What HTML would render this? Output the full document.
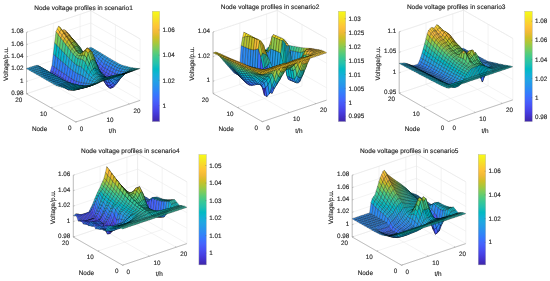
<!DOCTYPE html>
<html><head><meta charset="utf-8"><style>html,body{margin:0;padding:0;background:#fff;width:550px;height:281px;overflow:hidden}svg{display:block}text{text-rendering:geometricPrecision}</style></head>
<body><svg width="550" height="281" viewBox="0 0 550 281">
<rect width="550" height="281" fill="#fff"/>
<path d="M75.8,122L26.5,93.8M26.5,93.8L26.5,32.3M102.6,113L53.3,84.8M53.3,84.8L53.3,23.3M129.4,104L80.1,75.8M80.1,75.8L80.1,14.3M75.8,122L140.1,100.4M140.1,100.4L140.1,38.9M51.1,107.9L115.4,86.3M115.4,86.3L115.4,24.8M26.5,93.8L90.8,72.2M90.8,72.2L90.8,10.7M26.5,93.8L90.8,72.2M140.1,100.4L90.8,72.2M26.5,81.5L90.8,59.9M140.1,88.1L90.8,59.9M26.5,69.2L90.8,47.6M140.1,75.8L90.8,47.6M26.5,56.9L90.8,35.3M140.1,63.5L90.8,35.3M26.5,44.6L90.8,23M140.1,51.2L90.8,23M26.5,32.3L90.8,10.7M140.1,38.9L90.8,10.7M90.8,72.2L90.8,10.7M26.5,32.3L90.8,10.7M140.1,38.9L90.8,10.7" stroke="#e6e6e6" stroke-width="0.5" fill="none"/>
<path d="M75.8,122L140.1,100.4M75.8,122L26.5,93.8M26.5,93.8L26.5,32.3M75.8,122L74.8,121.4M102.6,113L101.6,112.4M129.4,104L128.4,103.4M75.8,122L77.1,121.6M51.1,107.9L52.4,107.5M26.5,93.8L27.8,93.4M26.5,93.8L27.8,93.4M26.5,81.5L27.8,81.1M26.5,69.2L27.8,68.8M26.5,56.9L27.8,56.5M26.5,44.6L27.8,44.2M26.5,32.3L27.8,31.9" stroke="#9a9a9a" stroke-width="0.6" fill="none"/>
<g stroke="#000" stroke-width="0.3" stroke-opacity="0.85" stroke-linejoin="round"><path d="M91.9,49.4L93.3,48.6L90.8,47.2L89.5,48Z" fill="#20a5e3"/><path d="M90.6,50.5L91.9,49.4L89.5,48L88.1,49.1Z" fill="#23a0e5"/><path d="M89.2,52L90.6,50.5L88.1,49.1L86.8,50.6Z" fill="#259be8"/><path d="M86.6,55.8L87.9,53.9L85.4,52.5L84.1,54.3Z" fill="#2e87f7"/><path d="M87.9,53.9L89.2,52L86.8,50.6L85.4,52.5Z" fill="#2b91ef"/><path d="M85.2,57.2L86.6,55.8L84.1,54.3L82.8,55.8Z" fill="#2f81fa"/><path d="M83.9,56.7L85.2,57.2L82.8,55.8L81.4,55.2Z" fill="#2e87f7"/><path d="M94.4,50.8L95.7,50.1L93.3,48.6L91.9,49.4Z" fill="#20a5e3"/><path d="M93.1,51.9L94.4,50.8L91.9,49.4L90.6,50.5Z" fill="#23a0e5"/><path d="M82.5,55.9L83.9,56.7L81.4,55.2L80.1,54.3Z" fill="#2b91ef"/><path d="M91.7,53.4L93.1,51.9L90.6,50.5L89.2,52Z" fill="#259be8"/><path d="M89,57.2L90.4,55.3L87.9,53.9L86.6,55.8Z" fill="#2e87f7"/><path d="M90.4,55.3L91.7,53.4L89.2,52L87.9,53.9Z" fill="#2b91ef"/><path d="M87.7,58.6L89,57.2L86.6,55.8L85.2,57.2Z" fill="#2f81fa"/><path d="M86.4,58.3L87.7,58.6L85.2,57.2L83.9,56.7Z" fill="#2e87f7"/><path d="M81.2,54.8L82.5,55.9L80.1,54.3L78.7,53Z" fill="#259be8"/><path d="M96.9,52.2L98.2,51.5L95.7,50.1L94.4,50.8Z" fill="#20a5e3"/><path d="M95.5,53.3L96.9,52.2L94.4,50.8L93.1,51.9Z" fill="#23a0e5"/><path d="M85,57.5L86.4,58.3L83.9,56.7L82.5,55.9Z" fill="#2d8cf3"/><path d="M94.2,54.8L95.5,53.3L93.1,51.9L91.7,53.4Z" fill="#259be8"/><path d="M91.5,58.6L92.8,56.7L90.4,55.3L89,57.2Z" fill="#2e87f7"/><path d="M92.8,56.7L94.2,54.8L91.7,53.4L90.4,55.3Z" fill="#2b91ef"/><path d="M90.2,60L91.5,58.6L89,57.2L87.7,58.6Z" fill="#2f81fa"/><path d="M88.8,59.8L90.2,60L87.7,58.6L86.4,58.3Z" fill="#2e87f7"/><path d="M79.9,53.4L81.2,54.8L78.7,53L77.4,51.6Z" fill="#20a5e3"/><path d="M83.7,56.5L85,57.5L82.5,55.9L81.2,54.8Z" fill="#2797eb"/><path d="M99.3,53.6L100.7,52.9L98.2,51.5L96.9,52.2Z" fill="#20a5e3"/><path d="M87.5,59.1L88.8,59.8L86.4,58.3L85,57.5Z" fill="#2d8cf3"/><path d="M98,54.7L99.3,53.6L96.9,52.2L95.5,53.3Z" fill="#23a0e5"/><path d="M96.6,56.2L98,54.7L95.5,53.3L94.2,54.8Z" fill="#259be8"/><path d="M94,60L95.3,58.1L92.8,56.7L91.5,58.6Z" fill="#2e87f7"/><path d="M95.3,58.1L96.6,56.2L94.2,54.8L92.8,56.7Z" fill="#2b91ef"/><path d="M92.6,61.5L94,60L91.5,58.6L90.2,60Z" fill="#2f81fa"/><path d="M78.5,51.7L79.9,53.4L77.4,51.6L76.1,49.8Z" fill="#18addb"/><path d="M82.3,55.2L83.7,56.5L81.2,54.8L79.9,53.4Z" fill="#23a0e5"/><path d="M91.3,61.3L92.6,61.5L90.2,60L88.8,59.8Z" fill="#2e87f7"/><path d="M86.1,58.2L87.5,59.1L85,57.5L83.7,56.5Z" fill="#2797eb"/><path d="M101.8,55.4L103.1,54.4L100.7,52.9L99.3,53.6Z" fill="#23a0e5"/><path d="M96.4,63.1L97.8,60.9L95.3,58.1L94,60Z" fill="#327cfc"/><path d="M95.1,64.8L96.4,63.1L94,60L92.6,61.5Z" fill="#3875fe"/><path d="M100.4,56.7L101.8,55.4L99.3,53.6L98,54.7Z" fill="#259be8"/><path d="M89.9,60.7L91.3,61.3L88.8,59.8L87.5,59.1Z" fill="#2d8cf3"/><path d="M97.8,60.9L99.1,58.6L96.6,56.2L95.3,58.1Z" fill="#2e87f7"/><path d="M99.1,58.6L100.4,56.7L98,54.7L96.6,56.2Z" fill="#2b91ef"/><path d="M81,53.6L82.3,55.2L79.9,53.4L78.5,51.7Z" fill="#18addb"/><path d="M93.7,64.8L95.1,64.8L92.6,61.5L91.3,61.3Z" fill="#3875fe"/><path d="M77.2,49.2L78.5,51.7L76.1,49.8L74.7,47.1Z" fill="#02bac3"/><path d="M84.8,57L86.1,58.2L83.7,56.5L82.3,55.2Z" fill="#23a0e5"/><path d="M97.6,68.1L98.9,66.3L96.4,63.1L95.1,64.8Z" fill="#4269fe"/><path d="M88.6,59.9L89.9,60.7L87.5,59.1L86.1,58.2Z" fill="#2b91ef"/><path d="M98.9,66.3L100.2,63.8L97.8,60.9L96.4,63.1Z" fill="#3e6fff"/><path d="M92.4,64.3L93.7,64.8L91.3,61.3L89.9,60.7Z" fill="#327cfc"/><path d="M104.3,57.1L105.6,56L103.1,54.4L101.8,55.4Z" fill="#23a0e5"/><path d="M100.2,63.8L101.6,61.1L99.1,58.6L97.8,60.9Z" fill="#2f81fa"/><path d="M96.2,68.2L97.6,68.1L95.1,64.8L93.7,64.8Z" fill="#4269fe"/><path d="M101.6,61.1L102.9,58.8L100.4,56.7L99.1,58.6Z" fill="#2d8cf3"/><path d="M102.9,58.8L104.3,57.1L101.8,55.4L100.4,56.7Z" fill="#2797eb"/><path d="M83.5,55.6L84.8,57L82.3,55.2L81,53.6Z" fill="#1ca9df"/><path d="M79.7,51.2L81,53.6L78.5,51.7L77.2,49.2Z" fill="#01b8ca"/><path d="M100,71.4L101.4,69.4L98.9,66.3L97.6,68.1Z" fill="#4758f8"/><path d="M94.9,68L96.2,68.2L93.7,64.8L92.4,64.3Z" fill="#3e6fff"/><path d="M101.4,69.4L102.7,66.6L100.2,63.8L98.9,66.3Z" fill="#4563fd"/><path d="M87.3,58.8L88.6,59.9L86.1,58.2L84.8,57Z" fill="#259be8"/><path d="M98.7,71.7L100,71.4L97.6,68.1L96.2,68.2Z" fill="#465efb"/><path d="M91.1,63.6L92.4,64.3L89.9,60.7L88.6,59.9Z" fill="#2e87f7"/><path d="M75.9,46.3L77.2,49.2L74.7,47.1L73.4,44.1Z" fill="#2cc4a7"/><path d="M102.7,66.6L104,63.5L101.6,61.1L100.2,63.8Z" fill="#3875fe"/><path d="M104,63.5L105.4,60.8L102.9,58.8L101.6,61.1Z" fill="#2e87f7"/><path d="M106.7,58.8L108.1,57.6L105.6,56L104.3,57.1Z" fill="#259be8"/><path d="M97.3,71.6L98.7,71.7L96.2,68.2L94.9,68Z" fill="#465efb"/><path d="M105.4,60.8L106.7,58.8L104.3,57.1L102.9,58.8Z" fill="#2797eb"/><path d="M93.5,67.4L94.9,68L92.4,64.3L91.1,63.6Z" fill="#3875fe"/><path d="M102.5,72.8L103.8,70.8L101.4,69.4L100,71.4Z" fill="#4758f8"/><path d="M89.7,62.7L91.1,63.6L88.6,59.9L87.3,58.8Z" fill="#2d8cf3"/><path d="M82.1,53.3L83.5,55.6L81,53.6L79.7,51.2Z" fill="#08b5d0"/><path d="M85.9,57.5L87.3,58.8L84.8,57L83.5,55.6Z" fill="#20a5e3"/><path d="M101.1,73.3L102.5,72.8L100,71.4L98.7,71.7Z" fill="#4758f8"/><path d="M103.8,70.8L105.2,68L102.7,66.6L101.4,69.4Z" fill="#4563fd"/><path d="M78.3,48.5L79.7,51.2L77.2,49.2L75.9,46.3Z" fill="#24c1ae"/><path d="M96,71.1L97.3,71.6L94.9,68L93.5,67.4Z" fill="#4563fd"/><path d="M105.2,68L106.5,64.9L104,63.5L102.7,66.6Z" fill="#3875fe"/><path d="M92.2,66.5L93.5,67.4L91.1,63.6L89.7,62.7Z" fill="#2f81fa"/><path d="M99.8,73.3L101.1,73.3L98.7,71.7L97.3,71.6Z" fill="#465efb"/><path d="M74.5,43.4L75.9,46.3L73.4,44.1L72,41.1Z" fill="#3fca8e"/><path d="M106.5,64.9L107.8,62.2L105.4,60.8L104,63.5Z" fill="#2e87f7"/><path d="M88.4,61.4L89.7,62.7L87.3,58.8L85.9,57.5Z" fill="#2797eb"/><path d="M109.2,60.3L110.5,59L108.1,57.6L106.7,58.8Z" fill="#259be8"/><path d="M107.8,62.2L109.2,60.3L106.7,58.8L105.4,60.8Z" fill="#2797eb"/><path d="M50.4,76.2L51.7,75.4L49.3,74L47.9,74.8Z" fill="#4852f4"/><path d="M51.7,75.4L53.1,72L50.6,70.4L49.3,74Z" fill="#4852f4"/><path d="M94.7,70.4L96,71.1L93.5,67.4L92.2,66.5Z" fill="#3e6fff"/><path d="M84.6,55.3L85.9,57.5L83.5,55.6L82.1,53.3Z" fill="#12b1d6"/><path d="M104.9,74.4L106.3,72.3L103.8,70.8L102.5,72.8Z" fill="#4758f8"/><path d="M98.5,73L99.8,73.3L97.3,71.6L96,71.1Z" fill="#4563fd"/><path d="M49.1,76.7L50.4,76.2L47.9,74.8L46.6,75.3Z" fill="#484df0"/><path d="M80.8,50.7L82.1,53.3L79.7,51.2L78.3,48.5Z" fill="#19bfb6"/><path d="M103.6,75.1L104.9,74.4L102.5,72.8L101.1,73.3Z" fill="#4758f8"/><path d="M106.3,72.3L107.6,69.5L105.2,68L103.8,70.8Z" fill="#4563fd"/><path d="M90.9,65.3L92.2,66.5L89.7,62.7L88.4,61.4Z" fill="#2e87f7"/><path d="M77,45.8L78.3,48.5L75.9,46.3L74.5,43.4Z" fill="#37c897"/><path d="M47.7,77.1L49.1,76.7L46.6,75.3L45.3,75.7Z" fill="#4852f4"/><path d="M107.6,69.5L109,66.3L106.5,64.9L105.2,68Z" fill="#3875fe"/><path d="M102.3,75.4L103.6,75.1L101.1,73.3L99.8,73.3Z" fill="#4758f8"/><path d="M53.1,72L54.4,67L52,65.3L50.6,70.4Z" fill="#4563fd"/><path d="M87,59.4L88.4,61.4L85.9,57.5L84.6,55.3Z" fill="#20a5e3"/><path d="M93.3,69.3L94.7,70.4L92.2,66.5L90.9,65.3Z" fill="#3875fe"/><path d="M97.1,72.3L98.5,73L96,71.1L94.7,70.4Z" fill="#4269fe"/><path d="M73.2,40.7L74.5,43.4L72,41.1L70.7,38.2Z" fill="#72cd64"/><path d="M109,66.3L110.3,63.6L107.8,62.2L106.5,64.9Z" fill="#2e87f7"/><path d="M46.4,77.2L47.7,77.1L45.3,75.7L43.9,75.8Z" fill="#4852f4"/><path d="M111.6,61.7L113,60.4L110.5,59L109.2,60.3Z" fill="#259be8"/><path d="M110.3,63.6L111.6,61.7L109.2,60.3L107.8,62.2Z" fill="#2797eb"/><path d="M52.9,77.6L54.2,76.8L51.7,75.4L50.4,76.2Z" fill="#4852f4"/><path d="M54.2,76.8L55.5,73.5L53.1,72L51.7,75.4Z" fill="#4852f4"/><path d="M100.9,75.2L102.3,75.4L99.8,73.3L98.5,73Z" fill="#465efb"/><path d="M83.2,52.9L84.6,55.3L82.1,53.3L80.8,50.7Z" fill="#0bbdbd"/><path d="M107.4,76.2L108.8,73.9L106.3,72.3L104.9,74.4Z" fill="#4758f8"/><path d="M89.5,63.5L90.9,65.3L88.4,61.4L87,59.4Z" fill="#2797eb"/><path d="M106.1,77.5L107.4,76.2L104.9,74.4L103.6,75.1Z" fill="#4852f4"/><path d="M51.5,78.1L52.9,77.6L50.4,76.2L49.1,76.7Z" fill="#484df0"/><path d="M108.8,73.9L110.1,70.9L107.6,69.5L106.3,72.3Z" fill="#4563fd"/><path d="M79.4,48.1L80.8,50.7L78.3,48.5L77,45.8Z" fill="#31c69f"/><path d="M95.8,71.3L97.1,72.3L94.7,70.4L93.3,69.3Z" fill="#3875fe"/><path d="M104.7,78.3L106.1,77.5L103.6,75.1L102.3,75.4Z" fill="#484df0"/><path d="M45,76.5L46.4,77.2L43.9,75.8L42.6,75.1Z" fill="#4758f8"/><path d="M92,67.5L93.3,69.3L90.9,65.3L89.5,63.5Z" fill="#2e87f7"/><path d="M50.2,78.5L51.5,78.1L49.1,76.7L47.7,77.1Z" fill="#4852f4"/><path d="M110.1,70.9L111.4,67.8L109,66.3L107.6,69.5Z" fill="#3875fe"/><path d="M99.6,74.6L100.9,75.2L98.5,73L97.1,72.3Z" fill="#4563fd"/><path d="M75.6,43.2L77,45.8L74.5,43.4L73.2,40.7Z" fill="#64cd6f"/><path d="M55.5,73.5L56.9,68.6L54.4,67L53.1,72Z" fill="#4563fd"/><path d="M85.7,57.1L87,59.4L84.6,55.3L83.2,52.9Z" fill="#12b1d6"/><path d="M103.4,78.5L104.7,78.3L102.3,75.4L100.9,75.2Z" fill="#4852f4"/><path d="M111.4,67.8L112.8,65L110.3,63.6L109,66.3Z" fill="#2e87f7"/><path d="M71.8,38.3L73.2,40.7L70.7,38.2L69.4,35.6Z" fill="#9dc943"/><path d="M48.8,78.7L50.2,78.5L47.7,77.1L46.4,77.2Z" fill="#4852f4"/><path d="M114.1,63.1L115.4,61.8L113,60.4L111.6,61.7Z" fill="#259be8"/><path d="M112.8,65L114.1,63.1L111.6,61.7L110.3,63.6Z" fill="#2797eb"/><path d="M55.3,79L56.7,78.2L54.2,76.8L52.9,77.6Z" fill="#4852f4"/><path d="M108.5,79.8L109.9,77.8L107.4,76.2L106.1,77.5Z" fill="#484df0"/><path d="M56.7,78.2L58,75.1L55.5,73.5L54.2,76.8Z" fill="#4852f4"/><path d="M88.2,61.3L89.5,63.5L87,59.4L85.7,57.1Z" fill="#20a5e3"/><path d="M109.9,77.8L111.2,75.1L108.8,73.9L107.4,76.2Z" fill="#4852f4"/><path d="M107.2,81.5L108.5,79.8L106.1,77.5L104.7,78.3Z" fill="#4741e5"/><path d="M81.9,50.5L83.2,52.9L80.8,50.7L79.4,48.1Z" fill="#2cc4a7"/><path d="M54.4,67L55.8,56.2L53.3,54.1L52,65.3Z" fill="#2e87f7"/><path d="M94.4,69.6L95.8,71.3L93.3,69.3L92,67.5Z" fill="#2f81fa"/><path d="M98.2,73.6L99.6,74.6L97.1,72.3L95.8,71.3Z" fill="#3e6fff"/><path d="M54,79.5L55.3,79L52.9,77.6L51.5,78.1Z" fill="#484df0"/><path d="M102.1,77.9L103.4,78.5L100.9,75.2L99.6,74.6Z" fill="#4758f8"/><path d="M43.7,73.7L45,76.5L42.6,75.1L41.2,72.3Z" fill="#3e6fff"/><path d="M111.2,75.1L112.6,72.1L110.1,70.9L108.8,73.9Z" fill="#4563fd"/><path d="M105.9,82.3L107.2,81.5L104.7,78.3L103.4,78.5Z" fill="#4741e5"/><path d="M78.1,45.7L79.4,48.1L77,45.8L75.6,43.2Z" fill="#57cc7a"/><path d="M90.6,65.5L92,67.5L89.5,63.5L88.2,61.3Z" fill="#2797eb"/><path d="M47.5,77.9L48.8,78.7L46.4,77.2L45,76.5Z" fill="#4758f8"/><path d="M58,75.1L59.3,70.3L56.9,68.6L55.5,73.5Z" fill="#4563fd"/><path d="M52.6,79.9L54,79.5L51.5,78.1L50.2,78.5Z" fill="#4852f4"/><path d="M112.6,72.1L113.9,69L111.4,67.8L110.1,70.9Z" fill="#3875fe"/><path d="M74.3,40.9L75.6,43.2L73.2,40.7L71.8,38.3Z" fill="#8fcb4e"/><path d="M84.4,54.8L85.7,57.1L83.2,52.9L81.9,50.5Z" fill="#0bbdbd"/><path d="M104.5,81.8L105.9,82.3L103.4,78.5L102.1,77.9Z" fill="#4747eb"/><path d="M109.7,84.9L111,82.3L108.5,79.8L107.2,81.5Z" fill="#4537d5"/><path d="M108.3,86.4L109.7,84.9L107.2,81.5L105.9,82.3Z" fill="#4332cb"/><path d="M70.5,36.4L71.8,38.3L69.4,35.6L68,33.6Z" fill="#c5c22a"/><path d="M111,82.3L112.3,79.5L109.9,77.8L108.5,79.8Z" fill="#4741e5"/><path d="M113.9,69L115.2,66.3L112.8,65L111.4,67.8Z" fill="#2e87f7"/><path d="M100.7,76.7L102.1,77.9L99.6,74.6L98.2,73.6Z" fill="#4563fd"/><path d="M51.3,80.1L52.6,79.9L50.2,78.5L48.8,78.7Z" fill="#4852f4"/><path d="M116.6,64.4L117.9,63.2L115.4,61.8L114.1,63.1Z" fill="#23a0e5"/><path d="M96.9,71.9L98.2,73.6L95.8,71.3L94.4,69.6Z" fill="#327cfc"/><path d="M57.8,80.4L59.1,79.6L56.7,78.2L55.3,79Z" fill="#4852f4"/><path d="M115.2,66.3L116.6,64.4L114.1,63.1L112.8,65Z" fill="#2797eb"/><path d="M93.1,67.7L94.4,69.6L92,67.5L90.6,65.5Z" fill="#2b91ef"/><path d="M86.8,59.1L88.2,61.3L85.7,57.1L84.4,54.8Z" fill="#12b1d6"/><path d="M56.9,68.6L58.2,58.2L55.8,56.2L54.4,67Z" fill="#2f81fa"/><path d="M59.1,79.6L60.5,76.6L58,75.1L56.7,78.2Z" fill="#4852f4"/><path d="M112.3,79.5L113.7,76.4L111.2,75.1L109.9,77.8Z" fill="#4852f4"/><path d="M80.6,48.2L81.9,50.5L79.4,48.1L78.1,45.7Z" fill="#3fca8e"/><path d="M107,86L108.3,86.4L105.9,82.3L104.5,81.8Z" fill="#4537d5"/><path d="M56.5,80.9L57.8,80.4L55.3,79L54,79.5Z" fill="#484df0"/><path d="M46.2,75.1L47.5,77.9L45,76.5L43.7,73.7Z" fill="#3e6fff"/><path d="M89.3,63.4L90.6,65.5L88.2,61.3L86.8,59.1Z" fill="#20a5e3"/><path d="M76.8,43.6L78.1,45.7L75.6,43.2L74.3,40.9Z" fill="#81cc59"/><path d="M113.7,76.4L115,73.3L112.6,72.1L111.2,75.1Z" fill="#4563fd"/><path d="M103.2,80.1L104.5,81.8L102.1,77.9L100.7,76.7Z" fill="#4852f4"/><path d="M50,79.3L51.3,80.1L48.8,78.7L47.5,77.9Z" fill="#4758f8"/><path d="M110.8,88.3L112.1,86.4L109.7,84.9L108.3,86.4Z" fill="#422ec0"/><path d="M60.5,76.6L61.8,72L59.3,70.3L58,75.1Z" fill="#4563fd"/><path d="M42.4,69.5L43.7,73.7L41.2,72.3L39.9,68.1Z" fill="#2b91ef"/><path d="M73,39.2L74.3,40.9L71.8,38.3L70.5,36.4Z" fill="#b9c431"/><path d="M55.1,81.3L56.5,80.9L54,79.5L52.6,79.9Z" fill="#4852f4"/><path d="M112.1,86.4L113.5,83.3L111,82.3L109.7,84.9Z" fill="#4537d5"/><path d="M83,52.7L84.4,54.8L81.9,50.5L80.6,48.2Z" fill="#2cc4a7"/><path d="M115,73.3L116.4,70.2L113.9,69L112.6,72.1Z" fill="#3875fe"/><path d="M99.4,74.7L100.7,76.7L98.2,73.6L96.9,71.9Z" fill="#3875fe"/><path d="M69.2,34.8L70.5,36.4L68,33.6L66.7,31.9Z" fill="#e6bb2d"/><path d="M109.4,87.9L110.8,88.3L108.3,86.4L107,86Z" fill="#4332cb"/><path d="M95.6,70L96.9,71.9L94.4,69.6L93.1,67.7Z" fill="#2d8cf3"/><path d="M105.6,83.8L107,86L104.5,81.8L103.2,80.1Z" fill="#4747eb"/><path d="M113.5,83.3L114.8,80.1L112.3,79.5L111,82.3Z" fill="#4747eb"/><path d="M91.8,65.7L93.1,67.7L90.6,65.5L89.3,63.4Z" fill="#23a0e5"/><path d="M116.4,70.2L117.7,67.6L115.2,66.3L113.9,69Z" fill="#2e87f7"/><path d="M59.3,70.3L60.7,60.3L58.2,58.2L56.9,68.6Z" fill="#2f81fa"/><path d="M53.8,81.5L55.1,81.3L52.6,79.9L51.3,80.1Z" fill="#4852f4"/><path d="M85.5,57.1L86.8,59.1L84.4,54.8L83,52.7Z" fill="#02bac3"/><path d="M119,65.8L120.4,64.6L117.9,63.2L116.6,64.4Z" fill="#23a0e5"/><path d="M60.3,81.8L61.6,81L59.1,79.6L57.8,80.4Z" fill="#4852f4"/><path d="M61.6,81L62.9,78.1L60.5,76.6L59.1,79.6Z" fill="#4852f4"/><path d="M117.7,67.6L119,65.8L116.6,64.4L115.2,66.3Z" fill="#2797eb"/><path d="M79.2,46.2L80.6,48.2L78.1,45.7L76.8,43.6Z" fill="#64cd6f"/><path d="M114.8,80.1L116.1,76.9L113.7,76.4L112.3,79.5Z" fill="#4758f8"/><path d="M75.4,42L76.8,43.6L74.3,40.9L73,39.2Z" fill="#9dc943"/><path d="M88,61.5L89.3,63.4L86.8,59.1L85.5,57.1Z" fill="#12b1d6"/><path d="M58.9,82.4L60.3,81.8L57.8,80.4L56.5,80.9Z" fill="#484df0"/><path d="M48.6,76.5L50,79.3L47.5,77.9L46.2,75.1Z" fill="#3e6fff"/><path d="M101.8,77.5L103.2,80.1L100.7,76.7L99.4,74.7Z" fill="#4269fe"/><path d="M55.8,56.2L57.1,45.3L54.6,42.7L53.3,54.1Z" fill="#02bac3"/><path d="M71.6,37.7L73,39.2L70.5,36.4L69.2,34.8Z" fill="#d1bf27"/><path d="M52.4,80.7L53.8,81.5L51.3,80.1L50,79.3Z" fill="#4758f8"/><path d="M62.9,78.1L64.3,73.6L61.8,72L60.5,76.6Z" fill="#4563fd"/><path d="M116.1,76.9L117.5,73.8L115,73.3L113.7,76.4Z" fill="#4269fe"/><path d="M108.1,85.6L109.4,87.9L107,86L105.6,83.8Z" fill="#4741e5"/><path d="M67.8,33.2L69.2,34.8L66.7,31.9L65.3,30.2Z" fill="#f8ba3d"/><path d="M44.8,70.9L46.2,75.1L43.7,73.7L42.4,69.5Z" fill="#2b91ef"/><path d="M81.7,50.8L83,52.7L80.6,48.2L79.2,46.2Z" fill="#37c897"/><path d="M98,72.5L99.4,74.7L96.9,71.9L95.6,70Z" fill="#2e87f7"/><path d="M57.6,82.8L58.9,82.4L56.5,80.9L55.1,81.3Z" fill="#4852f4"/><path d="M94.2,68L95.6,70L93.1,67.7L91.8,65.7Z" fill="#259be8"/><path d="M41,67.2L42.4,69.5L39.9,68.1L38.6,65.8Z" fill="#23a0e5"/><path d="M113.3,87.2L114.6,85.5L112.1,86.4L110.8,88.3Z" fill="#463cde"/><path d="M90.4,63.9L91.8,65.7L89.3,63.4L88,61.5Z" fill="#18addb"/><path d="M117.5,73.8L118.8,70.8L116.4,70.2L115,73.3Z" fill="#327cfc"/><path d="M61.8,72L63.2,62.4L60.7,60.3L59.3,70.3Z" fill="#2f81fa"/><path d="M84.2,55.3L85.5,57.1L83,52.7L81.7,50.8Z" fill="#24c1ae"/><path d="M104.3,80.5L105.6,83.8L103.2,80.1L101.8,77.5Z" fill="#465efb"/><path d="M114.6,85.5L115.9,82.8L113.5,83.3L112.1,86.4Z" fill="#4741e5"/><path d="M77.9,44.8L79.2,46.2L76.8,43.6L75.4,42Z" fill="#81cc59"/><path d="M56.2,82.9L57.6,82.8L55.1,81.3L53.8,81.5Z" fill="#4852f4"/><path d="M111.9,87L113.3,87.2L110.8,88.3L109.4,87.9Z" fill="#4741e5"/><path d="M62.7,83.2L64.1,82.4L61.6,81L60.3,81.8Z" fill="#4852f4"/><path d="M64.1,82.4L65.4,79.7L62.9,78.1L61.6,81Z" fill="#4852f4"/><path d="M74.1,40.6L75.4,42L73,39.2L71.6,37.7Z" fill="#b9c431"/><path d="M118.8,70.8L120.2,68.3L117.7,67.6L116.4,70.2Z" fill="#2d8cf3"/><path d="M121.5,66.5L122.8,65.4L120.4,64.6L119,65.8Z" fill="#23a0e5"/><path d="M58.2,58.2L59.6,47.9L57.1,45.3L55.8,56.2Z" fill="#01b8ca"/><path d="M120.2,68.3L121.5,66.5L119,65.8L117.7,67.6Z" fill="#259be8"/><path d="M86.6,59.8L88,61.5L85.5,57.1L84.2,55.3Z" fill="#01b8ca"/><path d="M115.9,82.8L117.3,79.9L114.8,80.1L113.5,83.3Z" fill="#4852f4"/><path d="M70.3,36.3L71.6,37.7L69.2,34.8L67.8,33.2Z" fill="#e6bb2d"/><path d="M66.5,32.6L67.8,33.2L65.3,30.2L64,29.5Z" fill="#febe3c"/><path d="M61.4,83.8L62.7,83.2L60.3,81.8L58.9,82.4Z" fill="#484df0"/><path d="M100.5,74.9L101.8,77.5L99.4,74.7L98,72.5Z" fill="#2f81fa"/><path d="M51.1,77.9L52.4,80.7L50,79.3L48.6,76.5Z" fill="#3e6fff"/><path d="M80.4,49.4L81.7,50.8L79.2,46.2L77.9,44.8Z" fill="#57cc7a"/><path d="M65.4,79.7L66.7,75.3L64.3,73.6L62.9,78.1Z" fill="#4563fd"/><path d="M54.9,82.2L56.2,82.9L53.8,81.5L52.4,80.7Z" fill="#4758f8"/><path d="M117.3,79.9L118.6,77L116.1,76.9L114.8,80.1Z" fill="#4563fd"/><path d="M96.7,70.4L98,72.5L95.6,70L94.2,68Z" fill="#2797eb"/><path d="M39.7,66.7L41,67.2L38.6,65.8L37.2,65.3Z" fill="#20a5e3"/><path d="M47.3,72.3L48.6,76.5L46.2,75.1L44.8,70.9Z" fill="#2b91ef"/><path d="M92.9,66.2L94.2,68L91.8,65.7L90.4,63.9Z" fill="#20a5e3"/><path d="M60,84.2L61.4,83.8L58.9,82.4L57.6,82.8Z" fill="#4852f4"/><path d="M106.8,82.1L108.1,85.6L105.6,83.8L104.3,80.5Z" fill="#465efb"/><path d="M89.1,62.3L90.4,63.9L88,61.5L86.6,59.8Z" fill="#08b5d0"/><path d="M82.8,53.9L84.2,55.3L81.7,50.8L80.4,49.4Z" fill="#31c69f"/><path d="M65.1,33.2L66.5,32.6L64,29.5L62.7,30.1Z" fill="#febe3c"/><path d="M76.5,43.5L77.9,44.8L75.4,42L74.1,40.6Z" fill="#9dc943"/><path d="M64.3,73.6L65.6,64.6L63.2,62.4L61.8,72Z" fill="#2f81fa"/><path d="M110.6,85.1L111.9,87L109.4,87.9L108.1,85.6Z" fill="#4852f4"/><path d="M43.5,68.6L44.8,70.9L42.4,69.5L41,67.2Z" fill="#23a0e5"/><path d="M118.6,77L120,74.1L117.5,73.8L116.1,76.9Z" fill="#3875fe"/><path d="M72.7,39.3L74.1,40.6L71.6,37.7L70.3,36.3Z" fill="#d1bf27"/><path d="M68.9,35.7L70.3,36.3L67.8,33.2L66.5,32.6Z" fill="#f0ba36"/><path d="M60.7,60.3L62,50.5L59.6,47.9L58.2,58.2Z" fill="#08b5d0"/><path d="M63.8,33.9L65.1,33.2L62.7,30.1L61.3,30.8Z" fill="#febe3c"/><path d="M85.3,58.4L86.6,59.8L84.2,55.3L82.8,53.9Z" fill="#0bbdbd"/><path d="M58.7,84.3L60,84.2L57.6,82.8L56.2,82.9Z" fill="#4852f4"/><path d="M38.3,66.9L39.7,66.7L37.2,65.3L35.9,65.5Z" fill="#20a5e3"/><path d="M66.5,83.9L67.9,81.2L65.4,79.7L64.1,82.4Z" fill="#4852f4"/><path d="M103,77.4L104.3,80.5L101.8,77.5L100.5,74.9Z" fill="#3875fe"/><path d="M65.2,84.7L66.5,83.9L64.1,82.4L62.7,83.2Z" fill="#4852f4"/><path d="M120,74.1L121.3,71.3L118.8,70.8L117.5,73.8Z" fill="#2e87f7"/><path d="M79,48.1L80.4,49.4L77.9,44.8L76.5,43.5Z" fill="#72cd64"/><path d="M124,67.3L125.3,66.1L122.8,65.4L121.5,66.5Z" fill="#20a5e3"/><path d="M121.3,71.3L122.6,69L120.2,68.3L118.8,70.8Z" fill="#2b91ef"/><path d="M67.6,36.3L68.9,35.7L66.5,32.6L65.1,33.2Z" fill="#f0ba36"/><path d="M99.2,72.5L100.5,74.9L98,72.5L96.7,70.4Z" fill="#2b91ef"/><path d="M63.8,85.2L65.2,84.7L62.7,83.2L61.4,83.8Z" fill="#484df0"/><path d="M122.6,69L124,67.3L121.5,66.5L120.2,68.3Z" fill="#23a0e5"/><path d="M53.6,79.3L54.9,82.2L52.4,80.7L51.1,77.9Z" fill="#3e6fff"/><path d="M37,67.3L38.3,66.9L35.9,65.5L34.5,65.9Z" fill="#20a5e3"/><path d="M95.4,68.4L96.7,70.4L94.2,68L92.9,66.2Z" fill="#20a5e3"/><path d="M67.9,81.2L69.2,77L66.7,75.3L65.4,79.7Z" fill="#4563fd"/><path d="M81.5,52.6L82.8,53.9L80.4,49.4L79,48.1Z" fill="#3fca8e"/><path d="M75.2,42.3L76.5,43.5L74.1,40.6L72.7,39.3Z" fill="#b9c431"/><path d="M91.6,64.5L92.9,66.2L90.4,63.9L89.1,62.3Z" fill="#12b1d6"/><path d="M87.7,60.9L89.1,62.3L86.6,59.8L85.3,58.4Z" fill="#02bac3"/><path d="M71.4,38.8L72.7,39.3L70.3,36.3L68.9,35.7Z" fill="#dcbd29"/><path d="M57.4,83.6L58.7,84.3L56.2,82.9L54.9,82.2Z" fill="#4758f8"/><path d="M57.1,45.3L58.4,34.8L56,31.6L54.6,42.7Z" fill="#81cc59"/><path d="M42.1,68.1L43.5,68.6L41,67.2L39.7,66.7Z" fill="#20a5e3"/><path d="M115.7,84.4L117.1,83.2L114.6,85.5L113.3,87.2Z" fill="#4758f8"/><path d="M66.3,37L67.6,36.3L65.1,33.2L63.8,33.9Z" fill="#f0ba36"/><path d="M117.1,83.2L118.4,81.2L115.9,82.8L114.6,85.5Z" fill="#465efb"/><path d="M49.8,73.8L51.1,77.9L48.6,76.5L47.3,72.3Z" fill="#2b91ef"/><path d="M66.7,75.3L68.1,66.7L65.6,64.6L64.3,73.6Z" fill="#327cfc"/><path d="M62.5,85.6L63.8,85.2L61.4,83.8L60,84.2Z" fill="#4852f4"/><path d="M35.7,67.7L37,67.3L34.5,65.9L33.2,66.3Z" fill="#20a5e3"/><path d="M83.9,57.1L85.3,58.4L82.8,53.9L81.5,52.6Z" fill="#24c1ae"/><path d="M63.2,62.4L64.5,53.1L62,50.5L60.7,60.3Z" fill="#08b5d0"/><path d="M118.4,81.2L119.7,79.1L117.3,79.9L115.9,82.8Z" fill="#4269fe"/><path d="M62.5,30.6L63.8,33.9L61.3,30.8L60,27.2Z" fill="#fad62d"/><path d="M46,70L47.3,72.3L44.8,70.9L43.5,68.6Z" fill="#23a0e5"/><path d="M109.2,82.3L110.6,85.1L108.1,85.6L106.8,82.1Z" fill="#4563fd"/><path d="M114.4,84.4L115.7,84.4L113.3,87.2L111.9,87Z" fill="#4758f8"/><path d="M105.4,78.9L106.8,82.1L104.3,80.5L103,77.4Z" fill="#3875fe"/><path d="M119.7,79.1L121.1,76.8L118.6,77L117.3,79.9Z" fill="#3875fe"/><path d="M70.1,39.4L71.4,38.8L68.9,35.7L67.6,36.3Z" fill="#dcbd29"/><path d="M77.7,46.8L79,48.1L76.5,43.5L75.2,42.3Z" fill="#8fcb4e"/><path d="M61.2,85.7L62.5,85.6L60,84.2L58.7,84.3Z" fill="#4852f4"/><path d="M40.8,68.3L42.1,68.1L39.7,66.7L38.3,66.9Z" fill="#20a5e3"/><path d="M34.3,68.2L35.7,67.7L33.2,66.3L31.9,66.8Z" fill="#20a5e3"/><path d="M69,85.3L70.3,82.8L67.9,81.2L66.5,83.9Z" fill="#4852f4"/><path d="M67.7,86.1L69,85.3L66.5,83.9L65.2,84.7Z" fill="#4852f4"/><path d="M101.6,74.8L103,77.4L100.5,74.9L99.2,72.5Z" fill="#2d8cf3"/><path d="M73.9,41.9L75.2,42.3L72.7,39.3L71.4,38.8Z" fill="#c5c22a"/><path d="M121.1,76.8L122.4,74.4L120,74.1L118.6,77Z" fill="#2f81fa"/><path d="M68.7,40.1L70.1,39.4L67.6,36.3L66.3,37Z" fill="#dcbd29"/><path d="M80.1,51.3L81.5,52.6L79,48.1L77.7,46.8Z" fill="#57cc7a"/><path d="M59.6,47.9L60.9,38L58.4,34.8L57.1,45.3Z" fill="#72cd64"/><path d="M86.4,59.5L87.7,60.9L85.3,58.4L83.9,57.1Z" fill="#19bfb6"/><path d="M97.8,70.4L99.2,72.5L96.7,70.4L95.4,68.4Z" fill="#23a0e5"/><path d="M90.2,62.8L91.6,64.5L89.1,62.3L87.7,60.9Z" fill="#02bac3"/><path d="M94,66.3L95.4,68.4L92.9,66.2L91.6,64.5Z" fill="#12b1d6"/><path d="M122.4,74.4L123.8,71.8L121.3,71.3L120,74.1Z" fill="#2d8cf3"/><path d="M64.9,33.9L66.3,37L63.8,33.9L62.5,30.6Z" fill="#fec934"/><path d="M66.3,86.6L67.7,86.1L65.2,84.7L63.8,85.2Z" fill="#484df0"/><path d="M33,68.6L34.3,68.2L31.9,66.8L30.5,67.2Z" fill="#20a5e3"/><path d="M56,80.7L57.4,83.6L54.9,82.2L53.6,79.3Z" fill="#3e6fff"/><path d="M39.5,68.7L40.8,68.3L38.3,66.9L37,67.3Z" fill="#20a5e3"/><path d="M70.3,82.8L71.7,78.6L69.2,77L67.9,81.2Z" fill="#465efb"/><path d="M126.4,67.9L127.8,66.8L125.3,66.1L124,67.3Z" fill="#1ca9df"/><path d="M113,83.3L114.4,84.4L111.9,87L110.6,85.1Z" fill="#4563fd"/><path d="M123.8,71.8L125.1,69.6L122.6,69L121.3,71.3Z" fill="#2797eb"/><path d="M82.6,55.7L83.9,57.1L81.5,52.6L80.1,51.3Z" fill="#37c897"/><path d="M59.8,85L61.2,85.7L58.7,84.3L57.4,83.6Z" fill="#4758f8"/><path d="M65.6,64.6L67,55.7L64.5,53.1L63.2,62.4Z" fill="#12b1d6"/><path d="M125.1,69.6L126.4,67.9L124,67.3L122.6,69Z" fill="#20a5e3"/><path d="M72.5,42.5L73.9,41.9L71.4,38.8L70.1,39.4Z" fill="#c5c22a"/><path d="M69.2,77L70.5,68.8L68.1,66.7L66.7,75.3Z" fill="#327cfc"/><path d="M76.3,46.3L77.7,46.8L75.2,42.3L73.9,41.9Z" fill="#9dc943"/><path d="M44.6,69.5L46,70L43.5,68.6L42.1,68.1Z" fill="#20a5e3"/><path d="M52.2,75.2L53.6,79.3L51.1,77.9L49.8,73.8Z" fill="#2b91ef"/><path d="M65,87L66.3,86.6L63.8,85.2L62.5,85.6Z" fill="#4852f4"/><path d="M31.6,69.1L33,68.6L30.5,67.2L29.2,67.7Z" fill="#20a5e3"/><path d="M38.1,69.2L39.5,68.7L37,67.3L35.7,67.7Z" fill="#20a5e3"/><path d="M61.1,29.5L62.5,30.6L60,27.2L58.6,26.1Z" fill="#f5e327"/><path d="M58.4,34.8L59.8,32L57.3,28.7L56,31.6Z" fill="#fec338"/><path d="M71.2,43.1L72.5,42.5L70.1,39.4L68.7,40.1Z" fill="#c5c22a"/><path d="M48.4,71.4L49.8,73.8L47.3,72.3L46,70Z" fill="#23a0e5"/><path d="M78.8,50.6L80.1,51.3L77.7,46.8L76.3,46.3Z" fill="#64cd6f"/><path d="M62,50.5L63.4,41.2L60.9,38L59.6,47.9Z" fill="#57cc7a"/><path d="M67.4,37.2L68.7,40.1L66.3,37L64.9,33.9Z" fill="#febe3c"/><path d="M107.9,79.7L109.2,82.3L106.8,82.1L105.4,78.9Z" fill="#327cfc"/><path d="M104.1,76.5L105.4,78.9L103,77.4L101.6,74.8Z" fill="#2d8cf3"/><path d="M59.8,32L61.1,29.5L58.6,26.1L57.3,28.7Z" fill="#fad62d"/><path d="M30.3,69.5L31.6,69.1L29.2,67.7L27.8,68.1Z" fill="#20a5e3"/><path d="M75,46.6L76.3,46.3L73.9,41.9L72.5,42.5Z" fill="#9dc943"/><path d="M63.6,87.1L65,87L62.5,85.6L61.2,85.7Z" fill="#4852f4"/><path d="M85.1,57.9L86.4,59.5L83.9,57.1L82.6,55.7Z" fill="#31c69f"/><path d="M43.3,69.7L44.6,69.5L42.1,68.1L40.8,68.3Z" fill="#20a5e3"/><path d="M71.5,86.7L72.8,84.2L70.3,82.8L69,85.3Z" fill="#4852f4"/><path d="M36.8,69.6L38.1,69.2L35.7,67.7L34.3,68.2Z" fill="#20a5e3"/><path d="M70.1,87.5L71.5,86.7L69,85.3L67.7,86.1Z" fill="#4852f4"/><path d="M100.3,72.8L101.6,74.8L99.2,72.5L97.8,70.4Z" fill="#259be8"/><path d="M88.9,60.9L90.2,62.8L87.7,60.9L86.4,59.5Z" fill="#19bfb6"/><path d="M81.3,54.7L82.6,55.7L80.1,51.3L78.8,50.6Z" fill="#3fca8e"/><path d="M96.5,68.2L97.8,70.4L95.4,68.4L94,66.3Z" fill="#18addb"/><path d="M92.7,64.1L94,66.3L91.6,64.5L90.2,62.8Z" fill="#02bac3"/><path d="M63.6,33L64.9,33.9L62.5,30.6L61.1,29.5Z" fill="#fad62d"/><path d="M68.1,66.7L69.4,58.4L67,55.7L65.6,64.6Z" fill="#18addb"/><path d="M73.7,47L75,46.6L72.5,42.5L71.2,43.1Z" fill="#9dc943"/><path d="M29,70L30.3,69.5L27.8,68.1L26.5,68.6Z" fill="#20a5e3"/><path d="M60.9,38L62.2,35.3L59.8,32L58.4,34.8Z" fill="#f8ba3d"/><path d="M111.7,81.6L113,83.3L110.6,85.1L109.2,82.3Z" fill="#3875fe"/><path d="M68.8,88L70.1,87.5L67.7,86.1L66.3,86.6Z" fill="#484df0"/><path d="M77.5,50.6L78.8,50.6L76.3,46.3L75,46.6Z" fill="#72cd64"/><path d="M35.4,70.1L36.8,69.6L34.3,68.2L33,68.6Z" fill="#20a5e3"/><path d="M58.5,82.2L59.8,85L57.4,83.6L56,80.7Z" fill="#3e6fff"/><path d="M41.9,70.1L43.3,69.7L40.8,68.3L39.5,68.7Z" fill="#20a5e3"/><path d="M72.8,84.2L74.1,80.1L71.7,78.6L70.3,82.8Z" fill="#465efb"/><path d="M71.7,78.6L73,70.7L70.5,68.8L69.2,77Z" fill="#327cfc"/><path d="M69.8,40.6L71.2,43.1L68.7,40.1L67.4,37.2Z" fill="#e6bb2d"/><path d="M62.2,35.3L63.6,33L61.1,29.5L59.8,32Z" fill="#fec338"/><path d="M62.3,86.4L63.6,87.1L61.2,85.7L59.8,85Z" fill="#4758f8"/><path d="M64.5,53.1L65.8,44.3L63.4,41.2L62,50.5Z" fill="#4acb84"/><path d="M120.9,77.9L122.2,76.5L119.7,79.1L118.4,81.2Z" fill="#2e87f7"/><path d="M47.1,70.9L48.4,71.4L46,70L44.6,69.5Z" fill="#20a5e3"/><path d="M122.2,76.5L123.5,75L121.1,76.8L119.7,79.1Z" fill="#2d8cf3"/><path d="M119.5,79L120.9,77.9L118.4,81.2L117.1,83.2Z" fill="#2f81fa"/><path d="M54.7,76.6L56,80.7L53.6,79.3L52.2,75.2Z" fill="#2b91ef"/><path d="M123.5,75L124.9,73.2L122.4,74.4L121.1,76.8Z" fill="#2797eb"/><path d="M128.9,68.3L130.2,67.4L127.8,66.8L126.4,67.9Z" fill="#18addb"/><path d="M67.4,88.4L68.8,88L66.3,86.6L65,87Z" fill="#4852f4"/><path d="M34.1,70.5L35.4,70.1L33,68.6L31.6,69.1Z" fill="#20a5e3"/><path d="M79.9,54.5L81.3,54.7L78.8,50.6L77.5,50.6Z" fill="#4acb84"/><path d="M40.6,70.6L41.9,70.1L39.5,68.7L38.1,69.2Z" fill="#20a5e3"/><path d="M76.1,50.7L77.5,50.6L75,46.6L73.7,47Z" fill="#72cd64"/><path d="M124.9,73.2L126.2,71.3L123.8,71.8L122.4,74.4Z" fill="#259be8"/><path d="M118.2,79.8L119.5,79L117.1,83.2L115.7,84.4Z" fill="#2f81fa"/><path d="M83.7,56.8L85.1,57.9L82.6,55.7L81.3,54.7Z" fill="#37c897"/><path d="M127.6,69.6L128.9,68.3L126.4,67.9L125.1,69.6Z" fill="#1ca9df"/><path d="M66,36.4L67.4,37.2L64.9,33.9L63.6,33Z" fill="#fec338"/><path d="M126.2,71.3L127.6,69.6L125.1,69.6L123.8,71.8Z" fill="#20a5e3"/><path d="M50.9,72.8L52.2,75.2L49.8,73.8L48.4,71.4Z" fill="#23a0e5"/><path d="M63.4,41.2L64.7,38.6L62.2,35.3L60.9,38Z" fill="#e6bb2d"/><path d="M102.8,74.7L104.1,76.5L101.6,74.8L100.3,72.8Z" fill="#2797eb"/><path d="M87.5,58.8L88.9,60.9L86.4,59.5L85.1,57.9Z" fill="#31c69f"/><path d="M72.3,44.4L73.7,47L71.2,43.1L69.8,40.6Z" fill="#d1bf27"/><path d="M32.8,71L34.1,70.5L31.6,69.1L30.3,69.5Z" fill="#20a5e3"/><path d="M106.6,77.8L107.9,79.7L105.4,78.9L104.1,76.5Z" fill="#2d8cf3"/><path d="M98.9,70.6L100.3,72.8L97.8,70.4L96.5,68.2Z" fill="#1ca9df"/><path d="M66.1,88.5L67.4,88.4L65,87L63.6,87.1Z" fill="#4852f4"/><path d="M116.8,80L118.2,79.8L115.7,84.4L114.4,84.4Z" fill="#2f81fa"/><path d="M45.7,71.2L47.1,70.9L44.6,69.5L43.3,69.7Z" fill="#20a5e3"/><path d="M39.3,71L40.6,70.6L38.1,69.2L36.8,69.6Z" fill="#20a5e3"/><path d="M73.9,88L75.3,85.6L72.8,84.2L71.5,86.7Z" fill="#4852f4"/><path d="M64.7,38.6L66,36.4L63.6,33L62.2,35.3Z" fill="#f8ba3d"/><path d="M70.5,68.8L71.9,61L69.4,58.4L68.1,66.7Z" fill="#1ca9df"/><path d="M72.6,88.9L73.9,88L71.5,86.7L70.1,87.5Z" fill="#4852f4"/><path d="M91.3,61.2L92.7,64.1L90.2,62.8L88.9,60.9Z" fill="#2cc4a7"/><path d="M78.6,54.3L79.9,54.5L77.5,50.6L76.1,50.7Z" fill="#57cc7a"/><path d="M67,55.7L68.3,47.6L65.8,44.3L64.5,53.1Z" fill="#37c897"/><path d="M95.1,65.4L96.5,68.2L94,66.3L92.7,64.1Z" fill="#02bac3"/><path d="M110.4,80L111.7,81.6L109.2,82.3L107.9,79.7Z" fill="#2f81fa"/><path d="M31.4,71.4L32.8,71L30.3,69.5L29,70Z" fill="#20a5e3"/><path d="M68.5,39.8L69.8,40.6L67.4,37.2L66,36.4Z" fill="#f8ba3d"/><path d="M82.4,56.3L83.7,56.8L81.3,54.7L79.9,54.5Z" fill="#4acb84"/><path d="M71.2,89.4L72.6,88.9L70.1,87.5L68.8,88Z" fill="#484df0"/><path d="M37.9,71.5L39.3,71L36.8,69.6L35.4,70.1Z" fill="#20a5e3"/><path d="M61,83.6L62.3,86.4L59.8,85L58.5,82.2Z" fill="#3e6fff"/><path d="M74.1,80.1L75.5,72.4L73,70.7L71.7,78.6Z" fill="#327cfc"/><path d="M44.4,71.5L45.7,71.2L43.3,69.7L41.9,70.1Z" fill="#20a5e3"/><path d="M75.3,85.6L76.6,81.4L74.1,80.1L72.8,84.2Z" fill="#465efb"/><path d="M74.8,48.2L76.1,50.7L73.7,47L72.3,44.4Z" fill="#abc739"/><path d="M65.8,44.3L67.2,41.9L64.7,38.6L63.4,41.2Z" fill="#d1bf27"/><path d="M64.8,87.8L66.1,88.5L63.6,87.1L62.3,86.4Z" fill="#4758f8"/><path d="M115.5,79.7L116.8,80L114.4,84.4L113,83.3Z" fill="#2e87f7"/><path d="M49.5,72.4L50.9,72.8L48.4,71.4L47.1,70.9Z" fill="#20a5e3"/><path d="M67.2,41.9L68.5,39.8L66,36.4L64.7,38.6Z" fill="#e6bb2d"/><path d="M57.2,78L58.5,82.2L56,80.7L54.7,76.6Z" fill="#2b91ef"/><path d="M69.9,89.8L71.2,89.4L68.8,88L67.4,88.4Z" fill="#4852f4"/><path d="M36.6,71.9L37.9,71.5L35.4,70.1L34.1,70.5Z" fill="#20a5e3"/><path d="M43.1,72L44.4,71.5L41.9,70.1L40.6,70.6Z" fill="#20a5e3"/><path d="M86.2,56.9L87.5,58.8L85.1,57.9L83.7,56.8Z" fill="#4acb84"/><path d="M69.4,58.4L70.8,50.9L68.3,47.6L67,55.7Z" fill="#31c69f"/><path d="M101.4,73.1L102.8,74.7L100.3,72.8L98.9,70.6Z" fill="#20a5e3"/><path d="M71,43.6L72.3,44.4L69.8,40.6L68.5,39.8Z" fill="#dcbd29"/><path d="M53.3,74.2L54.7,76.6L52.2,75.2L50.9,72.8Z" fill="#23a0e5"/><path d="M81,56L82.4,56.3L79.9,54.5L78.6,54.3Z" fill="#4acb84"/><path d="M105.2,76.5L106.6,77.8L104.1,76.5L102.8,74.7Z" fill="#2797eb"/><path d="M73,70.7L74.4,63.3L71.9,61L70.5,68.8Z" fill="#20a5e3"/><path d="M131.4,68.5L132.7,67.8L130.2,67.4L128.9,68.3Z" fill="#08b5d0"/><path d="M77.2,51.8L78.6,54.3L76.1,50.7L74.8,48.2Z" fill="#81cc59"/><path d="M35.2,72.4L36.6,71.9L34.1,70.5L32.8,71Z" fill="#20a5e3"/><path d="M68.3,47.6L69.6,45.4L67.2,41.9L65.8,44.3Z" fill="#abc739"/><path d="M97.6,68L98.9,70.6L96.5,68.2L95.1,65.4Z" fill="#08b5d0"/><path d="M68.6,89.9L69.9,89.8L67.4,88.4L66.1,88.5Z" fill="#4852f4"/><path d="M48.2,72.6L49.5,72.4L47.1,70.9L45.7,71.2Z" fill="#20a5e3"/><path d="M41.7,72.4L43.1,72L40.6,70.6L39.3,71Z" fill="#20a5e3"/><path d="M130,69.5L131.4,68.5L128.9,68.3L127.6,69.6Z" fill="#12b1d6"/><path d="M69.6,45.4L71,43.6L68.5,39.8L67.2,41.9Z" fill="#c5c22a"/><path d="M109,78.9L110.4,80L107.9,79.7L106.6,77.8Z" fill="#2d8cf3"/><path d="M90,57.9L91.3,61.2L88.9,60.9L87.5,58.8Z" fill="#4acb84"/><path d="M114.2,79L115.5,79.7L113,83.3L111.7,81.6Z" fill="#2b91ef"/><path d="M76.4,88.1L77.7,85.8L75.3,85.6L73.9,88Z" fill="#465efb"/><path d="M128.7,70.6L130,69.5L127.6,69.6L126.2,71.3Z" fill="#18addb"/><path d="M75,88.9L76.4,88.1L73.9,88L72.6,88.9Z" fill="#4758f8"/><path d="M73.4,47.3L74.8,48.2L72.3,44.4L71,43.6Z" fill="#b9c431"/><path d="M127.3,72L128.7,70.6L126.2,71.3L124.9,73.2Z" fill="#1ca9df"/><path d="M93.8,61.8L95.1,65.4L92.7,64.1L91.3,61.2Z" fill="#31c69f"/><path d="M33.9,72.8L35.2,72.4L32.8,71L31.4,71.4Z" fill="#20a5e3"/><path d="M126,73.2L127.3,72L124.9,73.2L123.5,75Z" fill="#20a5e3"/><path d="M40.4,72.9L41.7,72.4L39.3,71L37.9,71.5Z" fill="#20a5e3"/><path d="M63.4,85L64.8,87.8L62.3,86.4L61,83.6Z" fill="#3e6fff"/><path d="M76.6,81.4L77.9,73.7L75.5,72.4L74.1,80.1Z" fill="#327cfc"/><path d="M46.9,73L48.2,72.6L45.7,71.2L44.4,71.5Z" fill="#20a5e3"/><path d="M124.7,74.2L126,73.2L123.5,75L122.2,76.5Z" fill="#20a5e3"/><path d="M71.9,61L73.2,54.1L70.8,50.9L69.4,58.4Z" fill="#2cc4a7"/><path d="M84.9,55.8L86.2,56.9L83.7,56.8L82.4,56.3Z" fill="#64cd6f"/><path d="M73.7,89.5L75,88.9L72.6,88.9L71.2,89.4Z" fill="#4758f8"/><path d="M67.2,89.2L68.6,89.9L66.1,88.5L64.8,87.8Z" fill="#4758f8"/><path d="M77.7,85.8L79.1,81.8L76.6,81.4L75.3,85.6Z" fill="#4269fe"/><path d="M70.8,50.9L72.1,48.9L69.6,45.4L68.3,47.6Z" fill="#8fcb4e"/><path d="M123.3,75.1L124.7,74.2L122.2,76.5L120.9,77.9Z" fill="#23a0e5"/><path d="M79.7,53.9L81,56L78.6,54.3L77.2,51.8Z" fill="#72cd64"/><path d="M72.1,48.9L73.4,47.3L71,43.6L69.6,45.4Z" fill="#abc739"/><path d="M52,73.8L53.3,74.2L50.9,72.8L49.5,72.4Z" fill="#20a5e3"/><path d="M103.9,75.6L105.2,76.5L102.8,74.7L101.4,73.1Z" fill="#259be8"/><path d="M59.6,79.4L61,83.6L58.5,82.2L57.2,78Z" fill="#2b91ef"/><path d="M39,73.3L40.4,72.9L37.9,71.5L36.6,71.9Z" fill="#20a5e3"/><path d="M100.1,71.3L101.4,73.1L98.9,70.6L97.6,68Z" fill="#18addb"/><path d="M75.9,50.9L77.2,51.8L74.8,48.2L73.4,47.3Z" fill="#9dc943"/><path d="M45.5,73.4L46.9,73L44.4,71.5L43.1,72Z" fill="#20a5e3"/><path d="M122,75.9L123.3,75.1L120.9,77.9L119.5,79Z" fill="#23a0e5"/><path d="M75.5,72.4L76.8,65L74.4,63.3L73,70.7Z" fill="#20a5e3"/><path d="M55.8,75.7L57.2,78L54.7,76.6L53.3,74.2Z" fill="#23a0e5"/><path d="M72.4,89.9L73.7,89.5L71.2,89.4L69.9,89.8Z" fill="#4758f8"/><path d="M107.7,78.1L109,78.9L106.6,77.8L105.2,76.5Z" fill="#2b91ef"/><path d="M112.8,78.3L114.2,79L111.7,81.6L110.4,80Z" fill="#2797eb"/><path d="M120.6,76.4L122,75.9L119.5,79L118.2,79.8Z" fill="#23a0e5"/><path d="M37.7,73.8L39,73.3L36.6,71.9L35.2,72.4Z" fill="#20a5e3"/><path d="M83.5,55.3L84.9,55.8L82.4,56.3L81,56Z" fill="#72cd64"/><path d="M50.7,74L52,73.8L49.5,72.4L48.2,72.6Z" fill="#20a5e3"/><path d="M44.2,73.8L45.5,73.4L43.1,72L41.7,72.4Z" fill="#20a5e3"/><path d="M74.6,52.3L75.9,50.9L73.4,47.3L72.1,48.9Z" fill="#8fcb4e"/><path d="M73.2,54.1L74.6,52.3L72.1,48.9L70.8,50.9Z" fill="#72cd64"/><path d="M133.8,68.7L135.2,68.2L132.7,67.8L131.4,68.5Z" fill="#01b8ca"/><path d="M74.4,63.3L75.7,56.8L73.2,54.1L71.9,61Z" fill="#24c1ae"/><path d="M71,90L72.4,89.9L69.9,89.8L68.6,89.9Z" fill="#4758f8"/><path d="M96.3,64.5L97.6,68L95.1,65.4L93.8,61.8Z" fill="#24c1ae"/><path d="M88.7,54.6L90,57.9L87.5,58.8L86.2,56.9Z" fill="#81cc59"/><path d="M119.3,76.8L120.6,76.4L118.2,79.8L116.8,80Z" fill="#23a0e5"/><path d="M36.4,74.2L37.7,73.8L35.2,72.4L33.9,72.8Z" fill="#20a5e3"/><path d="M78.4,53.3L79.7,53.9L77.2,51.8L75.9,50.9Z" fill="#8fcb4e"/><path d="M42.8,74.3L44.2,73.8L41.7,72.4L40.4,72.9Z" fill="#20a5e3"/><path d="M102.5,74.6L103.9,75.6L101.4,73.1L100.1,71.3Z" fill="#20a5e3"/><path d="M65.9,86.4L67.2,89.2L64.8,87.8L63.4,85Z" fill="#3e6fff"/><path d="M49.3,74.4L50.7,74L48.2,72.6L46.9,73Z" fill="#20a5e3"/><path d="M132.5,69.3L133.8,68.7L131.4,68.5L130,69.5Z" fill="#01b8ca"/><path d="M79.1,81.8L80.4,74.6L77.9,73.7L76.6,81.4Z" fill="#2f81fa"/><path d="M78.9,88.2L80.2,86.2L77.7,85.8L76.4,88.1Z" fill="#4563fd"/><path d="M106.3,77.6L107.7,78.1L105.2,76.5L103.9,75.6Z" fill="#259be8"/><path d="M111.5,77.8L112.8,78.3L110.4,80L109,78.9Z" fill="#259be8"/><path d="M92.5,57.3L93.8,61.8L91.3,61.2L90,57.9Z" fill="#64cd6f"/><path d="M77.5,89L78.9,88.2L76.4,88.1L75,88.9Z" fill="#4563fd"/><path d="M54.5,75.2L55.8,75.7L53.3,74.2L52,73.8Z" fill="#20a5e3"/><path d="M62.1,80.8L63.4,85L61,83.6L59.6,79.4Z" fill="#2b91ef"/><path d="M131.2,70L132.5,69.3L130,69.5L128.7,70.6Z" fill="#01b8ca"/><path d="M69.7,89.4L71,90L68.6,89.9L67.2,89.2Z" fill="#4563fd"/><path d="M41.5,74.7L42.8,74.3L40.4,72.9L39,73.3Z" fill="#20a5e3"/><path d="M118,76.9L119.3,76.8L116.8,80L115.5,79.7Z" fill="#23a0e5"/><path d="M77,54.8L78.4,53.3L75.9,50.9L74.6,52.3Z" fill="#72cd64"/><path d="M48,74.8L49.3,74.4L46.9,73L45.5,73.4Z" fill="#20a5e3"/><path d="M82.2,53.6L83.5,55.3L81,56L79.7,53.9Z" fill="#8fcb4e"/><path d="M75.7,56.8L77,54.8L74.6,52.3L73.2,54.1Z" fill="#64cd6f"/><path d="M77.9,73.7L79.3,66.1L76.8,65L75.5,72.4Z" fill="#20a5e3"/><path d="M98.7,68.9L100.1,71.3L97.6,68L96.3,64.5Z" fill="#02bac3"/><path d="M80.2,86.2L81.5,82.6L79.1,81.8L77.7,85.8Z" fill="#3e6fff"/><path d="M58.3,77.1L59.6,79.4L57.2,78L55.8,75.7Z" fill="#23a0e5"/><path d="M76.2,89.5L77.5,89L75,88.9L73.7,89.5Z" fill="#4563fd"/><path d="M129.8,70.7L131.2,70L128.7,70.6L127.3,72Z" fill="#08b5d0"/><path d="M76.8,65L78.2,58.5L75.7,56.8L74.4,63.3Z" fill="#19bfb6"/><path d="M40.2,75.2L41.5,74.7L39,73.3L37.7,73.8Z" fill="#20a5e3"/><path d="M128.5,71.5L129.8,70.7L127.3,72L126,73.2Z" fill="#08b5d0"/><path d="M53.1,75.4L54.5,75.2L52,73.8L50.7,74Z" fill="#20a5e3"/><path d="M46.6,75.2L48,74.8L45.5,73.4L44.2,73.8Z" fill="#20a5e3"/><path d="M105,77.2L106.3,77.6L103.9,75.6L102.5,74.6Z" fill="#23a0e5"/><path d="M110.1,77.6L111.5,77.8L109,78.9L107.7,78.1Z" fill="#23a0e5"/><path d="M74.8,89.9L76.2,89.5L73.7,89.5L72.4,89.9Z" fill="#4563fd"/><path d="M87.3,52.5L88.7,54.6L86.2,56.9L84.9,55.8Z" fill="#abc739"/><path d="M101.2,73.4L102.5,74.6L100.1,71.3L98.7,68.9Z" fill="#18addb"/><path d="M116.6,76.8L118,76.9L115.5,79.7L114.2,79Z" fill="#20a5e3"/><path d="M127.1,72.1L128.5,71.5L126,73.2L124.7,74.2Z" fill="#08b5d0"/><path d="M38.8,75.6L40.2,75.2L37.7,73.8L36.4,74.2Z" fill="#20a5e3"/><path d="M45.3,75.7L46.6,75.2L44.2,73.8L42.8,74.3Z" fill="#20a5e3"/><path d="M51.8,75.8L53.1,75.4L50.7,74L49.3,74.4Z" fill="#20a5e3"/><path d="M136.3,69.1L137.6,68.6L135.2,68.2L133.8,68.7Z" fill="#02bac3"/><path d="M80.8,53.7L82.2,53.6L79.7,53.9L78.4,53.3Z" fill="#9dc943"/><path d="M125.8,72.7L127.1,72.1L124.7,74.2L123.3,75.1Z" fill="#12b1d6"/><path d="M68.4,86.9L69.7,89.4L67.2,89.2L65.9,86.4Z" fill="#3875fe"/><path d="M73.5,90.1L74.8,89.9L72.4,89.9L71,90Z" fill="#4563fd"/><path d="M94.9,60.1L96.3,64.5L93.8,61.8L92.5,57.3Z" fill="#57cc7a"/><path d="M56.9,76.6L58.3,77.1L55.8,75.7L54.5,75.2Z" fill="#20a5e3"/><path d="M78.2,58.5L79.5,55.9L77,54.8L75.7,56.8Z" fill="#57cc7a"/><path d="M81.5,82.6L82.9,76.1L80.4,74.6L79.1,81.8Z" fill="#2e87f7"/><path d="M64.5,82.2L65.9,86.4L63.4,85L62.1,80.8Z" fill="#2b91ef"/><path d="M108.8,77.4L110.1,77.6L107.7,78.1L106.3,77.6Z" fill="#23a0e5"/><path d="M79.5,55.9L80.8,53.7L78.4,53.3L77,54.8Z" fill="#81cc59"/><path d="M44,76.1L45.3,75.7L42.8,74.3L41.5,74.7Z" fill="#20a5e3"/><path d="M103.7,76.7L105,77.2L102.5,74.6L101.2,73.4Z" fill="#20a5e3"/><path d="M135,69.6L136.3,69.1L133.8,68.7L132.5,69.3Z" fill="#02bac3"/><path d="M115.3,76.7L116.6,76.8L114.2,79L112.8,78.3Z" fill="#20a5e3"/><path d="M50.5,76.2L51.8,75.8L49.3,74.4L48,74.8Z" fill="#20a5e3"/><path d="M124.5,73.3L125.8,72.7L123.3,75.1L122,75.9Z" fill="#12b1d6"/><path d="M60.7,78.5L62.1,80.8L59.6,79.4L58.3,77.1Z" fill="#23a0e5"/><path d="M80.4,74.6L81.7,67.1L79.3,66.1L77.9,73.7Z" fill="#1ca9df"/><path d="M81.3,87.7L82.7,86L80.2,86.2L78.9,88.2Z" fill="#3e6fff"/><path d="M86,51.5L87.3,52.5L84.9,55.8L83.5,55.3Z" fill="#c5c22a"/><path d="M91.1,52.8L92.5,57.3L90,57.9L88.7,54.6Z" fill="#b9c431"/><path d="M80,88.5L81.3,87.7L78.9,88.2L77.5,89Z" fill="#3e6fff"/><path d="M72.2,89.6L73.5,90.1L71,90L69.7,89.4Z" fill="#4269fe"/><path d="M97.4,65.9L98.7,68.9L96.3,64.5L94.9,60.1Z" fill="#2cc4a7"/><path d="M133.6,70.2L135,69.6L132.5,69.3L131.2,70Z" fill="#02bac3"/><path d="M42.6,76.6L44,76.1L41.5,74.7L40.2,75.2Z" fill="#20a5e3"/><path d="M123.1,73.7L124.5,73.3L122,75.9L120.6,76.4Z" fill="#12b1d6"/><path d="M79.3,66.1L80.6,59L78.2,58.5L76.8,65Z" fill="#24c1ae"/><path d="M82.7,86L84,82.9L81.5,82.6L80.2,86.2Z" fill="#327cfc"/><path d="M55.6,76.8L56.9,76.6L54.5,75.2L53.1,75.4Z" fill="#20a5e3"/><path d="M49.1,76.7L50.5,76.2L48,74.8L46.6,75.2Z" fill="#20a5e3"/><path d="M99.9,71.9L101.2,73.4L98.7,68.9L97.4,65.9Z" fill="#08b5d0"/><path d="M107.5,77.4L108.8,77.4L106.3,77.6L105,77.2Z" fill="#20a5e3"/><path d="M114,76.7L115.3,76.7L112.8,78.3L111.5,77.8Z" fill="#1ca9df"/><path d="M78.6,89L80,88.5L77.5,89L76.2,89.5Z" fill="#3e6fff"/><path d="M132.3,70.8L133.6,70.2L131.2,70L129.8,70.7Z" fill="#02bac3"/><path d="M41.3,77L42.6,76.6L40.2,75.2L38.8,75.6Z" fill="#20a5e3"/><path d="M121.8,74.1L123.1,73.7L120.6,76.4L119.3,76.8Z" fill="#12b1d6"/><path d="M102.3,76.1L103.7,76.7L101.2,73.4L99.9,71.9Z" fill="#1ca9df"/><path d="M47.8,77.1L49.1,76.7L46.6,75.2L45.3,75.7Z" fill="#20a5e3"/><path d="M54.3,77.2L55.6,76.8L53.1,75.4L51.8,75.8Z" fill="#20a5e3"/><path d="M130.9,71.4L132.3,70.8L129.8,70.7L128.5,71.5Z" fill="#02bac3"/><path d="M77.3,89.4L78.6,89L76.2,89.5L74.8,89.9Z" fill="#3e6fff"/><path d="M84.6,50.5L86,51.5L83.5,55.3L82.2,53.6Z" fill="#dcbd29"/><path d="M59.4,78L60.7,78.5L58.3,77.1L56.9,76.6Z" fill="#20a5e3"/><path d="M106.1,77.4L107.5,77.4L105,77.2L103.7,76.7Z" fill="#1ca9df"/><path d="M112.6,76.8L114,76.7L111.5,77.8L110.1,77.6Z" fill="#1ca9df"/><path d="M46.4,77.6L47.8,77.1L45.3,75.7L44,76.1Z" fill="#20a5e3"/><path d="M84,82.9L85.3,77.6L82.9,76.1L81.5,82.6Z" fill="#2d8cf3"/><path d="M120.4,74.4L121.8,74.1L119.3,76.8L118,76.9Z" fill="#08b5d0"/><path d="M67,83.2L68.4,86.9L65.9,86.4L64.5,82.2Z" fill="#2b91ef"/><path d="M138.8,68.9L140.1,68.4L137.6,68.6L136.3,69.1Z" fill="#19bfb6"/><path d="M52.9,77.6L54.3,77.2L51.8,75.8L50.5,76.2Z" fill="#20a5e3"/><path d="M70.8,87.5L72.2,89.6L69.7,89.4L68.4,86.9Z" fill="#327cfc"/><path d="M80.6,59L82,55.2L79.5,55.9L78.2,58.5Z" fill="#64cd6f"/><path d="M129.6,71.9L130.9,71.4L128.5,71.5L127.1,72.1Z" fill="#02bac3"/><path d="M63.2,79.9L64.5,82.2L62.1,80.8L60.7,78.5Z" fill="#23a0e5"/><path d="M82.9,76.1L84.2,69.4L81.7,67.1L80.4,74.6Z" fill="#1ca9df"/><path d="M76,89.6L77.3,89.4L74.8,89.9L73.5,90.1Z" fill="#3e6fff"/><path d="M45.1,78L46.4,77.6L44,76.1L42.6,76.6Z" fill="#20a5e3"/><path d="M137.4,69.3L138.8,68.9L136.3,69.1L135,69.6Z" fill="#19bfb6"/><path d="M101,75.4L102.3,76.1L99.9,71.9L98.5,70.3Z" fill="#18addb"/><path d="M93.6,55.8L94.9,60.1L92.5,57.3L91.1,52.8Z" fill="#9dc943"/><path d="M58.1,78.2L59.4,78L56.9,76.6L55.6,76.8Z" fill="#20a5e3"/><path d="M83.3,51.8L84.6,50.5L82.2,53.6L80.8,53.7Z" fill="#d1bf27"/><path d="M51.6,78.1L52.9,77.6L50.5,76.2L49.1,76.7Z" fill="#20a5e3"/><path d="M98.5,70.3L99.9,71.9L97.4,65.9L96.1,62.9Z" fill="#0bbdbd"/><path d="M82,55.2L83.3,51.8L80.8,53.7L79.5,55.9Z" fill="#9dc943"/><path d="M119.1,74.6L120.4,74.4L118,76.9L116.6,76.8Z" fill="#08b5d0"/><path d="M128.3,72.4L129.6,71.9L127.1,72.1L125.8,72.7Z" fill="#02bac3"/><path d="M89.8,49.7L91.1,52.8L88.7,54.6L87.3,52.5Z" fill="#e6bb2d"/><path d="M111.3,77L112.6,76.8L110.1,77.6L108.8,77.4Z" fill="#18addb"/><path d="M104.8,77.3L106.1,77.4L103.7,76.7L102.3,76.1Z" fill="#1ca9df"/><path d="M81.7,67.1L83.1,59.8L80.6,59L79.3,66.1Z" fill="#24c1ae"/><path d="M83.8,87.3L85.1,85.8L82.7,86L81.3,87.7Z" fill="#2f81fa"/><path d="M96.1,62.9L97.4,65.9L94.9,60.1L93.6,55.8Z" fill="#4acb84"/><path d="M43.8,78.5L45.1,78L42.6,76.6L41.3,77Z" fill="#20a5e3"/><path d="M85.1,85.8L86.5,83.3L84,82.9L82.7,86Z" fill="#2e87f7"/><path d="M136.1,69.8L137.4,69.3L135,69.6L133.6,70.2Z" fill="#19bfb6"/><path d="M74.6,89.3L76,89.6L73.5,90.1L72.2,89.6Z" fill="#3875fe"/><path d="M50.2,78.5L51.6,78.1L49.1,76.7L47.8,77.1Z" fill="#20a5e3"/><path d="M126.9,72.9L128.3,72.4L125.8,72.7L124.5,73.3Z" fill="#01b8ca"/><path d="M56.7,78.6L58.1,78.2L55.6,76.8L54.3,77.2Z" fill="#20a5e3"/><path d="M82.4,87.9L83.8,87.3L81.3,87.7L80,88.5Z" fill="#327cfc"/><path d="M117.8,74.8L119.1,74.6L116.6,76.8L115.3,76.7Z" fill="#08b5d0"/><path d="M109.9,77.2L111.3,77L108.8,77.4L107.5,77.4Z" fill="#18addb"/><path d="M61.9,79.4L63.2,79.9L60.7,78.5L59.4,78Z" fill="#20a5e3"/><path d="M134.7,70.2L136.1,69.8L133.6,70.2L132.3,70.8Z" fill="#19bfb6"/><path d="M103.4,77.1L104.8,77.3L102.3,76.1L101,75.4Z" fill="#18addb"/><path d="M85.3,77.6L86.7,72.3L84.2,69.4L82.9,76.1Z" fill="#1ca9df"/><path d="M81.1,88.4L82.4,87.9L80,88.5L78.6,89Z" fill="#327cfc"/><path d="M48.9,79L50.2,78.5L47.8,77.1L46.4,77.6Z" fill="#20a5e3"/><path d="M99.6,74.9L101,75.4L98.5,70.3L97.2,69.2Z" fill="#12b1d6"/><path d="M125.6,73.3L126.9,72.9L124.5,73.3L123.1,73.7Z" fill="#01b8ca"/><path d="M55.4,79L56.7,78.6L54.3,77.2L52.9,77.6Z" fill="#20a5e3"/><path d="M86.5,83.3L87.8,79.2L85.3,77.6L84,82.9Z" fill="#2b91ef"/><path d="M69.5,84.2L70.8,87.5L68.4,86.9L67,83.2Z" fill="#2b91ef"/><path d="M65.7,81.2L67,83.2L64.5,82.2L63.2,79.9Z" fill="#23a0e5"/><path d="M116.4,75L117.8,74.8L115.3,76.7L114,76.7Z" fill="#01b8ca"/><path d="M108.6,77.5L109.9,77.2L107.5,77.4L106.1,77.4Z" fill="#18addb"/><path d="M97.2,69.2L98.5,70.3L96.1,62.9L94.7,60.7Z" fill="#19bfb6"/><path d="M133.4,70.7L134.7,70.2L132.3,70.8L130.9,71.4Z" fill="#19bfb6"/><path d="M88.4,48.3L89.8,49.7L87.3,52.5L86,51.5Z" fill="#f8ba3d"/><path d="M79.8,88.8L81.1,88.4L78.6,89L77.3,89.4Z" fill="#327cfc"/><path d="M47.6,79.4L48.9,79L46.4,77.6L45.1,78Z" fill="#20a5e3"/><path d="M124.2,73.8L125.6,73.3L123.1,73.7L121.8,74.1Z" fill="#02bac3"/><path d="M60.5,79.6L61.9,79.4L59.4,78L58.1,78.2Z" fill="#20a5e3"/><path d="M54,79.5L55.4,79L52.9,77.6L51.6,78.1Z" fill="#20a5e3"/><path d="M73.3,87.4L74.6,89.3L72.2,89.6L70.8,87.5Z" fill="#2e87f7"/><path d="M84.2,69.4L85.6,62.7L83.1,59.8L81.7,67.1Z" fill="#19bfb6"/><path d="M83.1,59.8L84.4,54.9L82,55.2L80.6,59Z" fill="#72cd64"/><path d="M102.1,77L103.4,77.1L101,75.4L99.6,74.9Z" fill="#12b1d6"/><path d="M132.1,71.1L133.4,70.7L130.9,71.4L129.6,71.9Z" fill="#19bfb6"/><path d="M98.3,74.5L99.6,74.9L97.2,69.2L95.8,68.6Z" fill="#08b5d0"/><path d="M115.1,75.2L116.4,75L114,76.7L112.6,76.8Z" fill="#01b8ca"/><path d="M107.3,77.7L108.6,77.5L106.1,77.4L104.8,77.3Z" fill="#18addb"/><path d="M46.2,79.9L47.6,79.4L45.1,78L43.8,78.5Z" fill="#20a5e3"/><path d="M78.4,89.1L79.8,88.8L77.3,89.4L76,89.6Z" fill="#327cfc"/><path d="M92.2,52.6L93.6,55.8L91.1,52.8L89.8,49.7Z" fill="#dcbd29"/><path d="M52.7,79.9L54,79.5L51.6,78.1L50.2,78.5Z" fill="#20a5e3"/><path d="M122.9,74.1L124.2,73.8L121.8,74.1L120.4,74.4Z" fill="#02bac3"/><path d="M59.2,80L60.5,79.6L58.1,78.2L56.7,78.6Z" fill="#20a5e3"/><path d="M94.7,60.7L96.1,62.9L93.6,55.8L92.2,52.6Z" fill="#72cd64"/><path d="M87.8,79.2L89.1,75.3L86.7,72.3L85.3,77.6Z" fill="#20a5e3"/><path d="M130.7,71.6L132.1,71.1L129.6,71.9L128.3,72.4Z" fill="#19bfb6"/><path d="M64.3,80.8L65.7,81.2L63.2,79.9L61.9,79.4Z" fill="#20a5e3"/><path d="M87.1,47.9L88.4,48.3L86,51.5L84.6,50.5Z" fill="#febe3c"/><path d="M100.8,77L102.1,77L99.6,74.9L98.3,74.5Z" fill="#12b1d6"/><path d="M86.7,72.3L88,67.3L85.6,62.7L84.2,69.4Z" fill="#02bac3"/><path d="M95.8,68.6L97.2,69.2L94.7,60.7L93.4,59.7Z" fill="#2cc4a7"/><path d="M84.4,54.9L85.8,50.3L83.3,51.8L82,55.2Z" fill="#b9c431"/><path d="M87.6,85.6L88.9,83.6L86.5,83.3L85.1,85.8Z" fill="#2b91ef"/><path d="M86.2,86.7L87.6,85.6L85.1,85.8L83.8,87.3Z" fill="#2d8cf3"/><path d="M113.7,75.6L115.1,75.2L112.6,76.8L111.3,77Z" fill="#01b8ca"/><path d="M51.4,80.4L52.7,79.9L50.2,78.5L48.9,79Z" fill="#20a5e3"/><path d="M57.8,80.4L59.2,80L56.7,78.6L55.4,79Z" fill="#20a5e3"/><path d="M121.6,74.5L122.9,74.1L120.4,74.4L119.1,74.6Z" fill="#02bac3"/><path d="M105.9,77.9L107.3,77.7L104.8,77.3L103.4,77.1Z" fill="#12b1d6"/><path d="M77.1,88.8L78.4,89.1L76,89.6L74.6,89.3Z" fill="#2f81fa"/><path d="M97,74L98.3,74.5L95.8,68.6L94.5,68.1Z" fill="#02bac3"/><path d="M84.9,87.3L86.2,86.7L83.8,87.3L82.4,87.9Z" fill="#2d8cf3"/><path d="M129.4,72L130.7,71.6L128.3,72.4L126.9,72.9Z" fill="#19bfb6"/><path d="M68.1,82.5L69.5,84.2L67,83.2L65.7,81.2Z" fill="#23a0e5"/><path d="M85.8,50.3L87.1,47.9L84.6,50.5L83.3,51.8Z" fill="#f0ba36"/><path d="M88.9,83.6L90.3,80.4L87.8,79.2L86.5,83.3Z" fill="#2797eb"/><path d="M50,80.8L51.4,80.4L48.9,79L47.6,79.4Z" fill="#20a5e3"/><path d="M85.6,62.7L86.9,58L84.4,54.9L83.1,59.8Z" fill="#57cc7a"/><path d="M63,81L64.3,80.8L61.9,79.4L60.5,79.6Z" fill="#20a5e3"/><path d="M56.5,80.9L57.8,80.4L55.4,79L54,79.5Z" fill="#20a5e3"/><path d="M112.4,75.9L113.7,75.6L111.3,77L109.9,77.2Z" fill="#01b8ca"/><path d="M71.9,84.6L73.3,87.4L70.8,87.5L69.5,84.2Z" fill="#259be8"/><path d="M89.1,75.3L90.5,72L88,67.3L86.7,72.3Z" fill="#08b5d0"/><path d="M120.2,74.8L121.6,74.5L119.1,74.6L117.8,74.8Z" fill="#02bac3"/><path d="M99.4,76.8L100.8,77L98.3,74.5L97,74Z" fill="#08b5d0"/><path d="M83.6,87.8L84.9,87.3L82.4,87.9L81.1,88.4Z" fill="#2d8cf3"/><path d="M104.6,78.1L105.9,77.9L103.4,77.1L102.1,77Z" fill="#12b1d6"/><path d="M128,72.5L129.4,72L126.9,72.9L125.6,73.3Z" fill="#19bfb6"/><path d="M94.5,68.1L95.8,68.6L93.4,59.7L92,59.3Z" fill="#31c69f"/><path d="M95.6,74L97,74L94.5,68.1L93.2,68.7Z" fill="#02bac3"/><path d="M90.9,51.3L92.2,52.6L89.8,49.7L88.4,48.3Z" fill="#f0ba36"/><path d="M48.7,81.3L50,80.8L47.6,79.4L46.2,79.9Z" fill="#20a5e3"/><path d="M90.3,80.4L91.6,77.6L89.1,75.3L87.8,79.2Z" fill="#1ca9df"/><path d="M93.4,59.7L94.7,60.7L92.2,52.6L90.9,51.3Z" fill="#81cc59"/><path d="M55.2,81.3L56.5,80.9L54,79.5L52.7,79.9Z" fill="#20a5e3"/><path d="M88,67.3L89.4,64L86.9,58L85.6,62.7Z" fill="#37c897"/><path d="M61.7,81.4L63,81L60.5,79.6L59.2,80Z" fill="#20a5e3"/><path d="M111.1,76.3L112.4,75.9L109.9,77.2L108.6,77.5Z" fill="#01b8ca"/><path d="M75.7,87.3L77.1,88.8L74.6,89.3L73.3,87.4Z" fill="#2b91ef"/><path d="M118.9,75.1L120.2,74.8L117.8,74.8L116.4,75Z" fill="#02bac3"/><path d="M90.5,72L91.8,70.2L89.4,64L88,67.3Z" fill="#19bfb6"/><path d="M82.2,88.3L83.6,87.8L81.1,88.4L79.8,88.8Z" fill="#2d8cf3"/><path d="M126.7,72.9L128,72.5L125.6,73.3L124.2,73.8Z" fill="#19bfb6"/><path d="M94.3,74.6L95.6,74L93.2,68.7L91.8,70.2Z" fill="#02bac3"/><path d="M103.2,78.2L104.6,78.1L102.1,77L100.8,77Z" fill="#12b1d6"/><path d="M93.2,68.7L94.5,68.1L92,59.3L90.7,60.9Z" fill="#31c69f"/><path d="M98.1,76.9L99.4,76.8L97,74L95.6,74Z" fill="#08b5d0"/><path d="M91.8,70.2L93.2,68.7L90.7,60.9L89.4,64Z" fill="#24c1ae"/><path d="M66.8,82.2L68.1,82.5L65.7,81.2L64.3,80.8Z" fill="#20a5e3"/><path d="M91.6,77.6L92.9,75.5L90.5,72L89.1,75.3Z" fill="#12b1d6"/><path d="M92.9,75.5L94.3,74.6L91.8,70.2L90.5,72Z" fill="#01b8ca"/><path d="M53.8,81.8L55.2,81.3L52.7,79.9L51.4,80.4Z" fill="#20a5e3"/><path d="M86.9,58L88.2,53.5L85.8,50.3L84.4,54.9Z" fill="#9dc943"/><path d="M60.3,81.8L61.7,81.4L59.2,80L57.8,80.4Z" fill="#20a5e3"/><path d="M109.7,76.7L111.1,76.3L108.6,77.5L107.3,77.7Z" fill="#01b8ca"/><path d="M117.5,75.5L118.9,75.1L116.4,75L115.1,75.2Z" fill="#02bac3"/><path d="M80.9,88.5L82.2,88.3L79.8,88.8L78.4,89.1Z" fill="#2d8cf3"/><path d="M125.4,73.4L126.7,72.9L124.2,73.8L122.9,74.1Z" fill="#19bfb6"/><path d="M89.4,64L90.7,60.9L88.2,53.5L86.9,58Z" fill="#57cc7a"/><path d="M92,59.3L93.4,59.7L90.9,51.3L89.6,51.1Z" fill="#8fcb4e"/><path d="M89.6,51.1L90.9,51.3L88.4,48.3L87.1,47.9Z" fill="#f0ba36"/><path d="M96.8,77.3L98.1,76.9L95.6,74L94.3,74.6Z" fill="#08b5d0"/><path d="M101.9,78.5L103.2,78.2L100.8,77L99.4,76.8Z" fill="#08b5d0"/><path d="M52.5,82.2L53.8,81.8L51.4,80.4L50,80.8Z" fill="#20a5e3"/><path d="M90.1,85.2L91.4,83.6L88.9,83.6L87.6,85.6Z" fill="#259be8"/><path d="M59,82.3L60.3,81.8L57.8,80.4L56.5,80.9Z" fill="#20a5e3"/><path d="M65.5,82.4L66.8,82.2L64.3,80.8L63,81Z" fill="#20a5e3"/><path d="M70.6,83.1L71.9,84.6L69.5,84.2L68.1,82.5Z" fill="#20a5e3"/><path d="M108.4,77.2L109.7,76.7L107.3,77.7L105.9,77.9Z" fill="#01b8ca"/><path d="M88.7,86.1L90.1,85.2L87.6,85.6L86.2,86.7Z" fill="#2797eb"/><path d="M88.2,53.5L89.6,51.1L87.1,47.9L85.8,50.3Z" fill="#dcbd29"/><path d="M91.4,83.6L92.7,81.2L90.3,80.4L88.9,83.6Z" fill="#23a0e5"/><path d="M90.7,60.9L92,59.3L89.6,51.1L88.2,53.5Z" fill="#81cc59"/><path d="M116.2,75.9L117.5,75.5L115.1,75.2L113.7,75.6Z" fill="#02bac3"/><path d="M124,73.8L125.4,73.4L122.9,74.1L121.6,74.5Z" fill="#19bfb6"/><path d="M79.5,88.4L80.9,88.5L78.4,89.1L77.1,88.8Z" fill="#2d8cf3"/><path d="M95.4,77.9L96.8,77.3L94.3,74.6L92.9,75.5Z" fill="#08b5d0"/><path d="M92.7,81.2L94.1,79.2L91.6,77.6L90.3,80.4Z" fill="#1ca9df"/><path d="M51.1,82.7L52.5,82.2L50,80.8L48.7,81.3Z" fill="#20a5e3"/><path d="M87.4,86.7L88.7,86.1L86.2,86.7L84.9,87.3Z" fill="#2797eb"/><path d="M57.6,82.7L59,82.3L56.5,80.9L55.2,81.3Z" fill="#20a5e3"/><path d="M74.4,85L75.7,87.3L73.3,87.4L71.9,84.6Z" fill="#23a0e5"/><path d="M94.1,79.2L95.4,77.9L92.9,75.5L91.6,77.6Z" fill="#12b1d6"/><path d="M100.6,78.8L101.9,78.5L99.4,76.8L98.1,76.9Z" fill="#08b5d0"/><path d="M64.1,82.8L65.5,82.4L63,81L61.7,81.4Z" fill="#20a5e3"/><path d="M107,77.6L108.4,77.2L105.9,77.9L104.6,78.1Z" fill="#01b8ca"/><path d="M114.9,76.3L116.2,75.9L113.7,75.6L112.4,75.9Z" fill="#02bac3"/><path d="M122.7,74.3L124,73.8L121.6,74.5L120.2,74.8Z" fill="#19bfb6"/><path d="M86,87.2L87.4,86.7L84.9,87.3L83.6,87.8Z" fill="#2797eb"/><path d="M56.3,83.2L57.6,82.7L55.2,81.3L53.8,81.8Z" fill="#20a5e3"/><path d="M69.3,82.9L70.6,83.1L68.1,82.5L66.8,82.2Z" fill="#1ca9df"/><path d="M62.8,83.3L64.1,82.8L61.7,81.4L60.3,81.8Z" fill="#20a5e3"/><path d="M99.2,79.1L100.6,78.8L98.1,76.9L96.8,77.3Z" fill="#08b5d0"/><path d="M105.7,78.1L107,77.6L104.6,78.1L103.2,78.2Z" fill="#01b8ca"/><path d="M113.5,76.7L114.9,76.3L112.4,75.9L111.1,76.3Z" fill="#02bac3"/><path d="M121.3,74.7L122.7,74.3L120.2,74.8L118.9,75.1Z" fill="#19bfb6"/><path d="M78.2,87.2L79.5,88.4L77.1,88.8L75.7,87.3Z" fill="#2797eb"/><path d="M84.7,87.6L86,87.2L83.6,87.8L82.2,88.3Z" fill="#2797eb"/><path d="M55,83.6L56.3,83.2L53.8,81.8L52.5,82.2Z" fill="#20a5e3"/><path d="M61.4,83.7L62.8,83.3L60.3,81.8L59,82.3Z" fill="#20a5e3"/><path d="M97.9,79.6L99.2,79.1L96.8,77.3L95.4,77.9Z" fill="#08b5d0"/><path d="M67.9,83.2L69.3,82.9L66.8,82.2L65.5,82.4Z" fill="#1ca9df"/><path d="M104.4,78.5L105.7,78.1L103.2,78.2L101.9,78.5Z" fill="#01b8ca"/><path d="M112.2,77.2L113.5,76.7L111.1,76.3L109.7,76.7Z" fill="#02bac3"/><path d="M120,75.2L121.3,74.7L118.9,75.1L117.5,75.5Z" fill="#19bfb6"/><path d="M73.1,83.8L74.4,85L71.9,84.6L70.6,83.1Z" fill="#1ca9df"/><path d="M83.4,87.9L84.7,87.6L82.2,88.3L80.9,88.5Z" fill="#2797eb"/><path d="M96.5,80.4L97.9,79.6L95.4,77.9L94.1,79.2Z" fill="#12b1d6"/><path d="M53.6,84.1L55,83.6L52.5,82.2L51.1,82.7Z" fill="#20a5e3"/><path d="M60.1,84.2L61.4,83.7L59,82.3L57.6,82.7Z" fill="#20a5e3"/><path d="M93.9,83.4L95.2,81.8L92.7,81.2L91.4,83.6Z" fill="#1ca9df"/><path d="M95.2,81.8L96.5,80.4L94.1,79.2L92.7,81.2Z" fill="#18addb"/><path d="M92.5,84.7L93.9,83.4L91.4,83.6L90.1,85.2Z" fill="#20a5e3"/><path d="M66.6,83.6L67.9,83.2L65.5,82.4L64.1,82.8Z" fill="#1ca9df"/><path d="M110.8,77.6L112.2,77.2L109.7,76.7L108.4,77.2Z" fill="#02bac3"/><path d="M103,79L104.4,78.5L101.9,78.5L100.6,78.8Z" fill="#01b8ca"/><path d="M118.7,75.6L120,75.2L117.5,75.5L116.2,75.9Z" fill="#19bfb6"/><path d="M91.2,85.5L92.5,84.7L90.1,85.2L88.7,86.1Z" fill="#20a5e3"/><path d="M76.9,85.4L78.2,87.2L75.7,87.3L74.4,85Z" fill="#20a5e3"/><path d="M58.8,84.6L60.1,84.2L57.6,82.7L56.3,83.2Z" fill="#20a5e3"/><path d="M82,87.9L83.4,87.9L80.9,88.5L79.5,88.4Z" fill="#259be8"/><path d="M65.2,84.1L66.6,83.6L64.1,82.8L62.8,83.3Z" fill="#1ca9df"/><path d="M109.5,78L110.8,77.6L108.4,77.2L107,77.6Z" fill="#02bac3"/><path d="M89.8,86L91.2,85.5L88.7,86.1L87.4,86.7Z" fill="#23a0e5"/><path d="M117.3,76.1L118.7,75.6L116.2,75.9L114.9,76.3Z" fill="#19bfb6"/><path d="M101.7,79.5L103,79L100.6,78.8L99.2,79.1Z" fill="#01b8ca"/><path d="M71.7,83.7L73.1,83.8L70.6,83.1L69.3,82.9Z" fill="#1ca9df"/><path d="M57.4,85.1L58.8,84.6L56.3,83.2L55,83.6Z" fill="#20a5e3"/><path d="M63.9,84.5L65.2,84.1L62.8,83.3L61.4,83.7Z" fill="#1ca9df"/><path d="M88.5,86.5L89.8,86L87.4,86.7L86,87.2Z" fill="#23a0e5"/><path d="M108.2,78.5L109.5,78L107,77.6L105.7,78.1Z" fill="#02bac3"/><path d="M100.3,80L101.7,79.5L99.2,79.1L97.9,79.6Z" fill="#01b8ca"/><path d="M116,76.5L117.3,76.1L114.9,76.3L113.5,76.7Z" fill="#19bfb6"/><path d="M80.7,87.1L82,87.9L79.5,88.4L78.2,87.2Z" fill="#23a0e5"/><path d="M70.4,84L71.7,83.7L69.3,82.9L67.9,83.2Z" fill="#18addb"/><path d="M56.1,85.5L57.4,85.1L55,83.6L53.6,84.1Z" fill="#20a5e3"/><path d="M99,80.7L100.3,80L97.9,79.6L96.5,80.4Z" fill="#01b8ca"/><path d="M62.6,85L63.9,84.5L61.4,83.7L60.1,84.2Z" fill="#1ca9df"/><path d="M87.2,86.9L88.5,86.5L86,87.2L84.7,87.6Z" fill="#23a0e5"/><path d="M106.8,78.9L108.2,78.5L105.7,78.1L104.4,78.5Z" fill="#02bac3"/><path d="M114.6,77L116,76.5L113.5,76.7L112.2,77.2Z" fill="#19bfb6"/><path d="M75.5,84.4L76.9,85.4L74.4,85L73.1,83.8Z" fill="#18addb"/><path d="M97.7,81.8L99,80.7L96.5,80.4L95.2,81.8Z" fill="#08b5d0"/><path d="M69,84.4L70.4,84L67.9,83.2L66.6,83.6Z" fill="#18addb"/><path d="M96.3,83.1L97.7,81.8L95.2,81.8L93.9,83.4Z" fill="#12b1d6"/><path d="M61.2,85.4L62.6,85L60.1,84.2L58.8,84.6Z" fill="#1ca9df"/><path d="M105.5,79.4L106.8,78.9L104.4,78.5L103,79Z" fill="#02bac3"/><path d="M85.8,87.3L87.2,86.9L84.7,87.6L83.4,87.9Z" fill="#20a5e3"/><path d="M113.3,77.4L114.6,77L112.2,77.2L110.8,77.6Z" fill="#19bfb6"/><path d="M95,84L96.3,83.1L93.9,83.4L92.5,84.7Z" fill="#18addb"/><path d="M67.7,84.8L69,84.4L66.6,83.6L65.2,84.1Z" fill="#18addb"/><path d="M79.3,85.7L80.7,87.1L78.2,87.2L76.9,85.4Z" fill="#1ca9df"/><path d="M74.2,84.4L75.5,84.4L73.1,83.8L71.7,83.7Z" fill="#18addb"/><path d="M93.6,84.7L95,84L92.5,84.7L91.2,85.5Z" fill="#18addb"/><path d="M59.9,85.9L61.2,85.4L58.8,84.6L57.4,85.1Z" fill="#1ca9df"/><path d="M104.1,79.9L105.5,79.4L103,79L101.7,79.5Z" fill="#02bac3"/><path d="M112,77.9L113.3,77.4L110.8,77.6L109.5,78Z" fill="#19bfb6"/><path d="M84.5,87.4L85.8,87.3L83.4,87.9L82,87.9Z" fill="#20a5e3"/><path d="M66.4,85.3L67.7,84.8L65.2,84.1L63.9,84.5Z" fill="#18addb"/><path d="M92.3,85.2L93.6,84.7L91.2,85.5L89.8,86Z" fill="#18addb"/><path d="M102.8,80.4L104.1,79.9L101.7,79.5L100.3,80Z" fill="#02bac3"/><path d="M58.5,86.3L59.9,85.9L57.4,85.1L56.1,85.5Z" fill="#1ca9df"/><path d="M110.6,78.3L112,77.9L109.5,78L108.2,78.5Z" fill="#19bfb6"/><path d="M72.9,84.7L74.2,84.4L71.7,83.7L70.4,84Z" fill="#18addb"/><path d="M65,85.7L66.4,85.3L63.9,84.5L62.6,85Z" fill="#18addb"/><path d="M91,85.7L92.3,85.2L89.8,86L88.5,86.5Z" fill="#18addb"/><path d="M83.1,86.8L84.5,87.4L82,87.9L80.7,87.1Z" fill="#1ca9df"/><path d="M101.5,80.9L102.8,80.4L100.3,80L99,80.7Z" fill="#02bac3"/><path d="M78,85L79.3,85.7L76.9,85.4L75.5,84.4Z" fill="#12b1d6"/><path d="M109.3,78.8L110.6,78.3L108.2,78.5L106.8,78.9Z" fill="#19bfb6"/><path d="M71.5,85.1L72.9,84.7L70.4,84L69,84.4Z" fill="#18addb"/><path d="M63.7,86.2L65,85.7L62.6,85L61.2,85.4Z" fill="#18addb"/><path d="M100.1,81.7L101.5,80.9L99,80.7L97.7,81.8Z" fill="#02bac3"/><path d="M89.6,86.1L91,85.7L88.5,86.5L87.2,86.9Z" fill="#18addb"/><path d="M107.9,79.2L109.3,78.8L106.8,78.9L105.5,79.4Z" fill="#19bfb6"/><path d="M70.2,85.6L71.5,85.1L69,84.4L67.7,84.8Z" fill="#18addb"/><path d="M98.8,82.6L100.1,81.7L97.7,81.8L96.3,83.1Z" fill="#01b8ca"/><path d="M76.7,85.1L78,85L75.5,84.4L74.2,84.4Z" fill="#12b1d6"/><path d="M62.3,86.6L63.7,86.2L61.2,85.4L59.9,85.9Z" fill="#18addb"/><path d="M88.3,86.5L89.6,86.1L87.2,86.9L85.8,87.3Z" fill="#18addb"/><path d="M97.4,83.3L98.8,82.6L96.3,83.1L95,84Z" fill="#01b8ca"/><path d="M81.8,85.9L83.1,86.8L80.7,87.1L79.3,85.7Z" fill="#12b1d6"/><path d="M106.6,79.7L107.9,79.2L105.5,79.4L104.1,79.9Z" fill="#19bfb6"/><path d="M68.8,86L70.2,85.6L67.7,84.8L66.4,85.3Z" fill="#18addb"/><path d="M61,87.1L62.3,86.6L59.9,85.9L58.5,86.3Z" fill="#18addb"/><path d="M96.1,83.8L97.4,83.3L95,84L93.6,84.7Z" fill="#01b8ca"/><path d="M75.3,85.4L76.7,85.1L74.2,84.4L72.9,84.7Z" fill="#12b1d6"/><path d="M86.9,86.7L88.3,86.5L85.8,87.3L84.5,87.4Z" fill="#18addb"/><path d="M105.3,80.1L106.6,79.7L104.1,79.9L102.8,80.4Z" fill="#19bfb6"/><path d="M67.5,86.5L68.8,86L66.4,85.3L65,85.7Z" fill="#18addb"/><path d="M94.8,84.3L96.1,83.8L93.6,84.7L92.3,85.2Z" fill="#01b8ca"/><path d="M74,85.9L75.3,85.4L72.9,84.7L71.5,85.1Z" fill="#12b1d6"/><path d="M80.5,85.5L81.8,85.9L79.3,85.7L78,85Z" fill="#08b5d0"/><path d="M103.9,80.6L105.3,80.1L102.8,80.4L101.5,80.9Z" fill="#19bfb6"/><path d="M66.2,86.9L67.5,86.5L65,85.7L63.7,86.2Z" fill="#18addb"/><path d="M85.6,86.5L86.9,86.7L84.5,87.4L83.1,86.8Z" fill="#12b1d6"/><path d="M93.4,84.8L94.8,84.3L92.3,85.2L91,85.7Z" fill="#01b8ca"/><path d="M72.6,86.3L74,85.9L71.5,85.1L70.2,85.6Z" fill="#12b1d6"/><path d="M102.6,81L103.9,80.6L101.5,80.9L100.1,81.7Z" fill="#19bfb6"/><path d="M64.8,87.4L66.2,86.9L63.7,86.2L62.3,86.6Z" fill="#18addb"/><path d="M79.1,85.7L80.5,85.5L78,85L76.7,85.1Z" fill="#08b5d0"/><path d="M92.1,85.2L93.4,84.8L91,85.7L89.6,86.1Z" fill="#01b8ca"/><path d="M71.3,86.7L72.6,86.3L70.2,85.6L68.8,86Z" fill="#12b1d6"/><path d="M101.3,81.5L102.6,81L100.1,81.7L98.8,82.6Z" fill="#19bfb6"/><path d="M84.3,86.1L85.6,86.5L83.1,86.8L81.8,85.9Z" fill="#08b5d0"/><path d="M63.5,87.8L64.8,87.4L62.3,86.6L61,87.1Z" fill="#18addb"/><path d="M77.8,86.1L79.1,85.7L76.7,85.1L75.3,85.4Z" fill="#08b5d0"/><path d="M90.7,85.6L92.1,85.2L89.6,86.1L88.3,86.5Z" fill="#01b8ca"/><path d="M99.9,81.9L101.3,81.5L98.8,82.6L97.4,83.3Z" fill="#19bfb6"/><path d="M70,87.2L71.3,86.7L68.8,86L67.5,86.5Z" fill="#12b1d6"/><path d="M76.4,86.5L77.8,86.1L75.3,85.4L74,85.9Z" fill="#08b5d0"/><path d="M89.4,86L90.7,85.6L88.3,86.5L86.9,86.7Z" fill="#01b8ca"/><path d="M98.6,82.4L99.9,81.9L97.4,83.3L96.1,83.8Z" fill="#19bfb6"/><path d="M82.9,86L84.3,86.1L81.8,85.9L80.5,85.5Z" fill="#01b8ca"/><path d="M68.6,87.6L70,87.2L67.5,86.5L66.2,86.9Z" fill="#12b1d6"/><path d="M75.1,86.9L76.4,86.5L74,85.9L72.6,86.3Z" fill="#08b5d0"/><path d="M97.2,82.8L98.6,82.4L96.1,83.8L94.8,84.3Z" fill="#19bfb6"/><path d="M67.3,88.1L68.6,87.6L66.2,86.9L64.8,87.4Z" fill="#12b1d6"/><path d="M88.1,86.1L89.4,86L86.9,86.7L85.6,86.5Z" fill="#01b8ca"/><path d="M81.6,86.2L82.9,86L80.5,85.5L79.1,85.7Z" fill="#01b8ca"/><path d="M73.8,87.4L75.1,86.9L72.6,86.3L71.3,86.7Z" fill="#08b5d0"/><path d="M95.9,83.3L97.2,82.8L94.8,84.3L93.4,84.8Z" fill="#19bfb6"/><path d="M65.9,88.5L67.3,88.1L64.8,87.4L63.5,87.8Z" fill="#12b1d6"/><path d="M80.2,86.6L81.6,86.2L79.1,85.7L77.8,86.1Z" fill="#01b8ca"/><path d="M86.7,86.1L88.1,86.1L85.6,86.5L84.3,86.1Z" fill="#02bac3"/><path d="M72.4,87.8L73.8,87.4L71.3,86.7L70,87.2Z" fill="#08b5d0"/><path d="M94.6,83.7L95.9,83.3L93.4,84.8L92.1,85.2Z" fill="#19bfb6"/><path d="M78.9,87.1L80.2,86.6L77.8,86.1L76.4,86.5Z" fill="#01b8ca"/><path d="M71.1,88.3L72.4,87.8L70,87.2L68.6,87.6Z" fill="#08b5d0"/><path d="M93.2,84.2L94.6,83.7L92.1,85.2L90.7,85.6Z" fill="#19bfb6"/><path d="M85.4,86.3L86.7,86.1L84.3,86.1L82.9,86Z" fill="#02bac3"/><path d="M77.6,87.5L78.9,87.1L76.4,86.5L75.1,86.9Z" fill="#01b8ca"/><path d="M69.7,88.7L71.1,88.3L68.6,87.6L67.3,88.1Z" fill="#08b5d0"/><path d="M91.9,84.6L93.2,84.2L90.7,85.6L89.4,86Z" fill="#19bfb6"/><path d="M84.1,86.6L85.4,86.3L82.9,86L81.6,86.2Z" fill="#02bac3"/><path d="M76.2,88L77.6,87.5L75.1,86.9L73.8,87.4Z" fill="#01b8ca"/><path d="M68.4,89.2L69.7,88.7L67.3,88.1L65.9,88.5Z" fill="#08b5d0"/><path d="M90.5,85.1L91.9,84.6L89.4,86L88.1,86.1Z" fill="#19bfb6"/><path d="M82.7,87L84.1,86.6L81.6,86.2L80.2,86.6Z" fill="#02bac3"/><path d="M74.9,88.4L76.2,88L73.8,87.4L72.4,87.8Z" fill="#01b8ca"/><path d="M89.2,85.5L90.5,85.1L88.1,86.1L86.7,86.1Z" fill="#19bfb6"/><path d="M81.4,87.5L82.7,87L80.2,86.6L78.9,87.1Z" fill="#02bac3"/><path d="M73.5,88.9L74.9,88.4L72.4,87.8L71.1,88.3Z" fill="#01b8ca"/><path d="M87.9,86L89.2,85.5L86.7,86.1L85.4,86.3Z" fill="#19bfb6"/><path d="M80,87.9L81.4,87.5L78.9,87.1L77.6,87.5Z" fill="#02bac3"/><path d="M72.2,89.3L73.5,88.9L71.1,88.3L69.7,88.7Z" fill="#01b8ca"/><path d="M78.7,88.4L80,87.9L77.6,87.5L76.2,88Z" fill="#02bac3"/><path d="M86.5,86.4L87.9,86L85.4,86.3L84.1,86.6Z" fill="#19bfb6"/><path d="M70.9,89.8L72.2,89.3L69.7,88.7L68.4,89.2Z" fill="#01b8ca"/><path d="M77.4,88.8L78.7,88.4L76.2,88L74.9,88.4Z" fill="#02bac3"/><path d="M85.2,86.9L86.5,86.4L84.1,86.6L82.7,87Z" fill="#19bfb6"/><path d="M76,89.3L77.4,88.8L74.9,88.4L73.5,88.9Z" fill="#02bac3"/><path d="M83.8,87.3L85.2,86.9L82.7,87L81.4,87.5Z" fill="#19bfb6"/><path d="M74.7,89.7L76,89.3L73.5,88.9L72.2,89.3Z" fill="#02bac3"/><path d="M82.5,87.8L83.8,87.3L81.4,87.5L80,87.9Z" fill="#19bfb6"/><path d="M73.3,90.2L74.7,89.7L72.2,89.3L70.9,89.8Z" fill="#02bac3"/><path d="M81.2,88.2L82.5,87.8L80,87.9L78.7,88.4Z" fill="#19bfb6"/><path d="M79.8,88.7L81.2,88.2L78.7,88.4L77.4,88.8Z" fill="#19bfb6"/><path d="M78.5,89.1L79.8,88.7L77.4,88.8L76,89.3Z" fill="#19bfb6"/><path d="M77.1,89.6L78.5,89.1L76,89.3L74.7,89.7Z" fill="#19bfb6"/><path d="M75.8,90L77.1,89.6L74.7,89.7L73.3,90.2Z" fill="#19bfb6"/></g>
<g font-family="Liberation Sans, Arial, sans-serif" stroke="#262626" stroke-width="0.14" font-size="6.3" fill="#262626"><text x="79.8" y="130.6">0</text><text x="106.6" y="121.6">10</text><text x="133.4" y="112.6">20</text></g>
<g font-family="Liberation Sans, Arial, sans-serif" stroke="#262626" stroke-width="0.14" font-size="6.3" fill="#262626" text-anchor="end"><text x="71.6" y="130.1">0</text><text x="46.9" y="116">10</text><text x="22.3" y="101.9">20</text><text x="23.5" y="94.9">0.98</text><text x="23.5" y="82.6">1</text><text x="23.5" y="70.3">1.02</text><text x="23.5" y="58">1.04</text><text x="23.5" y="45.7">1.06</text><text x="23.5" y="33.4">1.08</text></g>
<text font-family="Liberation Sans, Arial, sans-serif" stroke="#262626" stroke-width="0.14" font-size="6.4" fill="#262626" text-anchor="middle" x="39.6" y="131.4">Node</text>
<text font-family="Liberation Sans, Arial, sans-serif" stroke="#262626" stroke-width="0.14" font-size="6.4" fill="#262626" text-anchor="middle" x="112.4" y="133.1">t/h</text>
<text font-family="Liberation Sans, Arial, sans-serif" stroke="#262626" stroke-width="0.14" font-size="6.4" fill="#262626" text-anchor="middle" transform="translate(5.4,64.1) rotate(-90)" y="2.3">Voltage/p.u.</text>
<text font-family="Liberation Sans, Arial, sans-serif" stroke="#262626" stroke-width="0.14" font-size="6.55" fill="#222" text-anchor="middle" x="83.5" y="9.6">Node voltage profiles in scenario1</text>
<defs><linearGradient id="g0" x1="0" y1="0" x2="0" y2="1"><stop offset="0%" stop-color="#f9fb15"/><stop offset="4.8%" stop-color="#f5e924"/><stop offset="9.5%" stop-color="#fad62d"/><stop offset="14.3%" stop-color="#fec338"/><stop offset="19%" stop-color="#f0ba36"/><stop offset="23.8%" stop-color="#d1bf27"/><stop offset="28.6%" stop-color="#abc739"/><stop offset="33.3%" stop-color="#81cc59"/><stop offset="38.1%" stop-color="#57cc7a"/><stop offset="42.9%" stop-color="#37c897"/><stop offset="47.6%" stop-color="#24c1ae"/><stop offset="52.4%" stop-color="#02bac3"/><stop offset="57.1%" stop-color="#12b1d6"/><stop offset="61.9%" stop-color="#20a5e3"/><stop offset="66.7%" stop-color="#2797eb"/><stop offset="71.4%" stop-color="#2e87f7"/><stop offset="76.2%" stop-color="#3875fe"/><stop offset="81%" stop-color="#4563fd"/><stop offset="85.7%" stop-color="#4852f4"/><stop offset="90.5%" stop-color="#4741e5"/><stop offset="95.2%" stop-color="#4332cb"/><stop offset="100%" stop-color="#3e26a8"/><stop offset="100%" stop-color="#3e26a8"/></linearGradient></defs>
<rect x="152.2" y="11.2" width="7.5" height="110.4" fill="url(#g0)" stroke="#b0b0b0" stroke-width="0.4"/>
<path d="M158.4,105.6h1.3M158.4,80.4h1.3M158.4,55.2h1.3M158.4,30h1.3" stroke="#555" stroke-width="0.45" stroke-opacity="0.6"/>
<g font-family="Liberation Sans, Arial, sans-serif" stroke="#262626" stroke-width="0.14" font-size="6.3" fill="#262626"><text x="162.5" y="107.7">1</text><text x="162.5" y="82.5">1.02</text><text x="162.5" y="57.3">1.04</text><text x="162.5" y="32.1">1.06</text></g>
<path d="M262.3,121.7L213,93.5M213,93.5L213,32M289.1,112.7L239.8,84.5M239.8,84.5L239.8,23M315.9,103.7L266.6,75.5M266.6,75.5L266.6,14M262.3,121.7L326.6,100.1M326.6,100.1L326.6,38.6M237.7,107.6L302,86M302,86L302,24.5M213,93.5L277.3,71.9M277.3,71.9L277.3,10.4M213,81.2L277.3,59.6M326.6,87.8L277.3,59.6M213,56.6L277.3,35M326.6,63.2L277.3,35M213,32L277.3,10.4M326.6,38.6L277.3,10.4M277.3,71.9L277.3,10.4M213,32L277.3,10.4M326.6,38.6L277.3,10.4" stroke="#e6e6e6" stroke-width="0.5" fill="none"/>
<path d="M262.3,121.7L326.6,100.1M262.3,121.7L213,93.5M213,93.5L213,32M262.3,121.7L261.3,121.1M289.1,112.7L288.1,112.1M315.9,103.7L314.9,103.1M262.3,121.7L263.6,121.3M237.7,107.6L238.9,107.2M213,93.5L214.3,93.1M213,81.2L214.3,80.8M213,56.6L214.3,56.2M213,32L214.3,31.6" stroke="#9a9a9a" stroke-width="0.6" fill="none"/>
<g stroke="#000" stroke-width="0.3" stroke-opacity="0.85" stroke-linejoin="round"><path d="M274.4,64.9L275.7,64.3L273.3,63.2L271.9,63.9Z" fill="#484df0"/><path d="M275.7,64.3L277.1,58.4L274.6,57.4L273.3,63.2Z" fill="#4852f4"/><path d="M273.1,63.5L274.4,64.9L271.9,63.9L270.6,62.5Z" fill="#465efb"/><path d="M276.9,66L278.2,65.3L275.7,64.3L274.4,64.9Z" fill="#4852f4"/><path d="M278.2,65.3L279.6,59.5L277.1,58.4L275.7,64.3Z" fill="#4852f4"/><path d="M275.5,64.6L276.9,66L274.4,64.9L273.1,63.5Z" fill="#465efb"/><path d="M271.7,57.3L273.1,63.5L270.6,62.5L269.3,56.3Z" fill="#2d8cf3"/><path d="M277.1,58.4L278.4,47.5L276,46.5L274.6,57.4Z" fill="#3875fe"/><path d="M279.3,66.6L280.7,65.9L278.2,65.3L276.9,66Z" fill="#4758f8"/><path d="M280.7,65.9L282,60L279.6,59.5L278.2,65.3Z" fill="#4758f8"/><path d="M278,65.3L279.3,66.6L276.9,66L275.5,64.6Z" fill="#4563fd"/><path d="M274.2,58.4L275.5,64.6L273.1,63.5L271.7,57.3Z" fill="#2b91ef"/><path d="M279.6,59.5L280.9,48.6L278.4,47.5L277.1,58.4Z" fill="#327cfc"/><path d="M257,76.5L258.3,73.8L255.9,72.8L254.5,75.4Z" fill="#402ab4"/><path d="M255.7,77L257,76.5L254.5,75.4L253.2,75.9Z" fill="#402ab4"/><path d="M278.4,47.5L279.8,43.2L277.3,42.1L276,46.5Z" fill="#01b8ca"/><path d="M281.8,67.3L283.1,66.5L280.7,65.9L279.3,66.6Z" fill="#465efb"/><path d="M254.3,76.1L255.7,77L253.2,75.9L251.8,75Z" fill="#4332cb"/><path d="M283.1,66.5L284.5,60.6L282,60L280.7,65.9Z" fill="#465efb"/><path d="M280.5,66L281.8,67.3L279.3,66.6L278,65.3Z" fill="#4269fe"/><path d="M270.4,48.6L271.7,57.3L269.3,56.3L267.9,47.6Z" fill="#0bbdbd"/><path d="M276.7,59.1L278,65.3L275.5,64.6L274.2,58.4Z" fill="#2797eb"/><path d="M259.5,77.5L260.8,74.9L258.3,73.8L257,76.5Z" fill="#402ab4"/><path d="M282,60L283.4,49.1L280.9,48.6L279.6,59.5Z" fill="#2f81fa"/><path d="M258.1,78L259.5,77.5L257,76.5L255.7,77Z" fill="#402ab4"/><path d="M258.3,73.8L259.7,63.2L257.2,62.1L255.9,72.8Z" fill="#4537d5"/><path d="M280.9,48.6L282.2,44.2L279.8,43.2L278.4,47.5Z" fill="#01b8ca"/><path d="M284.3,67.9L285.6,67.1L283.1,66.5L281.8,67.3Z" fill="#4563fd"/><path d="M256.8,77.1L258.1,78L255.7,77L254.3,76.1Z" fill="#4332cb"/><path d="M253,70.5L254.3,76.1L251.8,75L250.5,69.5Z" fill="#4758f8"/><path d="M285.6,67.1L286.9,61.1L284.5,60.6L283.1,66.5Z" fill="#4563fd"/><path d="M282.9,66.7L284.3,67.9L281.8,67.3L280.5,66Z" fill="#3e6fff"/><path d="M272.9,49.7L274.2,58.4L271.7,57.3L270.4,48.6Z" fill="#19bfb6"/><path d="M261.9,78.6L263.3,75.9L260.8,74.9L259.5,77.5Z" fill="#422ec0"/><path d="M279.1,59.7L280.5,66L278,65.3L276.7,59.1Z" fill="#259be8"/><path d="M260.6,79.1L261.9,78.6L259.5,77.5L258.1,78Z" fill="#422ec0"/><path d="M260.8,74.9L262.1,64.2L259.7,63.2L258.3,73.8Z" fill="#4537d5"/><path d="M269,50.3L270.4,48.6L267.9,47.6L266.6,49.2Z" fill="#02bac3"/><path d="M284.5,60.6L285.8,49.6L283.4,49.1L282,60Z" fill="#2e87f7"/><path d="M267.7,51.1L269,50.3L266.6,49.2L265.2,50Z" fill="#01b8ca"/><path d="M283.4,49.1L284.7,44.7L282.2,44.2L280.9,48.6Z" fill="#0bbdbd"/><path d="M259.2,78.2L260.6,79.1L258.1,78L256.8,77.1Z" fill="#4332cb"/><path d="M286.7,68.6L288.1,67.7L285.6,67.1L284.3,67.9Z" fill="#4269fe"/><path d="M266.4,50.8L267.7,51.1L265.2,50L263.9,49.7Z" fill="#02bac3"/><path d="M255.4,71.6L256.8,77.1L254.3,76.1L253,70.5Z" fill="#465efb"/><path d="M288.1,67.7L289.4,61.7L286.9,61.1L285.6,67.1Z" fill="#4269fe"/><path d="M275.3,50.5L276.7,59.1L274.2,58.4L272.9,49.7Z" fill="#19bfb6"/><path d="M285.4,67.4L286.7,68.6L284.3,67.9L282.9,66.7Z" fill="#3875fe"/><path d="M265,50.4L266.4,50.8L263.9,49.7L262.6,49.3Z" fill="#0bbdbd"/><path d="M264.4,79.6L265.7,76.8L263.3,75.9L261.9,78.6Z" fill="#422ec0"/><path d="M263,80.1L264.4,79.6L261.9,78.6L260.6,79.1Z" fill="#422ec0"/><path d="M263.3,75.9L264.6,65.3L262.1,64.2L260.8,74.9Z" fill="#463cde"/><path d="M271.5,51.3L272.9,49.7L270.4,48.6L269,50.3Z" fill="#02bac3"/><path d="M281.6,60.3L282.9,66.7L280.5,66L279.1,59.7Z" fill="#23a0e5"/><path d="M259.7,63.2L261,51L258.5,50L257.2,62.1Z" fill="#2f81fa"/><path d="M270.2,52.1L271.5,51.3L269,50.3L267.7,51.1Z" fill="#02bac3"/><path d="M286.9,61.1L288.3,50.1L285.8,49.6L284.5,60.6Z" fill="#2d8cf3"/><path d="M285.8,49.6L287.2,45.1L284.7,44.7L283.4,49.1Z" fill="#19bfb6"/><path d="M261.7,79.2L263,80.1L260.6,79.1L259.2,78.2Z" fill="#4537d5"/><path d="M263.7,49.8L265,50.4L262.6,49.3L261.2,48.7Z" fill="#19bfb6"/><path d="M268.8,51.8L270.2,52.1L267.7,51.1L266.4,50.8Z" fill="#02bac3"/><path d="M257.9,72.7L259.2,78.2L256.8,77.1L255.4,71.6Z" fill="#465efb"/><path d="M289.2,69.2L290.5,68.3L288.1,67.7L286.7,68.6Z" fill="#3e6fff"/><path d="M290.5,68.3L291.9,62.2L289.4,61.7L288.1,67.7Z" fill="#3e6fff"/><path d="M262.4,49.5L263.7,49.8L261.2,48.7L259.9,48.5Z" fill="#24c1ae"/><path d="M267.5,51.4L268.8,51.8L266.4,50.8L265,50.4Z" fill="#19bfb6"/><path d="M266.9,80.6L268.2,77.6L265.7,76.8L264.4,79.6Z" fill="#4332cb"/><path d="M287.9,68L289.2,69.2L286.7,68.6L285.4,67.4Z" fill="#327cfc"/><path d="M265.5,81.2L266.9,80.6L264.4,79.6L263,80.1Z" fill="#4332cb"/><path d="M274,52.2L275.3,50.5L272.9,49.7L271.5,51.3Z" fill="#0bbdbd"/><path d="M277.8,49.6L279.1,59.7L276.7,59.1L275.3,50.5Z" fill="#31c69f"/><path d="M265.7,76.8L267.1,65.3L264.6,65.3L263.3,75.9Z" fill="#463cde"/><path d="M251.6,56.3L253,70.5L250.5,69.5L249.2,55.2Z" fill="#01b8ca"/><path d="M262.1,64.2L263.5,52.1L261,51L259.7,63.2Z" fill="#2f81fa"/><path d="M284.1,61L285.4,67.4L282.9,66.7L281.6,60.3Z" fill="#20a5e3"/><path d="M272.6,53L274,52.2L271.5,51.3L270.2,52.1Z" fill="#02bac3"/><path d="M261,51L262.4,49.5L259.9,48.5L258.5,50Z" fill="#19bfb6"/><path d="M289.4,61.7L290.8,50.5L288.3,50.1L286.9,61.1Z" fill="#2b91ef"/><path d="M264.2,80.3L265.5,81.2L263,80.1L261.7,79.2Z" fill="#4537d5"/><path d="M266.2,50.8L267.5,51.4L265,50.4L263.7,49.8Z" fill="#24c1ae"/><path d="M288.3,50.1L289.6,45.5L287.2,45.1L285.8,49.6Z" fill="#24c1ae"/><path d="M271.3,52.8L272.6,53L270.2,52.1L268.8,51.8Z" fill="#0bbdbd"/><path d="M260.4,73.8L261.7,79.2L259.2,78.2L257.9,72.7Z" fill="#4563fd"/><path d="M291.7,69.8L293,68.9L290.5,68.3L289.2,69.2Z" fill="#3875fe"/><path d="M264.8,50.6L266.2,50.8L263.7,49.8L262.4,49.5Z" fill="#2cc4a7"/><path d="M270,52.4L271.3,52.8L268.8,51.8L267.5,51.4Z" fill="#19bfb6"/><path d="M269.3,81.7L270.7,78.7L268.2,77.6L266.9,80.6Z" fill="#4332cb"/><path d="M268,82.2L269.3,81.7L266.9,80.6L265.5,81.2Z" fill="#4332cb"/><path d="M293,68.9L294.3,62.7L291.9,62.2L290.5,68.3Z" fill="#3875fe"/><path d="M254.1,57.5L255.4,71.6L253,70.5L251.6,56.3Z" fill="#02bac3"/><path d="M290.3,68.7L291.7,69.8L289.2,69.2L287.9,68Z" fill="#2f81fa"/><path d="M264.6,65.3L265.9,53.1L263.5,52.1L262.1,64.2Z" fill="#2e87f7"/><path d="M263.5,52.1L264.8,50.6L262.4,49.5L261,51Z" fill="#24c1ae"/><path d="M268.2,77.6L269.5,65.4L267.1,65.3L265.7,76.8Z" fill="#4741e5"/><path d="M286.5,61.8L287.9,68L285.4,67.4L284.1,61Z" fill="#20a5e3"/><path d="M280.2,48.8L281.6,60.3L279.1,59.7L277.8,49.6Z" fill="#4acb84"/><path d="M291.9,62.2L293.2,51L290.8,50.5L289.4,61.7Z" fill="#259be8"/><path d="M266.6,81.3L268,82.2L265.5,81.2L264.2,80.3Z" fill="#463cde"/><path d="M268.6,51.9L270,52.4L267.5,51.4L266.2,50.8Z" fill="#24c1ae"/><path d="M276.4,47.6L277.8,49.6L275.3,50.5L274,52.2Z" fill="#4acb84"/><path d="M262.8,74.8L264.2,80.3L261.7,79.2L260.4,73.8Z" fill="#4563fd"/><path d="M239.6,73.2L240.9,72.6L238.5,71.4L237.1,72Z" fill="#4269fe"/><path d="M290.8,50.5L292.1,46L289.6,45.5L288.3,50.1Z" fill="#2cc4a7"/><path d="M240.9,72.6L242.3,67.8L239.8,66.7L238.5,71.4Z" fill="#4269fe"/><path d="M294.1,70.5L295.5,69.5L293,68.9L291.7,69.8Z" fill="#327cfc"/><path d="M238.2,73.7L239.6,73.2L237.1,72L235.8,72.4Z" fill="#4269fe"/><path d="M275.1,47L276.4,47.6L274,52.2L272.6,53Z" fill="#64cd6f"/><path d="M267.3,51.6L268.6,51.9L266.2,50.8L264.8,50.6Z" fill="#2cc4a7"/><path d="M271.8,82.7L273.1,79.7L270.7,78.7L269.3,81.7Z" fill="#4537d5"/><path d="M270.4,83.3L271.8,82.7L269.3,81.7L268,82.2Z" fill="#4537d5"/><path d="M256.6,58.7L257.9,72.7L255.4,71.6L254.1,57.5Z" fill="#02bac3"/><path d="M236.9,74.2L238.2,73.7L235.8,72.4L234.4,72.9Z" fill="#4269fe"/><path d="M295.5,69.5L296.8,63.3L294.3,62.7L293,68.9Z" fill="#327cfc"/><path d="M292.8,69.4L294.1,70.5L291.7,69.8L290.3,68.7Z" fill="#2e87f7"/><path d="M265.9,53.1L267.3,51.6L264.8,50.6L263.5,52.1Z" fill="#24c1ae"/><path d="M270.7,78.7L272,66.5L269.5,65.4L268.2,77.6Z" fill="#4747eb"/><path d="M289,62.5L290.3,68.7L287.9,68L286.5,61.8Z" fill="#1ca9df"/><path d="M273.8,46.2L275.1,47L272.6,53L271.3,52.8Z" fill="#72cd64"/><path d="M267.1,65.3L268.4,51L265.9,53.1L264.6,65.3Z" fill="#2b91ef"/><path d="M269.1,82.4L270.4,83.3L268,82.2L266.6,81.3Z" fill="#463cde"/><path d="M282.7,49.6L284.1,61L281.6,60.3L280.2,48.8Z" fill="#57cc7a"/><path d="M242,74.8L243.4,74L240.9,72.6L239.6,73.2Z" fill="#4563fd"/><path d="M265.3,75.9L266.6,81.3L264.2,80.3L262.8,74.8Z" fill="#4563fd"/><path d="M294.3,62.7L295.7,51.5L293.2,51L291.9,62.2Z" fill="#23a0e5"/><path d="M235.6,73.2L236.9,74.2L234.4,72.9L233.1,71.9Z" fill="#3e6fff"/><path d="M243.4,74L244.7,69L242.3,67.8L240.9,72.6Z" fill="#4269fe"/><path d="M293.2,51L294.6,46.4L292.1,46L290.8,50.5Z" fill="#31c69f"/><path d="M240.7,75.4L242,74.8L239.6,73.2L238.2,73.7Z" fill="#4563fd"/><path d="M272.4,45.4L273.8,46.2L271.3,52.8L270,52.4Z" fill="#8fcb4e"/><path d="M296.6,71.3L297.9,70.1L295.5,69.5L294.1,70.5Z" fill="#327cfc"/><path d="M274.2,83.8L275.6,80.8L273.1,79.7L271.8,82.7Z" fill="#4537d5"/><path d="M272.9,84.3L274.2,83.8L271.8,82.7L270.4,83.3Z" fill="#4537d5"/><path d="M239.4,75.9L240.7,75.4L238.2,73.7L236.9,74.2Z" fill="#4563fd"/><path d="M259,59.8L260.4,73.8L257.9,72.7L256.6,58.7Z" fill="#02bac3"/><path d="M295.3,70.9L296.6,71.3L294.1,70.5L292.8,69.4Z" fill="#2e87f7"/><path d="M297.9,70.1L299.3,63.8L296.8,63.3L295.5,69.5Z" fill="#2f81fa"/><path d="M234.2,71.7L235.6,73.2L233.1,71.9L231.8,70.3Z" fill="#2f81fa"/><path d="M273.1,79.7L274.5,67.5L272,66.5L270.7,78.7Z" fill="#4747eb"/><path d="M278.9,42.7L280.2,48.8L277.8,49.6L276.4,47.6Z" fill="#c5c22a"/><path d="M291.4,63.3L292.8,69.4L290.3,68.7L289,62.5Z" fill="#18addb"/><path d="M271.1,44.5L272.4,45.4L270,52.4L268.6,51.9Z" fill="#abc739"/><path d="M244.5,76.8L245.8,75.6L243.4,74L242,74.8Z" fill="#4563fd"/><path d="M271.6,83.5L272.9,84.3L270.4,83.3L269.1,82.4Z" fill="#4741e5"/><path d="M238,74.9L239.4,75.9L236.9,74.2L235.6,73.2Z" fill="#3e6fff"/><path d="M250.3,42.9L251.6,56.3L249.2,55.2L247.8,41.6Z" fill="#c5c22a"/><path d="M267.8,77L269.1,82.4L266.6,81.3L265.3,75.9Z" fill="#4269fe"/><path d="M285.2,50.4L286.5,61.8L284.1,61L282.7,49.6Z" fill="#64cd6f"/><path d="M243.2,77.6L244.5,76.8L242,74.8L240.7,75.4Z" fill="#465efb"/><path d="M245.8,75.6L247.2,70.3L244.7,69L243.4,74Z" fill="#4269fe"/><path d="M296.8,63.3L298.1,52L295.7,51.5L294.3,62.7Z" fill="#20a5e3"/><path d="M268.4,51L269.7,45.2L267.3,51.6L265.9,53.1Z" fill="#4acb84"/><path d="M269.5,65.4L270.9,48.7L268.4,51L267.1,65.3Z" fill="#2797eb"/><path d="M269.7,45.2L271.1,44.5L268.6,51.9L267.3,51.6Z" fill="#9dc943"/><path d="M241.8,78.1L243.2,77.6L240.7,75.4L239.4,75.9Z" fill="#465efb"/><path d="M295.7,51.5L297,46.9L294.6,46.4L293.2,51Z" fill="#3fca8e"/><path d="M232.9,70.1L234.2,71.7L231.8,70.3L230.4,68.8Z" fill="#2b91ef"/><path d="M276.7,84.8L278.1,81.8L275.6,80.8L274.2,83.8Z" fill="#463cde"/><path d="M275.4,85.4L276.7,84.8L274.2,83.8L272.9,84.3Z" fill="#4537d5"/><path d="M261.5,61L262.8,74.8L260.4,73.8L259,59.8Z" fill="#0bbdbd"/><path d="M236.7,73.3L238,74.9L235.6,73.2L234.2,71.7Z" fill="#2f81fa"/><path d="M247,79.1L248.3,77.5L245.8,75.6L244.5,76.8Z" fill="#4758f8"/><path d="M242.3,67.8L243.6,46.5L241.1,45.5L239.8,66.7Z" fill="#2e87f7"/><path d="M293.9,67.4L295.3,70.9L292.8,69.4L291.4,63.3Z" fill="#23a0e5"/><path d="M275.6,80.8L276.9,68.6L274.5,67.5L273.1,79.7Z" fill="#484df0"/><path d="M240.5,77.1L241.8,78.1L239.4,75.9L238,74.9Z" fill="#4269fe"/><path d="M245.6,80.2L247,79.1L244.5,76.8L243.2,77.6Z" fill="#4758f8"/><path d="M277.6,40L278.9,42.7L276.4,47.6L275.1,47Z" fill="#f0ba36"/><path d="M274,84.6L275.4,85.4L272.9,84.3L271.6,83.5Z" fill="#4741e5"/><path d="M252.8,44.2L254.1,57.5L251.6,56.3L250.3,42.9Z" fill="#c5c22a"/><path d="M270.2,78.2L271.6,83.5L269.1,82.4L267.8,77Z" fill="#4269fe"/><path d="M248.3,77.5L249.7,71.8L247.2,70.3L245.8,75.6Z" fill="#4563fd"/><path d="M244.3,80.8L245.6,80.2L243.2,77.6L241.8,78.1Z" fill="#4852f4"/><path d="M299.1,65.9L300.4,64.9L297.9,70.1L296.6,71.3Z" fill="#1ca9df"/><path d="M287.6,51.2L289,62.5L286.5,61.8L285.2,50.4Z" fill="#64cd6f"/><path d="M231.5,68.6L232.9,70.1L230.4,68.8L229.1,67.3Z" fill="#259be8"/><path d="M281.4,43.6L282.7,49.6L280.2,48.8L278.9,42.7Z" fill="#c5c22a"/><path d="M299.3,63.8L300.6,52.5L298.1,52L296.8,63.3Z" fill="#1ca9df"/><path d="M297.7,66.1L299.1,65.9L296.6,71.3L295.3,70.9Z" fill="#1ca9df"/><path d="M235.3,71.8L236.7,73.3L234.2,71.7L232.9,70.1Z" fill="#2d8cf3"/><path d="M300.4,64.9L301.7,60.1L299.3,63.8L297.9,70.1Z" fill="#18addb"/><path d="M249.4,81.4L250.8,79.4L248.3,77.5L247,79.1Z" fill="#4852f4"/><path d="M239.1,75.6L240.5,77.1L238,74.9L236.7,73.3Z" fill="#327cfc"/><path d="M243,79.8L244.3,80.8L241.8,78.1L240.5,77.1Z" fill="#465efb"/><path d="M298.1,52L299.5,47.3L297,46.9L295.7,51.5Z" fill="#4acb84"/><path d="M248.1,82.7L249.4,81.4L247,79.1L245.6,80.2Z" fill="#484df0"/><path d="M264,62.1L265.3,75.9L262.8,74.8L261.5,61Z" fill="#0bbdbd"/><path d="M272,66.5L273.3,49.8L270.9,48.7L269.5,65.4Z" fill="#259be8"/><path d="M276.2,38.1L277.6,40L275.1,47L273.8,46.2Z" fill="#fec338"/><path d="M244.7,69L246.1,47.6L243.6,46.5L242.3,67.8Z" fill="#2d8cf3"/><path d="M246.8,83.4L248.1,82.7L245.6,80.2L244.3,80.8Z" fill="#484df0"/><path d="M278.1,81.8L279.4,69.6L276.9,68.6L275.6,80.8Z" fill="#484df0"/><path d="M250.8,79.4L252.1,73.2L249.7,71.8L248.3,77.5Z" fill="#465efb"/><path d="M255.2,45.5L256.6,58.7L254.1,57.5L252.8,44.2Z" fill="#d1bf27"/><path d="M230.2,67.1L231.5,68.6L229.1,67.3L227.7,65.8Z" fill="#1ca9df"/><path d="M272.7,79.5L274,84.6L271.6,83.5L270.2,78.2Z" fill="#4269fe"/><path d="M296.4,65.6L297.7,66.1L295.3,70.9L293.9,67.4Z" fill="#12b1d6"/><path d="M293.5,80.8L294.8,79.9L292.4,79L291,79.9Z" fill="#465efb"/><path d="M234,70.3L235.3,71.8L232.9,70.1L231.5,68.6Z" fill="#259be8"/><path d="M245.4,82.4L246.8,83.4L244.3,80.8L243,79.8Z" fill="#4758f8"/><path d="M241.6,78.3L243,79.8L240.5,77.1L239.1,75.6Z" fill="#3e6fff"/><path d="M290.1,52L291.4,63.3L289,62.5L287.6,51.2Z" fill="#72cd64"/><path d="M294.8,79.9L296.2,76.2L293.7,75.6L292.4,79Z" fill="#4563fd"/><path d="M237.8,74L239.1,75.6L236.7,73.3L235.3,71.8Z" fill="#2e87f7"/><path d="M292.4,79L293.7,75.6L291.2,65.6L289.9,66.9Z" fill="#465efb"/><path d="M274.9,36.4L276.2,38.1L273.8,46.2L272.4,45.4Z" fill="#fad62d"/><path d="M251.9,83L253.2,80.7L250.8,79.4L249.4,81.4Z" fill="#4852f4"/><path d="M250.6,84.3L251.9,83L249.4,81.4L248.1,82.7Z" fill="#484df0"/><path d="M291,79.9L292.4,79L289.9,66.9L288.6,66.9Z" fill="#465efb"/><path d="M283.8,44.4L285.2,50.4L282.7,49.6L281.4,43.6Z" fill="#d1bf27"/><path d="M292.1,80.9L293.5,80.8L291,79.9L289.7,79.9Z" fill="#4563fd"/><path d="M292.6,63.4L293.9,67.4L291.4,63.3L290.1,52Z" fill="#08b5d0"/><path d="M249,37.5L250.3,42.9L247.8,41.6L246.5,36.1Z" fill="#fec934"/><path d="M249.2,85.1L250.6,84.3L248.1,82.7L246.8,83.4Z" fill="#484df0"/><path d="M266.4,63.3L267.8,77L265.3,75.9L264,62.1Z" fill="#0bbdbd"/><path d="M274.5,67.5L275.8,50.8L273.3,49.8L272,66.5Z" fill="#259be8"/><path d="M270.9,48.7L272.2,36.4L269.7,45.2L268.4,51Z" fill="#81cc59"/><path d="M279.2,75.1L280.5,73.5L278.1,81.8L276.7,84.8Z" fill="#2d8cf3"/><path d="M280,40.9L281.4,43.6L278.9,42.7L277.6,40Z" fill="#f0ba36"/><path d="M293.7,75.6L295,68.1L292.6,63.4L291.2,65.6Z" fill="#3875fe"/><path d="M300.6,52.5L302,47.7L299.5,47.3L298.1,52Z" fill="#57cc7a"/><path d="M228.9,65.5L230.2,67.1L227.7,65.8L226.4,64.2Z" fill="#12b1d6"/><path d="M247.2,70.3L248.5,48.6L246.1,47.6L244.7,69Z" fill="#2d8cf3"/><path d="M295,68.1L296.4,65.6L293.9,67.4L292.6,63.4Z" fill="#20a5e3"/><path d="M289.7,79.9L291,79.9L288.6,66.9L287.2,66.4Z" fill="#465efb"/><path d="M277.8,75.6L279.2,75.1L276.7,84.8L275.4,85.4Z" fill="#2d8cf3"/><path d="M301.7,60.1L303.1,51.6L300.6,52.5L299.3,63.8Z" fill="#19bfb6"/><path d="M244.1,80.9L245.4,82.4L243,79.8L241.6,78.3Z" fill="#4563fd"/><path d="M253.2,80.7L254.6,74.4L252.1,73.2L250.8,79.4Z" fill="#465efb"/><path d="M290.8,80.3L292.1,80.9L289.7,79.9L288.3,79.2Z" fill="#4269fe"/><path d="M232.7,68.7L234,70.3L231.5,68.6L230.2,67.1Z" fill="#20a5e3"/><path d="M240.3,76.7L241.6,78.3L239.1,75.6L237.8,74Z" fill="#2f81fa"/><path d="M257.7,46.8L259,59.8L256.6,58.7L255.2,45.5Z" fill="#d1bf27"/><path d="M247.9,84.1L249.2,85.1L246.8,83.4L245.4,82.4Z" fill="#4852f4"/><path d="M273.5,34.7L274.9,36.4L272.4,45.4L271.1,44.5Z" fill="#f5e327"/><path d="M236.5,72.4L237.8,74L235.3,71.8L234,70.3Z" fill="#2797eb"/><path d="M296.2,76.2L297.5,67.5L295,68.1L293.7,75.6Z" fill="#327cfc"/><path d="M276.5,75.4L277.8,75.6L275.4,85.4L274,84.6Z" fill="#2b91ef"/><path d="M295.9,81.8L297.3,80.7L294.8,79.9L293.5,80.8Z" fill="#4563fd"/><path d="M288.3,79.2L289.7,79.9L287.2,66.4L285.9,65.5Z" fill="#4269fe"/><path d="M297.3,80.7L298.6,76.8L296.2,76.2L294.8,79.9Z" fill="#4269fe"/><path d="M254.4,83.5L255.7,81.5L253.2,80.7L251.9,83Z" fill="#4758f8"/><path d="M253,84.8L254.4,83.5L251.9,83L250.6,84.3Z" fill="#4852f4"/><path d="M272.2,36.4L273.5,34.7L271.1,44.5L269.7,45.2Z" fill="#f7dc2a"/><path d="M286.3,45.3L287.6,51.2L285.2,50.4L283.8,44.4Z" fill="#dcbd29"/><path d="M294.6,82L295.9,81.8L293.5,80.8L292.1,80.9Z" fill="#4563fd"/><path d="M227.5,63.9L228.9,65.5L226.4,64.2L225.1,62.7Z" fill="#02bac3"/><path d="M268.9,65.7L270.2,78.2L267.8,77L266.4,63.3Z" fill="#02bac3"/><path d="M251.4,38.8L252.8,44.2L250.3,42.9L249,37.5Z" fill="#fec934"/><path d="M301.5,60.5L302.9,59.7L300.4,64.9L299.1,65.9Z" fill="#2cc4a7"/><path d="M280.5,73.5L281.9,67.4L279.4,69.6L278.1,81.8Z" fill="#2797eb"/><path d="M251.7,85.5L253,84.8L250.6,84.3L249.2,85.1Z" fill="#4852f4"/><path d="M278.7,39.1L280,40.9L277.6,40L276.2,38.1Z" fill="#fec338"/><path d="M276.9,68.6L278.3,51.9L275.8,50.8L274.5,67.5Z" fill="#23a0e5"/><path d="M242.7,79.2L244.1,80.9L241.6,78.3L240.3,76.7Z" fill="#3875fe"/><path d="M246.5,82.5L247.9,84.1L245.4,82.4L244.1,80.9Z" fill="#4563fd"/><path d="M243.6,46.5L244.9,36.7L242.5,37.8L241.1,45.5Z" fill="#abc739"/><path d="M231.3,67.1L232.7,68.7L230.2,67.1L228.9,65.5Z" fill="#12b1d6"/><path d="M302.9,59.7L304.2,56.4L301.7,60.1L300.4,64.9Z" fill="#2cc4a7"/><path d="M238.9,75L240.3,76.7L237.8,74L236.5,72.4Z" fill="#2d8cf3"/><path d="M289.5,77.1L290.8,80.3L288.3,79.2L287,76Z" fill="#2e87f7"/><path d="M249.7,71.8L251,49.4L248.5,48.6L247.2,70.3Z" fill="#2d8cf3"/><path d="M282.5,41.8L283.8,44.4L281.4,43.6L280,40.9Z" fill="#f8ba3d"/><path d="M235.1,70.8L236.5,72.4L234,70.3L232.7,68.7Z" fill="#20a5e3"/><path d="M300.2,61L301.5,60.5L299.1,65.9L297.7,66.1Z" fill="#2cc4a7"/><path d="M247.6,35.1L249,37.5L246.5,36.1L245.1,33.8Z" fill="#f7dc2a"/><path d="M255.7,81.5L257,75.3L254.6,74.4L253.2,80.7Z" fill="#4563fd"/><path d="M293.3,81.3L294.6,82L292.1,80.9L290.8,80.3Z" fill="#3e6fff"/><path d="M303.1,51.6L304.4,47.9L302,47.7L300.6,52.5Z" fill="#81cc59"/><path d="M260.2,48.1L261.5,61L259,59.8L257.7,46.8Z" fill="#d1bf27"/><path d="M291.2,65.6L292.6,63.4L290.1,52L288.8,46.1Z" fill="#18addb"/><path d="M250.3,84.5L251.7,85.5L249.2,85.1L247.9,84.1Z" fill="#465efb"/><path d="M287,76L288.3,79.2L285.9,65.5L284.5,64Z" fill="#2f81fa"/><path d="M275.2,73L276.5,75.4L274,84.6L272.7,79.5Z" fill="#20a5e3"/><path d="M297.5,67.5L298.8,62.1L296.4,65.6L295,68.1Z" fill="#12b1d6"/><path d="M298.8,62.1L300.2,61L297.7,66.1L296.4,65.6Z" fill="#24c1ae"/><path d="M226.2,62.4L227.5,63.9L225.1,62.7L223.7,61.2Z" fill="#24c1ae"/><path d="M298.4,82.7L299.8,81.6L297.3,80.7L295.9,81.8Z" fill="#4563fd"/><path d="M271.4,68L272.7,79.5L270.2,78.2L268.9,65.7Z" fill="#01b8ca"/><path d="M298.6,76.8L300,66.9L297.5,67.5L296.2,76.2Z" fill="#2f81fa"/><path d="M241.4,77.5L242.7,79.2L240.3,76.7L238.9,75Z" fill="#2e87f7"/><path d="M277.4,37.4L278.7,39.1L276.2,38.1L274.9,36.4Z" fill="#fad62d"/><path d="M245.2,80.9L246.5,82.5L244.1,80.9L242.7,79.2Z" fill="#3875fe"/><path d="M273.3,49.8L274.7,37.4L272.2,36.4L270.9,48.7Z" fill="#8fcb4e"/><path d="M299.8,81.6L301.1,77.4L298.6,76.8L297.3,80.7Z" fill="#4269fe"/><path d="M230,65.4L231.3,67.1L228.9,65.5L227.5,63.9Z" fill="#02bac3"/><path d="M253.9,40.1L255.2,45.5L252.8,44.2L251.4,38.8Z" fill="#fec934"/><path d="M256.8,83.6L258.2,82.9L255.7,81.5L254.4,83.5Z" fill="#4563fd"/><path d="M237.6,73.3L238.9,75L236.5,72.4L235.1,70.8Z" fill="#259be8"/><path d="M297.1,83L298.4,82.7L295.9,81.8L294.6,82Z" fill="#4269fe"/><path d="M233.8,69.1L235.1,70.8L232.7,68.7L231.3,67.1Z" fill="#18addb"/><path d="M288.8,46.1L290.1,52L287.6,51.2L286.3,45.3Z" fill="#dcbd29"/><path d="M304.2,56.4L305.5,50.6L303.1,51.6L301.7,60.1Z" fill="#4acb84"/><path d="M255.5,84.4L256.8,83.6L254.4,83.5L253,84.8Z" fill="#465efb"/><path d="M279.4,69.6L280.7,52.9L278.3,51.9L276.9,68.6Z" fill="#23a0e5"/><path d="M289.9,66.9L291.2,65.6L288.8,46.1L287.4,43.6Z" fill="#1ca9df"/><path d="M281.2,40L282.5,41.8L280,40.9L278.7,39.1Z" fill="#fec934"/><path d="M246.3,33.5L247.6,35.1L245.1,33.8L243.8,32.2Z" fill="#f6ef20"/><path d="M249,83L250.3,84.5L247.9,84.1L246.5,82.5Z" fill="#4269fe"/><path d="M258.2,82.9L259.5,80.2L257,75.3L255.7,81.5Z" fill="#4563fd"/><path d="M244.9,36.7L246.3,33.5L243.8,32.2L242.5,37.8Z" fill="#f7dc2a"/><path d="M291.9,78.2L293.3,81.3L290.8,80.3L289.5,77.1Z" fill="#2e87f7"/><path d="M250.1,36.5L251.4,38.8L249,37.5L247.6,35.1Z" fill="#f5e327"/><path d="M252.1,73.2L253.5,49.8L251,49.4L249.7,71.8Z" fill="#2d8cf3"/><path d="M285,42.7L286.3,45.3L283.8,44.4L282.5,41.8Z" fill="#febe3c"/><path d="M254.2,85L255.5,84.4L253,84.8L251.7,85.5Z" fill="#465efb"/><path d="M246.1,47.6L247.4,36.3L244.9,36.7L243.6,46.5Z" fill="#b9c431"/><path d="M262.6,49.4L264,62.1L261.5,61L260.2,48.1Z" fill="#d1bf27"/><path d="M295.7,82.4L297.1,83L294.6,82L293.3,81.3Z" fill="#3e6fff"/><path d="M224.8,60.8L226.2,62.4L223.7,61.2L222.4,59.6Z" fill="#31c69f"/><path d="M260.6,85L262,86.5L259.5,80.2L258.2,82.9Z" fill="#465efb"/><path d="M276,35.8L277.4,37.4L274.9,36.4L273.5,34.7Z" fill="#f5e924"/><path d="M240.1,75.7L241.4,77.5L238.9,75L237.6,73.3Z" fill="#2797eb"/><path d="M243.9,79.2L245.2,80.9L242.7,79.2L241.4,77.5Z" fill="#2e87f7"/><path d="M228.6,63.7L230,65.4L227.5,63.9L226.2,62.4Z" fill="#24c1ae"/><path d="M288.6,66.9L289.9,66.9L287.4,43.6L286.1,41.9Z" fill="#18addb"/><path d="M285.7,67.7L287,76L284.5,64L283.2,63Z" fill="#01b8ca"/><path d="M263.1,88.6L264.4,95.2L262,86.5L260.6,85Z" fill="#4852f4"/><path d="M252.8,84L254.2,85L251.7,85.5L250.3,84.5Z" fill="#4269fe"/><path d="M236.3,71.4L237.6,73.3L235.1,70.8L233.8,69.1Z" fill="#1ca9df"/><path d="M305.5,50.6L306.9,48.1L304.4,47.9L303.1,51.6Z" fill="#abc739"/><path d="M232.5,67.3L233.8,69.1L231.3,67.1L230,65.4Z" fill="#01b8ca"/><path d="M281.9,67.4L283.2,63L280.7,52.9L279.4,69.6Z" fill="#08b5d0"/><path d="M266.9,96.6L268.2,91.7L265.8,84.9L264.4,95.2Z" fill="#3e26a8"/><path d="M288.1,68.7L289.5,77.1L287,76L285.7,67.7Z" fill="#01b8ca"/><path d="M256.3,41.4L257.7,46.8L255.2,45.5L253.9,40.1Z" fill="#fec934"/><path d="M247.7,81.4L249,83L246.5,82.5L245.2,80.9Z" fill="#327cfc"/><path d="M279.8,38.4L281.2,40L278.7,39.1L277.4,37.4Z" fill="#f7dc2a"/><path d="M275.8,50.8L277.1,38.5L274.7,37.4L273.3,49.8Z" fill="#8fcb4e"/><path d="M259.3,83.9L260.6,85L258.2,82.9L256.8,83.6Z" fill="#4269fe"/><path d="M274.7,37.4L276,35.8L273.5,34.7L272.2,36.4Z" fill="#f7dc2a"/><path d="M248.7,34.8L250.1,36.5L247.6,35.1L246.3,33.5Z" fill="#f6ef20"/><path d="M301.1,77.4L302.4,66.2L300,66.9L298.6,76.8Z" fill="#2e87f7"/><path d="M283.6,41L285,42.7L282.5,41.8L281.2,40Z" fill="#fec934"/><path d="M223.5,59.2L224.8,60.8L222.4,59.6L221,58.1Z" fill="#4acb84"/><path d="M252.5,37.8L253.9,40.1L251.4,38.8L250.1,36.5Z" fill="#f5e327"/><path d="M269.6,92.2L270.9,88.2L268.5,82.4L267.1,84.9Z" fill="#4537d5"/><path d="M294.4,79.2L295.7,82.4L293.3,81.3L291.9,78.2Z" fill="#2d8cf3"/><path d="M300,66.9L301.3,58.6L298.8,62.1L297.5,67.5Z" fill="#01b8ca"/><path d="M265.6,87.8L266.9,96.6L264.4,95.2L263.1,88.6Z" fill="#465efb"/><path d="M273.8,67.5L275.2,73L272.7,79.5L271.4,68Z" fill="#0bbdbd"/><path d="M268.2,91.7L269.6,92.2L267.1,84.9L265.8,84.9Z" fill="#463cde"/><path d="M287.2,66.4L288.6,66.9L286.1,41.9L284.7,40.4Z" fill="#12b1d6"/><path d="M287.4,43.6L288.8,46.1L286.3,45.3L285,42.7Z" fill="#febe3c"/><path d="M254.6,74.4L255.9,49.5L253.5,49.8L252.1,73.2Z" fill="#2d8cf3"/><path d="M258,84.1L259.3,83.9L256.8,83.6L255.5,84.4Z" fill="#3e6fff"/><path d="M265.1,50.7L266.4,63.3L264,62.1L262.6,49.4Z" fill="#d1bf27"/><path d="M247.4,36.3L248.7,34.8L246.3,33.5L244.9,36.7Z" fill="#f5e924"/><path d="M251.5,82.5L252.8,84L250.3,84.5L249,83Z" fill="#327cfc"/><path d="M305.3,54.5L306.7,52.7L304.2,56.4L302.9,59.7Z" fill="#8fcb4e"/><path d="M227.3,62.1L228.6,63.7L226.2,62.4L224.8,60.8Z" fill="#31c69f"/><path d="M281.6,65.3L283,64.7L280.5,73.5L279.2,75.1Z" fill="#2cc4a7"/><path d="M264.4,95.2L265.8,84.9L263.3,68.7L262,86.5Z" fill="#3e26a8"/><path d="M242.5,77.3L243.9,79.2L241.4,77.5L240.1,75.7Z" fill="#2797eb"/><path d="M304,55.1L305.3,54.5L302.9,59.7L301.5,60.5Z" fill="#8fcb4e"/><path d="M300.9,77.3L302.2,76.3L299.8,81.6L298.4,82.7Z" fill="#2797eb"/><path d="M238.7,73.7L240.1,75.7L237.6,73.3L236.3,71.4Z" fill="#20a5e3"/><path d="M248.5,48.6L249.9,36.5L247.4,36.3L246.1,47.6Z" fill="#b9c431"/><path d="M234.9,69.4L236.3,71.4L233.8,69.1L232.5,67.3Z" fill="#08b5d0"/><path d="M231.1,65.4L232.5,67.3L230,65.4L228.6,63.7Z" fill="#19bfb6"/><path d="M283,64.7L284.3,63.6L281.9,67.4L280.5,73.5Z" fill="#2cc4a7"/><path d="M284.3,63.6L285.7,67.7L283.2,63L281.9,67.4Z" fill="#31c69f"/><path d="M272.1,93.3L273.4,89.3L270.9,88.2L269.6,92.2Z" fill="#4537d5"/><path d="M302.2,76.3L303.6,72.9L301.1,77.4L299.8,81.6Z" fill="#259be8"/><path d="M270.7,92.5L272.1,93.3L269.6,92.2L268.2,91.7Z" fill="#4741e5"/><path d="M256.6,84.5L258,84.1L255.5,84.4L254.2,85Z" fill="#3e6fff"/><path d="M280.3,65.8L281.6,65.3L279.2,75.1L277.8,75.6Z" fill="#2cc4a7"/><path d="M278.5,36.9L279.8,38.4L277.4,37.4L276,35.8Z" fill="#f5e924"/><path d="M246.3,79.7L247.7,81.4L245.2,80.9L243.9,79.2Z" fill="#2d8cf3"/><path d="M302.6,55.9L304,55.1L301.5,60.5L300.2,61Z" fill="#81cc59"/><path d="M299.5,77.6L300.9,77.3L298.4,82.7L297.1,83Z" fill="#2797eb"/><path d="M270.9,88.2L272.3,82.2L269.8,78.4L268.5,82.4Z" fill="#4852f4"/><path d="M269.4,93.7L270.7,92.5L268.2,91.7L266.9,96.6Z" fill="#463cde"/><path d="M306.7,52.7L308,49.7L305.5,50.6L304.2,56.4Z" fill="#abc739"/><path d="M301.3,58.6L302.6,55.9L300.2,61L298.8,62.1Z" fill="#64cd6f"/><path d="M261.8,85.1L263.1,88.6L260.6,85L259.3,83.9Z" fill="#3e6fff"/><path d="M258.8,42.8L260.2,48.1L257.7,46.8L256.3,41.4Z" fill="#fec934"/><path d="M290.6,69.8L291.9,78.2L289.5,77.1L288.1,68.7Z" fill="#02bac3"/><path d="M278.3,51.9L279.6,39.5L277.1,38.5L275.8,50.8Z" fill="#9dc943"/><path d="M285.9,65.5L287.2,66.4L284.7,40.4L283.4,39Z" fill="#01b8ca"/><path d="M222.2,57.7L223.5,59.2L221,58.1L219.7,56.6Z" fill="#64cd6f"/><path d="M282.3,39.4L283.6,41L281.2,40L279.8,38.4Z" fill="#f7dc2a"/><path d="M279,66.1L280.3,65.8L277.8,75.6L276.5,75.4Z" fill="#2cc4a7"/><path d="M251.2,36.1L252.5,37.8L250.1,36.5L248.7,34.8Z" fill="#f6ef20"/><path d="M267.5,56.4L268.9,65.7L266.4,63.3L265.1,50.7Z" fill="#8fcb4e"/><path d="M277.1,38.5L278.5,36.9L276,35.8L274.7,37.4Z" fill="#f5e327"/><path d="M308,49.7L309.3,48.3L306.9,48.1L305.5,50.6Z" fill="#d1bf27"/><path d="M255.3,83.5L256.6,84.5L254.2,85L252.8,84Z" fill="#327cfc"/><path d="M298.2,77.3L299.5,77.6L297.1,83L295.7,82.4Z" fill="#259be8"/><path d="M255,39.1L256.3,41.4L253.9,40.1L252.5,37.8Z" fill="#f5e327"/><path d="M250.1,80.9L251.5,82.5L249,83L247.7,81.4Z" fill="#2e87f7"/><path d="M226,60.4L227.3,62.1L224.8,60.8L223.5,59.2Z" fill="#4acb84"/><path d="M286.1,41.9L287.4,43.6L285,42.7L283.6,41Z" fill="#fccf30"/><path d="M283.2,63L284.5,64L282.1,40.6L280.7,52.9Z" fill="#24c1ae"/><path d="M241.2,75.3L242.5,77.3L240.1,75.7L238.7,73.7Z" fill="#20a5e3"/><path d="M237.4,71.5L238.7,73.7L236.3,71.4L234.9,69.4Z" fill="#12b1d6"/><path d="M273.4,89.3L274.7,83.2L272.3,82.2L270.9,88.2Z" fill="#4852f4"/><path d="M229.8,63.6L231.1,65.4L228.6,63.7L227.3,62.1Z" fill="#31c69f"/><path d="M233.6,67.3L234.9,69.4L232.5,67.3L231.1,65.4Z" fill="#19bfb6"/><path d="M270,62.1L271.4,68L268.9,65.7L267.5,56.4Z" fill="#3fca8e"/><path d="M284.5,64L285.9,65.5L283.4,39L282.1,40.6Z" fill="#0bbdbd"/><path d="M245,77.8L246.3,79.7L243.9,79.2L242.5,77.3Z" fill="#259be8"/><path d="M272.3,82.2L273.6,75.8L271.1,73.5L269.8,78.4Z" fill="#327cfc"/><path d="M249.9,36.5L251.2,36.1L248.7,34.8L247.4,36.3Z" fill="#f6ef20"/><path d="M267.1,84.9L268.5,82.4L266,66.8L264.7,67.3Z" fill="#4563fd"/><path d="M260.4,84.3L261.8,85.1L259.3,83.9L258,84.1Z" fill="#3875fe"/><path d="M277.6,66.2L279,66.1L276.5,75.4L275.2,73Z" fill="#2cc4a7"/><path d="M257,75.3L258.4,48.5L255.9,49.5L254.6,74.4Z" fill="#2b91ef"/><path d="M268.5,82.4L269.8,78.4L267.3,65.6L266,66.8Z" fill="#3e6fff"/><path d="M262,86.5L263.3,68.7L260.9,56.8L259.5,80.2Z" fill="#4852f4"/><path d="M251,49.4L252.3,37.2L249.9,36.5L248.5,48.6Z" fill="#c5c22a"/><path d="M286.8,64.6L288.1,68.7L285.7,67.7L284.3,63.6Z" fill="#31c69f"/><path d="M220.8,56.1L222.2,57.7L219.7,56.6L218.4,55.1Z" fill="#8fcb4e"/><path d="M265.8,84.9L267.1,84.9L264.7,67.3L263.3,68.7Z" fill="#4563fd"/><path d="M280.9,37.9L282.3,39.4L279.8,38.4L278.5,36.9Z" fill="#f6ef20"/><path d="M303.6,72.9L304.9,63.8L302.4,66.2L301.1,77.4Z" fill="#18addb"/><path d="M253.9,81.9L255.3,83.5L252.8,84L251.5,82.5Z" fill="#2e87f7"/><path d="M268,84.7L269.4,93.7L266.9,96.6L265.6,87.8Z" fill="#2f81fa"/><path d="M261.3,44.1L262.6,49.4L260.2,48.1L258.8,42.8Z" fill="#fec934"/><path d="M269.8,78.4L271.1,73.5L268.7,63.8L267.3,65.6Z" fill="#2d8cf3"/><path d="M296.9,74.8L298.2,77.3L295.7,82.4L294.4,79.2Z" fill="#18addb"/><path d="M248.8,79.3L250.1,80.9L247.7,81.4L246.3,79.7Z" fill="#2797eb"/><path d="M293.1,70.8L294.4,79.2L291.9,78.2L290.6,69.8Z" fill="#02bac3"/><path d="M259.1,84.4L260.4,84.3L258,84.1L256.6,84.5Z" fill="#327cfc"/><path d="M224.6,58.8L226,60.4L223.5,59.2L222.2,57.7Z" fill="#72cd64"/><path d="M272.5,67.6L273.8,67.5L271.4,68L270,62.1Z" fill="#19bfb6"/><path d="M280.7,52.9L282.1,40.6L279.6,39.5L278.3,51.9Z" fill="#9dc943"/><path d="M302.4,66.2L303.8,55.1L301.3,58.6L300,66.9Z" fill="#19bfb6"/><path d="M284.7,40.4L286.1,41.9L283.6,41L282.3,39.4Z" fill="#f5e327"/><path d="M264.2,83L265.6,87.8L263.1,88.6L261.8,85.1Z" fill="#2e87f7"/><path d="M253.7,37.5L255,39.1L252.5,37.8L251.2,36.1Z" fill="#f6ef20"/><path d="M259.5,80.2L260.9,56.8L258.4,48.5L257,75.3Z" fill="#3875fe"/><path d="M279.6,39.5L280.9,37.9L278.5,36.9L277.1,38.5Z" fill="#f5e327"/><path d="M257.5,40.5L258.8,42.8L256.3,41.4L255,39.1Z" fill="#f5e327"/><path d="M228.4,61.7L229.8,63.6L227.3,62.1L226,60.4Z" fill="#4acb84"/><path d="M239.8,73L241.2,75.3L238.7,73.7L237.4,71.5Z" fill="#12b1d6"/><path d="M236,69.1L237.4,71.5L234.9,69.4L233.6,67.3Z" fill="#0bbdbd"/><path d="M274.5,88.1L275.9,85.6L273.4,89.3L272.1,93.3Z" fill="#4269fe"/><path d="M232.2,65.2L233.6,67.3L231.1,65.4L229.8,63.6Z" fill="#31c69f"/><path d="M271.1,73.5L272.5,67.6L270,62.1L268.7,63.8Z" fill="#1ca9df"/><path d="M243.7,75.8L245,77.8L242.5,77.3L241.2,75.3Z" fill="#1ca9df"/><path d="M274.7,83.2L276.1,76.8L273.6,75.8L272.3,82.2Z" fill="#327cfc"/><path d="M273.2,87.3L274.5,88.1L272.1,93.3L270.7,92.5Z" fill="#3875fe"/><path d="M276.3,65.8L277.6,66.2L275.2,73L273.8,67.5Z" fill="#31c69f"/><path d="M285.4,65.8L286.8,64.6L284.3,63.6L283,64.7Z" fill="#2cc4a7"/><path d="M219.5,54.6L220.8,56.1L218.4,55.1L217,53.5Z" fill="#abc739"/><path d="M257.7,83.3L259.1,84.4L256.6,84.5L255.3,83.5Z" fill="#2e87f7"/><path d="M310.5,48.8L311.8,48.5L309.3,48.3L308,49.7Z" fill="#f0ba36"/><path d="M273.6,75.8L274.9,68.8L272.5,67.6L271.1,73.5Z" fill="#20a5e3"/><path d="M252.6,80.4L253.9,81.9L251.5,82.5L250.1,80.9Z" fill="#2797eb"/><path d="M309.1,49L310.5,48.8L308,49.7L306.7,52.7Z" fill="#f0ba36"/><path d="M252.3,37.2L253.7,37.5L251.2,36.1L249.9,36.5Z" fill="#f7f51b"/><path d="M284.1,66.4L285.4,65.8L283,64.7L281.6,65.3Z" fill="#2cc4a7"/><path d="M307.8,49.3L309.1,49L306.7,52.7L305.3,54.5Z" fill="#f8ba3d"/><path d="M268.7,63.8L270,62.1L267.5,56.4L266.2,54.5Z" fill="#31c69f"/><path d="M223.3,57.2L224.6,58.8L222.2,57.7L220.8,56.1Z" fill="#8fcb4e"/><path d="M289.3,65.7L290.6,69.8L288.1,68.7L286.8,64.6Z" fill="#37c897"/><path d="M247.5,77.5L248.8,79.3L246.3,79.7L245,77.8Z" fill="#20a5e3"/><path d="M253.5,49.8L254.8,38.1L252.3,37.2L251,49.4Z" fill="#d1bf27"/><path d="M283.4,39L284.7,40.4L282.3,39.4L280.9,37.9Z" fill="#f6ef20"/><path d="M275.9,85.6L277.2,81.6L274.7,83.2L273.4,89.3Z" fill="#327cfc"/><path d="M263.7,45.4L265.1,50.7L262.6,49.4L261.3,44.1Z" fill="#fec934"/><path d="M271.8,86.5L273.2,87.3L270.7,92.5L269.4,93.7Z" fill="#327cfc"/><path d="M306.5,49.7L307.8,49.3L305.3,54.5L304,55.1Z" fill="#f8ba3d"/><path d="M282.8,66.8L284.1,66.4L281.6,65.3L280.3,65.8Z" fill="#2cc4a7"/><path d="M227.1,60L228.4,61.7L226,60.4L224.6,58.8Z" fill="#72cd64"/><path d="M274.9,68.8L276.3,65.8L273.8,67.5L272.5,67.6Z" fill="#19bfb6"/><path d="M256.1,38.8L257.5,40.5L255,39.1L253.7,37.5Z" fill="#f7f51b"/><path d="M262.9,81.6L264.2,83L261.8,85.1L260.4,84.3Z" fill="#2797eb"/><path d="M267.3,65.6L268.7,63.8L266.2,54.5L264.9,54Z" fill="#2cc4a7"/><path d="M303.8,55.1L305.1,50.9L302.6,55.9L301.3,58.6Z" fill="#b9c431"/><path d="M266.2,54.5L267.5,56.4L265.1,50.7L263.7,45.4Z" fill="#b9c431"/><path d="M259.9,41.8L261.3,44.1L258.8,42.8L257.5,40.5Z" fill="#f5e327"/><path d="M230.9,63.2L232.2,65.2L229.8,63.6L228.4,61.7Z" fill="#4acb84"/><path d="M303.3,70.3L304.7,69.5L302.2,76.3L300.9,77.3Z" fill="#19bfb6"/><path d="M238.5,70.5L239.8,73L237.4,71.5L236,69.1Z" fill="#0bbdbd"/><path d="M282.1,40.6L283.4,39L280.9,37.9L279.6,39.5Z" fill="#f5e924"/><path d="M234.7,66.8L236,69.1L233.6,67.3L232.2,65.2Z" fill="#31c69f"/><path d="M256.4,81.8L257.7,83.3L255.3,83.5L253.9,81.9Z" fill="#2b91ef"/><path d="M304.7,69.5L306,67L303.6,72.9L302.2,76.3Z" fill="#24c1ae"/><path d="M305.1,50.9L306.5,49.7L304,55.1L302.6,55.9Z" fill="#f0ba36"/><path d="M218.1,53.1L219.5,54.6L217,53.5L215.7,52Z" fill="#d1bf27"/><path d="M242.3,73.6L243.7,75.8L241.2,75.3L239.8,73Z" fill="#08b5d0"/><path d="M281.4,67.2L282.8,66.8L280.3,65.8L279,66.1Z" fill="#2cc4a7"/><path d="M251.3,78.8L252.6,80.4L250.1,80.9L248.8,79.3Z" fill="#20a5e3"/><path d="M266,66.8L267.3,65.6L264.9,54L263.5,53.5Z" fill="#24c1ae"/><path d="M302,70.7L303.3,70.3L300.9,77.3L299.5,77.6Z" fill="#19bfb6"/><path d="M276.1,76.8L277.4,69.8L274.9,68.8L273.6,75.8Z" fill="#20a5e3"/><path d="M287.9,66.8L289.3,65.7L286.8,64.6L285.4,65.8Z" fill="#31c69f"/><path d="M221.9,55.7L223.3,57.2L220.8,56.1L219.5,54.6Z" fill="#b9c431"/><path d="M295.5,68.2L296.9,74.8L294.4,79.2L293.1,70.8Z" fill="#31c69f"/><path d="M261.5,81.4L262.9,81.6L260.4,84.3L259.1,84.4Z" fill="#2797eb"/><path d="M246.1,75.7L247.5,77.5L245,77.8L243.7,75.8Z" fill="#12b1d6"/><path d="M277.2,81.6L278.5,76.7L276.1,76.8L274.7,83.2Z" fill="#2b91ef"/><path d="M280.1,67.2L281.4,67.2L279,66.1L277.6,66.2Z" fill="#31c69f"/><path d="M254.8,38.1L256.1,38.8L253.7,37.5L252.3,37.2Z" fill="#f9fb15"/><path d="M304.9,63.8L306.2,54.8L303.8,55.1L302.4,66.2Z" fill="#3fca8e"/><path d="M286.6,67.5L287.9,66.8L285.4,65.8L284.1,66.4Z" fill="#2cc4a7"/><path d="M312.9,49.3L314.3,49L311.8,48.5L310.5,48.8Z" fill="#f8ba3d"/><path d="M264.7,67.3L266,66.8L263.5,53.5L262.2,52.8Z" fill="#24c1ae"/><path d="M216.8,53.5L218.1,53.1L215.7,52L214.3,52.5Z" fill="#d1bf27"/><path d="M225.8,58.4L227.1,60L224.6,58.8L223.3,57.2Z" fill="#9dc943"/><path d="M291.7,66.7L293.1,70.8L290.6,69.8L289.3,65.7Z" fill="#37c897"/><path d="M266.7,80.2L268,84.7L265.6,87.8L264.2,83Z" fill="#20a5e3"/><path d="M300.7,70.6L302,70.7L299.5,77.6L298.2,77.3Z" fill="#24c1ae"/><path d="M263.3,68.7L264.7,67.3L262.2,52.8L260.9,56.8Z" fill="#0bbdbd"/><path d="M255.9,49.5L257.3,39.1L254.8,38.1L253.5,49.8Z" fill="#f0ba36"/><path d="M255.1,80.2L256.4,81.8L253.9,81.9L252.6,80.4Z" fill="#23a0e5"/><path d="M229.6,61.3L230.9,63.2L228.4,61.7L227.1,60Z" fill="#72cd64"/><path d="M306,67L307.4,60.6L304.9,63.8L303.6,72.9Z" fill="#31c69f"/><path d="M258.6,40.2L259.9,41.8L257.5,40.5L256.1,38.8Z" fill="#f7f51b"/><path d="M285.2,67.9L286.6,67.5L284.1,66.4L282.8,66.8Z" fill="#2cc4a7"/><path d="M215.5,54L216.8,53.5L214.3,52.5L213,52.9Z" fill="#d1bf27"/><path d="M233.4,64.6L234.7,66.8L232.2,65.2L230.9,63.2Z" fill="#4acb84"/><path d="M278.7,66.9L280.1,67.2L277.6,66.2L276.3,65.8Z" fill="#37c897"/><path d="M260.2,80.6L261.5,81.4L259.1,84.4L257.7,83.3Z" fill="#23a0e5"/><path d="M311.6,49.6L312.9,49.3L310.5,48.8L309.1,49Z" fill="#f8ba3d"/><path d="M237.2,68.1L238.5,70.5L236,69.1L234.7,66.8Z" fill="#31c69f"/><path d="M264.9,54L266.2,54.5L263.7,45.4L262.4,43.2Z" fill="#c5c22a"/><path d="M262.4,43.2L263.7,45.4L261.3,44.1L259.9,41.8Z" fill="#f5e327"/><path d="M249.9,77.1L251.3,78.8L248.8,79.3L247.5,77.5Z" fill="#18addb"/><path d="M270.5,79.4L271.8,86.5L269.4,93.7L268,84.7Z" fill="#18addb"/><path d="M241,71.2L242.3,73.6L239.8,73L238.5,70.5Z" fill="#19bfb6"/><path d="M277.4,69.8L278.7,66.9L276.3,65.8L274.9,68.8Z" fill="#19bfb6"/><path d="M220.6,54.1L221.9,55.7L219.5,54.6L218.1,53.1Z" fill="#d1bf27"/><path d="M283.9,68.2L285.2,67.9L282.8,66.8L281.4,67.2Z" fill="#31c69f"/><path d="M310.3,49.9L311.6,49.6L309.1,49L307.8,49.3Z" fill="#febe3c"/><path d="M244.8,73.6L246.1,75.7L243.7,75.8L242.3,73.6Z" fill="#02bac3"/><path d="M299.3,69L300.7,70.6L298.2,77.3L296.9,74.8Z" fill="#37c897"/><path d="M224.4,56.8L225.8,58.4L223.3,57.2L221.9,55.7Z" fill="#b9c431"/><path d="M290.4,67.9L291.7,66.7L289.3,65.7L287.9,66.8Z" fill="#31c69f"/><path d="M277,83.2L278.3,82L275.9,85.6L274.5,88.1Z" fill="#2797eb"/><path d="M278.5,76.7L279.9,70.5L277.4,69.8L276.1,76.8Z" fill="#18addb"/><path d="M282.6,68.3L283.9,68.2L281.4,67.2L280.1,67.2Z" fill="#31c69f"/><path d="M257.3,39.1L258.6,40.2L256.1,38.8L254.8,38.1Z" fill="#f9fb15"/><path d="M278.3,82L279.7,80L277.2,81.6L275.9,85.6Z" fill="#259be8"/><path d="M253.7,78.7L255.1,80.2L252.6,80.4L251.3,78.8Z" fill="#1ca9df"/><path d="M289,68.5L290.4,67.9L287.9,66.8L286.6,67.5Z" fill="#31c69f"/><path d="M258.9,79.4L260.2,80.6L257.7,83.3L256.4,81.8Z" fill="#1ca9df"/><path d="M308.9,50.3L310.3,49.9L307.8,49.3L306.5,49.7Z" fill="#febe3c"/><path d="M228.2,59.6L229.6,61.3L227.1,60L225.8,58.4Z" fill="#9dc943"/><path d="M263.5,53.5L264.9,54L262.4,43.2L261.1,41.6Z" fill="#d1bf27"/><path d="M219.3,54.6L220.6,54.1L218.1,53.1L216.8,53.5Z" fill="#d1bf27"/><path d="M275.6,82.2L277,83.2L274.5,88.1L273.2,87.3Z" fill="#23a0e5"/><path d="M306.2,54.8L307.6,51.3L305.1,50.9L303.8,55.1Z" fill="#d1bf27"/><path d="M265.4,78.9L266.7,80.2L264.2,83L262.9,81.6Z" fill="#18addb"/><path d="M315.4,49.8L316.7,49.4L314.3,49L312.9,49.3Z" fill="#febe3c"/><path d="M232,62.6L233.4,64.6L230.9,63.2L229.6,61.3Z" fill="#72cd64"/><path d="M248.6,75.4L249.9,77.1L247.5,77.5L246.1,75.7Z" fill="#01b8ca"/><path d="M261.1,41.6L262.4,43.2L259.9,41.8L258.6,40.2Z" fill="#f7f51b"/><path d="M307.6,51.3L308.9,50.3L306.5,49.7L305.1,50.9Z" fill="#f8ba3d"/><path d="M287.7,68.9L289,68.5L286.6,67.5L285.2,67.9Z" fill="#31c69f"/><path d="M235.8,65.8L237.2,68.1L234.7,66.8L233.4,64.6Z" fill="#4acb84"/><path d="M279.7,80L281,76.6L278.5,76.7L277.2,81.6Z" fill="#20a5e3"/><path d="M217.9,55L219.3,54.6L216.8,53.5L215.5,54Z" fill="#d1bf27"/><path d="M281.2,67.9L282.6,68.3L280.1,67.2L278.7,66.9Z" fill="#37c897"/><path d="M239.6,68.9L241,71.2L238.5,70.5L237.2,68.1Z" fill="#37c897"/><path d="M258.4,48.5L259.7,40.2L257.3,39.1L255.9,49.5Z" fill="#fec338"/><path d="M294.2,65L295.5,68.2L293.1,70.8L291.7,66.7Z" fill="#64cd6f"/><path d="M314.1,50.1L315.4,49.8L312.9,49.3L311.6,49.6Z" fill="#fec338"/><path d="M279.9,70.5L281.2,67.9L278.7,66.9L277.4,69.8Z" fill="#24c1ae"/><path d="M260.9,56.8L262.2,52.8L259.7,40.2L258.4,48.5Z" fill="#abc739"/><path d="M223.1,55.2L224.4,56.8L221.9,55.7L220.6,54.1Z" fill="#dcbd29"/><path d="M307.4,60.6L308.7,54.3L306.2,54.8L304.9,63.8Z" fill="#8fcb4e"/><path d="M286.4,69.3L287.7,68.9L285.2,67.9L283.9,68.2Z" fill="#31c69f"/><path d="M243.4,71.5L244.8,73.6L242.3,73.6L241,71.2Z" fill="#24c1ae"/><path d="M262.2,52.8L263.5,53.5L261.1,41.6L259.7,40.2Z" fill="#e6bb2d"/><path d="M252.4,77.1L253.7,78.7L251.3,78.8L249.9,77.1Z" fill="#08b5d0"/><path d="M257.5,78.3L258.9,79.4L256.4,81.8L255.1,80.2Z" fill="#12b1d6"/><path d="M264,78.8L265.4,78.9L262.9,81.6L261.5,81.4Z" fill="#12b1d6"/><path d="M226.9,57.9L228.2,59.6L225.8,58.4L224.4,56.8Z" fill="#c5c22a"/><path d="M274.3,79.4L275.6,82.2L273.2,87.3L271.8,86.5Z" fill="#12b1d6"/><path d="M312.7,50.5L314.1,50.1L311.6,49.6L310.3,49.9Z" fill="#fec338"/><path d="M259.7,40.2L261.1,41.6L258.6,40.2L257.3,39.1Z" fill="#f9fb15"/><path d="M285,69.3L286.4,69.3L283.9,68.2L282.6,68.3Z" fill="#37c897"/><path d="M298,64.6L299.3,69L296.9,74.8L295.5,68.2Z" fill="#81cc59"/><path d="M230.7,60.7L232,62.6L229.6,61.3L228.2,59.6Z" fill="#9dc943"/><path d="M247.2,73.6L248.6,75.4L246.1,75.7L244.8,73.6Z" fill="#19bfb6"/><path d="M281,76.6L282.3,71.2L279.9,70.5L278.5,76.7Z" fill="#08b5d0"/><path d="M221.7,55.6L223.1,55.2L220.6,54.1L219.3,54.6Z" fill="#dcbd29"/><path d="M292.8,66L294.2,65L291.7,66.7L290.4,67.9Z" fill="#57cc7a"/><path d="M307.1,62.7L308.5,61.1L306,67L304.7,69.5Z" fill="#8fcb4e"/><path d="M311.4,50.9L312.7,50.5L310.3,49.9L308.9,50.3Z" fill="#fec338"/><path d="M269.2,76.7L270.5,79.4L268,84.7L266.7,80.2Z" fill="#02bac3"/><path d="M234.5,63.7L235.8,65.8L233.4,64.6L232,62.6Z" fill="#81cc59"/><path d="M262.7,78.2L264,78.8L261.5,81.4L260.2,80.6Z" fill="#08b5d0"/><path d="M305.8,63.3L307.1,62.7L304.7,69.5L303.3,70.3Z" fill="#8fcb4e"/><path d="M238.3,66.7L239.6,68.9L237.2,68.1L235.8,65.8Z" fill="#57cc7a"/><path d="M317.9,50.2L319.2,49.8L316.7,49.4L315.4,49.8Z" fill="#fec934"/><path d="M291.5,66.6L292.8,66L290.4,67.9L289,68.5Z" fill="#57cc7a"/><path d="M308.7,54.3L310,51.7L307.6,51.3L306.2,54.8Z" fill="#f0ba36"/><path d="M220.4,56.1L221.7,55.6L219.3,54.6L217.9,55Z" fill="#dcbd29"/><path d="M310,51.7L311.4,50.9L308.9,50.3L307.6,51.3Z" fill="#febe3c"/><path d="M283.7,68.8L285,69.3L282.6,68.3L281.2,67.9Z" fill="#3fca8e"/><path d="M256.2,77.2L257.5,78.3L255.1,80.2L253.7,78.7Z" fill="#01b8ca"/><path d="M251,75.5L252.4,77.1L249.9,77.1L248.6,75.4Z" fill="#0bbdbd"/><path d="M304.5,63.7L305.8,63.3L303.3,70.3L302,70.7Z" fill="#8fcb4e"/><path d="M242.1,69.4L243.4,71.5L241,71.2L239.6,68.9Z" fill="#3fca8e"/><path d="M308.5,61.1L309.8,57.4L307.4,60.6L306,67Z" fill="#abc739"/><path d="M225.5,56.3L226.9,57.9L224.4,56.8L223.1,55.2Z" fill="#dcbd29"/><path d="M282.3,71.2L283.7,68.8L281.2,67.9L279.9,70.5Z" fill="#2cc4a7"/><path d="M290.2,67L291.5,66.6L289,68.5L287.7,68.9Z" fill="#57cc7a"/><path d="M316.5,50.6L317.9,50.2L315.4,49.8L314.1,50.1Z" fill="#fec934"/><path d="M229.3,59L230.7,60.7L228.2,59.6L226.9,57.9Z" fill="#c5c22a"/><path d="M261.3,77.5L262.7,78.2L260.2,80.6L258.9,79.4Z" fill="#02bac3"/><path d="M245.9,71.7L247.2,73.6L244.8,73.6L243.4,71.5Z" fill="#31c69f"/><path d="M303.1,63.9L304.5,63.7L302,70.7L300.7,70.6Z" fill="#8fcb4e"/><path d="M288.8,67.4L290.2,67L287.7,68.9L286.4,69.3Z" fill="#57cc7a"/><path d="M315.2,51.1L316.5,50.6L314.1,50.1L312.7,50.5Z" fill="#fec934"/><path d="M233.1,61.8L234.5,63.7L232,62.6L230.7,60.7Z" fill="#abc739"/><path d="M280.8,76.6L282.1,75.5L279.7,80L278.3,82Z" fill="#0bbdbd"/><path d="M267.8,76.1L269.2,76.7L266.7,80.2L265.4,78.9Z" fill="#0bbdbd"/><path d="M224.2,56.7L225.5,56.3L223.1,55.2L221.7,55.6Z" fill="#dcbd29"/><path d="M273,74.2L274.3,79.4L271.8,86.5L270.5,79.4Z" fill="#2cc4a7"/><path d="M254.9,76L256.2,77.2L253.7,78.7L252.4,77.1Z" fill="#0bbdbd"/><path d="M282.1,75.5L283.5,73.3L281,76.6L279.7,80Z" fill="#19bfb6"/><path d="M279.4,77.1L280.8,76.6L278.3,82L277,83.2Z" fill="#0bbdbd"/><path d="M237,64.7L238.3,66.7L235.8,65.8L234.5,63.7Z" fill="#81cc59"/><path d="M309.8,57.4L311.2,53.8L308.7,54.3L307.4,60.6Z" fill="#dcbd29"/><path d="M249.7,73.9L251,75.5L248.6,75.4L247.2,73.6Z" fill="#24c1ae"/><path d="M313.8,51.5L315.2,51.1L312.7,50.5L311.4,50.9Z" fill="#fec934"/><path d="M296.6,62.6L298,64.6L295.5,68.2L294.2,65Z" fill="#abc739"/><path d="M287.5,67.5L288.8,67.4L286.4,69.3L285,69.3Z" fill="#64cd6f"/><path d="M301.8,63.3L303.1,63.9L300.7,70.6L299.3,69Z" fill="#abc739"/><path d="M222.9,57.2L224.2,56.7L221.7,55.6L220.4,56.1Z" fill="#dcbd29"/><path d="M240.8,67.4L242.1,69.4L239.6,68.9L238.3,66.7Z" fill="#64cd6f"/><path d="M260,76.7L261.3,77.5L258.9,79.4L257.5,78.3Z" fill="#0bbdbd"/><path d="M320.3,50.7L321.7,50.3L319.2,49.8L317.9,50.2Z" fill="#fccf30"/><path d="M312.5,52.2L313.8,51.5L311.4,50.9L310,51.7Z" fill="#fec934"/><path d="M228,57.4L229.3,59L226.9,57.9L225.5,56.3Z" fill="#e6bb2d"/><path d="M266.5,76.3L267.8,76.1L265.4,78.9L264,78.8Z" fill="#19bfb6"/><path d="M283.5,73.3L284.8,69.1L282.3,71.2L281,76.6Z" fill="#2cc4a7"/><path d="M278.1,76.3L279.4,77.1L277,83.2L275.6,82.2Z" fill="#19bfb6"/><path d="M311.2,53.8L312.5,52.2L310,51.7L308.7,54.3Z" fill="#febe3c"/><path d="M244.6,69.9L245.9,71.7L243.4,71.5L242.1,69.4Z" fill="#4acb84"/><path d="M286.1,67.2L287.5,67.5L285,69.3L283.7,68.8Z" fill="#72cd64"/><path d="M319,51.2L320.3,50.7L317.9,50.2L316.5,50.6Z" fill="#fccf30"/><path d="M231.8,60.1L233.1,61.8L230.7,60.7L229.3,59Z" fill="#c5c22a"/><path d="M253.5,74.8L254.9,76L252.4,77.1L251,75.5Z" fill="#24c1ae"/><path d="M295.3,63.4L296.6,62.6L294.2,65L292.8,66Z" fill="#abc739"/><path d="M284.8,69.1L286.1,67.2L283.7,68.8L282.3,71.2Z" fill="#57cc7a"/><path d="M265.1,76L266.5,76.3L264,78.8L262.7,78.2Z" fill="#24c1ae"/><path d="M258.7,76L260,76.7L257.5,78.3L256.2,77.2Z" fill="#24c1ae"/><path d="M235.6,62.8L237,64.7L234.5,63.7L233.1,61.8Z" fill="#abc739"/><path d="M248.4,72.2L249.7,73.9L247.2,73.6L245.9,71.7Z" fill="#37c897"/><path d="M317.7,51.6L319,51.2L316.5,50.6L315.2,51.1Z" fill="#fccf30"/><path d="M226.7,57.8L228,57.4L225.5,56.3L224.2,56.7Z" fill="#e6bb2d"/><path d="M294,64L295.3,63.4L292.8,66L291.5,66.6Z" fill="#9dc943"/><path d="M239.4,65.5L240.8,67.4L238.3,66.7L237,64.7Z" fill="#8fcb4e"/><path d="M300.5,61.1L301.8,63.3L299.3,69L298,64.6Z" fill="#d1bf27"/><path d="M271.6,73.3L273,74.2L270.5,79.4L269.2,76.7Z" fill="#37c897"/><path d="M316.3,52.1L317.7,51.6L315.2,51.1L313.8,51.5Z" fill="#fccf30"/><path d="M292.6,64.4L294,64L291.5,66.6L290.2,67Z" fill="#9dc943"/><path d="M225.3,58.2L226.7,57.8L224.2,56.7L222.9,57.2Z" fill="#e6bb2d"/><path d="M276.8,71.8L278.1,76.3L275.6,82.2L274.3,79.4Z" fill="#57cc7a"/><path d="M263.8,75.7L265.1,76L262.7,78.2L261.3,77.5Z" fill="#2cc4a7"/><path d="M243.2,68.1L244.6,69.9L242.1,69.4L240.8,67.4Z" fill="#72cd64"/><path d="M252.2,73.6L253.5,74.8L251,75.5L249.7,73.9Z" fill="#37c897"/><path d="M322.8,51.8L324.1,51.3L321.7,50.3L320.3,50.7Z" fill="#fccf30"/><path d="M230.5,58.5L231.8,60.1L229.3,59L228,57.4Z" fill="#e6bb2d"/><path d="M257.3,75.2L258.7,76L256.2,77.2L254.9,76Z" fill="#2cc4a7"/><path d="M315,52.6L316.3,52.1L313.8,51.5L312.5,52.2Z" fill="#fccf30"/><path d="M291.3,64.8L292.6,64.4L290.2,67L288.8,67.4Z" fill="#abc739"/><path d="M311,55.2L312.3,54.2L309.8,57.4L308.5,61.1Z" fill="#fec338"/><path d="M309.6,55.9L311,55.2L308.5,61.1L307.1,62.7Z" fill="#fec338"/><path d="M234.3,61.1L235.6,62.8L233.1,61.8L231.8,60.1Z" fill="#d1bf27"/><path d="M247,70.5L248.4,72.2L245.9,71.7L244.6,69.9Z" fill="#57cc7a"/><path d="M321.5,52.2L322.8,51.8L320.3,50.7L319,51.2Z" fill="#fccf30"/><path d="M313.6,53.2L315,52.6L312.5,52.2L311.2,53.8Z" fill="#fccf30"/><path d="M312.3,54.2L313.6,53.2L311.2,53.8L309.8,57.4Z" fill="#fec934"/><path d="M270.3,73.4L271.6,73.3L269.2,76.7L267.8,76.1Z" fill="#3fca8e"/><path d="M308.3,56.4L309.6,55.9L307.1,62.7L305.8,63.3Z" fill="#fec338"/><path d="M262.5,75.3L263.8,75.7L261.3,77.5L260,76.7Z" fill="#31c69f"/><path d="M289.9,65L291.3,64.8L288.8,67.4L287.5,67.5Z" fill="#abc739"/><path d="M238.1,63.8L239.4,65.5L237,64.7L235.6,62.8Z" fill="#b9c431"/><path d="M229.1,58.9L230.5,58.5L228,57.4L226.7,57.8Z" fill="#e6bb2d"/><path d="M320.1,52.7L321.5,52.2L319,51.2L317.7,51.6Z" fill="#fccf30"/><path d="M299.1,60.2L300.5,61.1L298,64.6L296.6,62.6Z" fill="#e6bb2d"/><path d="M256,74.5L257.3,75.2L254.9,76L253.5,74.8Z" fill="#37c897"/><path d="M250.8,72.3L252.2,73.6L249.7,73.9L248.4,72.2Z" fill="#4acb84"/><path d="M284.6,70.9L285.9,69.3L283.5,73.3L282.1,75.5Z" fill="#64cd6f"/><path d="M306.9,56.8L308.3,56.4L305.8,63.3L304.5,63.7Z" fill="#fec338"/><path d="M241.9,66.4L243.2,68.1L240.8,67.4L239.4,65.5Z" fill="#9dc943"/><path d="M283.3,71.6L284.6,70.9L282.1,75.5L280.8,76.6Z" fill="#57cc7a"/><path d="M268.9,73.8L270.3,73.4L267.8,76.1L266.5,76.3Z" fill="#3fca8e"/><path d="M227.8,59.3L229.1,58.9L226.7,57.8L225.3,58.2Z" fill="#e6bb2d"/><path d="M288.6,64.9L289.9,65L287.5,67.5L286.1,67.2Z" fill="#abc739"/><path d="M318.8,53.1L320.1,52.7L317.7,51.6L316.3,52.1Z" fill="#fccf30"/><path d="M285.9,69.3L287.3,66.4L284.8,69.1L283.5,73.3Z" fill="#72cd64"/><path d="M325.3,53.2L326.6,52.7L324.1,51.3L322.8,51.8Z" fill="#fccf30"/><path d="M261.1,75L262.5,75.3L260,76.7L258.7,76Z" fill="#37c897"/><path d="M232.9,59.5L234.3,61.1L231.8,60.1L230.5,58.5Z" fill="#f0ba36"/><path d="M305.6,57.2L306.9,56.8L304.5,63.7L303.1,63.9Z" fill="#fec338"/><path d="M281.9,72L283.3,71.6L280.8,76.6L279.4,77.1Z" fill="#57cc7a"/><path d="M245.7,68.9L247,70.5L244.6,69.9L243.2,68.1Z" fill="#81cc59"/><path d="M297.8,60.8L299.1,60.2L296.6,62.6L295.3,63.4Z" fill="#e6bb2d"/><path d="M287.3,66.4L288.6,64.9L286.1,67.2L284.8,69.1Z" fill="#9dc943"/><path d="M317.4,53.6L318.8,53.1L316.3,52.1L315,52.6Z" fill="#fccf30"/><path d="M275.4,68.3L276.8,71.8L274.3,79.4L273,74.2Z" fill="#9dc943"/><path d="M267.6,73.9L268.9,73.8L266.5,76.3L265.1,76Z" fill="#3fca8e"/><path d="M323.9,53.6L325.3,53.2L322.8,51.8L321.5,52.2Z" fill="#fccf30"/><path d="M236.7,62.1L238.1,63.8L235.6,62.8L234.3,61.1Z" fill="#d1bf27"/><path d="M254.6,73.6L256,74.5L253.5,74.8L252.2,73.6Z" fill="#3fca8e"/><path d="M296.4,61.3L297.8,60.8L295.3,63.4L294,64Z" fill="#e6bb2d"/><path d="M304.3,57.5L305.6,57.2L303.1,63.9L301.8,63.3Z" fill="#fec338"/><path d="M249.5,70.8L250.8,72.3L248.4,72.2L247,70.5Z" fill="#64cd6f"/><path d="M280.6,71.6L281.9,72L279.4,77.1L278.1,76.3Z" fill="#64cd6f"/><path d="M316.1,54L317.4,53.6L315,52.6L313.6,53.2Z" fill="#fccf30"/><path d="M259.8,74.6L261.1,75L258.7,76L257.3,75.2Z" fill="#3fca8e"/><path d="M240.5,64.7L241.9,66.4L239.4,65.5L238.1,63.8Z" fill="#b9c431"/><path d="M231.6,59.9L232.9,59.5L230.5,58.5L229.1,58.9Z" fill="#f0ba36"/><path d="M322.6,54.1L323.9,53.6L321.5,52.2L320.1,52.7Z" fill="#fccf30"/><path d="M266.3,74L267.6,73.9L265.1,76L263.8,75.7Z" fill="#4acb84"/><path d="M295.1,61.8L296.4,61.3L294,64L292.6,64.4Z" fill="#e6bb2d"/><path d="M314.8,54.5L316.1,54L313.6,53.2L312.3,54.2Z" fill="#fccf30"/><path d="M244.3,67.2L245.7,68.9L243.2,68.1L241.9,66.4Z" fill="#9dc943"/><path d="M230.3,60.3L231.6,59.9L229.1,58.9L227.8,59.3Z" fill="#f0ba36"/><path d="M321.2,54.5L322.6,54.1L320.1,52.7L318.8,53.1Z" fill="#fccf30"/><path d="M253.3,72.6L254.6,73.6L252.2,73.6L250.8,72.3Z" fill="#57cc7a"/><path d="M293.8,62.2L295.1,61.8L292.6,64.4L291.3,64.8Z" fill="#e6bb2d"/><path d="M313.4,54.9L314.8,54.5L312.3,54.2L311,55.2Z" fill="#fccf30"/><path d="M302.9,57.5L304.3,57.5L301.8,63.3L300.5,61.1Z" fill="#fec934"/><path d="M258.4,74.2L259.8,74.6L257.3,75.2L256,74.5Z" fill="#4acb84"/><path d="M235.4,60.5L236.7,62.1L234.3,61.1L232.9,59.5Z" fill="#f0ba36"/><path d="M264.9,74L266.3,74L263.8,75.7L262.5,75.3Z" fill="#4acb84"/><path d="M274.1,68.4L275.4,68.3L273,74.2L271.6,73.3Z" fill="#9dc943"/><path d="M319.9,55L321.2,54.5L318.8,53.1L317.4,53.6Z" fill="#fccf30"/><path d="M248.2,69.2L249.5,70.8L247,70.5L245.7,68.9Z" fill="#8fcb4e"/><path d="M312.1,55.4L313.4,54.9L311,55.2L309.6,55.9Z" fill="#fccf30"/><path d="M292.4,62.5L293.8,62.2L291.3,64.8L289.9,65Z" fill="#e6bb2d"/><path d="M239.2,63.1L240.5,64.7L238.1,63.8L236.7,62.1Z" fill="#dcbd29"/><path d="M279.2,68.8L280.6,71.6L278.1,76.3L276.8,71.8Z" fill="#abc739"/><path d="M318.6,55.4L319.9,55L317.4,53.6L316.1,54Z" fill="#fccf30"/><path d="M263.6,74.1L264.9,74L262.5,75.3L261.1,75Z" fill="#57cc7a"/><path d="M310.7,55.8L312.1,55.4L309.6,55.9L308.3,56.4Z" fill="#fccf30"/><path d="M301.6,57.7L302.9,57.5L300.5,61.1L299.1,60.2Z" fill="#fec934"/><path d="M272.7,68.9L274.1,68.4L271.6,73.3L270.3,73.4Z" fill="#9dc943"/><path d="M257.1,73.7L258.4,74.2L256,74.5L254.6,73.6Z" fill="#57cc7a"/><path d="M234.1,60.9L235.4,60.5L232.9,59.5L231.6,59.9Z" fill="#f0ba36"/><path d="M243,65.7L244.3,67.2L241.9,66.4L240.5,64.7Z" fill="#c5c22a"/><path d="M252,71.2L253.3,72.6L250.8,72.3L249.5,70.8Z" fill="#81cc59"/><path d="M291.1,62.7L292.4,62.5L289.9,65L288.6,64.9Z" fill="#e6bb2d"/><path d="M317.2,55.9L318.6,55.4L316.1,54L314.8,54.5Z" fill="#fccf30"/><path d="M309.4,56.3L310.7,55.8L308.3,56.4L306.9,56.8Z" fill="#fccf30"/><path d="M271.4,69.4L272.7,68.9L270.3,73.4L268.9,73.8Z" fill="#9dc943"/><path d="M232.7,61.4L234.1,60.9L231.6,59.9L230.3,60.3Z" fill="#f0ba36"/><path d="M287.1,66.5L288.4,65.5L285.9,69.3L284.6,70.9Z" fill="#c5c22a"/><path d="M300.2,58.2L301.6,57.7L299.1,60.2L297.8,60.8Z" fill="#fec934"/><path d="M289.7,63.6L291.1,62.7L288.6,64.9L287.3,66.4Z" fill="#e6bb2d"/><path d="M288.4,65.5L289.7,63.6L287.3,66.4L285.9,69.3Z" fill="#d1bf27"/><path d="M262.2,74.1L263.6,74.1L261.1,75L259.8,74.6Z" fill="#57cc7a"/><path d="M246.8,67.6L248.2,69.2L245.7,68.9L244.3,67.2Z" fill="#b9c431"/><path d="M315.9,56.3L317.2,55.9L314.8,54.5L313.4,54.9Z" fill="#fccf30"/><path d="M237.9,61.5L239.2,63.1L236.7,62.1L235.4,60.5Z" fill="#f8ba3d"/><path d="M285.7,67.1L287.1,66.5L284.6,70.9L283.3,71.6Z" fill="#c5c22a"/><path d="M308.1,56.7L309.4,56.3L306.9,56.8L305.6,57.2Z" fill="#fccf30"/><path d="M255.8,72.9L257.1,73.7L254.6,73.6L253.3,72.6Z" fill="#72cd64"/><path d="M270.1,69.8L271.4,69.4L268.9,73.8L267.6,73.9Z" fill="#9dc943"/><path d="M298.9,58.7L300.2,58.2L297.8,60.8L296.4,61.3Z" fill="#fec934"/><path d="M241.7,64.1L243,65.7L240.5,64.7L239.2,63.1Z" fill="#e6bb2d"/><path d="M314.5,56.8L315.9,56.3L313.4,54.9L312.1,55.4Z" fill="#fccf30"/><path d="M250.6,69.6L252,71.2L249.5,70.8L248.2,69.2Z" fill="#9dc943"/><path d="M284.4,67.5L285.7,67.1L283.3,71.6L281.9,72Z" fill="#c5c22a"/><path d="M260.9,74L262.2,74.1L259.8,74.6L258.4,74.2Z" fill="#64cd6f"/><path d="M306.7,57.2L308.1,56.7L305.6,57.2L304.3,57.5Z" fill="#fccf30"/><path d="M277.9,66.7L279.2,68.8L276.8,71.8L275.4,68.3Z" fill="#d1bf27"/><path d="M297.6,59.1L298.9,58.7L296.4,61.3L295.1,61.8Z" fill="#fec934"/><path d="M268.7,70.3L270.1,69.8L267.6,73.9L266.3,74Z" fill="#9dc943"/><path d="M236.5,62L237.9,61.5L235.4,60.5L234.1,60.9Z" fill="#f8ba3d"/><path d="M313.2,57.2L314.5,56.8L312.1,55.4L310.7,55.8Z" fill="#fccf30"/><path d="M245.5,66.1L246.8,67.6L244.3,67.2L243,65.7Z" fill="#d1bf27"/><path d="M283,67.5L284.4,67.5L281.9,72L280.6,71.6Z" fill="#c5c22a"/><path d="M305.4,57.6L306.7,57.2L304.3,57.5L302.9,57.5Z" fill="#fccf30"/><path d="M254.4,71.7L255.8,72.9L253.3,72.6L252,71.2Z" fill="#8fcb4e"/><path d="M296.2,59.6L297.6,59.1L295.1,61.8L293.8,62.2Z" fill="#fec934"/><path d="M259.6,73.9L260.9,74L258.4,74.2L257.1,73.7Z" fill="#72cd64"/><path d="M267.4,70.7L268.7,70.3L266.3,74L264.9,74Z" fill="#9dc943"/><path d="M235.2,62.4L236.5,62L234.1,60.9L232.7,61.4Z" fill="#f8ba3d"/><path d="M311.9,57.7L313.2,57.2L310.7,55.8L309.4,56.3Z" fill="#fccf30"/><path d="M304,58.1L305.4,57.6L302.9,57.5L301.6,57.7Z" fill="#fccf30"/><path d="M240.3,62.6L241.7,64.1L239.2,63.1L237.9,61.5Z" fill="#f8ba3d"/><path d="M294.9,60L296.2,59.6L293.8,62.2L292.4,62.5Z" fill="#fec934"/><path d="M249.3,67.9L250.6,69.6L248.2,69.2L246.8,67.6Z" fill="#c5c22a"/><path d="M276.6,67L277.9,66.7L275.4,68.3L274.1,68.4Z" fill="#d1bf27"/><path d="M266.1,71.2L267.4,70.7L264.9,74L263.6,74.1Z" fill="#9dc943"/><path d="M310.5,58.1L311.9,57.7L309.4,56.3L308.1,56.7Z" fill="#fccf30"/><path d="M258.2,73.4L259.6,73.9L257.1,73.7L255.8,72.9Z" fill="#81cc59"/><path d="M281.7,66.2L283,67.5L280.6,71.6L279.2,68.8Z" fill="#e6bb2d"/><path d="M302.7,58.5L304,58.1L301.6,57.7L300.2,58.2Z" fill="#fccf30"/><path d="M244.1,64.8L245.5,66.1L243,65.7L241.7,64.1Z" fill="#e6bb2d"/><path d="M293.5,60.4L294.9,60L292.4,62.5L291.1,62.7Z" fill="#fec934"/><path d="M275.2,67.5L276.6,67L274.1,68.4L272.7,68.9Z" fill="#d1bf27"/><path d="M253.1,70L254.4,71.7L252,71.2L250.6,69.6Z" fill="#b9c431"/><path d="M264.7,71.6L266.1,71.2L263.6,74.1L262.2,74.1Z" fill="#9dc943"/><path d="M309.2,58.6L310.5,58.1L308.1,56.7L306.7,57.2Z" fill="#fccf30"/><path d="M239,63L240.3,62.6L237.9,61.5L236.5,62Z" fill="#f8ba3d"/><path d="M301.4,59L302.7,58.5L300.2,58.2L298.9,58.7Z" fill="#fccf30"/><path d="M292.2,60.9L293.5,60.4L291.1,62.7L289.7,63.6Z" fill="#fec934"/><path d="M273.9,68L275.2,67.5L272.7,68.9L271.4,69.4Z" fill="#d1bf27"/><path d="M247.9,66.6L249.3,67.9L246.8,67.6L245.5,66.1Z" fill="#dcbd29"/><path d="M307.8,59L309.2,58.6L306.7,57.2L305.4,57.6Z" fill="#fccf30"/><path d="M290.9,61.6L292.2,60.9L289.7,63.6L288.4,65.5Z" fill="#fec934"/><path d="M263.4,72L264.7,71.6L262.2,74.1L260.9,74Z" fill="#9dc943"/><path d="M237.7,63.5L239,63L236.5,62L235.2,62.4Z" fill="#f8ba3d"/><path d="M256.9,72.2L258.2,73.4L255.8,72.9L254.4,71.7Z" fill="#9dc943"/><path d="M300,59.4L301.4,59L298.9,58.7L297.6,59.1Z" fill="#fccf30"/><path d="M272.5,68.4L273.9,68L271.4,69.4L270.1,69.8Z" fill="#d1bf27"/><path d="M289.5,62.2L290.9,61.6L288.4,65.5L287.1,66.5Z" fill="#fec338"/><path d="M242.8,63.6L244.1,64.8L241.7,64.1L240.3,62.6Z" fill="#febe3c"/><path d="M306.5,59.5L307.8,59L305.4,57.6L304,58.1Z" fill="#fccf30"/><path d="M280.4,65.2L281.7,66.2L279.2,68.8L277.9,66.7Z" fill="#f8ba3d"/><path d="M251.7,68.3L253.1,70L250.6,69.6L249.3,67.9Z" fill="#d1bf27"/><path d="M262,72.2L263.4,72L260.9,74L259.6,73.9Z" fill="#abc739"/><path d="M298.7,59.9L300,59.4L297.6,59.1L296.2,59.6Z" fill="#fccf30"/><path d="M288.2,62.6L289.5,62.2L287.1,66.5L285.7,67.1Z" fill="#fec338"/><path d="M271.2,68.9L272.5,68.4L270.1,69.8L268.7,70.3Z" fill="#d1bf27"/><path d="M305.2,59.9L306.5,59.5L304,58.1L302.7,58.5Z" fill="#fccf30"/><path d="M246.6,65.6L247.9,66.6L245.5,66.1L244.1,64.8Z" fill="#f0ba36"/><path d="M297.3,60.3L298.7,59.9L296.2,59.6L294.9,60Z" fill="#fccf30"/><path d="M286.8,63.1L288.2,62.6L285.7,67.1L284.4,67.5Z" fill="#fec338"/><path d="M241.5,64.1L242.8,63.6L240.3,62.6L239,63Z" fill="#febe3c"/><path d="M269.9,69.3L271.2,68.9L268.7,70.3L267.4,70.7Z" fill="#d1bf27"/><path d="M255.5,70.5L256.9,72.2L254.4,71.7L253.1,70Z" fill="#c5c22a"/><path d="M260.7,72.1L262,72.2L259.6,73.9L258.2,73.4Z" fill="#b9c431"/><path d="M279,65.6L280.4,65.2L277.9,66.7L276.6,67Z" fill="#f8ba3d"/><path d="M303.8,60.4L305.2,59.9L302.7,58.5L301.4,59Z" fill="#fccf30"/><path d="M296,60.8L297.3,60.3L294.9,60L293.5,60.4Z" fill="#fccf30"/><path d="M240.1,64.5L241.5,64.1L239,63L237.7,63.5Z" fill="#febe3c"/><path d="M285.5,63.4L286.8,63.1L284.4,67.5L283,67.5Z" fill="#fec934"/><path d="M268.5,69.8L269.9,69.3L267.4,70.7L266.1,71.2Z" fill="#d1bf27"/><path d="M250.4,67.1L251.7,68.3L249.3,67.9L247.9,66.6Z" fill="#f0ba36"/><path d="M277.7,66.1L279,65.6L276.6,67L275.2,67.5Z" fill="#f8ba3d"/><path d="M302.5,60.8L303.8,60.4L301.4,59L300,59.4Z" fill="#fccf30"/><path d="M245.3,64.7L246.6,65.6L244.1,64.8L242.8,63.6Z" fill="#febe3c"/><path d="M294.7,61.2L296,60.8L293.5,60.4L292.2,60.9Z" fill="#fccf30"/><path d="M267.2,70.2L268.5,69.8L266.1,71.2L264.7,71.6Z" fill="#d1bf27"/><path d="M259.4,71.3L260.7,72.1L258.2,73.4L256.9,72.2Z" fill="#c5c22a"/><path d="M276.3,66.6L277.7,66.1L275.2,67.5L273.9,68Z" fill="#f8ba3d"/><path d="M301.1,61.3L302.5,60.8L300,59.4L298.7,59.9Z" fill="#fccf30"/><path d="M284.2,63.6L285.5,63.4L283,67.5L281.7,66.2Z" fill="#fec934"/><path d="M254.2,68.7L255.5,70.5L253.1,70L251.7,68.3Z" fill="#e6bb2d"/><path d="M293.3,61.7L294.7,61.2L292.2,60.9L290.9,61.6Z" fill="#fccf30"/><path d="M265.8,70.6L267.2,70.2L264.7,71.6L263.4,72Z" fill="#d1bf27"/><path d="M275,67L276.3,66.6L273.9,68L272.5,68.4Z" fill="#f8ba3d"/><path d="M243.9,65.1L245.3,64.7L242.8,63.6L241.5,64.1Z" fill="#febe3c"/><path d="M249.1,66.3L250.4,67.1L247.9,66.6L246.6,65.6Z" fill="#f8ba3d"/><path d="M299.8,61.7L301.1,61.3L298.7,59.9L297.3,60.3Z" fill="#fccf30"/><path d="M292,62.1L293.3,61.7L290.9,61.6L289.5,62.2Z" fill="#fccf30"/><path d="M282.8,63.8L284.2,63.6L281.7,66.2L280.4,65.2Z" fill="#fec934"/><path d="M264.5,70.9L265.8,70.6L263.4,72L262,72.2Z" fill="#d1bf27"/><path d="M273.7,67.5L275,67L272.5,68.4L271.2,68.9Z" fill="#f8ba3d"/><path d="M258,70L259.4,71.3L256.9,72.2L255.5,70.5Z" fill="#dcbd29"/><path d="M242.6,65.6L243.9,65.1L241.5,64.1L240.1,64.5Z" fill="#febe3c"/><path d="M298.5,62.2L299.8,61.7L297.3,60.3L296,60.8Z" fill="#fccf30"/><path d="M290.6,62.6L292,62.1L289.5,62.2L288.2,62.6Z" fill="#fccf30"/><path d="M252.9,67.6L254.2,68.7L251.7,68.3L250.4,67.1Z" fill="#f8ba3d"/><path d="M272.3,67.9L273.7,67.5L271.2,68.9L269.9,69.3Z" fill="#f8ba3d"/><path d="M247.7,65.8L249.1,66.3L246.6,65.6L245.3,64.7Z" fill="#febe3c"/><path d="M297.1,62.6L298.5,62.2L296,60.8L294.7,61.2Z" fill="#fccf30"/><path d="M263.2,70.9L264.5,70.9L262,72.2L260.7,72.1Z" fill="#dcbd29"/><path d="M281.5,64.3L282.8,63.8L280.4,65.2L279,65.6Z" fill="#fec934"/><path d="M289.3,63L290.6,62.6L288.2,62.6L286.8,63.1Z" fill="#fccf30"/><path d="M271,68.4L272.3,67.9L269.9,69.3L268.5,69.8Z" fill="#f8ba3d"/><path d="M295.8,63.1L297.1,62.6L294.7,61.2L293.3,61.7Z" fill="#fccf30"/><path d="M280.1,64.7L281.5,64.3L279,65.6L277.7,66.1Z" fill="#fec934"/><path d="M246.4,66.2L247.7,65.8L245.3,64.7L243.9,65.1Z" fill="#fec338"/><path d="M288,63.5L289.3,63L286.8,63.1L285.5,63.4Z" fill="#fccf30"/><path d="M256.7,68.6L258,70L255.5,70.5L254.2,68.7Z" fill="#f8ba3d"/><path d="M261.8,70.6L263.2,70.9L260.7,72.1L259.4,71.3Z" fill="#e6bb2d"/><path d="M251.5,67.1L252.9,67.6L250.4,67.1L249.1,66.3Z" fill="#febe3c"/><path d="M269.6,68.8L271,68.4L268.5,69.8L267.2,70.2Z" fill="#f8ba3d"/><path d="M294.4,63.5L295.8,63.1L293.3,61.7L292,62.1Z" fill="#fccf30"/><path d="M278.8,65.2L280.1,64.7L277.7,66.1L276.3,66.6Z" fill="#fec934"/><path d="M245,66.6L246.4,66.2L243.9,65.1L242.6,65.6Z" fill="#fec338"/><path d="M286.6,63.9L288,63.5L285.5,63.4L284.2,63.6Z" fill="#fccf30"/><path d="M268.3,69.2L269.6,68.8L267.2,70.2L265.8,70.6Z" fill="#f8ba3d"/><path d="M293.1,64L294.4,63.5L292,62.1L290.6,62.6Z" fill="#fccf30"/><path d="M277.5,65.6L278.8,65.2L276.3,66.6L275,67Z" fill="#fec934"/><path d="M250.2,66.9L251.5,67.1L249.1,66.3L247.7,65.8Z" fill="#fec338"/><path d="M285.3,64.4L286.6,63.9L284.2,63.6L282.8,63.8Z" fill="#fccf30"/><path d="M260.5,69.8L261.8,70.6L259.4,71.3L258,70Z" fill="#f0ba36"/><path d="M255.3,67.9L256.7,68.6L254.2,68.7L252.9,67.6Z" fill="#febe3c"/><path d="M267,69.6L268.3,69.2L265.8,70.6L264.5,70.9Z" fill="#f8ba3d"/><path d="M291.8,64.4L293.1,64L290.6,62.6L289.3,63Z" fill="#fccf30"/><path d="M276.1,66.1L277.5,65.6L275,67L273.7,67.5Z" fill="#fec934"/><path d="M283.9,64.8L285.3,64.4L282.8,63.8L281.5,64.3Z" fill="#fccf30"/><path d="M248.8,67.3L250.2,66.9L247.7,65.8L246.4,66.2Z" fill="#fec338"/><path d="M290.4,64.9L291.8,64.4L289.3,63L288,63.5Z" fill="#fccf30"/><path d="M274.8,66.5L276.1,66.1L273.7,67.5L272.3,67.9Z" fill="#fec934"/><path d="M265.6,69.8L267,69.6L264.5,70.9L263.2,70.9Z" fill="#f8ba3d"/><path d="M254,67.7L255.3,67.9L252.9,67.6L251.5,67.1Z" fill="#fec338"/><path d="M282.6,65.3L283.9,64.8L281.5,64.3L280.1,64.7Z" fill="#fccf30"/><path d="M259.1,69L260.5,69.8L258,70L256.7,68.6Z" fill="#febe3c"/><path d="M247.5,67.7L248.8,67.3L246.4,66.2L245,66.6Z" fill="#fec338"/><path d="M289.1,65.3L290.4,64.9L288,63.5L286.6,63.9Z" fill="#fccf30"/><path d="M273.4,67L274.8,66.5L272.3,67.9L271,68.4Z" fill="#fec934"/><path d="M264.3,69.8L265.6,69.8L263.2,70.9L261.8,70.6Z" fill="#febe3c"/><path d="M281.3,65.7L282.6,65.3L280.1,64.7L278.8,65.2Z" fill="#fccf30"/><path d="M252.7,68L254,67.7L251.5,67.1L250.2,66.9Z" fill="#fec338"/><path d="M287.8,65.8L289.1,65.3L286.6,63.9L285.3,64.4Z" fill="#fccf30"/><path d="M272.1,67.4L273.4,67L271,68.4L269.6,68.8Z" fill="#fec934"/><path d="M279.9,66.2L281.3,65.7L278.8,65.2L277.5,65.6Z" fill="#fccf30"/><path d="M257.8,68.6L259.1,69L256.7,68.6L255.3,67.9Z" fill="#fec338"/><path d="M286.4,66.2L287.8,65.8L285.3,64.4L283.9,64.8Z" fill="#fccf30"/><path d="M262.9,69.6L264.3,69.8L261.8,70.6L260.5,69.8Z" fill="#febe3c"/><path d="M270.8,67.9L272.1,67.4L269.6,68.8L268.3,69.2Z" fill="#fec934"/><path d="M251.3,68.3L252.7,68L250.2,66.9L248.8,67.3Z" fill="#fec338"/><path d="M278.6,66.6L279.9,66.2L277.5,65.6L276.1,66.1Z" fill="#fccf30"/><path d="M285.1,66.7L286.4,66.2L283.9,64.8L282.6,65.3Z" fill="#fccf30"/><path d="M269.4,68.3L270.8,67.9L268.3,69.2L267,69.6Z" fill="#fec934"/><path d="M250,68.7L251.3,68.3L248.8,67.3L247.5,67.7Z" fill="#fec338"/><path d="M256.5,68.7L257.8,68.6L255.3,67.9L254,67.7Z" fill="#fec934"/><path d="M277.2,67.1L278.6,66.6L276.1,66.1L274.8,66.5Z" fill="#fccf30"/><path d="M261.6,69.4L262.9,69.6L260.5,69.8L259.1,69Z" fill="#fec338"/><path d="M283.7,67.1L285.1,66.7L282.6,65.3L281.3,65.7Z" fill="#fccf30"/><path d="M268.1,68.7L269.4,68.3L267,69.6L265.6,69.8Z" fill="#fec934"/><path d="M255.1,69L256.5,68.7L254,67.7L252.7,68Z" fill="#fec934"/><path d="M275.9,67.5L277.2,67.1L274.8,66.5L273.4,67Z" fill="#fccf30"/><path d="M282.4,67.6L283.7,67.1L281.3,65.7L279.9,66.2Z" fill="#fccf30"/><path d="M266.7,69.1L268.1,68.7L265.6,69.8L264.3,69.8Z" fill="#fec934"/><path d="M260.3,69.4L261.6,69.4L259.1,69L257.8,68.6Z" fill="#fec934"/><path d="M253.8,69.4L255.1,69L252.7,68L251.3,68.3Z" fill="#fec934"/><path d="M274.6,68L275.9,67.5L273.4,67L272.1,67.4Z" fill="#fccf30"/><path d="M281.1,68L282.4,67.6L279.9,66.2L278.6,66.6Z" fill="#fccf30"/><path d="M252.4,69.8L253.8,69.4L251.3,68.3L250,68.7Z" fill="#fec934"/><path d="M273.2,68.4L274.6,68L272.1,67.4L270.8,67.9Z" fill="#fccf30"/><path d="M265.4,69.4L266.7,69.1L264.3,69.8L262.9,69.6Z" fill="#fccf30"/><path d="M258.9,69.6L260.3,69.4L257.8,68.6L256.5,68.7Z" fill="#fec934"/><path d="M279.7,68.5L281.1,68L278.6,66.6L277.2,67.1Z" fill="#fccf30"/><path d="M271.9,68.9L273.2,68.4L270.8,67.9L269.4,68.3Z" fill="#fccf30"/><path d="M257.6,70L258.9,69.6L256.5,68.7L255.1,69Z" fill="#fec934"/><path d="M264.1,69.8L265.4,69.4L262.9,69.6L261.6,69.4Z" fill="#fccf30"/><path d="M278.4,68.9L279.7,68.5L277.2,67.1L275.9,67.5Z" fill="#fccf30"/><path d="M270.6,69.3L271.9,68.9L269.4,68.3L268.1,68.7Z" fill="#fccf30"/><path d="M256.2,70.4L257.6,70L255.1,69L253.8,69.4Z" fill="#fec934"/><path d="M277,69.4L278.4,68.9L275.9,67.5L274.6,68Z" fill="#fccf30"/><path d="M262.7,70.1L264.1,69.8L261.6,69.4L260.3,69.4Z" fill="#fccf30"/><path d="M269.2,69.8L270.6,69.3L268.1,68.7L266.7,69.1Z" fill="#fccf30"/><path d="M254.9,70.8L256.2,70.4L253.8,69.4L252.4,69.8Z" fill="#fec934"/><path d="M275.7,69.8L277,69.4L274.6,68L273.2,68.4Z" fill="#fccf30"/><path d="M261.4,70.6L262.7,70.1L260.3,69.4L258.9,69.6Z" fill="#fccf30"/><path d="M267.9,70.2L269.2,69.8L266.7,69.1L265.4,69.4Z" fill="#fccf30"/><path d="M274.4,70.3L275.7,69.8L273.2,68.4L271.9,68.9Z" fill="#fccf30"/><path d="M260,71L261.4,70.6L258.9,69.6L257.6,70Z" fill="#fccf30"/><path d="M266.5,70.7L267.9,70.2L265.4,69.4L264.1,69.8Z" fill="#fccf30"/><path d="M273,70.7L274.4,70.3L271.9,68.9L270.6,69.3Z" fill="#fccf30"/><path d="M258.7,71.4L260,71L257.6,70L256.2,70.4Z" fill="#fccf30"/><path d="M265.2,71.1L266.5,70.7L264.1,69.8L262.7,70.1Z" fill="#fccf30"/><path d="M271.7,71.2L273,70.7L270.6,69.3L269.2,69.8Z" fill="#fccf30"/><path d="M257.4,71.9L258.7,71.4L256.2,70.4L254.9,70.8Z" fill="#fccf30"/><path d="M263.9,71.6L265.2,71.1L262.7,70.1L261.4,70.6Z" fill="#fccf30"/><path d="M270.3,71.6L271.7,71.2L269.2,69.8L267.9,70.2Z" fill="#fccf30"/><path d="M262.5,72L263.9,71.6L261.4,70.6L260,71Z" fill="#fccf30"/><path d="M269,72.1L270.3,71.6L267.9,70.2L266.5,70.7Z" fill="#fccf30"/><path d="M261.2,72.5L262.5,72L260,71L258.7,71.4Z" fill="#fccf30"/><path d="M267.7,72.5L269,72.1L266.5,70.7L265.2,71.1Z" fill="#fccf30"/><path d="M259.8,72.9L261.2,72.5L258.7,71.4L257.4,71.9Z" fill="#fccf30"/><path d="M266.3,73L267.7,72.5L265.2,71.1L263.9,71.6Z" fill="#fccf30"/><path d="M265,73.4L266.3,73L263.9,71.6L262.5,72Z" fill="#fccf30"/><path d="M263.6,73.9L265,73.4L262.5,72L261.2,72.5Z" fill="#fccf30"/><path d="M262.3,74.3L263.6,73.9L261.2,72.5L259.8,72.9Z" fill="#fccf30"/></g>
<g font-family="Liberation Sans, Arial, sans-serif" stroke="#262626" stroke-width="0.14" font-size="6.3" fill="#262626"><text x="266.3" y="130.3">0</text><text x="293.1" y="121.3">10</text><text x="319.9" y="112.3">20</text></g>
<g font-family="Liberation Sans, Arial, sans-serif" stroke="#262626" stroke-width="0.14" font-size="6.3" fill="#262626" text-anchor="end"><text x="258.1" y="129.8">0</text><text x="233.5" y="115.7">10</text><text x="208.8" y="101.6">20</text><text x="210" y="82.3">1</text><text x="210" y="57.7">1.02</text><text x="210" y="33.1">1.04</text></g>
<text font-family="Liberation Sans, Arial, sans-serif" stroke="#262626" stroke-width="0.14" font-size="6.4" fill="#262626" text-anchor="middle" x="226.1" y="131.1">Node</text>
<text font-family="Liberation Sans, Arial, sans-serif" stroke="#262626" stroke-width="0.14" font-size="6.4" fill="#262626" text-anchor="middle" x="298.9" y="132.8">t/h</text>
<text font-family="Liberation Sans, Arial, sans-serif" stroke="#262626" stroke-width="0.14" font-size="6.4" fill="#262626" text-anchor="middle" transform="translate(191.9,63.8) rotate(-90)" y="2.3">Voltage/p.u.</text>
<text font-family="Liberation Sans, Arial, sans-serif" stroke="#262626" stroke-width="0.14" font-size="6.55" fill="#222" text-anchor="middle" x="270" y="9.3">Node voltage profiles in scenario2</text>
<defs><linearGradient id="g1" x1="0" y1="0" x2="0" y2="1"><stop offset="0%" stop-color="#f9fb15"/><stop offset="4.8%" stop-color="#f5e924"/><stop offset="9.5%" stop-color="#fad62d"/><stop offset="14.3%" stop-color="#fec338"/><stop offset="19%" stop-color="#f0ba36"/><stop offset="23.8%" stop-color="#d1bf27"/><stop offset="28.6%" stop-color="#abc739"/><stop offset="33.3%" stop-color="#81cc59"/><stop offset="38.1%" stop-color="#57cc7a"/><stop offset="42.9%" stop-color="#37c897"/><stop offset="47.6%" stop-color="#24c1ae"/><stop offset="52.4%" stop-color="#02bac3"/><stop offset="57.1%" stop-color="#12b1d6"/><stop offset="61.9%" stop-color="#20a5e3"/><stop offset="66.7%" stop-color="#2797eb"/><stop offset="71.4%" stop-color="#2e87f7"/><stop offset="76.2%" stop-color="#3875fe"/><stop offset="81%" stop-color="#4563fd"/><stop offset="85.7%" stop-color="#4852f4"/><stop offset="90.5%" stop-color="#4741e5"/><stop offset="95.2%" stop-color="#4332cb"/><stop offset="100%" stop-color="#3e26a8"/><stop offset="100%" stop-color="#3e26a8"/></linearGradient></defs>
<rect x="338.3" y="11.2" width="7.5" height="110.4" fill="url(#g1)" stroke="#b0b0b0" stroke-width="0.4"/>
<path d="M344.5,116.3h1.3M344.5,102.4h1.3M344.5,88.4h1.3M344.5,74.5h1.3M344.5,60.5h1.3M344.5,46.6h1.3M344.5,32.7h1.3M344.5,18.7h1.3" stroke="#555" stroke-width="0.45" stroke-opacity="0.6"/>
<g font-family="Liberation Sans, Arial, sans-serif" stroke="#262626" stroke-width="0.14" font-size="6.3" fill="#262626"><text x="348.6" y="118.4">0.995</text><text x="348.6" y="104.5">1</text><text x="348.6" y="90.5">1.005</text><text x="348.6" y="76.6">1.01</text><text x="348.6" y="62.6">1.015</text><text x="348.6" y="48.7">1.02</text><text x="348.6" y="34.8">1.025</text><text x="348.6" y="20.8">1.03</text></g>
<path d="M448.5,121.5L399.2,93.3M399.2,93.3L399.2,31.8M475.3,112.5L426,84.3M426,84.3L426,22.8M502.1,103.5L452.8,75.3M452.8,75.3L452.8,13.8M448.5,121.5L512.8,99.9M512.8,99.9L512.8,38.4M423.9,107.4L488.1,85.8M488.1,85.8L488.1,24.3M399.2,93.3L463.5,71.7M463.5,71.7L463.5,10.2M399.2,93.3L463.5,71.7M512.8,99.9L463.5,71.7M399.2,72.8L463.5,51.2M512.8,79.4L463.5,51.2M399.2,52.3L463.5,30.7M512.8,58.9L463.5,30.7M399.2,31.8L463.5,10.2M512.8,38.4L463.5,10.2M463.5,71.7L463.5,10.2M399.2,31.8L463.5,10.2M512.8,38.4L463.5,10.2" stroke="#e6e6e6" stroke-width="0.5" fill="none"/>
<path d="M448.5,121.5L512.8,99.9M448.5,121.5L399.2,93.3M399.2,93.3L399.2,31.8M448.5,121.5L447.5,120.9M475.3,112.5L474.3,111.9M502.1,103.5L501.1,102.9M448.5,121.5L449.8,121.1M423.9,107.4L425.1,107M399.2,93.3L400.5,92.9M399.2,93.3L400.5,92.9M399.2,72.8L400.5,72.4M399.2,52.3L400.5,51.9M399.2,31.8L400.5,31.4" stroke="#9a9a9a" stroke-width="0.6" fill="none"/>
<g stroke="#000" stroke-width="0.3" stroke-opacity="0.85" stroke-linejoin="round"><path d="M464.6,50L466,49.7L463.5,48.3L462.2,48.6Z" fill="#2e87f7"/><path d="M463.3,50.3L464.6,50L462.2,48.6L460.8,49Z" fill="#2e87f7"/><path d="M461.9,50.6L463.3,50.3L460.8,49L459.5,49.3Z" fill="#2e87f7"/><path d="M467.1,51.3L468.4,51L466,49.7L464.6,50Z" fill="#2e87f7"/><path d="M460.6,50.9L461.9,50.6L459.5,49.3L458.1,49.6Z" fill="#2e87f7"/><path d="M465.8,51.7L467.1,51.3L464.6,50L463.3,50.3Z" fill="#2e87f7"/><path d="M459.3,51.3L460.6,50.9L458.1,49.6L456.8,49.9Z" fill="#2e87f7"/><path d="M464.4,52L465.8,51.7L463.3,50.3L461.9,50.6Z" fill="#2e87f7"/><path d="M457.9,51.5L459.3,51.3L456.8,49.9L455.5,50.1Z" fill="#2d8cf3"/><path d="M469.6,52.6L470.9,52.3L468.4,51L467.1,51.3Z" fill="#2e87f7"/><path d="M463.1,52.3L464.4,52L461.9,50.6L460.6,50.9Z" fill="#2e87f7"/><path d="M456.6,51.8L457.9,51.5L455.5,50.1L454.1,50.4Z" fill="#2d8cf3"/><path d="M468.2,53L469.6,52.6L467.1,51.3L465.8,51.7Z" fill="#2e87f7"/><path d="M461.7,52.6L463.1,52.3L460.6,50.9L459.3,51.3Z" fill="#2d8cf3"/><path d="M455.2,52L456.6,51.8L454.1,50.4L452.8,50.6Z" fill="#2d8cf3"/><path d="M466.9,53.3L468.2,53L465.8,51.7L464.4,52Z" fill="#2e87f7"/><path d="M460.4,52.9L461.7,52.6L459.3,51.3L457.9,51.5Z" fill="#2d8cf3"/><path d="M453.9,52.1L455.2,52L452.8,50.6L451.4,50.7Z" fill="#2b91ef"/><path d="M472,54L473.4,53.6L470.9,52.3L469.6,52.6Z" fill="#2e87f7"/><path d="M465.5,53.7L466.9,53.3L464.4,52L463.1,52.3Z" fill="#2e87f7"/><path d="M459.1,53.2L460.4,52.9L457.9,51.5L456.6,51.8Z" fill="#2d8cf3"/><path d="M452.6,52.1L453.9,52.1L451.4,50.7L450.1,50.6Z" fill="#2b91ef"/><path d="M470.7,54.3L472,54L469.6,52.6L468.2,53Z" fill="#2e87f7"/><path d="M464.2,54L465.5,53.7L463.1,52.3L461.7,52.6Z" fill="#2d8cf3"/><path d="M457.7,53.4L459.1,53.2L456.6,51.8L455.2,52Z" fill="#2d8cf3"/><path d="M469.3,54.7L470.7,54.3L468.2,53L466.9,53.3Z" fill="#2e87f7"/><path d="M462.9,54.3L464.2,54L461.7,52.6L460.4,52.9Z" fill="#2d8cf3"/><path d="M456.4,53.5L457.7,53.4L455.2,52L453.9,52.1Z" fill="#2b91ef"/><path d="M474.5,55.3L475.8,54.9L473.4,53.6L472,54Z" fill="#2e87f7"/><path d="M468,55L469.3,54.7L466.9,53.3L465.5,53.7Z" fill="#2e87f7"/><path d="M451.2,49.2L452.6,52.1L450.1,50.6L448.8,47.5Z" fill="#1ca9df"/><path d="M461.5,54.6L462.9,54.3L460.4,52.9L459.1,53.2Z" fill="#2d8cf3"/><path d="M455,53.5L456.4,53.5L453.9,52.1L452.6,52.1Z" fill="#2b91ef"/><path d="M473.1,55.7L474.5,55.3L472,54L470.7,54.3Z" fill="#2e87f7"/><path d="M466.7,55.4L468,55L465.5,53.7L464.2,54Z" fill="#2d8cf3"/><path d="M460.2,54.8L461.5,54.6L459.1,53.2L457.7,53.4Z" fill="#2d8cf3"/><path d="M471.8,56L473.1,55.7L470.7,54.3L469.3,54.7Z" fill="#2e87f7"/><path d="M465.3,55.7L466.7,55.4L464.2,54L462.9,54.3Z" fill="#2d8cf3"/><path d="M458.8,54.9L460.2,54.8L457.7,53.4L456.4,53.5Z" fill="#2b91ef"/><path d="M453.7,50.8L455,53.5L452.6,52.1L451.2,49.2Z" fill="#20a5e3"/><path d="M477,56.6L478.3,56.3L475.8,54.9L474.5,55.3Z" fill="#2e87f7"/><path d="M470.5,56.4L471.8,56L469.3,54.7L468,55Z" fill="#2d8cf3"/><path d="M464,56L465.3,55.7L462.9,54.3L461.5,54.6Z" fill="#2d8cf3"/><path d="M449.9,46.1L451.2,49.2L448.8,47.5L447.4,44.1Z" fill="#02bac3"/><path d="M457.5,54.9L458.8,54.9L456.4,53.5L455,53.5Z" fill="#2b91ef"/><path d="M475.6,57L477,56.6L474.5,55.3L473.1,55.7Z" fill="#2e87f7"/><path d="M469.1,56.7L470.5,56.4L468,55L466.7,55.4Z" fill="#2d8cf3"/><path d="M462.6,56.2L464,56L461.5,54.6L460.2,54.8Z" fill="#2d8cf3"/><path d="M474.3,57.4L475.6,57L473.1,55.7L471.8,56Z" fill="#2d8cf3"/><path d="M467.8,57.1L469.1,56.7L466.7,55.4L465.3,55.7Z" fill="#2d8cf3"/><path d="M461.3,56.3L462.6,56.2L460.2,54.8L458.8,54.9Z" fill="#2b91ef"/><path d="M456.2,52.5L457.5,54.9L455,53.5L453.7,50.8Z" fill="#20a5e3"/><path d="M472.9,57.7L474.3,57.4L471.8,56L470.5,56.4Z" fill="#2d8cf3"/><path d="M479.4,57.9L480.8,57.6L478.3,56.3L477,56.6Z" fill="#2e87f7"/><path d="M466.4,57.4L467.8,57.1L465.3,55.7L464,56Z" fill="#2d8cf3"/><path d="M452.4,47.9L453.7,50.8L451.2,49.2L449.9,46.1Z" fill="#01b8ca"/><path d="M460,56.3L461.3,56.3L458.8,54.9L457.5,54.9Z" fill="#2b91ef"/><path d="M478.1,58.3L479.4,57.9L477,56.6L475.6,57Z" fill="#2d8cf3"/><path d="M471.6,58.1L472.9,57.7L470.5,56.4L469.1,56.7Z" fill="#2d8cf3"/><path d="M448.6,42.7L449.9,46.1L447.4,44.1L446.1,40.6Z" fill="#31c69f"/><path d="M465.1,57.6L466.4,57.4L464,56L462.6,56.2Z" fill="#2d8cf3"/><path d="M476.7,58.7L478.1,58.3L475.6,57L474.3,57.4Z" fill="#2d8cf3"/><path d="M470.3,58.4L471.6,58.1L469.1,56.7L467.8,57.1Z" fill="#2d8cf3"/><path d="M463.8,57.7L465.1,57.6L462.6,56.2L461.3,56.3Z" fill="#2b91ef"/><path d="M458.6,54L460,56.3L457.5,54.9L456.2,52.5Z" fill="#20a5e3"/><path d="M454.8,49.7L456.2,52.5L453.7,50.8L452.4,47.9Z" fill="#08b5d0"/><path d="M475.4,59.1L476.7,58.7L474.3,57.4L472.9,57.7Z" fill="#2d8cf3"/><path d="M481.9,59.3L483.2,58.9L480.8,57.6L479.4,57.9Z" fill="#2d8cf3"/><path d="M468.9,58.7L470.3,58.4L467.8,57.1L466.4,57.4Z" fill="#2d8cf3"/><path d="M462.4,57.7L463.8,57.7L461.3,56.3L460,56.3Z" fill="#2b91ef"/><path d="M451,44.8L452.4,47.9L449.9,46.1L448.6,42.7Z" fill="#2cc4a7"/><path d="M474.1,59.4L475.4,59.1L472.9,57.7L471.6,58.1Z" fill="#2d8cf3"/><path d="M480.5,59.6L481.9,59.3L479.4,57.9L478.1,58.3Z" fill="#2d8cf3"/><path d="M467.6,59L468.9,58.7L466.4,57.4L465.1,57.6Z" fill="#2d8cf3"/><path d="M447.2,39.4L448.6,42.7L446.1,40.6L444.7,37Z" fill="#64cd6f"/><path d="M479.2,60L480.5,59.6L478.1,58.3L476.7,58.7Z" fill="#2d8cf3"/><path d="M472.7,59.8L474.1,59.4L471.6,58.1L470.3,58.4Z" fill="#2d8cf3"/><path d="M466.2,59.1L467.6,59L465.1,57.6L463.8,57.7Z" fill="#2b91ef"/><path d="M461.1,55.5L462.4,57.7L460,56.3L458.6,54Z" fill="#20a5e3"/><path d="M457.3,51.4L458.6,54L456.2,52.5L454.8,49.7Z" fill="#08b5d0"/><path d="M477.9,60.4L479.2,60L476.7,58.7L475.4,59.1Z" fill="#2d8cf3"/><path d="M484.3,60.6L485.7,60.2L483.2,58.9L481.9,59.3Z" fill="#2d8cf3"/><path d="M471.4,60.1L472.7,59.8L470.3,58.4L468.9,58.7Z" fill="#2d8cf3"/><path d="M453.5,46.7L454.8,49.7L452.4,47.9L451,44.8Z" fill="#24c1ae"/><path d="M464.9,59L466.2,59.1L463.8,57.7L462.4,57.7Z" fill="#2797eb"/><path d="M476.5,60.8L477.9,60.4L475.4,59.1L474.1,59.4Z" fill="#2d8cf3"/><path d="M483,61L484.3,60.6L481.9,59.3L480.5,59.6Z" fill="#2d8cf3"/><path d="M470,60.3L471.4,60.1L468.9,58.7L467.6,59Z" fill="#2d8cf3"/><path d="M449.7,41.6L451,44.8L448.6,42.7L447.2,39.4Z" fill="#57cc7a"/><path d="M475.2,61.1L476.5,60.8L474.1,59.4L472.7,59.8Z" fill="#2d8cf3"/><path d="M481.7,61.3L483,61L480.5,59.6L479.2,60Z" fill="#2d8cf3"/><path d="M445.9,36.5L447.2,39.4L444.7,37L443.4,34Z" fill="#9dc943"/><path d="M468.7,60.4L470,60.3L467.6,59L466.2,59.1Z" fill="#2b91ef"/><path d="M459.8,52.9L461.1,55.5L458.6,54L457.3,51.4Z" fill="#08b5d0"/><path d="M463.6,56.8L464.9,59L462.4,57.7L461.1,55.5Z" fill="#20a5e3"/><path d="M455.9,48.5L457.3,51.4L454.8,49.7L453.5,46.7Z" fill="#24c1ae"/><path d="M480.3,61.7L481.7,61.3L479.2,60L477.9,60.4Z" fill="#2d8cf3"/><path d="M473.8,61.4L475.2,61.1L472.7,59.8L471.4,60.1Z" fill="#2d8cf3"/><path d="M486.8,61.9L488.1,61.5L485.7,60.2L484.3,60.6Z" fill="#2d8cf3"/><path d="M467.4,60.3L468.7,60.4L466.2,59.1L464.9,59Z" fill="#2797eb"/><path d="M452.1,43.5L453.5,46.7L451,44.8L449.7,41.6Z" fill="#4acb84"/><path d="M479,62.1L480.3,61.7L477.9,60.4L476.5,60.8Z" fill="#2d8cf3"/><path d="M485.5,62.3L486.8,61.9L484.3,60.6L483,61Z" fill="#2d8cf3"/><path d="M472.5,61.7L473.8,61.4L471.4,60.1L470,60.3Z" fill="#2b91ef"/><path d="M448.3,38.6L449.7,41.6L447.2,39.4L445.9,36.5Z" fill="#8fcb4e"/><path d="M477.6,62.5L479,62.1L476.5,60.8L475.2,61.1Z" fill="#2d8cf3"/><path d="M484.1,62.7L485.5,62.3L483,61L481.7,61.3Z" fill="#2d8cf3"/><path d="M471.2,61.8L472.5,61.7L470,60.3L468.7,60.4Z" fill="#2b91ef"/><path d="M462.2,54.2L463.6,56.8L461.1,55.5L459.8,52.9Z" fill="#08b5d0"/><path d="M444.5,33.8L445.9,36.5L443.4,34L442.1,31.1Z" fill="#d1bf27"/><path d="M466,58.2L467.4,60.3L464.9,59L463.6,56.8Z" fill="#20a5e3"/><path d="M458.4,50L459.8,52.9L457.3,51.4L455.9,48.5Z" fill="#19bfb6"/><path d="M476.3,62.8L477.6,62.5L475.2,61.1L473.8,61.4Z" fill="#2d8cf3"/><path d="M482.8,63.1L484.1,62.7L481.7,61.3L480.3,61.7Z" fill="#2d8cf3"/><path d="M454.6,45.3L455.9,48.5L453.5,46.7L452.1,43.5Z" fill="#3fca8e"/><path d="M489.3,62.4L490.6,62L488.1,61.5L486.8,61.9Z" fill="#2b91ef"/><path d="M469.8,61.7L471.2,61.8L468.7,60.4L467.4,60.3Z" fill="#2797eb"/><path d="M481.5,63.6L482.8,63.1L480.3,61.7L479,62.1Z" fill="#2d8cf3"/><path d="M475,63.1L476.3,62.8L473.8,61.4L472.5,61.7Z" fill="#2b91ef"/><path d="M450.8,40.3L452.1,43.5L449.7,41.6L448.3,38.6Z" fill="#8fcb4e"/><path d="M487.9,62.8L489.3,62.4L486.8,61.9L485.5,62.3Z" fill="#2b91ef"/><path d="M419.1,66L420.4,65.2L418,63.9L416.6,64.7Z" fill="#2f81fa"/><path d="M420.4,65.2L421.8,62.4L419.3,61L418,63.9Z" fill="#2f81fa"/><path d="M447,35.8L448.3,38.6L445.9,36.5L444.5,33.8Z" fill="#d1bf27"/><path d="M480.1,64.3L481.5,63.6L479,62.1L477.6,62.5Z" fill="#2d8cf3"/><path d="M473.6,63.2L475,63.1L472.5,61.7L471.2,61.8Z" fill="#2b91ef"/><path d="M486.6,63.2L487.9,62.8L485.5,62.3L484.1,62.7Z" fill="#2b91ef"/><path d="M464.7,55.6L466,58.2L463.6,56.8L462.2,54.2Z" fill="#08b5d0"/><path d="M468.5,59.9L469.8,61.7L467.4,60.3L466,58.2Z" fill="#20a5e3"/><path d="M417.7,66.4L419.1,66L416.6,64.7L415.3,65.1Z" fill="#2f81fa"/><path d="M421.8,62.4L423.1,59.1L420.6,57.6L419.3,61Z" fill="#2b91ef"/><path d="M443.2,31.3L444.5,33.8L442.1,31.1L440.7,28.5Z" fill="#f8ba3d"/><path d="M460.9,51.2L462.2,54.2L459.8,52.9L458.4,50Z" fill="#24c1ae"/><path d="M478.8,65.3L480.1,64.3L477.6,62.5L476.3,62.8Z" fill="#2e87f7"/><path d="M482.4,82L483.7,78.1L481.2,71.8L479.9,74.1Z" fill="#3e26a8"/><path d="M457.1,46.8L458.4,50L455.9,48.5L454.6,45.3Z" fill="#3fca8e"/><path d="M485.3,63.8L486.6,63.2L484.1,62.7L482.8,63.1Z" fill="#2b91ef"/><path d="M472.3,63.2L473.6,63.2L471.2,61.8L469.8,61.7Z" fill="#2797eb"/><path d="M416.4,66.7L417.7,66.4L415.3,65.1L413.9,65.4Z" fill="#2f81fa"/><path d="M477.4,65.9L478.8,65.3L476.3,62.8L475,63.1Z" fill="#2e87f7"/><path d="M453.3,42L454.6,45.3L452.1,43.5L450.8,40.3Z" fill="#81cc59"/><path d="M491.7,63L493.1,62.6L490.6,62L489.3,62.4Z" fill="#2797eb"/><path d="M481,78.6L482.4,82L479.9,74.1L478.6,72.3Z" fill="#463cde"/><path d="M479.9,74.1L481.2,71.8L478.8,65.3L477.4,65.9Z" fill="#4852f4"/><path d="M483.9,65L485.3,63.8L482.8,63.1L481.5,63.6Z" fill="#2d8cf3"/><path d="M423.1,59.1L424.4,54.7L422,52.9L420.6,57.6Z" fill="#20a5e3"/><path d="M481.2,71.8L482.6,67.7L480.1,64.3L478.8,65.3Z" fill="#465efb"/><path d="M482.6,67.7L483.9,65L481.5,63.6L480.1,64.3Z" fill="#327cfc"/><path d="M449.5,37.1L450.8,40.3L448.3,38.6L447,35.8Z" fill="#d1bf27"/><path d="M415.1,66.7L416.4,66.7L413.9,65.4L412.6,65.4Z" fill="#2e87f7"/><path d="M422.9,66.4L424.2,63.8L421.8,62.4L420.4,65.2Z" fill="#2e87f7"/><path d="M476.1,65.7L477.4,65.9L475,63.1L473.6,63.2Z" fill="#2e87f7"/><path d="M421.5,67.3L422.9,66.4L420.4,65.2L419.1,66Z" fill="#2f81fa"/><path d="M483.7,78.1L485,71L482.6,67.7L481.2,71.8Z" fill="#463cde"/><path d="M490.4,63.4L491.7,63L489.3,62.4L487.9,62.8Z" fill="#2797eb"/><path d="M445.7,33.1L447,35.8L444.5,33.8L443.2,31.3Z" fill="#f8ba3d"/><path d="M478.6,72.3L479.9,74.1L477.4,65.9L476.1,65.7Z" fill="#4563fd"/><path d="M467.1,57.6L468.5,59.9L466,58.2L464.7,55.6Z" fill="#12b1d6"/><path d="M470.9,61.6L472.3,63.2L469.8,61.7L468.5,59.9Z" fill="#23a0e5"/><path d="M441.9,29.6L443.2,31.3L440.7,28.5L439.4,26.7Z" fill="#fec934"/><path d="M424.2,63.8L425.6,60.7L423.1,59.1L421.8,62.4Z" fill="#2b91ef"/><path d="M420.2,67.7L421.5,67.3L419.1,66L417.7,66.4Z" fill="#2f81fa"/><path d="M463.3,52.6L464.7,55.6L462.2,54.2L460.9,51.2Z" fill="#24c1ae"/><path d="M489.1,63.8L490.4,63.4L487.9,62.8L486.6,63.2Z" fill="#2797eb"/><path d="M424.4,54.7L425.8,50.7L423.3,48.6L422,52.9Z" fill="#01b8ca"/><path d="M413.7,66.6L415.1,66.7L412.6,65.4L411.3,65.3Z" fill="#2e87f7"/><path d="M459.5,48.1L460.9,51.2L458.4,50L457.1,46.8Z" fill="#3fca8e"/><path d="M474.8,65.1L476.1,65.7L473.6,63.2L472.3,63.2Z" fill="#2b91ef"/><path d="M484.8,75.3L486.2,73L483.7,78.1L482.4,82Z" fill="#465efb"/><path d="M455.7,43.9L457.1,46.8L454.6,45.3L453.3,42Z" fill="#81cc59"/><path d="M418.9,68L420.2,67.7L417.7,66.4L416.4,66.7Z" fill="#2f81fa"/><path d="M485,71L486.4,66.3L483.9,65L482.6,67.7Z" fill="#4269fe"/><path d="M487.7,64.5L489.1,63.8L486.6,63.2L485.3,63.8Z" fill="#2797eb"/><path d="M425.6,60.7L426.9,56.4L424.4,54.7L423.1,59.1Z" fill="#20a5e3"/><path d="M486.4,66.3L487.7,64.5L485.3,63.8L483.9,65Z" fill="#2d8cf3"/><path d="M451.9,38.7L453.3,42L450.8,40.3L449.5,37.1Z" fill="#c5c22a"/><path d="M412.4,66.2L413.7,66.6L411.3,65.3L409.9,64.9Z" fill="#2b91ef"/><path d="M494.2,63.5L495.5,63.1L493.1,62.6L491.7,63Z" fill="#259be8"/><path d="M477.2,68.6L478.6,72.3L476.1,65.7L474.8,65.1Z" fill="#2f81fa"/><path d="M483.5,73.5L484.8,75.3L482.4,82L481,78.6Z" fill="#3e6fff"/><path d="M444.3,31.5L445.7,33.1L443.2,31.3L441.9,29.6Z" fill="#fec338"/><path d="M417.5,68.1L418.9,68L416.4,66.7L415.1,66.7Z" fill="#2e87f7"/><path d="M425.3,67.7L426.7,65.1L424.2,63.8L422.9,66.4Z" fill="#2e87f7"/><path d="M424,68.5L425.3,67.7L422.9,66.4L421.5,67.3Z" fill="#2f81fa"/><path d="M448.1,34.2L449.5,37.1L447,35.8L445.7,33.1Z" fill="#f8ba3d"/><path d="M425.8,50.7L427.1,45.9L424.7,43.5L423.3,48.6Z" fill="#2cc4a7"/><path d="M440.5,28.1L441.9,29.6L439.4,26.7L438,25Z" fill="#f7dc2a"/><path d="M469.6,59.7L470.9,61.6L468.5,59.9L467.1,57.6Z" fill="#18addb"/><path d="M479.7,72L481,78.6L478.6,72.3L477.2,68.6Z" fill="#3875fe"/><path d="M473.4,63.3L474.8,65.1L472.3,63.2L470.9,61.6Z" fill="#23a0e5"/><path d="M486.2,73L487.5,68.9L485,71L483.7,78.1Z" fill="#4269fe"/><path d="M465.8,54.9L467.1,57.6L464.7,55.6L463.3,52.6Z" fill="#19bfb6"/><path d="M426.7,65.1L428,62.2L425.6,60.7L424.2,63.8Z" fill="#2797eb"/><path d="M492.9,63.9L494.2,63.5L491.7,63L490.4,63.4Z" fill="#259be8"/><path d="M426.9,56.4L428.2,52.6L425.8,50.7L424.4,54.7Z" fill="#01b8ca"/><path d="M422.7,69L424,68.5L421.5,67.3L420.2,67.7Z" fill="#2f81fa"/><path d="M416.2,68L417.5,68.1L415.1,66.7L413.7,66.6Z" fill="#2e87f7"/><path d="M411,65.6L412.4,66.2L409.9,64.9L408.6,64.3Z" fill="#2797eb"/><path d="M462,49.6L463.3,52.6L460.9,51.2L459.5,48.1Z" fill="#3fca8e"/><path d="M458.2,45.5L459.5,48.1L457.1,46.8L455.7,43.9Z" fill="#72cd64"/><path d="M491.5,64.4L492.9,63.9L490.4,63.4L489.1,63.8Z" fill="#259be8"/><path d="M421.3,69.3L422.7,69L420.2,67.7L418.9,68Z" fill="#2f81fa"/><path d="M428,62.2L429.4,58.1L426.9,56.4L425.6,60.7Z" fill="#20a5e3"/><path d="M439.2,28L440.5,28.1L438,25L436.7,24.7Z" fill="#f7dc2a"/><path d="M427.1,45.9L428.5,41.4L426,38.7L424.7,43.5Z" fill="#64cd6f"/><path d="M454.4,41.2L455.7,43.9L453.3,42L451.9,38.7Z" fill="#b9c431"/><path d="M443,30.3L444.3,31.5L441.9,29.6L440.5,28.1Z" fill="#fad62d"/><path d="M428.2,52.6L429.6,48.2L427.1,45.9L425.8,50.7Z" fill="#24c1ae"/><path d="M487.5,68.9L488.8,66.1L486.4,66.3L485,71Z" fill="#2e87f7"/><path d="M490.2,64.9L491.5,64.4L489.1,63.8L487.7,64.5Z" fill="#259be8"/><path d="M414.8,67.6L416.2,68L413.7,66.6L412.4,66.2Z" fill="#2b91ef"/><path d="M437.8,29.7L439.2,28L436.7,24.7L435.4,26.5Z" fill="#fad62d"/><path d="M436.5,31.5L437.8,29.7L435.4,26.5L434,28.2Z" fill="#fec934"/><path d="M475.9,65L477.2,68.6L474.8,65.1L473.4,63.3Z" fill="#259be8"/><path d="M472.1,61.6L473.4,63.3L470.9,61.6L469.6,59.7Z" fill="#18addb"/><path d="M446.8,32.5L448.1,34.2L445.7,33.1L444.3,31.5Z" fill="#fec934"/><path d="M409.7,65L411,65.6L408.6,64.3L407.2,63.7Z" fill="#259be8"/><path d="M420,69.4L421.3,69.3L418.9,68L417.5,68.1Z" fill="#2e87f7"/><path d="M427.8,69L429.2,66.5L426.7,65.1L425.3,67.7Z" fill="#2e87f7"/><path d="M450.6,35.8L451.9,38.7L449.5,37.1L448.1,34.2Z" fill="#f8ba3d"/><path d="M468.3,57.5L469.6,59.7L467.1,57.6L465.8,54.9Z" fill="#02bac3"/><path d="M426.5,69.8L427.8,69L425.3,67.7L424,68.5Z" fill="#2f81fa"/><path d="M488.8,66.1L490.2,64.9L487.7,64.5L486.4,66.3Z" fill="#2797eb"/><path d="M496.7,64.1L498,63.7L495.5,63.1L494.2,63.5Z" fill="#23a0e5"/><path d="M429.4,58.1L430.7,54.6L428.2,52.6L426.9,56.4Z" fill="#01b8ca"/><path d="M435.2,30.9L436.5,31.5L434,28.2L432.7,27.5Z" fill="#fccf30"/><path d="M429.2,66.5L430.5,63.6L428,62.2L426.7,65.1Z" fill="#2797eb"/><path d="M482.1,70L483.5,73.5L481,78.6L479.7,72Z" fill="#2d8cf3"/><path d="M425.1,70.3L426.5,69.8L424,68.5L422.7,69Z" fill="#2f81fa"/><path d="M464.5,52.3L465.8,54.9L463.3,52.6L462,49.6Z" fill="#37c897"/><path d="M441.6,30.5L443,30.3L440.5,28.1L439.2,28Z" fill="#fad62d"/><path d="M428.5,41.4L429.8,36.7L427.3,33.6L426,38.7Z" fill="#abc739"/><path d="M418.7,69.3L420,69.4L417.5,68.1L416.2,68Z" fill="#2d8cf3"/><path d="M495.3,64.5L496.7,64.1L494.2,63.5L492.9,63.9Z" fill="#23a0e5"/><path d="M413.5,66.9L414.8,67.6L412.4,66.2L411,65.6Z" fill="#2797eb"/><path d="M429.6,48.2L430.9,44.1L428.5,41.4L427.1,45.9Z" fill="#57cc7a"/><path d="M460.7,47.4L462,49.6L459.5,48.1L458.2,45.5Z" fill="#72cd64"/><path d="M439,34.5L440.3,32.6L437.8,29.7L436.5,31.5Z" fill="#febe3c"/><path d="M440.3,32.6L441.6,30.5L439.2,28L437.8,29.7Z" fill="#fec934"/><path d="M408.4,64.6L409.7,65L407.2,63.7L405.9,63.3Z" fill="#23a0e5"/><path d="M456.9,43.6L458.2,45.5L455.7,43.9L454.4,41.2Z" fill="#abc739"/><path d="M430.5,63.6L431.8,59.8L429.4,58.1L428,62.2Z" fill="#20a5e3"/><path d="M423.8,70.6L425.1,70.3L422.7,69L421.3,69.3Z" fill="#2f81fa"/><path d="M478.3,66.6L479.7,72L477.2,68.6L475.9,65Z" fill="#259be8"/><path d="M430.7,54.6L432,50.4L429.6,48.2L428.2,52.6Z" fill="#24c1ae"/><path d="M433.8,31L435.2,30.9L432.7,27.5L431.3,27.6Z" fill="#fad62d"/><path d="M445.4,31.7L446.8,32.5L444.3,31.5L443,30.3Z" fill="#fad62d"/><path d="M494,64.9L495.3,64.5L492.9,63.9L491.5,64.4Z" fill="#20a5e3"/><path d="M437.6,34.1L439,34.5L436.5,31.5L435.2,30.9Z" fill="#fec338"/><path d="M453.1,38.9L454.4,41.2L451.9,38.7L450.6,35.8Z" fill="#e6bb2d"/><path d="M470.7,59.7L472.1,61.6L469.6,59.7L468.3,57.5Z" fill="#01b8ca"/><path d="M474.5,62.8L475.9,65L473.4,63.3L472.1,61.6Z" fill="#18addb"/><path d="M417.3,68.9L418.7,69.3L416.2,68L414.8,67.6Z" fill="#2b91ef"/><path d="M432.5,32.2L433.8,31L431.3,27.6L430,28.8Z" fill="#fccf30"/><path d="M449.2,34.2L450.6,35.8L448.1,34.2L446.8,32.5Z" fill="#fec934"/><path d="M429.8,36.7L431.1,33.4L428.7,30.1L427.3,33.6Z" fill="#f0ba36"/><path d="M412.2,66.3L413.5,66.9L411,65.6L409.7,65Z" fill="#259be8"/><path d="M466.9,55.3L468.3,57.5L465.8,54.9L464.5,52.3Z" fill="#24c1ae"/><path d="M422.5,70.7L423.8,70.6L421.3,69.3L420,69.4Z" fill="#2e87f7"/><path d="M407,64.4L408.4,64.6L405.9,63.3L404.6,63.1Z" fill="#20a5e3"/><path d="M430.3,70.2L431.6,67.9L429.2,66.5L427.8,69Z" fill="#2e87f7"/><path d="M431.8,59.8L433.2,56.4L430.7,54.6L429.4,58.1Z" fill="#08b5d0"/><path d="M428.9,71.1L430.3,70.2L427.8,69L426.5,69.8Z" fill="#2e87f7"/><path d="M430.9,44.1L432.3,39.7L429.8,36.7L428.5,41.4Z" fill="#9dc943"/><path d="M492.7,65.3L494,64.9L491.5,64.4L490.2,64.9Z" fill="#20a5e3"/><path d="M431.1,33.4L432.5,32.2L430,28.8L428.7,30.1Z" fill="#fec934"/><path d="M444.1,32.5L445.4,31.7L443,30.3L441.6,30.5Z" fill="#fccf30"/><path d="M441.4,37.2L442.8,35L440.3,32.6L439,34.5Z" fill="#f0ba36"/><path d="M432,50.4L433.4,46.6L430.9,44.1L429.6,48.2Z" fill="#4acb84"/><path d="M431.6,67.9L433,65.1L430.5,63.6L429.2,66.5Z" fill="#2797eb"/><path d="M436.3,34.3L437.6,34.1L435.2,30.9L433.8,31Z" fill="#fec338"/><path d="M442.8,35L444.1,32.5L441.6,30.5L440.3,32.6Z" fill="#febe3c"/><path d="M463.1,50.3L464.5,52.3L462,49.6L460.7,47.4Z" fill="#57cc7a"/><path d="M499.1,64.6L500.5,64.2L498,63.7L496.7,64.1Z" fill="#1ca9df"/><path d="M487.3,68.3L488.6,67.7L486.2,73L484.8,75.3Z" fill="#259be8"/><path d="M427.6,71.6L428.9,71.1L426.5,69.8L425.1,70.3Z" fill="#2f81fa"/><path d="M491.3,65.9L492.7,65.3L490.2,64.9L488.8,66.1Z" fill="#23a0e5"/><path d="M488.6,67.7L490,66.6L487.5,68.9L486.2,73Z" fill="#259be8"/><path d="M440.1,37.1L441.4,37.2L439,34.5L437.6,34.1Z" fill="#f8ba3d"/><path d="M459.3,46.1L460.7,47.4L458.2,45.5L456.9,43.6Z" fill="#8fcb4e"/><path d="M421.1,70.6L422.5,70.7L420,69.4L418.7,69.3Z" fill="#2d8cf3"/><path d="M490,66.6L491.3,65.9L488.8,66.1L487.5,68.9Z" fill="#23a0e5"/><path d="M416,68.2L417.3,68.9L414.8,67.6L413.5,66.9Z" fill="#2797eb"/><path d="M405.7,64.4L407,64.4L404.6,63.1L403.2,63.1Z" fill="#1ca9df"/><path d="M455.5,42.4L456.9,43.6L454.4,41.2L453.1,38.9Z" fill="#c5c22a"/><path d="M434.9,35.5L436.3,34.3L433.8,31L432.5,32.2Z" fill="#febe3c"/><path d="M433.2,56.4L434.5,52.6L432,50.4L430.7,54.6Z" fill="#19bfb6"/><path d="M410.8,65.9L412.2,66.3L409.7,65L408.4,64.6Z" fill="#20a5e3"/><path d="M433,65.1L434.3,61.5L431.8,59.8L430.5,63.6Z" fill="#20a5e3"/><path d="M432.3,39.7L433.6,36.6L431.1,33.4L429.8,36.7Z" fill="#dcbd29"/><path d="M497.8,65L499.1,64.6L496.7,64.1L495.3,64.5Z" fill="#1ca9df"/><path d="M433.6,36.6L434.9,35.5L432.5,32.2L431.1,33.4Z" fill="#f8ba3d"/><path d="M426.3,71.9L427.6,71.6L425.1,70.3L423.8,70.6Z" fill="#2e87f7"/><path d="M486,68.3L487.3,68.3L484.8,75.3L483.5,73.5Z" fill="#23a0e5"/><path d="M447.9,33.7L449.2,34.2L446.8,32.5L445.4,31.7Z" fill="#fccf30"/><path d="M451.7,37.8L453.1,38.9L450.6,35.8L449.2,34.2Z" fill="#f8ba3d"/><path d="M469.4,57.6L470.7,59.7L468.3,57.5L466.9,55.3Z" fill="#19bfb6"/><path d="M473.2,61.2L474.5,62.8L472.1,61.6L470.7,59.7Z" fill="#01b8ca"/><path d="M433.4,46.6L434.7,42.5L432.3,39.7L430.9,44.1Z" fill="#81cc59"/><path d="M480.8,66.7L482.1,70L479.7,72L478.3,66.6Z" fill="#20a5e3"/><path d="M438.7,37.5L440.1,37.1L437.6,34.1L436.3,34.3Z" fill="#f8ba3d"/><path d="M477,64L478.3,66.6L475.9,65L474.5,62.8Z" fill="#18addb"/><path d="M404.3,64.5L405.7,64.4L403.2,63.1L401.9,63.2Z" fill="#1ca9df"/><path d="M443.9,39.9L445.2,37.6L442.8,35L441.4,37.2Z" fill="#dcbd29"/><path d="M419.8,70.2L421.1,70.6L418.7,69.3L417.3,68.9Z" fill="#2b91ef"/><path d="M465.6,53.6L466.9,55.3L464.5,52.3L463.1,50.3Z" fill="#37c897"/><path d="M496.5,65.4L497.8,65L495.3,64.5L494,64.9Z" fill="#1ca9df"/><path d="M434.3,61.5L435.6,58.3L433.2,56.4L431.8,59.8Z" fill="#08b5d0"/><path d="M434.5,52.6L435.9,49L433.4,46.6L432,50.4Z" fill="#3fca8e"/><path d="M424.9,72.1L426.3,71.9L423.8,70.6L422.5,70.7Z" fill="#2e87f7"/><path d="M414.6,67.6L416,68.2L413.5,66.9L412.2,66.3Z" fill="#23a0e5"/><path d="M432.7,71.5L434.1,69.2L431.6,67.9L430.3,70.2Z" fill="#2e87f7"/><path d="M409.5,65.7L410.8,65.9L408.4,64.6L407,64.4Z" fill="#20a5e3"/><path d="M446.6,34.9L447.9,33.7L445.4,31.7L444.1,32.5Z" fill="#fec934"/><path d="M442.5,40.1L443.9,39.9L441.4,37.2L440.1,37.1Z" fill="#e6bb2d"/><path d="M445.2,37.6L446.6,34.9L444.1,32.5L442.8,35Z" fill="#f8ba3d"/><path d="M437.4,38.6L438.7,37.5L436.3,34.3L434.9,35.5Z" fill="#f0ba36"/><path d="M431.4,72.4L432.7,71.5L430.3,70.2L428.9,71.1Z" fill="#2e87f7"/><path d="M461.8,49.2L463.1,50.3L460.7,47.4L459.3,46.1Z" fill="#72cd64"/><path d="M458,45.5L459.3,46.1L456.9,43.6L455.5,42.4Z" fill="#abc739"/><path d="M434.7,42.5L436.1,39.7L433.6,36.6L432.3,39.7Z" fill="#c5c22a"/><path d="M454.2,41.9L455.5,42.4L453.1,38.9L451.7,37.8Z" fill="#d1bf27"/><path d="M434.1,69.2L435.4,66.5L433,65.1L431.6,67.9Z" fill="#2797eb"/><path d="M436.1,39.7L437.4,38.6L434.9,35.5L433.6,36.6Z" fill="#e6bb2d"/><path d="M495.1,65.8L496.5,65.4L494,64.9L492.7,65.3Z" fill="#1ca9df"/><path d="M403,64.6L404.3,64.5L401.9,63.2L400.5,63.3Z" fill="#18addb"/><path d="M450.4,37.4L451.7,37.8L449.2,34.2L447.9,33.7Z" fill="#febe3c"/><path d="M430.1,72.9L431.4,72.4L428.9,71.1L427.6,71.6Z" fill="#2e87f7"/><path d="M435.6,58.3L437,54.6L434.5,52.6L433.2,56.4Z" fill="#19bfb6"/><path d="M441.2,40.5L442.5,40.1L440.1,37.1L438.7,37.5Z" fill="#e6bb2d"/><path d="M484.6,67.8L486,68.3L483.5,73.5L482.1,70Z" fill="#20a5e3"/><path d="M423.6,71.9L424.9,72.1L422.5,70.7L421.1,70.6Z" fill="#2d8cf3"/><path d="M435.9,49L437.2,45.2L434.7,42.5L433.4,46.6Z" fill="#72cd64"/><path d="M418.4,69.5L419.8,70.2L417.3,68.9L416,68.2Z" fill="#2797eb"/><path d="M408.1,65.7L409.5,65.7L407,64.4L405.7,64.4Z" fill="#1ca9df"/><path d="M501.6,65.1L502.9,64.7L500.5,64.2L499.1,64.6Z" fill="#18addb"/><path d="M435.4,66.5L436.8,63.1L434.3,61.5L433,65.1Z" fill="#20a5e3"/><path d="M446.4,42.9L447.7,40.8L445.2,37.6L443.9,39.9Z" fill="#c5c22a"/><path d="M413.3,67.1L414.6,67.6L412.2,66.3L410.8,65.9Z" fill="#20a5e3"/><path d="M493.8,66.2L495.1,65.8L492.7,65.3L491.3,65.9Z" fill="#1ca9df"/><path d="M468.1,55.9L469.4,57.6L466.9,55.3L465.6,53.6Z" fill="#31c69f"/><path d="M471.9,58.4L473.2,61.2L470.7,59.7L469.4,57.6Z" fill="#24c1ae"/><path d="M428.7,73.2L430.1,72.9L427.6,71.6L426.3,71.9Z" fill="#2e87f7"/><path d="M439.9,41.6L441.2,40.5L438.7,37.5L437.4,38.6Z" fill="#dcbd29"/><path d="M447.7,40.8L449,38.5L446.6,34.9L445.2,37.6Z" fill="#dcbd29"/><path d="M456.6,45.5L458,45.5L455.5,42.4L454.2,41.9Z" fill="#abc739"/><path d="M449,38.5L450.4,37.4L447.9,33.7L446.6,34.9Z" fill="#f8ba3d"/><path d="M401.7,64.7L403,64.6L400.5,63.3L399.2,63.4Z" fill="#18addb"/><path d="M445,43L446.4,42.9L443.9,39.9L442.5,40.1Z" fill="#d1bf27"/><path d="M464.3,52.5L465.6,53.6L463.1,50.3L461.8,49.2Z" fill="#4acb84"/><path d="M452.8,41.8L454.2,41.9L451.7,37.8L450.4,37.4Z" fill="#dcbd29"/><path d="M460.4,48.6L461.8,49.2L459.3,46.1L458,45.5Z" fill="#81cc59"/><path d="M475.7,62.4L477,64L474.5,62.8L473.2,61.2Z" fill="#01b8ca"/><path d="M437,54.6L438.3,51.3L435.9,49L434.5,52.6Z" fill="#37c897"/><path d="M437.2,45.2L438.5,42.6L436.1,39.7L434.7,42.5Z" fill="#abc739"/><path d="M500.3,65.5L501.6,65.1L499.1,64.6L497.8,65Z" fill="#18addb"/><path d="M438.5,42.6L439.9,41.6L437.4,38.6L436.1,39.7Z" fill="#d1bf27"/><path d="M436.8,63.1L438.1,60.1L435.6,58.3L434.3,61.5Z" fill="#08b5d0"/><path d="M492.4,66.7L493.8,66.2L491.3,65.9L490,66.6Z" fill="#1ca9df"/><path d="M406.8,65.8L408.1,65.7L405.7,64.4L404.3,64.5Z" fill="#18addb"/><path d="M422.2,71.5L423.6,71.9L421.1,70.6L419.8,70.2Z" fill="#2b91ef"/><path d="M479.5,64.8L480.8,66.7L478.3,66.6L477,64Z" fill="#12b1d6"/><path d="M427.4,73.4L428.7,73.2L426.3,71.9L424.9,72.1Z" fill="#2e87f7"/><path d="M417.1,68.8L418.4,69.5L416,68.2L414.6,67.6Z" fill="#23a0e5"/><path d="M443.7,43.4L445,43L442.5,40.1L441.2,40.5Z" fill="#d1bf27"/><path d="M435.2,72.7L436.5,70.5L434.1,69.2L432.7,71.5Z" fill="#2e87f7"/><path d="M412,67L413.3,67.1L410.8,65.9L409.5,65.7Z" fill="#1ca9df"/><path d="M451.5,42.5L452.8,41.8L450.4,37.4L449,38.5Z" fill="#d1bf27"/><path d="M433.9,73.6L435.2,72.7L432.7,71.5L431.4,72.4Z" fill="#2e87f7"/><path d="M448.8,45.9L450.2,44.3L447.7,40.8L446.4,42.9Z" fill="#abc739"/><path d="M455.3,45.4L456.6,45.5L454.2,41.9L452.8,41.8Z" fill="#b9c431"/><path d="M498.9,65.9L500.3,65.5L497.8,65L496.5,65.4Z" fill="#18addb"/><path d="M450.2,44.3L451.5,42.5L449,38.5L447.7,40.8Z" fill="#c5c22a"/><path d="M491.1,67.1L492.4,66.7L490,66.6L488.6,67.7Z" fill="#1ca9df"/><path d="M438.3,51.3L439.7,47.8L437.2,45.2L435.9,49Z" fill="#64cd6f"/><path d="M436.5,70.5L437.9,68L435.4,66.5L434.1,69.2Z" fill="#2797eb"/><path d="M438.1,60.1L439.4,56.7L437,54.6L435.6,58.3Z" fill="#0bbdbd"/><path d="M459.1,48.5L460.4,48.6L458,45.5L456.6,45.5Z" fill="#8fcb4e"/><path d="M405.5,65.9L406.8,65.8L404.3,64.5L403,64.6Z" fill="#18addb"/><path d="M442.3,44.4L443.7,43.4L441.2,40.5L439.9,41.6Z" fill="#c5c22a"/><path d="M447.5,45.8L448.8,45.9L446.4,42.9L445,43Z" fill="#b9c431"/><path d="M462.9,51.6L464.3,52.5L461.8,49.2L460.4,48.6Z" fill="#64cd6f"/><path d="M483.3,66.7L484.6,67.8L482.1,70L480.8,66.7Z" fill="#18addb"/><path d="M466.7,54.9L468.1,55.9L465.6,53.6L464.3,52.5Z" fill="#3fca8e"/><path d="M432.5,74.2L433.9,73.6L431.4,72.4L430.1,72.9Z" fill="#2e87f7"/><path d="M489.8,67.4L491.1,67.1L488.6,67.7L487.3,68.3Z" fill="#1ca9df"/><path d="M426,73.3L427.4,73.4L424.9,72.1L423.6,71.9Z" fill="#2d8cf3"/><path d="M497.6,66.3L498.9,65.9L496.5,65.4L495.1,65.8Z" fill="#18addb"/><path d="M437.9,68L439.2,64.7L436.8,63.1L435.4,66.5Z" fill="#20a5e3"/><path d="M420.9,70.8L422.2,71.5L419.8,70.2L418.4,69.5Z" fill="#2797eb"/><path d="M441,45.4L442.3,44.4L439.9,41.6L438.5,42.6Z" fill="#b9c431"/><path d="M439.7,47.8L441,45.4L438.5,42.6L437.2,45.2Z" fill="#9dc943"/><path d="M454,45.9L455.3,45.4L452.8,41.8L451.5,42.5Z" fill="#b9c431"/><path d="M410.6,67L412,67L409.5,65.7L408.1,65.7Z" fill="#1ca9df"/><path d="M415.8,68.4L417.1,68.8L414.6,67.6L413.3,67.1Z" fill="#20a5e3"/><path d="M439.4,56.7L440.8,53.5L438.3,51.3L437,54.6Z" fill="#31c69f"/><path d="M470.5,55.8L471.9,58.4L469.4,57.6L468.1,55.9Z" fill="#3fca8e"/><path d="M452.6,47.3L454,45.9L451.5,42.5L450.2,44.3Z" fill="#abc739"/><path d="M457.8,48.4L459.1,48.5L456.6,45.5L455.3,45.4Z" fill="#9dc943"/><path d="M431.2,74.5L432.5,74.2L430.1,72.9L428.7,73.2Z" fill="#2e87f7"/><path d="M404.1,66L405.5,65.9L403,64.6L401.7,64.7Z" fill="#18addb"/><path d="M446.1,46.2L447.5,45.8L445,43L443.7,43.4Z" fill="#b9c431"/><path d="M504.1,65.6L505.4,65.2L502.9,64.7L501.6,65.1Z" fill="#12b1d6"/><path d="M451.3,48.6L452.6,47.3L450.2,44.3L448.8,45.9Z" fill="#8fcb4e"/><path d="M488.4,67.7L489.8,67.4L487.3,68.3L486,68.3Z" fill="#1ca9df"/><path d="M474.3,58L475.7,62.4L473.2,61.2L471.9,58.4Z" fill="#31c69f"/><path d="M439.2,64.7L440.6,61.8L438.1,60.1L436.8,63.1Z" fill="#12b1d6"/><path d="M496.2,66.8L497.6,66.3L495.1,65.8L493.8,66.2Z" fill="#18addb"/><path d="M478.1,63.5L479.5,64.8L477,64L475.7,62.4Z" fill="#01b8ca"/><path d="M461.6,51.3L462.9,51.6L460.4,48.6L459.1,48.5Z" fill="#72cd64"/><path d="M409.3,67.1L410.6,67L408.1,65.7L406.8,65.8Z" fill="#18addb"/><path d="M424.7,72.8L426,73.3L423.6,71.9L422.2,71.5Z" fill="#2b91ef"/><path d="M440.8,53.5L442.1,50.3L439.7,47.8L438.3,51.3Z" fill="#57cc7a"/><path d="M444.8,47.1L446.1,46.2L443.7,43.4L442.3,44.4Z" fill="#abc739"/><path d="M449.9,48.5L451.3,48.6L448.8,45.9L447.5,45.8Z" fill="#9dc943"/><path d="M465.4,53.7L466.7,54.9L464.3,52.5L462.9,51.6Z" fill="#57cc7a"/><path d="M502.7,66L504.1,65.6L501.6,65.1L500.3,65.5Z" fill="#12b1d6"/><path d="M429.9,74.7L431.2,74.5L428.7,73.2L427.4,73.4Z" fill="#2e87f7"/><path d="M456.4,48.8L457.8,48.4L455.3,45.4L454,45.9Z" fill="#9dc943"/><path d="M419.6,70.1L420.9,70.8L418.4,69.5L417.1,68.8Z" fill="#23a0e5"/><path d="M437.7,74L439,71.9L436.5,70.5L435.2,72.7Z" fill="#2d8cf3"/><path d="M414.4,68.2L415.8,68.4L413.3,67.1L412,67Z" fill="#1ca9df"/><path d="M440.6,61.8L441.9,58.6L439.4,56.7L438.1,60.1Z" fill="#0bbdbd"/><path d="M494.9,67.2L496.2,66.8L493.8,66.2L492.4,66.7Z" fill="#18addb"/><path d="M436.3,74.9L437.7,74L435.2,72.7L433.9,73.6Z" fill="#2e87f7"/><path d="M443.5,48L444.8,47.1L442.3,44.4L441,45.4Z" fill="#abc739"/><path d="M442.1,50.3L443.5,48L441,45.4L439.7,47.8Z" fill="#81cc59"/><path d="M481.9,65.6L483.3,66.7L480.8,66.7L479.5,64.8Z" fill="#08b5d0"/><path d="M439,71.9L440.4,69.4L437.9,68L436.5,70.5Z" fill="#2797eb"/><path d="M487.1,67.9L488.4,67.7L486,68.3L484.6,67.8Z" fill="#18addb"/><path d="M455.1,49.9L456.4,48.8L454,45.9L452.6,47.3Z" fill="#8fcb4e"/><path d="M407.9,67.2L409.3,67.1L406.8,65.8L405.5,65.9Z" fill="#18addb"/><path d="M460.2,51L461.6,51.3L459.1,48.5L457.8,48.4Z" fill="#81cc59"/><path d="M469.2,55.9L470.5,55.8L468.1,55.9L466.7,54.9Z" fill="#4acb84"/><path d="M501.4,66.4L502.7,66L500.3,65.5L498.9,65.9Z" fill="#12b1d6"/><path d="M448.6,48.8L449.9,48.5L447.5,45.8L446.1,46.2Z" fill="#9dc943"/><path d="M435,75.5L436.3,74.9L433.9,73.6L432.5,74.2Z" fill="#2e87f7"/><path d="M453.7,51.1L455.1,49.9L452.6,47.3L451.3,48.6Z" fill="#81cc59"/><path d="M441.9,58.6L443.2,55.7L440.8,53.5L439.4,56.7Z" fill="#2cc4a7"/><path d="M440.4,69.4L441.7,66.3L439.2,64.7L437.9,68Z" fill="#20a5e3"/><path d="M493.6,67.5L494.9,67.2L492.4,66.7L491.1,67.1Z" fill="#18addb"/><path d="M428.5,74.6L429.9,74.7L427.4,73.4L426,73.3Z" fill="#2d8cf3"/><path d="M423.4,72.1L424.7,72.8L422.2,71.5L420.9,70.8Z" fill="#259be8"/><path d="M413.1,68.2L414.4,68.2L412,67L410.6,67Z" fill="#1ca9df"/><path d="M464,53.3L465.4,53.7L462.9,51.6L461.6,51.3Z" fill="#64cd6f"/><path d="M418.2,69.7L419.6,70.1L417.1,68.8L415.8,68.4Z" fill="#20a5e3"/><path d="M447.3,49.7L448.6,48.8L446.1,46.2L444.8,47.1Z" fill="#9dc943"/><path d="M500,66.8L501.4,66.4L498.9,65.9L497.6,66.3Z" fill="#12b1d6"/><path d="M433.7,75.9L435,75.5L432.5,74.2L431.2,74.5Z" fill="#2e87f7"/><path d="M452.4,51L453.7,51.1L451.3,48.6L449.9,48.5Z" fill="#8fcb4e"/><path d="M406.6,67.4L407.9,67.2L405.5,65.9L404.1,66Z" fill="#12b1d6"/><path d="M443.2,55.7L444.6,52.7L442.1,50.3L440.8,53.5Z" fill="#4acb84"/><path d="M441.7,66.3L443,63.5L440.6,61.8L439.2,64.7Z" fill="#12b1d6"/><path d="M458.9,51.2L460.2,51L457.8,48.4L456.4,48.8Z" fill="#81cc59"/><path d="M485.7,67.2L487.1,67.9L484.6,67.8L483.3,66.7Z" fill="#12b1d6"/><path d="M492.2,67.9L493.6,67.5L491.1,67.1L489.8,67.4Z" fill="#18addb"/><path d="M445.9,50.6L447.3,49.7L444.8,47.1L443.5,48Z" fill="#8fcb4e"/><path d="M506.5,66.1L507.9,65.6L505.4,65.2L504.1,65.6Z" fill="#08b5d0"/><path d="M444.6,52.7L445.9,50.6L443.5,48L442.1,50.3Z" fill="#72cd64"/><path d="M480.6,64.6L481.9,65.6L479.5,64.8L478.1,63.5Z" fill="#02bac3"/><path d="M411.7,68.3L413.1,68.2L410.6,67L409.3,67.1Z" fill="#18addb"/><path d="M427.2,74.1L428.5,74.6L426,73.3L424.7,72.8Z" fill="#2b91ef"/><path d="M476.8,58.2L478.1,63.5L475.7,62.4L474.3,58Z" fill="#3fca8e"/><path d="M457.6,52.3L458.9,51.2L456.4,48.8L455.1,49.9Z" fill="#81cc59"/><path d="M498.7,67.2L500,66.8L497.6,66.3L496.2,66.8Z" fill="#12b1d6"/><path d="M443,63.5L444.4,60.5L441.9,58.6L440.6,61.8Z" fill="#02bac3"/><path d="M467.8,53.6L469.2,55.9L466.7,54.9L465.4,53.7Z" fill="#72cd64"/><path d="M473,53.5L474.3,58L471.9,58.4L470.5,55.8Z" fill="#81cc59"/><path d="M432.3,76L433.7,75.9L431.2,74.5L429.9,74.7Z" fill="#2e87f7"/><path d="M422,71.4L423.4,72.1L420.9,70.8L419.6,70.1Z" fill="#23a0e5"/><path d="M440.1,75.2L441.5,73.2L439,71.9L437.7,74Z" fill="#2d8cf3"/><path d="M462.7,53.1L464,53.3L461.6,51.3L460.2,51Z" fill="#72cd64"/><path d="M451.1,51.3L452.4,51L449.9,48.5L448.6,48.8Z" fill="#8fcb4e"/><path d="M416.9,69.5L418.2,69.7L415.8,68.4L414.4,68.2Z" fill="#1ca9df"/><path d="M490.9,68.2L492.2,67.9L489.8,67.4L488.4,67.7Z" fill="#18addb"/><path d="M438.8,76.2L440.1,75.2L437.7,74L436.3,74.9Z" fill="#2e87f7"/><path d="M456.2,53.3L457.6,52.3L455.1,49.9L453.7,51.1Z" fill="#72cd64"/><path d="M441.5,73.2L442.8,70.8L440.4,69.4L439,71.9Z" fill="#2797eb"/><path d="M505.2,66.5L506.5,66.1L504.1,65.6L502.7,66Z" fill="#08b5d0"/><path d="M444.4,60.5L445.7,57.8L443.2,55.7L441.9,58.6Z" fill="#2cc4a7"/><path d="M410.4,68.5L411.7,68.3L409.3,67.1L407.9,67.2Z" fill="#18addb"/><path d="M497.4,67.6L498.7,67.2L496.2,66.8L494.9,67.2Z" fill="#12b1d6"/><path d="M449.7,52.1L451.1,51.3L448.6,48.8L447.3,49.7Z" fill="#81cc59"/><path d="M484.4,66.4L485.7,67.2L483.3,66.7L481.9,65.6Z" fill="#01b8ca"/><path d="M437.5,76.8L438.8,76.2L436.3,74.9L435,75.5Z" fill="#2e87f7"/><path d="M442.8,70.8L444.2,67.8L441.7,66.3L440.4,69.4Z" fill="#20a5e3"/><path d="M454.9,53.2L456.2,53.3L453.7,51.1L452.4,51Z" fill="#81cc59"/><path d="M431,75.9L432.3,76L429.9,74.7L428.5,74.6Z" fill="#2d8cf3"/><path d="M489.5,68.5L490.9,68.2L488.4,67.7L487.1,67.9Z" fill="#12b1d6"/><path d="M425.8,73.4L427.2,74.1L424.7,72.8L423.4,72.1Z" fill="#259be8"/><path d="M461.4,53.3L462.7,53.1L460.2,51L458.9,51.2Z" fill="#81cc59"/><path d="M445.7,57.8L447.1,55L444.6,52.7L443.2,55.7Z" fill="#3fca8e"/><path d="M415.5,69.5L416.9,69.5L414.4,68.2L413.1,68.2Z" fill="#18addb"/><path d="M503.9,67L505.2,66.5L502.7,66L501.4,66.4Z" fill="#08b5d0"/><path d="M448.4,53L449.7,52.1L447.3,49.7L445.9,50.6Z" fill="#81cc59"/><path d="M420.7,70.9L422,71.4L419.6,70.1L418.2,69.7Z" fill="#20a5e3"/><path d="M496,68L497.4,67.6L494.9,67.2L493.6,67.5Z" fill="#12b1d6"/><path d="M444.2,67.8L445.5,65.1L443,63.5L441.7,66.3Z" fill="#12b1d6"/><path d="M447.1,55L448.4,53L445.9,50.6L444.6,52.7Z" fill="#64cd6f"/><path d="M466.5,53.2L467.8,53.6L465.4,53.7L464,53.3Z" fill="#81cc59"/><path d="M436.1,77.1L437.5,76.8L435,75.5L433.7,75.9Z" fill="#2e87f7"/><path d="M409.1,68.7L410.4,68.5L407.9,67.2L406.6,67.4Z" fill="#12b1d6"/><path d="M471.6,55.5L473,53.5L470.5,55.8L469.2,55.9Z" fill="#64cd6f"/><path d="M460,54.3L461.4,53.3L458.9,51.2L457.6,52.3Z" fill="#72cd64"/><path d="M453.5,53.6L454.9,53.2L452.4,51L451.1,51.3Z" fill="#81cc59"/><path d="M502.5,67.4L503.9,67L501.4,66.4L500,66.8Z" fill="#08b5d0"/><path d="M445.5,65.1L446.8,62.3L444.4,60.5L443,63.5Z" fill="#02bac3"/><path d="M488.2,67.9L489.5,68.5L487.1,67.9L485.7,67.2Z" fill="#08b5d0"/><path d="M414.2,69.6L415.5,69.5L413.1,68.2L411.7,68.3Z" fill="#18addb"/><path d="M429.6,75.4L431,75.9L428.5,74.6L427.2,74.1Z" fill="#2b91ef"/><path d="M494.7,68.4L496,68L493.6,67.5L492.2,67.9Z" fill="#12b1d6"/><path d="M458.7,55L460,54.3L457.6,52.3L456.2,53.3Z" fill="#72cd64"/><path d="M479.3,60.6L480.6,64.6L478.1,63.5L476.8,58.2Z" fill="#37c897"/><path d="M483.1,65.6L484.4,66.4L481.9,65.6L480.6,64.6Z" fill="#02bac3"/><path d="M434.8,77.3L436.1,77.1L433.7,75.9L432.3,76Z" fill="#2d8cf3"/><path d="M424.5,72.7L425.8,73.4L423.4,72.1L422,71.4Z" fill="#23a0e5"/><path d="M442.6,76.5L443.9,74.5L441.5,73.2L440.1,75.2Z" fill="#2d8cf3"/><path d="M419.3,70.8L420.7,70.9L418.2,69.7L416.9,69.5Z" fill="#1ca9df"/><path d="M509,66.5L510.3,66L507.9,65.6L506.5,66.1Z" fill="#02bac3"/><path d="M465.2,53.9L466.5,53.2L464,53.3L462.7,53.1Z" fill="#81cc59"/><path d="M446.8,62.3L448.2,59.7L445.7,57.8L444.4,60.5Z" fill="#24c1ae"/><path d="M452.2,54.4L453.5,53.6L451.1,51.3L449.7,52.1Z" fill="#72cd64"/><path d="M441.3,77.4L442.6,76.5L440.1,75.2L438.8,76.2Z" fill="#2d8cf3"/><path d="M501.2,67.9L502.5,67.4L500,66.8L498.7,67.2Z" fill="#08b5d0"/><path d="M443.9,74.5L445.3,72.1L442.8,70.8L441.5,73.2Z" fill="#2797eb"/><path d="M493.3,68.8L494.7,68.4L492.2,67.9L490.9,68.2Z" fill="#08b5d0"/><path d="M457.3,54.8L458.7,55L456.2,53.3L454.9,53.2Z" fill="#72cd64"/><path d="M412.9,69.8L414.2,69.6L411.7,68.3L410.4,68.5Z" fill="#18addb"/><path d="M448.2,59.7L449.5,57.1L447.1,55L445.7,57.8Z" fill="#37c897"/><path d="M450.9,55.2L452.2,54.4L449.7,52.1L448.4,53Z" fill="#72cd64"/><path d="M445.3,72.1L446.6,69.3L444.2,67.8L442.8,70.8Z" fill="#20a5e3"/><path d="M439.9,78L441.3,77.4L438.8,76.2L437.5,76.8Z" fill="#2e87f7"/><path d="M507.7,66.9L509,66.5L506.5,66.1L505.2,66.5Z" fill="#02bac3"/><path d="M470.3,51L471.6,55.5L469.2,55.9L467.8,53.6Z" fill="#c5c22a"/><path d="M449.5,57.1L450.9,55.2L448.4,53L447.1,55Z" fill="#57cc7a"/><path d="M433.4,77.2L434.8,77.3L432.3,76L431,75.9Z" fill="#2d8cf3"/><path d="M463.8,54.3L465.2,53.9L462.7,53.1L461.4,53.3Z" fill="#81cc59"/><path d="M499.8,68.3L501.2,67.9L498.7,67.2L497.4,67.6Z" fill="#08b5d0"/><path d="M428.3,74.7L429.6,75.4L427.2,74.1L425.8,73.4Z" fill="#259be8"/><path d="M486.9,67.3L488.2,67.9L485.7,67.2L484.4,66.4Z" fill="#01b8ca"/><path d="M475.5,52.6L476.8,58.2L474.3,58L473,53.5Z" fill="#abc739"/><path d="M418,70.8L419.3,70.8L416.9,69.5L415.5,69.5Z" fill="#18addb"/><path d="M446.6,69.3L448,66.7L445.5,65.1L444.2,67.8Z" fill="#12b1d6"/><path d="M423.2,72.2L424.5,72.7L422,71.4L420.7,70.9Z" fill="#1ca9df"/><path d="M492,69.1L493.3,68.8L490.9,68.2L489.5,68.5Z" fill="#08b5d0"/><path d="M456,55.6L457.3,54.8L454.9,53.2L453.5,53.6Z" fill="#72cd64"/><path d="M411.5,70L412.9,69.8L410.4,68.5L409.1,68.7Z" fill="#12b1d6"/><path d="M438.6,78.4L439.9,78L437.5,76.8L436.1,77.1Z" fill="#2e87f7"/><path d="M462.5,55.5L463.8,54.3L461.4,53.3L460,54.3Z" fill="#72cd64"/><path d="M506.3,67.4L507.7,66.9L505.2,66.5L503.9,67Z" fill="#02bac3"/><path d="M448,66.7L449.3,64L446.8,62.3L445.5,65.1Z" fill="#02bac3"/><path d="M498.5,68.8L499.8,68.3L497.4,67.6L496,68Z" fill="#08b5d0"/><path d="M481.7,63.5L483.1,65.6L480.6,64.6L479.3,60.6Z" fill="#2cc4a7"/><path d="M454.7,56.6L456,55.6L453.5,53.6L452.2,54.4Z" fill="#64cd6f"/><path d="M416.7,70.9L418,70.8L415.5,69.5L414.2,69.6Z" fill="#18addb"/><path d="M432.1,76.7L433.4,77.2L431,75.9L429.6,75.4Z" fill="#2797eb"/><path d="M461.1,55.3L462.5,55.5L460,54.3L458.7,55Z" fill="#81cc59"/><path d="M449.3,64L450.6,61.6L448.2,59.7L446.8,62.3Z" fill="#24c1ae"/><path d="M505,67.8L506.3,67.4L503.9,67L502.5,67.4Z" fill="#02bac3"/><path d="M437.2,78.6L438.6,78.4L436.1,77.1L434.8,77.3Z" fill="#2d8cf3"/><path d="M427,73.9L428.3,74.7L425.8,73.4L424.5,72.7Z" fill="#20a5e3"/><path d="M490.7,68.6L492,69.1L489.5,68.5L488.2,67.9Z" fill="#01b8ca"/><path d="M445.1,77.7L446.4,75.8L443.9,74.5L442.6,76.5Z" fill="#2d8cf3"/><path d="M485.5,66.5L486.9,67.3L484.4,66.4L483.1,65.6Z" fill="#0bbdbd"/><path d="M421.8,72L423.2,72.2L420.7,70.9L419.3,70.8Z" fill="#1ca9df"/><path d="M497.2,69.2L498.5,68.8L496,68L494.7,68.4Z" fill="#08b5d0"/><path d="M453.3,57.4L454.7,56.6L452.2,54.4L450.9,55.2Z" fill="#64cd6f"/><path d="M450.6,61.6L452,59.1L449.5,57.1L448.2,59.7Z" fill="#31c69f"/><path d="M443.7,78.7L445.1,77.7L442.6,76.5L441.3,77.4Z" fill="#2d8cf3"/><path d="M446.4,75.8L447.7,73.5L445.3,72.1L443.9,74.5Z" fill="#2797eb"/><path d="M474.1,55.8L475.5,52.6L473,53.5L471.6,55.5Z" fill="#72cd64"/><path d="M452,59.1L453.3,57.4L450.9,55.2L449.5,57.1Z" fill="#4acb84"/><path d="M469,51L470.3,51L467.8,53.6L466.5,53.2Z" fill="#c5c22a"/><path d="M511.5,67.1L512.8,66.7L510.3,66L509,66.5Z" fill="#0bbdbd"/><path d="M415.3,71.1L416.7,70.9L414.2,69.6L412.9,69.8Z" fill="#12b1d6"/><path d="M447.7,73.5L449.1,70.7L446.6,69.3L445.3,72.1Z" fill="#20a5e3"/><path d="M503.6,68.3L505,67.8L502.5,67.4L501.2,67.9Z" fill="#02bac3"/><path d="M442.4,79.3L443.7,78.7L441.3,77.4L439.9,78Z" fill="#2e87f7"/><path d="M459.8,54.5L461.1,55.3L458.7,55L457.3,54.8Z" fill="#9dc943"/><path d="M495.8,69.6L497.2,69.2L494.7,68.4L493.3,68.8Z" fill="#08b5d0"/><path d="M435.9,78.5L437.2,78.6L434.8,77.3L433.4,77.2Z" fill="#2d8cf3"/><path d="M430.8,76L432.1,76.7L429.6,75.4L428.3,74.7Z" fill="#259be8"/><path d="M477.9,56.3L479.3,60.6L476.8,58.2L475.5,52.6Z" fill="#81cc59"/><path d="M467.6,53.3L469,51L466.5,53.2L465.2,53.9Z" fill="#abc739"/><path d="M449.1,70.7L450.4,68.3L448,66.7L446.6,69.3Z" fill="#12b1d6"/><path d="M420.5,72.1L421.8,72L419.3,70.8L418,70.8Z" fill="#18addb"/><path d="M510.1,67.6L511.5,67.1L509,66.5L507.7,66.9Z" fill="#0bbdbd"/><path d="M489.3,68L490.7,68.6L488.2,67.9L486.9,67.3Z" fill="#02bac3"/><path d="M425.6,73.4L427,73.9L424.5,72.7L423.2,72.2Z" fill="#1ca9df"/><path d="M502.3,68.7L503.6,68.3L501.2,67.9L499.8,68.3Z" fill="#02bac3"/><path d="M414,71.3L415.3,71.1L412.9,69.8L411.5,70Z" fill="#12b1d6"/><path d="M458.5,57L459.8,54.5L457.3,54.8L456,55.6Z" fill="#72cd64"/><path d="M441.1,79.7L442.4,79.3L439.9,78L438.6,78.4Z" fill="#2d8cf3"/><path d="M466.3,54.1L467.6,53.3L465.2,53.9L463.8,54.3Z" fill="#9dc943"/><path d="M450.4,68.3L451.8,65.7L449.3,64L448,66.7Z" fill="#02bac3"/><path d="M494.5,70L495.8,69.6L493.3,68.8L492,69.1Z" fill="#08b5d0"/><path d="M457.1,58.6L458.5,57L456,55.6L454.7,56.6Z" fill="#57cc7a"/><path d="M484.2,65.6L485.5,66.5L483.1,65.6L481.7,63.5Z" fill="#24c1ae"/><path d="M464.9,55.7L466.3,54.1L463.8,54.3L462.5,55.5Z" fill="#8fcb4e"/><path d="M451.8,65.7L453.1,63.4L450.6,61.6L449.3,64Z" fill="#19bfb6"/><path d="M508.8,68L510.1,67.6L507.7,66.9L506.3,67.4Z" fill="#0bbdbd"/><path d="M434.6,78L435.9,78.5L433.4,77.2L432.1,76.7Z" fill="#2797eb"/><path d="M472.8,50.1L474.1,55.8L471.6,55.5L470.3,51Z" fill="#e6bb2d"/><path d="M419.1,72.2L420.5,72.1L418,70.8L416.7,70.9Z" fill="#18addb"/><path d="M455.8,59.4L457.1,58.6L454.7,56.6L453.3,57.4Z" fill="#57cc7a"/><path d="M501,69.2L502.3,68.7L499.8,68.3L498.5,68.8Z" fill="#02bac3"/><path d="M480.4,61.5L481.7,63.5L479.3,60.6L477.9,56.3Z" fill="#3fca8e"/><path d="M453.1,63.4L454.4,61.1L452,59.1L450.6,61.6Z" fill="#31c69f"/><path d="M439.7,79.9L441.1,79.7L438.6,78.4L437.2,78.6Z" fill="#2d8cf3"/><path d="M454.4,61.1L455.8,59.4L453.3,57.4L452,59.1Z" fill="#3fca8e"/><path d="M429.4,75.2L430.8,76L428.3,74.7L427,73.9Z" fill="#20a5e3"/><path d="M447.5,78.9L448.9,77L446.4,75.8L445.1,77.7Z" fill="#2b91ef"/><path d="M424.3,73.3L425.6,73.4L423.2,72.2L421.8,72Z" fill="#18addb"/><path d="M493.1,70.4L494.5,70L492,69.1L490.7,68.6Z" fill="#08b5d0"/><path d="M448.9,77L450.2,74.8L447.7,73.5L446.4,75.8Z" fill="#259be8"/><path d="M446.2,79.9L447.5,78.9L445.1,77.7L443.7,78.7Z" fill="#2d8cf3"/><path d="M476.6,58.6L477.9,56.3L475.5,52.6L474.1,55.8Z" fill="#64cd6f"/><path d="M488,67.4L489.3,68L486.9,67.3L485.5,66.5Z" fill="#19bfb6"/><path d="M507.4,68.5L508.8,68L506.3,67.4L505,67.8Z" fill="#0bbdbd"/><path d="M463.6,53.7L464.9,55.7L462.5,55.5L461.1,55.3Z" fill="#b9c431"/><path d="M499.6,69.6L501,69.2L498.5,68.8L497.2,69.2Z" fill="#02bac3"/><path d="M417.8,72.4L419.1,72.2L416.7,70.9L415.3,71.1Z" fill="#12b1d6"/><path d="M450.2,74.8L451.6,72.2L449.1,70.7L447.7,73.5Z" fill="#20a5e3"/><path d="M444.9,80.6L446.2,79.9L443.7,78.7L442.4,79.3Z" fill="#2d8cf3"/><path d="M438.4,79.8L439.7,79.9L437.2,78.6L435.9,78.5Z" fill="#2b91ef"/><path d="M433.2,77.2L434.6,78L432.1,76.7L430.8,76Z" fill="#259be8"/><path d="M451.6,72.2L452.9,69.8L450.4,68.3L449.1,70.7Z" fill="#12b1d6"/><path d="M506.1,68.9L507.4,68.5L505,67.8L503.6,68.3Z" fill="#0bbdbd"/><path d="M482.8,64.7L484.2,65.6L481.7,63.5L480.4,61.5Z" fill="#31c69f"/><path d="M422.9,73.3L424.3,73.3L421.8,72L420.5,72.1Z" fill="#18addb"/><path d="M491.8,70.8L493.1,70.4L490.7,68.6L489.3,68Z" fill="#01b8ca"/><path d="M498.3,70.1L499.6,69.6L497.2,69.2L495.8,69.6Z" fill="#02bac3"/><path d="M479,62.1L480.4,61.5L477.9,56.3L476.6,58.6Z" fill="#3fca8e"/><path d="M428.1,74.7L429.4,75.2L427,73.9L425.6,73.4Z" fill="#1ca9df"/><path d="M452.9,69.8L454.2,67.3L451.8,65.7L450.4,68.3Z" fill="#01b8ca"/><path d="M416.5,72.6L417.8,72.4L415.3,71.1L414,71.3Z" fill="#12b1d6"/><path d="M443.5,81L444.9,80.6L442.4,79.3L441.1,79.7Z" fill="#2d8cf3"/><path d="M459.6,60.5L460.9,57.6L458.5,57L457.1,58.6Z" fill="#57cc7a"/><path d="M486.7,66.8L488,67.4L485.5,66.5L484.2,65.6Z" fill="#24c1ae"/><path d="M454.2,67.3L455.6,65.1L453.1,63.4L451.8,65.7Z" fill="#19bfb6"/><path d="M458.3,61.3L459.6,60.5L457.1,58.6L455.8,59.4Z" fill="#4acb84"/><path d="M504.8,69.4L506.1,68.9L503.6,68.3L502.3,68.7Z" fill="#0bbdbd"/><path d="M475.2,54.3L476.6,58.6L474.1,55.8L472.8,50.1Z" fill="#b9c431"/><path d="M455.6,65.1L456.9,62.9L454.4,61.1L453.1,63.4Z" fill="#2cc4a7"/><path d="M496.9,70.5L498.3,70.1L495.8,69.6L494.5,70Z" fill="#02bac3"/><path d="M456.9,62.9L458.3,61.3L455.8,59.4L454.4,61.1Z" fill="#3fca8e"/><path d="M437,79.3L438.4,79.8L435.9,78.5L434.6,78Z" fill="#2797eb"/><path d="M471.4,50.2L472.8,50.1L470.3,51L469,51Z" fill="#e6bb2d"/><path d="M421.6,73.5L422.9,73.3L420.5,72.1L419.1,72.2Z" fill="#12b1d6"/><path d="M462.3,51.8L463.6,53.7L461.1,55.3L459.8,54.5Z" fill="#dcbd29"/><path d="M468.8,54.7L470.1,53.5L467.6,53.3L466.3,54.1Z" fill="#abc739"/><path d="M470.1,53.5L471.4,50.2L469,51L467.6,53.3Z" fill="#b9c431"/><path d="M490.5,71.1L491.8,70.8L489.3,68L488,67.4Z" fill="#01b8ca"/><path d="M442.2,81.2L443.5,81L441.1,79.7L439.7,79.9Z" fill="#2d8cf3"/><path d="M460.9,57.6L462.3,51.8L459.8,54.5L458.5,57Z" fill="#81cc59"/><path d="M431.9,76.4L433.2,77.2L430.8,76L429.4,75.2Z" fill="#20a5e3"/><path d="M467.4,56.5L468.8,54.7L466.3,54.1L464.9,55.7Z" fill="#8fcb4e"/><path d="M481.5,64.4L482.8,64.7L480.4,61.5L479,62.1Z" fill="#37c897"/><path d="M450,80.2L451.3,78.3L448.9,77L447.5,78.9Z" fill="#2b91ef"/><path d="M426.7,74.5L428.1,74.7L425.6,73.4L424.3,73.3Z" fill="#18addb"/><path d="M503.4,69.8L504.8,69.4L502.3,68.7L501,69.2Z" fill="#0bbdbd"/><path d="M451.3,78.3L452.7,76.1L450.2,74.8L448.9,77Z" fill="#259be8"/><path d="M448.7,81.2L450,80.2L447.5,78.9L446.2,79.9Z" fill="#2d8cf3"/><path d="M495.6,71L496.9,70.5L494.5,70L493.1,70.4Z" fill="#02bac3"/><path d="M477.7,60.1L479,62.1L476.6,58.6L475.2,54.3Z" fill="#64cd6f"/><path d="M452.7,76.1L454,73.6L451.6,72.2L450.2,74.8Z" fill="#20a5e3"/><path d="M420.3,73.7L421.6,73.5L419.1,72.2L417.8,72.4Z" fill="#12b1d6"/><path d="M485.3,66.3L486.7,66.8L484.2,65.6L482.8,64.7Z" fill="#2cc4a7"/><path d="M447.3,81.8L448.7,81.2L446.2,79.9L444.9,80.6Z" fill="#2d8cf3"/><path d="M440.8,81.1L442.2,81.2L439.7,79.9L438.4,79.8Z" fill="#2b91ef"/><path d="M502.1,70.3L503.4,69.8L501,69.2L499.6,69.6Z" fill="#0bbdbd"/><path d="M454,73.6L455.4,71.2L452.9,69.8L451.6,72.2Z" fill="#12b1d6"/><path d="M489.1,71.5L490.5,71.1L488,67.4L486.7,66.8Z" fill="#01b8ca"/><path d="M435.7,78.5L437,79.3L434.6,78L433.2,77.2Z" fill="#23a0e5"/><path d="M494.3,71.4L495.6,71L493.1,70.4L491.8,70.8Z" fill="#02bac3"/><path d="M425.4,74.6L426.7,74.5L424.3,73.3L422.9,73.3Z" fill="#18addb"/><path d="M455.4,71.2L456.7,68.9L454.2,67.3L452.9,69.8Z" fill="#01b8ca"/><path d="M466.1,53.5L467.4,56.5L464.9,55.7L463.6,53.7Z" fill="#d1bf27"/><path d="M430.5,75.9L431.9,76.4L429.4,75.2L428.1,74.7Z" fill="#1ca9df"/><path d="M480.2,63.7L481.5,64.4L479,62.1L477.7,60.1Z" fill="#3fca8e"/><path d="M460.7,63.1L462.1,62.3L459.6,60.5L458.3,61.3Z" fill="#4acb84"/><path d="M418.9,73.9L420.3,73.7L417.8,72.4L416.5,72.6Z" fill="#12b1d6"/><path d="M446,82.3L447.3,81.8L444.9,80.6L443.5,81Z" fill="#2d8cf3"/><path d="M456.7,68.9L458,66.7L455.6,65.1L454.2,67.3Z" fill="#19bfb6"/><path d="M462.1,62.3L463.4,58.6L460.9,57.6L459.6,60.5Z" fill="#4acb84"/><path d="M500.7,70.7L502.1,70.3L499.6,69.6L498.3,70.1Z" fill="#0bbdbd"/><path d="M458,66.7L459.4,64.6L456.9,62.9L455.6,65.1Z" fill="#2cc4a7"/><path d="M459.4,64.6L460.7,63.1L458.3,61.3L456.9,62.9Z" fill="#37c897"/><path d="M473.9,54.3L475.2,54.3L472.8,50.1L471.4,50.2Z" fill="#c5c22a"/><path d="M492.9,71.9L494.3,71.4L491.8,70.8L490.5,71.1Z" fill="#02bac3"/><path d="M471.2,57.7L472.6,56.7L470.1,53.5L468.8,54.7Z" fill="#8fcb4e"/><path d="M484,65.9L485.3,66.3L482.8,64.7L481.5,64.4Z" fill="#37c897"/><path d="M487.8,71.8L489.1,71.5L486.7,66.8L485.3,66.3Z" fill="#01b8ca"/><path d="M472.6,56.7L473.9,54.3L471.4,50.2L470.1,53.5Z" fill="#9dc943"/><path d="M439.5,80.6L440.8,81.1L438.4,79.8L437,79.3Z" fill="#2797eb"/><path d="M424.1,74.7L425.4,74.6L422.9,73.3L421.6,73.5Z" fill="#12b1d6"/><path d="M469.9,59.2L471.2,57.7L468.8,54.7L467.4,56.5Z" fill="#81cc59"/><path d="M476.4,60L477.7,60.1L475.2,54.3L473.9,54.3Z" fill="#72cd64"/><path d="M444.6,82.5L446,82.3L443.5,81L442.2,81.2Z" fill="#2d8cf3"/><path d="M499.4,71.2L500.7,70.7L498.3,70.1L496.9,70.5Z" fill="#0bbdbd"/><path d="M434.4,77.7L435.7,78.5L433.2,77.2L431.9,76.4Z" fill="#20a5e3"/><path d="M452.5,81.4L453.8,79.5L451.3,78.3L450,80.2Z" fill="#2b91ef"/><path d="M429.2,75.8L430.5,75.9L428.1,74.7L426.7,74.5Z" fill="#18addb"/><path d="M453.8,79.5L455.1,77.4L452.7,76.1L451.3,78.3Z" fill="#259be8"/><path d="M491.6,72.3L492.9,71.9L490.5,71.1L489.1,71.5Z" fill="#02bac3"/><path d="M451.1,82.4L452.5,81.4L450,80.2L448.7,81.2Z" fill="#2d8cf3"/><path d="M478.8,63.5L480.2,63.7L477.7,60.1L476.4,60Z" fill="#4acb84"/><path d="M475,60.8L476.4,60L473.9,54.3L472.6,56.7Z" fill="#64cd6f"/><path d="M455.1,77.4L456.5,74.9L454,73.6L452.7,76.1Z" fill="#20a5e3"/><path d="M422.7,75L424.1,74.7L421.6,73.5L420.3,73.7Z" fill="#12b1d6"/><path d="M486.4,72.2L487.8,71.8L485.3,66.3L484,65.9Z" fill="#01b8ca"/><path d="M473.7,61.3L475,60.8L472.6,56.7L471.2,57.7Z" fill="#64cd6f"/><path d="M498.1,71.6L499.4,71.2L496.9,70.5L495.6,71Z" fill="#0bbdbd"/><path d="M482.6,65.5L484,65.9L481.5,64.4L480.2,63.7Z" fill="#3fca8e"/><path d="M449.8,83.1L451.1,82.4L448.7,81.2L447.3,81.8Z" fill="#2d8cf3"/><path d="M456.5,74.9L457.8,72.7L455.4,71.2L454,73.6Z" fill="#12b1d6"/><path d="M443.3,82.4L444.6,82.5L442.2,81.2L440.8,81.1Z" fill="#2b91ef"/><path d="M463.4,58.6L464.7,50.9L462.3,51.8L460.9,57.6Z" fill="#8fcb4e"/><path d="M438.2,79.8L439.5,80.6L437,79.3L435.7,78.5Z" fill="#23a0e5"/><path d="M468.5,57.2L469.9,59.2L467.4,56.5L466.1,53.5Z" fill="#abc739"/><path d="M490.2,72.8L491.6,72.3L489.1,71.5L487.8,71.8Z" fill="#02bac3"/><path d="M457.8,72.7L459.2,70.3L456.7,68.9L455.4,71.2Z" fill="#01b8ca"/><path d="M463.2,64.7L464.5,64L462.1,62.3L460.7,63.1Z" fill="#3fca8e"/><path d="M472.3,62.4L473.7,61.3L471.2,57.7L469.9,59.2Z" fill="#57cc7a"/><path d="M427.9,75.8L429.2,75.8L426.7,74.5L425.4,74.6Z" fill="#12b1d6"/><path d="M464.7,50.9L466.1,53.5L463.6,53.7L462.3,51.8Z" fill="#f8ba3d"/><path d="M464.5,64L465.9,61.1L463.4,58.6L462.1,62.3Z" fill="#4acb84"/><path d="M477.5,63.6L478.8,63.5L476.4,60L475,60.8Z" fill="#57cc7a"/><path d="M459.2,70.3L460.5,68.3L458,66.7L456.7,68.9Z" fill="#19bfb6"/><path d="M433,77.2L434.4,77.7L431.9,76.4L430.5,75.9Z" fill="#1ca9df"/><path d="M421.4,75.2L422.7,75L420.3,73.7L418.9,73.9Z" fill="#12b1d6"/><path d="M496.7,72.1L498.1,71.6L495.6,71L494.3,71.4Z" fill="#0bbdbd"/><path d="M448.4,83.5L449.8,83.1L447.3,81.8L446,82.3Z" fill="#2d8cf3"/><path d="M461.8,66.2L463.2,64.7L460.7,63.1L459.4,64.6Z" fill="#37c897"/><path d="M460.5,68.3L461.8,66.2L459.4,64.6L458,66.7Z" fill="#2cc4a7"/><path d="M485.1,72.6L486.4,72.2L484,65.9L482.6,65.5Z" fill="#01b8ca"/><path d="M488.9,73.2L490.2,72.8L487.8,71.8L486.4,72.2Z" fill="#02bac3"/><path d="M481.3,65.3L482.6,65.5L480.2,63.7L478.8,63.5Z" fill="#4acb84"/><path d="M476.1,63.9L477.5,63.6L475,60.8L473.7,61.3Z" fill="#57cc7a"/><path d="M442,81.9L443.3,82.4L440.8,81.1L439.5,80.6Z" fill="#2797eb"/><path d="M426.5,76L427.9,75.8L425.4,74.6L424.1,74.7Z" fill="#12b1d6"/><path d="M471,62.1L472.3,62.4L469.9,59.2L468.5,57.2Z" fill="#64cd6f"/><path d="M495.4,72.5L496.7,72.1L494.3,71.4L492.9,71.9Z" fill="#0bbdbd"/><path d="M447.1,83.8L448.4,83.5L446,82.3L444.6,82.5Z" fill="#2d8cf3"/><path d="M436.8,78.9L438.2,79.8L435.7,78.5L434.4,77.7Z" fill="#20a5e3"/><path d="M454.9,82.6L456.3,80.8L453.8,79.5L452.5,81.4Z" fill="#2b91ef"/><path d="M483.8,73L485.1,72.6L482.6,65.5L481.3,65.3Z" fill="#01b8ca"/><path d="M431.7,77L433,77.2L430.5,75.9L429.2,75.8Z" fill="#18addb"/><path d="M487.6,73.7L488.9,73.2L486.4,72.2L485.1,72.6Z" fill="#02bac3"/><path d="M456.3,80.8L457.6,78.7L455.1,77.4L453.8,79.5Z" fill="#259be8"/><path d="M474.8,64.7L476.1,63.9L473.7,61.3L472.3,62.4Z" fill="#4acb84"/><path d="M453.6,83.6L454.9,82.6L452.5,81.4L451.1,82.4Z" fill="#2b91ef"/><path d="M457.6,78.7L458.9,76.2L456.5,74.9L455.1,77.4Z" fill="#20a5e3"/><path d="M425.2,76.3L426.5,76L424.1,74.7L422.7,75Z" fill="#12b1d6"/><path d="M494,73L495.4,72.5L492.9,71.9L491.6,72.3Z" fill="#0bbdbd"/><path d="M480,65.2L481.3,65.3L478.8,63.5L477.5,63.6Z" fill="#4acb84"/><path d="M465.9,61.1L467.2,55.3L464.7,50.9L463.4,58.6Z" fill="#72cd64"/><path d="M467,65.6L468.3,64L465.9,61.1L464.5,64Z" fill="#4acb84"/><path d="M458.9,76.2L460.3,74L457.8,72.7L456.5,74.9Z" fill="#12b1d6"/><path d="M452.2,84.3L453.6,83.6L451.1,82.4L449.8,83.1Z" fill="#2d8cf3"/><path d="M445.8,83.7L447.1,83.8L444.6,82.5L443.3,82.4Z" fill="#2b91ef"/><path d="M473.5,65.3L474.8,64.7L472.3,62.4L471,62.1Z" fill="#4acb84"/><path d="M467.2,55.3L468.5,57.2L466.1,53.5L464.7,50.9Z" fill="#d1bf27"/><path d="M486.2,74.1L487.6,73.7L485.1,72.6L483.8,73Z" fill="#02bac3"/><path d="M465.6,66.3L467,65.6L464.5,64L463.2,64.7Z" fill="#3fca8e"/><path d="M440.6,81L442,81.9L439.5,80.6L438.2,79.8Z" fill="#23a0e5"/><path d="M460.3,74L461.6,71.8L459.2,70.3L457.8,72.7Z" fill="#01b8ca"/><path d="M482.4,73.5L483.8,73L481.3,65.3L480,65.2Z" fill="#01b8ca"/><path d="M430.3,77.1L431.7,77L429.2,75.8L427.9,75.8Z" fill="#12b1d6"/><path d="M461.6,71.8L463,69.7L460.5,68.3L459.2,70.3Z" fill="#19bfb6"/><path d="M492.7,73.4L494,73L491.6,72.3L490.2,72.8Z" fill="#0bbdbd"/><path d="M464.3,67.7L465.6,66.3L463.2,64.7L461.8,66.2Z" fill="#37c897"/><path d="M469.7,61.5L471,62.1L468.5,57.2L467.2,55.3Z" fill="#81cc59"/><path d="M463,69.7L464.3,67.7L461.8,66.2L460.5,68.3Z" fill="#2cc4a7"/><path d="M435.5,78.4L436.8,78.9L434.4,77.7L433,77.2Z" fill="#18addb"/><path d="M423.9,76.5L425.2,76.3L422.7,75L421.4,75.2Z" fill="#12b1d6"/><path d="M450.9,84.8L452.2,84.3L449.8,83.1L448.4,83.5Z" fill="#2d8cf3"/><path d="M468.3,64L469.7,61.5L467.2,55.3L465.9,61.1Z" fill="#57cc7a"/><path d="M478.6,65.5L480,65.2L477.5,63.6L476.1,63.9Z" fill="#57cc7a"/><path d="M484.9,74.6L486.2,74.1L483.8,73L482.4,73.5Z" fill="#02bac3"/><path d="M481.1,73.9L482.4,73.5L480,65.2L478.6,65.5Z" fill="#01b8ca"/><path d="M472.1,65.3L473.5,65.3L471,62.1L469.7,61.5Z" fill="#57cc7a"/><path d="M444.4,83.1L445.8,83.7L443.3,82.4L442,81.9Z" fill="#2797eb"/><path d="M491.4,73.9L492.7,73.4L490.2,72.8L488.9,73.2Z" fill="#0bbdbd"/><path d="M429,77.3L430.3,77.1L427.9,75.8L426.5,76Z" fill="#12b1d6"/><path d="M477.3,66.3L478.6,65.5L476.1,63.9L474.8,64.7Z" fill="#4acb84"/><path d="M449.6,85L450.9,84.8L448.4,83.5L447.1,83.8Z" fill="#2b91ef"/><path d="M483.5,75L484.9,74.6L482.4,73.5L481.1,73.9Z" fill="#02bac3"/><path d="M439.3,80.2L440.6,81L438.2,79.8L436.8,78.9Z" fill="#1ca9df"/><path d="M457.4,83.8L458.7,82L456.3,80.8L454.9,82.6Z" fill="#2797eb"/><path d="M434.1,78.2L435.5,78.4L433,77.2L431.7,77Z" fill="#12b1d6"/><path d="M470.8,66.1L472.1,65.3L469.7,61.5L468.3,64Z" fill="#4acb84"/><path d="M458.7,82L460.1,79.9L457.6,78.7L456.3,80.8Z" fill="#23a0e5"/><path d="M479.7,74.4L481.1,73.9L478.6,65.5L477.3,66.3Z" fill="#01b8ca"/><path d="M456.1,84.8L457.4,83.8L454.9,82.6L453.6,83.6Z" fill="#2b91ef"/><path d="M469.5,67L470.8,66.1L468.3,64L467,65.6Z" fill="#4acb84"/><path d="M490,74.3L491.4,73.9L488.9,73.2L487.6,73.7Z" fill="#0bbdbd"/><path d="M475.9,67.1L477.3,66.3L474.8,64.7L473.5,65.3Z" fill="#4acb84"/><path d="M460.1,79.9L461.4,77.5L458.9,76.2L457.6,78.7Z" fill="#1ca9df"/><path d="M427.7,77.5L429,77.3L426.5,76L425.2,76.3Z" fill="#12b1d6"/><path d="M482.2,75.5L483.5,75L481.1,73.9L479.7,74.4Z" fill="#02bac3"/><path d="M461.4,77.5L462.8,75.3L460.3,74L458.9,76.2Z" fill="#12b1d6"/><path d="M468.1,67.7L469.5,67L467,65.6L465.6,66.3Z" fill="#3fca8e"/><path d="M448.2,84.9L449.6,85L447.1,83.8L445.8,83.7Z" fill="#2b91ef"/><path d="M478.4,74.8L479.7,74.4L477.3,66.3L475.9,67.1Z" fill="#01b8ca"/><path d="M454.7,85.5L456.1,84.8L453.6,83.6L452.2,84.3Z" fill="#2b91ef"/><path d="M462.8,75.3L464.1,73.1L461.6,71.8L460.3,74Z" fill="#02bac3"/><path d="M443.1,82.3L444.4,83.1L442,81.9L440.6,81Z" fill="#23a0e5"/><path d="M488.7,74.8L490,74.3L487.6,73.7L486.2,74.1Z" fill="#0bbdbd"/><path d="M464.1,73.1L465.4,71.1L463,69.7L461.6,71.8Z" fill="#19bfb6"/><path d="M432.8,78.3L434.1,78.2L431.7,77L430.3,77.1Z" fill="#12b1d6"/><path d="M474.6,67.2L475.9,67.1L473.5,65.3L472.1,65.3Z" fill="#4acb84"/><path d="M466.8,69.2L468.1,67.7L465.6,66.3L464.3,67.7Z" fill="#37c897"/><path d="M465.4,71.1L466.8,69.2L464.3,67.7L463,69.7Z" fill="#2cc4a7"/><path d="M426.3,77.8L427.7,77.5L425.2,76.3L423.9,76.5Z" fill="#08b5d0"/><path d="M437.9,79.6L439.3,80.2L436.8,78.9L435.5,78.4Z" fill="#18addb"/><path d="M480.9,75.9L482.2,75.5L479.7,74.4L478.4,74.8Z" fill="#02bac3"/><path d="M453.4,86L454.7,85.5L452.2,84.3L450.9,84.8Z" fill="#2b91ef"/><path d="M477.1,75.3L478.4,74.8L475.9,67.1L474.6,67.2Z" fill="#01b8ca"/><path d="M487.3,75.2L488.7,74.8L486.2,74.1L484.9,74.6Z" fill="#0bbdbd"/><path d="M473.3,67.6L474.6,67.2L472.1,65.3L470.8,66.1Z" fill="#4acb84"/><path d="M446.9,84.4L448.2,84.9L445.8,83.7L444.4,83.1Z" fill="#259be8"/><path d="M431.5,78.5L432.8,78.3L430.3,77.1L429,77.3Z" fill="#12b1d6"/><path d="M479.5,76.4L480.9,75.9L478.4,74.8L477.1,75.3Z" fill="#02bac3"/><path d="M452,86.3L453.4,86L450.9,84.8L449.6,85Z" fill="#2b91ef"/><path d="M475.7,75.7L477.1,75.3L474.6,67.2L473.3,67.6Z" fill="#01b8ca"/><path d="M441.7,81.4L443.1,82.3L440.6,81L439.3,80.2Z" fill="#1ca9df"/><path d="M436.6,79.5L437.9,79.6L435.5,78.4L434.1,78.2Z" fill="#12b1d6"/><path d="M471.9,68.3L473.3,67.6L470.8,66.1L469.5,67Z" fill="#4acb84"/><path d="M459.9,84.9L461.2,83.1L458.7,82L457.4,83.8Z" fill="#2797eb"/><path d="M486,75.7L487.3,75.2L484.9,74.6L483.5,75Z" fill="#0bbdbd"/><path d="M461.2,83.1L462.5,81.1L460.1,79.9L458.7,82Z" fill="#23a0e5"/><path d="M458.5,86L459.9,84.9L457.4,83.8L456.1,84.8Z" fill="#2b91ef"/><path d="M462.5,81.1L463.9,78.8L461.4,77.5L460.1,79.9Z" fill="#1ca9df"/><path d="M430.1,78.8L431.5,78.5L429,77.3L427.7,77.5Z" fill="#08b5d0"/><path d="M478.2,76.8L479.5,76.4L477.1,75.3L475.7,75.7Z" fill="#02bac3"/><path d="M474.4,76.2L475.7,75.7L473.3,67.6L471.9,68.3Z" fill="#01b8ca"/><path d="M463.9,78.8L465.2,76.6L462.8,75.3L461.4,77.5Z" fill="#12b1d6"/><path d="M470.6,69.1L471.9,68.3L469.5,67L468.1,67.7Z" fill="#3fca8e"/><path d="M450.7,86.2L452,86.3L449.6,85L448.2,84.9Z" fill="#2797eb"/><path d="M457.2,86.7L458.5,86L456.1,84.8L454.7,85.5Z" fill="#2b91ef"/><path d="M484.7,76.1L486,75.7L483.5,75L482.2,75.5Z" fill="#0bbdbd"/><path d="M465.2,76.6L466.6,74.4L464.1,73.1L462.8,75.3Z" fill="#02bac3"/><path d="M445.6,83.5L446.9,84.4L444.4,83.1L443.1,82.3Z" fill="#23a0e5"/><path d="M466.6,74.4L467.9,72.4L465.4,71.1L464.1,73.1Z" fill="#19bfb6"/><path d="M469.2,70.5L470.6,69.1L468.1,67.7L466.8,69.2Z" fill="#37c897"/><path d="M435.3,79.6L436.6,79.5L434.1,78.2L432.8,78.3Z" fill="#12b1d6"/><path d="M467.9,72.4L469.2,70.5L466.8,69.2L465.4,71.1Z" fill="#2cc4a7"/><path d="M476.8,77.3L478.2,76.8L475.7,75.7L474.4,76.2Z" fill="#02bac3"/><path d="M473,76.6L474.4,76.2L471.9,68.3L470.6,69.1Z" fill="#01b8ca"/><path d="M428.8,79.1L430.1,78.8L427.7,77.5L426.3,77.8Z" fill="#08b5d0"/><path d="M440.4,80.9L441.7,81.4L439.3,80.2L437.9,79.6Z" fill="#18addb"/><path d="M455.8,87.2L457.2,86.7L454.7,85.5L453.4,86Z" fill="#2b91ef"/><path d="M483.3,76.6L484.7,76.1L482.2,75.5L480.9,75.9Z" fill="#0bbdbd"/><path d="M471.7,77.1L473,76.6L470.6,69.1L469.2,70.5Z" fill="#01b8ca"/><path d="M449.4,85.6L450.7,86.2L448.2,84.9L446.9,84.4Z" fill="#259be8"/><path d="M475.5,77.7L476.8,77.3L474.4,76.2L473,76.6Z" fill="#02bac3"/><path d="M433.9,79.8L435.3,79.6L432.8,78.3L431.5,78.5Z" fill="#08b5d0"/><path d="M454.5,87.5L455.8,87.2L453.4,86L452,86.3Z" fill="#2b91ef"/><path d="M470.4,77.5L471.7,77.1L469.2,70.5L467.9,72.4Z" fill="#01b8ca"/><path d="M482,77L483.3,76.6L480.9,75.9L479.5,76.4Z" fill="#0bbdbd"/><path d="M444.2,82.6L445.6,83.5L443.1,82.3L441.7,81.4Z" fill="#1ca9df"/><path d="M439.1,80.7L440.4,80.9L437.9,79.6L436.6,79.5Z" fill="#12b1d6"/><path d="M469,78L470.4,77.5L467.9,72.4L466.6,74.4Z" fill="#01b8ca"/><path d="M474.2,78.2L475.5,77.7L473,76.6L471.7,77.1Z" fill="#02bac3"/><path d="M432.6,80.1L433.9,79.8L431.5,78.5L430.1,78.8Z" fill="#08b5d0"/><path d="M467.7,78.5L469,78L466.6,74.4L465.2,76.6Z" fill="#01b8ca"/><path d="M480.6,77.5L482,77L479.5,76.4L478.2,76.8Z" fill="#0bbdbd"/><path d="M466.3,79L467.7,78.5L465.2,76.6L463.9,78.8Z" fill="#01b8ca"/><path d="M453.2,87.4L454.5,87.5L452,86.3L450.7,86.2Z" fill="#2797eb"/><path d="M448,84.7L449.4,85.6L446.9,84.4L445.6,83.5Z" fill="#20a5e3"/><path d="M465,79.5L466.3,79L463.9,78.8L462.5,81.1Z" fill="#01b8ca"/><path d="M472.8,78.6L474.2,78.2L471.7,77.1L470.4,77.5Z" fill="#02bac3"/><path d="M437.7,80.8L439.1,80.7L436.6,79.5L435.3,79.6Z" fill="#08b5d0"/><path d="M463.7,80.1L465,79.5L462.5,81.1L461.2,83.1Z" fill="#01b8ca"/><path d="M431.2,80.4L432.6,80.1L430.1,78.8L428.8,79.1Z" fill="#08b5d0"/><path d="M442.9,82.1L444.2,82.6L441.7,81.4L440.4,80.9Z" fill="#18addb"/><path d="M479.3,77.9L480.6,77.5L478.2,76.8L476.8,77.3Z" fill="#0bbdbd"/><path d="M462.3,80.6L463.7,80.1L461.2,83.1L459.9,84.9Z" fill="#01b8ca"/><path d="M471.5,79.1L472.8,78.6L470.4,77.5L469,78Z" fill="#02bac3"/><path d="M451.8,86.8L453.2,87.4L450.7,86.2L449.4,85.6Z" fill="#259be8"/><path d="M461,81.1L462.3,80.6L459.9,84.9L458.5,86Z" fill="#01b8ca"/><path d="M436.4,81L437.7,80.8L435.3,79.6L433.9,79.8Z" fill="#08b5d0"/><path d="M478,78.4L479.3,77.9L476.8,77.3L475.5,77.7Z" fill="#0bbdbd"/><path d="M446.7,83.8L448,84.7L445.6,83.5L444.2,82.6Z" fill="#1ca9df"/><path d="M470.1,79.5L471.5,79.1L469,78L467.7,78.5Z" fill="#02bac3"/><path d="M441.5,81.9L442.9,82.1L440.4,80.9L439.1,80.7Z" fill="#12b1d6"/><path d="M459.6,81.5L461,81.1L458.5,86L457.2,86.7Z" fill="#01b8ca"/><path d="M435,81.3L436.4,81L433.9,79.8L432.6,80.1Z" fill="#08b5d0"/><path d="M476.6,78.8L478,78.4L475.5,77.7L474.2,78.2Z" fill="#0bbdbd"/><path d="M468.8,80L470.1,79.5L467.7,78.5L466.3,79Z" fill="#02bac3"/><path d="M458.3,81.9L459.6,81.5L457.2,86.7L455.8,87.2Z" fill="#01b8ca"/><path d="M450.5,85.9L451.8,86.8L449.4,85.6L448,84.7Z" fill="#20a5e3"/><path d="M440.2,82L441.5,81.9L439.1,80.7L437.7,80.8Z" fill="#08b5d0"/><path d="M475.3,79.3L476.6,78.8L474.2,78.2L472.8,78.6Z" fill="#0bbdbd"/><path d="M433.7,81.6L435,81.3L432.6,80.1L431.2,80.4Z" fill="#08b5d0"/><path d="M445.3,83.2L446.7,83.8L444.2,82.6L442.9,82.1Z" fill="#12b1d6"/><path d="M467.5,80.5L468.8,80L466.3,79L465,79.5Z" fill="#01b8ca"/><path d="M457,82.3L458.3,81.9L455.8,87.2L454.5,87.5Z" fill="#01b8ca"/><path d="M474,79.7L475.3,79.3L472.8,78.6L471.5,79.1Z" fill="#0bbdbd"/><path d="M438.9,82.2L440.2,82L437.7,80.8L436.4,81Z" fill="#08b5d0"/><path d="M466.1,81L467.5,80.5L465,79.5L463.7,80.1Z" fill="#01b8ca"/><path d="M449.1,85L450.5,85.9L448,84.7L446.7,83.8Z" fill="#18addb"/><path d="M455.6,82.7L457,82.3L454.5,87.5L453.2,87.4Z" fill="#01b8ca"/><path d="M444,83.1L445.3,83.2L442.9,82.1L441.5,81.9Z" fill="#08b5d0"/><path d="M472.6,80.2L474,79.7L471.5,79.1L470.1,79.5Z" fill="#0bbdbd"/><path d="M437.5,82.6L438.9,82.2L436.4,81L435,81.3Z" fill="#08b5d0"/><path d="M464.8,81.5L466.1,81L463.7,80.1L462.3,80.6Z" fill="#01b8ca"/><path d="M454.3,83.2L455.6,82.7L453.2,87.4L451.8,86.8Z" fill="#01b8ca"/><path d="M471.3,80.6L472.6,80.2L470.1,79.5L468.8,80Z" fill="#0bbdbd"/><path d="M442.7,83.2L444,83.1L441.5,81.9L440.2,82Z" fill="#08b5d0"/><path d="M463.4,82L464.8,81.5L462.3,80.6L461,81.1Z" fill="#01b8ca"/><path d="M436.2,82.9L437.5,82.6L435,81.3L433.7,81.6Z" fill="#08b5d0"/><path d="M447.8,84.4L449.1,85L446.7,83.8L445.3,83.2Z" fill="#12b1d6"/><path d="M469.9,81.1L471.3,80.6L468.8,80L467.5,80.5Z" fill="#0bbdbd"/><path d="M462.1,82.4L463.4,82L461,81.1L459.6,81.5Z" fill="#01b8ca"/><path d="M441.3,83.4L442.7,83.2L440.2,82L438.9,82.2Z" fill="#08b5d0"/><path d="M452.9,83.6L454.3,83.2L451.8,86.8L450.5,85.9Z" fill="#01b8ca"/><path d="M468.6,81.5L469.9,81.1L467.5,80.5L466.1,81Z" fill="#0bbdbd"/><path d="M446.5,84.2L447.8,84.4L445.3,83.2L444,83.1Z" fill="#08b5d0"/><path d="M460.8,82.8L462.1,82.4L459.6,81.5L458.3,81.9Z" fill="#01b8ca"/><path d="M440,83.8L441.3,83.4L438.9,82.2L437.5,82.6Z" fill="#08b5d0"/><path d="M467.3,82L468.6,81.5L466.1,81L464.8,81.5Z" fill="#0bbdbd"/><path d="M451.6,84L452.9,83.6L450.5,85.9L449.1,85Z" fill="#01b8ca"/><path d="M459.4,83.3L460.8,82.8L458.3,81.9L457,82.3Z" fill="#01b8ca"/><path d="M445.1,84.4L446.5,84.2L444,83.1L442.7,83.2Z" fill="#08b5d0"/><path d="M438.6,84.1L440,83.8L437.5,82.6L436.2,82.9Z" fill="#01b8ca"/><path d="M465.9,82.4L467.3,82L464.8,81.5L463.4,82Z" fill="#0bbdbd"/><path d="M458.1,83.7L459.4,83.3L457,82.3L455.6,82.7Z" fill="#01b8ca"/><path d="M450.3,84.4L451.6,84L449.1,85L447.8,84.4Z" fill="#01b8ca"/><path d="M443.8,84.6L445.1,84.4L442.7,83.2L441.3,83.4Z" fill="#01b8ca"/><path d="M464.6,82.9L465.9,82.4L463.4,82L462.1,82.4Z" fill="#0bbdbd"/><path d="M456.8,84.1L458.1,83.7L455.6,82.7L454.3,83.2Z" fill="#01b8ca"/><path d="M448.9,84.8L450.3,84.4L447.8,84.4L446.5,84.2Z" fill="#01b8ca"/><path d="M442.4,85L443.8,84.6L441.3,83.4L440,83.8Z" fill="#01b8ca"/><path d="M463.2,83.3L464.6,82.9L462.1,82.4L460.8,82.8Z" fill="#0bbdbd"/><path d="M455.4,84.6L456.8,84.1L454.3,83.2L452.9,83.6Z" fill="#01b8ca"/><path d="M441.1,85.4L442.4,85L440,83.8L438.6,84.1Z" fill="#01b8ca"/><path d="M447.6,85.3L448.9,84.8L446.5,84.2L445.1,84.4Z" fill="#01b8ca"/><path d="M461.9,83.8L463.2,83.3L460.8,82.8L459.4,83.3Z" fill="#0bbdbd"/><path d="M454.1,85L455.4,84.6L452.9,83.6L451.6,84Z" fill="#01b8ca"/><path d="M460.6,84.2L461.9,83.8L459.4,83.3L458.1,83.7Z" fill="#0bbdbd"/><path d="M446.2,85.7L447.6,85.3L445.1,84.4L443.8,84.6Z" fill="#01b8ca"/><path d="M452.7,85.4L454.1,85L451.6,84L450.3,84.4Z" fill="#01b8ca"/><path d="M459.2,84.7L460.6,84.2L458.1,83.7L456.8,84.1Z" fill="#0bbdbd"/><path d="M444.9,86.1L446.2,85.7L443.8,84.6L442.4,85Z" fill="#01b8ca"/><path d="M451.4,85.9L452.7,85.4L450.3,84.4L448.9,84.8Z" fill="#02bac3"/><path d="M457.9,85.1L459.2,84.7L456.8,84.1L455.4,84.6Z" fill="#0bbdbd"/><path d="M443.6,86.5L444.9,86.1L442.4,85L441.1,85.4Z" fill="#01b8ca"/><path d="M450.1,86.3L451.4,85.9L448.9,84.8L447.6,85.3Z" fill="#02bac3"/><path d="M456.5,85.6L457.9,85.1L455.4,84.6L454.1,85Z" fill="#0bbdbd"/><path d="M448.7,86.7L450.1,86.3L447.6,85.3L446.2,85.7Z" fill="#02bac3"/><path d="M455.2,86L456.5,85.6L454.1,85L452.7,85.4Z" fill="#0bbdbd"/><path d="M447.4,87.2L448.7,86.7L446.2,85.7L444.9,86.1Z" fill="#02bac3"/><path d="M453.9,86.5L455.2,86L452.7,85.4L451.4,85.9Z" fill="#0bbdbd"/><path d="M446,87.6L447.4,87.2L444.9,86.1L443.6,86.5Z" fill="#02bac3"/><path d="M452.5,86.9L453.9,86.5L451.4,85.9L450.1,86.3Z" fill="#0bbdbd"/><path d="M451.2,87.4L452.5,86.9L450.1,86.3L448.7,86.7Z" fill="#0bbdbd"/><path d="M449.8,87.8L451.2,87.4L448.7,86.7L447.4,87.2Z" fill="#0bbdbd"/><path d="M448.5,88.3L449.8,87.8L447.4,87.2L446,87.6Z" fill="#0bbdbd"/></g>
<g font-family="Liberation Sans, Arial, sans-serif" stroke="#262626" stroke-width="0.14" font-size="6.3" fill="#262626"><text x="452.5" y="130.1">0</text><text x="479.3" y="121.1">10</text><text x="506.1" y="112.1">20</text></g>
<g font-family="Liberation Sans, Arial, sans-serif" stroke="#262626" stroke-width="0.14" font-size="6.3" fill="#262626" text-anchor="end"><text x="444.3" y="129.6">0</text><text x="419.7" y="115.5">10</text><text x="395" y="101.4">20</text><text x="396.2" y="94.4">0.95</text><text x="396.2" y="73.9">1</text><text x="396.2" y="53.4">1.05</text><text x="396.2" y="32.9">1.1</text></g>
<text font-family="Liberation Sans, Arial, sans-serif" stroke="#262626" stroke-width="0.14" font-size="6.4" fill="#262626" text-anchor="middle" x="412.3" y="130.9">Node</text>
<text font-family="Liberation Sans, Arial, sans-serif" stroke="#262626" stroke-width="0.14" font-size="6.4" fill="#262626" text-anchor="middle" x="485.1" y="132.6">t/h</text>
<text font-family="Liberation Sans, Arial, sans-serif" stroke="#262626" stroke-width="0.14" font-size="6.4" fill="#262626" text-anchor="middle" transform="translate(378.1,63.6) rotate(-90)" y="2.3">Voltage/p.u.</text>
<text font-family="Liberation Sans, Arial, sans-serif" stroke="#262626" stroke-width="0.14" font-size="6.55" fill="#222" text-anchor="middle" x="456.2" y="9.1">Node voltage profiles in scenario3</text>
<defs><linearGradient id="g2" x1="0" y1="0" x2="0" y2="1"><stop offset="0%" stop-color="#f9fb15"/><stop offset="4.8%" stop-color="#f5e924"/><stop offset="9.5%" stop-color="#fad62d"/><stop offset="14.3%" stop-color="#fec338"/><stop offset="19%" stop-color="#f0ba36"/><stop offset="23.8%" stop-color="#d1bf27"/><stop offset="28.6%" stop-color="#abc739"/><stop offset="33.3%" stop-color="#81cc59"/><stop offset="38.1%" stop-color="#57cc7a"/><stop offset="42.9%" stop-color="#37c897"/><stop offset="47.6%" stop-color="#24c1ae"/><stop offset="52.4%" stop-color="#02bac3"/><stop offset="57.1%" stop-color="#12b1d6"/><stop offset="61.9%" stop-color="#20a5e3"/><stop offset="66.7%" stop-color="#2797eb"/><stop offset="71.4%" stop-color="#2e87f7"/><stop offset="76.2%" stop-color="#3875fe"/><stop offset="81%" stop-color="#4563fd"/><stop offset="85.7%" stop-color="#4852f4"/><stop offset="90.5%" stop-color="#4741e5"/><stop offset="95.2%" stop-color="#4332cb"/><stop offset="100%" stop-color="#3e26a8"/><stop offset="100%" stop-color="#3e26a8"/></linearGradient></defs>
<rect x="524.8" y="11.2" width="7.5" height="110.4" fill="url(#g2)" stroke="#b0b0b0" stroke-width="0.4"/>
<path d="M531,116.7h1.3M531,97.6h1.3M531,78.5h1.3M531,59.4h1.3M531,40.3h1.3M531,21.2h1.3" stroke="#555" stroke-width="0.45" stroke-opacity="0.6"/>
<g font-family="Liberation Sans, Arial, sans-serif" stroke="#262626" stroke-width="0.14" font-size="6.3" fill="#262626"><text x="535.1" y="118.8">0.98</text><text x="535.1" y="99.7">1</text><text x="535.1" y="80.6">1.02</text><text x="535.1" y="61.5">1.04</text><text x="535.1" y="42.4">1.06</text><text x="535.1" y="23.3">1.08</text></g>
<path d="M122.6,265.2L73.3,237M73.3,237L73.3,175.2M149.4,256.2L100.1,228M100.1,228L100.1,166.2M176.2,247.2L126.9,219M126.9,219L126.9,157.2M122.6,265.2L186.9,243.6M186.9,243.6L186.9,181.8M97.9,251.1L162.2,229.5M162.2,229.5L162.2,167.7M73.3,237L137.6,215.4M137.6,215.4L137.6,153.6M73.3,237L137.6,215.4M186.9,243.6L137.6,215.4M73.3,221.6L137.6,200M186.9,228.2L137.6,200M73.3,206.1L137.6,184.5M186.9,212.7L137.6,184.5M73.3,190.7L137.6,169.1M186.9,197.2L137.6,169.1M73.3,175.2L137.6,153.6M186.9,181.8L137.6,153.6M137.6,215.4L137.6,153.6M73.3,175.2L137.6,153.6M186.9,181.8L137.6,153.6" stroke="#e6e6e6" stroke-width="0.5" fill="none"/>
<path d="M122.6,265.2L186.9,243.6M122.6,265.2L73.3,237M73.3,237L73.3,175.2M122.6,265.2L121.6,264.6M149.4,256.2L148.4,255.6M176.2,247.2L175.2,246.6M122.6,265.2L123.9,264.8M97.9,251.1L99.2,250.7M73.3,237L74.6,236.6M73.3,237L74.6,236.6M73.3,221.6L74.6,221.1M73.3,206.1L74.6,205.7M73.3,190.7L74.6,190.2M73.3,175.2L74.6,174.8" stroke="#9a9a9a" stroke-width="0.6" fill="none"/>
<g stroke="#000" stroke-width="0.3" stroke-opacity="0.85" stroke-linejoin="round"><path d="M138.7,193.7L140.1,193.7L137.6,192.3L136.3,192.2Z" fill="#2f81fa"/><path d="M132,202.1L133.4,200.8L130.9,199.2L129.6,200.4Z" fill="#4852f4"/><path d="M137.4,193.7L138.7,193.7L136.3,192.2L134.9,192.2Z" fill="#2e87f7"/><path d="M130.7,201.1L132,202.1L129.6,200.4L128.2,199.3Z" fill="#465efb"/><path d="M136,193.7L137.4,193.7L134.9,192.2L133.6,192.1Z" fill="#2e87f7"/><path d="M133.4,200.8L134.7,193.7L132.2,192.1L130.9,199.2Z" fill="#4758f8"/><path d="M141.2,195.2L142.5,195.2L140.1,193.7L138.7,193.7Z" fill="#2f81fa"/><path d="M134.5,203.7L135.8,202.4L133.4,200.8L132,202.1Z" fill="#4852f4"/><path d="M134.7,193.7L136,193.7L133.6,192.1L132.2,192.1Z" fill="#2d8cf3"/><path d="M129.3,200L130.7,201.1L128.2,199.3L126.9,198.2Z" fill="#4269fe"/><path d="M139.9,195.2L141.2,195.2L138.7,193.7L137.4,193.7Z" fill="#2e87f7"/><path d="M133.2,202.8L134.5,203.7L132,202.1L130.7,201.1Z" fill="#465efb"/><path d="M138.5,195.2L139.9,195.2L137.4,193.7L136,193.7Z" fill="#2e87f7"/><path d="M135.8,202.4L137.2,195.3L134.7,193.7L133.4,200.8Z" fill="#4758f8"/><path d="M143.7,196.7L145,196.6L142.5,195.2L141.2,195.2Z" fill="#2f81fa"/><path d="M128,199L129.3,200L126.9,198.2L125.5,197.1Z" fill="#3875fe"/><path d="M137,205.4L138.3,204L135.8,202.4L134.5,203.7Z" fill="#4852f4"/><path d="M137.2,195.3L138.5,195.2L136,193.7L134.7,193.7Z" fill="#2d8cf3"/><path d="M131.8,201.8L133.2,202.8L130.7,201.1L129.3,200Z" fill="#4269fe"/><path d="M142.3,196.7L143.7,196.7L141.2,195.2L139.9,195.2Z" fill="#2e87f7"/><path d="M135.6,204.5L137,205.4L134.5,203.7L133.2,202.8Z" fill="#4758f8"/><path d="M126.7,197.9L128,199L125.5,197.1L124.2,196Z" fill="#2f81fa"/><path d="M138.3,204L139.6,196.8L137.2,195.3L135.8,202.4Z" fill="#4758f8"/><path d="M141,196.7L142.3,196.7L139.9,195.2L138.5,195.2Z" fill="#2e87f7"/><path d="M146.1,198.1L147.5,198.1L145,196.6L143.7,196.7Z" fill="#2f81fa"/><path d="M130.5,200.9L131.8,201.8L129.3,200L128,199Z" fill="#3e6fff"/><path d="M139.4,207L140.8,205.5L138.3,204L137,205.4Z" fill="#484df0"/><path d="M139.6,196.8L141,196.7L138.5,195.2L137.2,195.3Z" fill="#2d8cf3"/><path d="M134.3,203.6L135.6,204.5L133.2,202.8L131.8,201.8Z" fill="#4563fd"/><path d="M144.8,198.2L146.1,198.1L143.7,196.7L142.3,196.7Z" fill="#2f81fa"/><path d="M125.3,196.8L126.7,197.9L124.2,196L122.9,194.7Z" fill="#2d8cf3"/><path d="M138.1,206.2L139.4,207L137,205.4L135.6,204.5Z" fill="#4758f8"/><path d="M129.1,199.9L130.5,200.9L128,199L126.7,197.9Z" fill="#327cfc"/><path d="M140.8,205.5L142.1,198.3L139.6,196.8L138.3,204Z" fill="#4758f8"/><path d="M143.4,198.2L144.8,198.2L142.3,196.7L141,196.7Z" fill="#2e87f7"/><path d="M132.9,202.8L134.3,203.6L131.8,201.8L130.5,200.9Z" fill="#3e6fff"/><path d="M148.6,199.5L149.9,199.5L147.5,198.1L146.1,198.1Z" fill="#2f81fa"/><path d="M141.9,208.6L143.2,207.1L140.8,205.5L139.4,207Z" fill="#484df0"/><path d="M136.7,205.4L138.1,206.2L135.6,204.5L134.3,203.6Z" fill="#4563fd"/><path d="M124,195.4L125.3,196.8L122.9,194.7L121.5,193.3Z" fill="#2797eb"/><path d="M142.1,198.3L143.4,198.2L141,196.7L139.6,196.8Z" fill="#2e87f7"/><path d="M127.8,198.8L129.1,199.9L126.7,197.9L125.3,196.8Z" fill="#2e87f7"/><path d="M147.2,199.6L148.6,199.5L146.1,198.1L144.8,198.2Z" fill="#2f81fa"/><path d="M140.5,207.9L141.9,208.6L139.4,207L138.1,206.2Z" fill="#4758f8"/><path d="M131.6,201.8L132.9,202.8L130.5,200.9L129.1,199.9Z" fill="#327cfc"/><path d="M143.2,207.1L144.6,199.8L142.1,198.3L140.8,205.5Z" fill="#4758f8"/><path d="M135.4,204.6L136.7,205.4L134.3,203.6L132.9,202.8Z" fill="#4269fe"/><path d="M145.9,199.7L147.2,199.6L144.8,198.2L143.4,198.2Z" fill="#2e87f7"/><path d="M151.1,200.9L152.4,200.8L149.9,199.5L148.6,199.5Z" fill="#2f81fa"/><path d="M122.7,193.6L124,195.4L121.5,193.3L120.2,191.4Z" fill="#20a5e3"/><path d="M126.5,197.5L127.8,198.8L125.3,196.8L124,195.4Z" fill="#2797eb"/><path d="M139.2,207.2L140.5,207.9L138.1,206.2L136.7,205.4Z" fill="#465efb"/><path d="M144.4,210.1L145.7,208.5L143.2,207.1L141.9,208.6Z" fill="#484df0"/><path d="M144.6,199.8L145.9,199.7L143.4,198.2L142.1,198.3Z" fill="#2e87f7"/><path d="M130.3,200.8L131.6,201.8L129.1,199.9L127.8,198.8Z" fill="#2f81fa"/><path d="M149.7,201L151.1,200.9L148.6,199.5L147.2,199.6Z" fill="#2f81fa"/><path d="M134.1,203.8L135.4,204.6L132.9,202.8L131.6,201.8Z" fill="#3875fe"/><path d="M143,209.5L144.4,210.1L141.9,208.6L140.5,207.9Z" fill="#4852f4"/><path d="M137.9,206.5L139.2,207.2L136.7,205.4L135.4,204.6Z" fill="#4269fe"/><path d="M145.7,208.5L147,201.3L144.6,199.8L143.2,207.1Z" fill="#4852f4"/><path d="M148.4,201.1L149.7,201L147.2,199.6L145.9,199.7Z" fill="#2e87f7"/><path d="M125.1,195.8L126.5,197.5L124,195.4L122.7,193.6Z" fill="#23a0e5"/><path d="M128.9,199.6L130.3,200.8L127.8,198.8L126.5,197.5Z" fill="#2b91ef"/><path d="M121.3,191.3L122.7,193.6L120.2,191.4L118.8,189Z" fill="#08b5d0"/><path d="M141.7,208.9L143,209.5L140.5,207.9L139.2,207.2Z" fill="#465efb"/><path d="M132.7,202.8L134.1,203.8L131.6,201.8L130.3,200.8Z" fill="#2f81fa"/><path d="M146.8,211.6L148.2,209.2L145.7,208.5L144.4,210.1Z" fill="#484df0"/><path d="M147,201.3L148.4,201.1L145.9,199.7L144.6,199.8Z" fill="#2e87f7"/><path d="M136.5,205.7L137.9,206.5L135.4,204.6L134.1,203.8Z" fill="#3e6fff"/><path d="M153.5,199.1L154.9,199L152.4,200.8L151.1,200.9Z" fill="#2797eb"/><path d="M145.5,211.1L146.8,211.6L144.4,210.1L143,209.5Z" fill="#4852f4"/><path d="M140.3,208.2L141.7,208.9L139.2,207.2L137.9,206.5Z" fill="#4563fd"/><path d="M127.6,198L128.9,199.6L126.5,197.5L125.1,195.8Z" fill="#259be8"/><path d="M123.8,193.5L125.1,195.8L122.7,193.6L121.3,191.3Z" fill="#12b1d6"/><path d="M131.4,201.7L132.7,202.8L130.3,200.8L128.9,199.6Z" fill="#2d8cf3"/><path d="M152.2,199.3L153.5,199.1L151.1,200.9L149.7,201Z" fill="#259be8"/><path d="M135.2,204.8L136.5,205.7L134.1,203.8L132.7,202.8Z" fill="#327cfc"/><path d="M148.2,209.2L149.5,199.6L147,201.3L145.7,208.5Z" fill="#4758f8"/><path d="M144.1,210.5L145.5,211.1L143,209.5L141.7,208.9Z" fill="#4758f8"/><path d="M120,188.1L121.3,191.3L118.8,189L117.5,185.7Z" fill="#24c1ae"/><path d="M150.8,199.4L152.2,199.3L149.7,201L148.4,201.1Z" fill="#259be8"/><path d="M139,207.5L140.3,208.2L137.9,206.5L136.5,205.7Z" fill="#3e6fff"/><path d="M149.3,213L150.6,209.9L148.2,209.2L146.8,211.6Z" fill="#484df0"/><path d="M147.9,212.5L149.3,213L146.8,211.6L145.5,211.1Z" fill="#4852f4"/><path d="M130,200.1L131.4,201.7L128.9,199.6L127.6,198Z" fill="#2797eb"/><path d="M142.8,209.9L144.1,210.5L141.7,208.9L140.3,208.2Z" fill="#4563fd"/><path d="M149.5,199.6L150.8,199.4L148.4,201.1L147,201.3Z" fill="#259be8"/><path d="M126.2,195.8L127.6,198L125.1,195.8L123.8,193.5Z" fill="#18addb"/><path d="M133.8,203.7L135.2,204.8L132.7,202.8L131.4,201.7Z" fill="#2e87f7"/><path d="M122.4,190.4L123.8,193.5L121.3,191.3L120,188.1Z" fill="#0bbdbd"/><path d="M137.7,206.7L139,207.5L136.5,205.7L135.2,204.8Z" fill="#3875fe"/><path d="M146.6,212L147.9,212.5L145.5,211.1L144.1,210.5Z" fill="#4758f8"/><path d="M141.5,209.3L142.8,209.9L140.3,208.2L139,207.5Z" fill="#4269fe"/><path d="M156,197.2L157.3,197.1L154.9,199L153.5,199.1Z" fill="#1ca9df"/><path d="M118.6,184.8L120,188.1L117.5,185.7L116.2,182.3Z" fill="#3fca8e"/><path d="M151.7,214.2L153.1,211L150.6,209.9L149.3,213Z" fill="#484df0"/><path d="M132.5,202.3L133.8,203.7L131.4,201.7L130,200.1Z" fill="#2b91ef"/><path d="M128.7,198L130,200.1L127.6,198L126.2,195.8Z" fill="#1ca9df"/><path d="M150.6,209.9L152,197.8L149.5,199.6L148.2,209.2Z" fill="#465efb"/><path d="M150.4,213.8L151.7,214.2L149.3,213L147.9,212.5Z" fill="#4852f4"/><path d="M136.3,205.7L137.7,206.7L135.2,204.8L133.8,203.7Z" fill="#2f81fa"/><path d="M145.3,211.5L146.6,212L144.1,210.5L142.8,209.9Z" fill="#4563fd"/><path d="M154.6,197.4L156,197.2L153.5,199.1L152.2,199.3Z" fill="#18addb"/><path d="M124.9,192.8L126.2,195.8L123.8,193.5L122.4,190.4Z" fill="#02bac3"/><path d="M140.1,208.5L141.5,209.3L139,207.5L137.7,206.7Z" fill="#3875fe"/><path d="M153.3,197.5L154.6,197.4L152.2,199.3L150.8,199.4Z" fill="#18addb"/><path d="M149.1,213.4L150.4,213.8L147.9,212.5L146.6,212Z" fill="#4758f8"/><path d="M121.1,187.3L122.4,190.4L120,188.1L118.6,184.8Z" fill="#37c897"/><path d="M143.9,211L145.3,211.5L142.8,209.9L141.5,209.3Z" fill="#4269fe"/><path d="M131.2,200.2L132.5,202.3L130,200.1L128.7,198Z" fill="#20a5e3"/><path d="M135,204.2L136.3,205.7L133.8,203.7L132.5,202.3Z" fill="#2b91ef"/><path d="M152,197.8L153.3,197.5L150.8,199.4L149.5,199.6Z" fill="#18addb"/><path d="M138.8,207.5L140.1,208.5L137.7,206.7L136.3,205.7Z" fill="#2f81fa"/><path d="M117.3,182L118.6,184.8L116.2,182.3L114.8,179.4Z" fill="#81cc59"/><path d="M127.4,195.1L128.7,198L126.2,195.8L124.9,192.8Z" fill="#01b8ca"/><path d="M154.2,215.2L155.6,212L153.1,211L151.7,214.2Z" fill="#4852f4"/><path d="M147.7,213L149.1,213.4L146.6,212L145.3,211.5Z" fill="#465efb"/><path d="M152.9,214.9L154.2,215.2L151.7,214.2L150.4,213.8Z" fill="#4758f8"/><path d="M158.4,198.3L159.8,198.1L157.3,197.1L156,197.2Z" fill="#18addb"/><path d="M142.6,210.1L143.9,211L141.5,209.3L140.1,208.5Z" fill="#3875fe"/><path d="M153.1,211L154.4,198.9L152,197.8L150.6,209.9Z" fill="#4563fd"/><path d="M123.6,189.7L124.9,192.8L122.4,190.4L121.1,187.3Z" fill="#31c69f"/><path d="M157.1,198.5L158.4,198.3L156,197.2L154.6,197.4Z" fill="#18addb"/><path d="M151.5,214.6L152.9,214.9L150.4,213.8L149.1,213.4Z" fill="#465efb"/><path d="M146.4,212.4L147.7,213L145.3,211.5L143.9,211Z" fill="#4269fe"/><path d="M133.6,202.2L135,204.2L132.5,202.3L131.2,200.2Z" fill="#23a0e5"/><path d="M137.4,205.8L138.8,207.5L136.3,205.7L135,204.2Z" fill="#2d8cf3"/><path d="M119.8,184.6L121.1,187.3L118.6,184.8L117.3,182Z" fill="#64cd6f"/><path d="M129.8,197.4L131.2,200.2L128.7,198L127.4,195.1Z" fill="#08b5d0"/><path d="M141.2,208.8L142.6,210.1L140.1,208.5L138.8,207.5Z" fill="#2f81fa"/><path d="M155.8,198.6L157.1,198.5L154.6,197.4L153.3,197.5Z" fill="#12b1d6"/><path d="M116,179.8L117.3,182L114.8,179.4L113.5,177.1Z" fill="#abc739"/><path d="M150.2,214.3L151.5,214.6L149.1,213.4L147.7,213Z" fill="#4563fd"/><path d="M126,192.2L127.4,195.1L124.9,192.8L123.6,189.7Z" fill="#24c1ae"/><path d="M156.7,216L158,212.7L155.6,212L154.2,215.2Z" fill="#4852f4"/><path d="M155.3,215.8L156.7,216L154.2,215.2L152.9,214.9Z" fill="#4758f8"/><path d="M145,211.5L146.4,212.4L143.9,211L142.6,210.1Z" fill="#3875fe"/><path d="M160.9,199.1L162.2,198.9L159.8,198.1L158.4,198.3Z" fill="#12b1d6"/><path d="M154.4,198.9L155.8,198.6L153.3,197.5L152,197.8Z" fill="#12b1d6"/><path d="M155.6,212L156.9,199.9L154.4,198.9L153.1,211Z" fill="#4563fd"/><path d="M122.2,187.1L123.6,189.7L121.1,187.3L119.8,184.6Z" fill="#57cc7a"/><path d="M136.1,203.3L137.4,205.8L135,204.2L133.6,202.2Z" fill="#23a0e5"/><path d="M90.5,211.7L91.8,209.1L89.4,210.8L88,213.5Z" fill="#3875fe"/><path d="M132.3,199.3L133.6,202.2L131.2,200.2L129.8,197.4Z" fill="#12b1d6"/><path d="M148.9,213.8L150.2,214.3L147.7,213L146.4,212.4Z" fill="#4269fe"/><path d="M159.6,199.3L160.9,199.1L158.4,198.3L157.1,198.5Z" fill="#12b1d6"/><path d="M154,215.6L155.3,215.8L152.9,214.9L151.5,214.6Z" fill="#465efb"/><path d="M89.2,212.1L90.5,211.7L88,213.5L86.7,214Z" fill="#3875fe"/><path d="M139.9,206.5L141.2,208.8L138.8,207.5L137.4,205.8Z" fill="#2b91ef"/><path d="M118.4,182.4L119.8,184.6L117.3,182L116,179.8Z" fill="#9dc943"/><path d="M91.8,209.1L93.2,206.5L90.7,208.1L89.4,210.8Z" fill="#2e87f7"/><path d="M128.5,194.5L129.8,197.4L127.4,195.1L126,192.2Z" fill="#19bfb6"/><path d="M143.7,209.8L145,211.5L142.6,210.1L141.2,208.8Z" fill="#2f81fa"/><path d="M114.6,177.9L116,179.8L113.5,177.1L112.1,175.1Z" fill="#d1bf27"/><path d="M87.8,212.6L89.2,212.1L86.7,214L85.4,214.4Z" fill="#3875fe"/><path d="M93.2,206.5L94.5,203.8L92.1,205.3L90.7,208.1Z" fill="#2b91ef"/><path d="M158.2,199.5L159.6,199.3L157.1,198.5L155.8,198.6Z" fill="#12b1d6"/><path d="M152.7,215.3L154,215.6L151.5,214.6L150.2,214.3Z" fill="#4563fd"/><path d="M124.7,189.7L126,192.2L123.6,189.7L122.2,187.1Z" fill="#3fca8e"/><path d="M147.5,212.8L148.9,213.8L146.4,212.4L145,211.5Z" fill="#3875fe"/><path d="M94.5,203.8L95.9,200.9L93.4,202.2L92.1,205.3Z" fill="#23a0e5"/><path d="M159.1,216.6L160.5,213.2L158,212.7L156.7,216Z" fill="#465efb"/><path d="M86.5,213L87.8,212.6L85.4,214.4L84,214.9Z" fill="#3875fe"/><path d="M93,218.7L94.3,216.3L91.8,209.1L90.5,211.7Z" fill="#484df0"/><path d="M157.8,216.4L159.1,216.6L156.7,216L155.3,215.8Z" fill="#465efb"/><path d="M91.6,219.2L93,218.7L90.5,211.7L89.2,212.1Z" fill="#484df0"/><path d="M156.9,199.9L158.2,199.5L155.8,198.6L154.4,198.9Z" fill="#12b1d6"/><path d="M120.9,185.1L122.2,187.1L119.8,184.6L118.4,182.4Z" fill="#81cc59"/><path d="M163.4,199.7L164.7,199.5L162.2,198.9L160.9,199.1Z" fill="#08b5d0"/><path d="M94.3,216.3L95.6,213.8L93.2,206.5L91.8,209.1Z" fill="#4758f8"/><path d="M158,212.7L159.4,200.6L156.9,199.9L155.6,212Z" fill="#4269fe"/><path d="M95.9,200.9L97.2,198L94.7,198.9L93.4,202.2Z" fill="#18addb"/><path d="M117.1,180.7L118.4,182.4L116,179.8L114.6,177.9Z" fill="#b9c431"/><path d="M134.8,200L136.1,203.3L133.6,202.2L132.3,199.3Z" fill="#08b5d0"/><path d="M85.1,213.5L86.5,213L84,214.9L82.7,215.3Z" fill="#3875fe"/><path d="M151.3,214.9L152.7,215.3L150.2,214.3L148.9,213.8Z" fill="#4269fe"/><path d="M95.6,213.8L97,211.1L94.5,203.8L93.2,206.5Z" fill="#4269fe"/><path d="M138.6,203.1L139.9,206.5L137.4,205.8L136.1,203.3Z" fill="#1ca9df"/><path d="M90.3,219.6L91.6,219.2L89.2,212.1L87.8,212.6Z" fill="#484df0"/><path d="M131,196.4L132.3,199.3L129.8,197.4L128.5,194.5Z" fill="#19bfb6"/><path d="M113.3,176.2L114.6,177.9L112.1,175.1L110.8,173.3Z" fill="#f0ba36"/><path d="M162,200L163.4,199.7L160.9,199.1L159.6,199.3Z" fill="#08b5d0"/><path d="M156.5,216.3L157.8,216.4L155.3,215.8L154,215.6Z" fill="#4563fd"/><path d="M142.4,206.8L143.7,209.8L141.2,208.8L139.9,206.5Z" fill="#259be8"/><path d="M97.2,198L98.5,195.3L96.1,195.6L94.7,198.9Z" fill="#02bac3"/><path d="M95.4,218L96.8,215.7L94.3,216.3L93,218.7Z" fill="#4758f8"/><path d="M97,211.1L98.3,208.1L95.9,200.9L94.5,203.8Z" fill="#327cfc"/><path d="M127.2,192.1L128.5,194.5L126,192.2L124.7,189.7Z" fill="#37c897"/><path d="M146.2,211L147.5,212.8L145,211.5L143.7,209.8Z" fill="#2e87f7"/><path d="M83.8,213.9L85.1,213.5L82.7,215.3L81.3,215.7Z" fill="#3875fe"/><path d="M94.1,218.5L95.4,218L93,218.7L91.6,219.2Z" fill="#4758f8"/><path d="M88.9,220.1L90.3,219.6L87.8,212.6L86.5,213Z" fill="#484df0"/><path d="M96.8,215.7L98.1,213.3L95.6,213.8L94.3,216.3Z" fill="#4269fe"/><path d="M98.5,195.3L99.9,193.1L97.4,192.6L96.1,195.6Z" fill="#24c1ae"/><path d="M123.3,187.7L124.7,189.7L122.2,187.1L120.9,185.1Z" fill="#64cd6f"/><path d="M160.7,200.2L162,200L159.6,199.3L158.2,199.5Z" fill="#08b5d0"/><path d="M98.3,208.1L99.7,204.9L97.2,198L95.9,200.9Z" fill="#2d8cf3"/><path d="M98.1,213.3L99.4,210.7L97,211.1L95.6,213.8Z" fill="#3875fe"/><path d="M150,214.2L151.3,214.9L148.9,213.8L147.5,212.8Z" fill="#3875fe"/><path d="M99.9,193.1L101.2,191.2L98.8,189.8L97.4,192.6Z" fill="#31c69f"/><path d="M155.1,216.1L156.5,216.3L154,215.6L152.7,215.3Z" fill="#4269fe"/><path d="M82.5,214.3L83.8,213.9L81.3,215.7L80,216.1Z" fill="#3875fe"/><path d="M92.8,218.9L94.1,218.5L91.6,219.2L90.3,219.6Z" fill="#4758f8"/><path d="M119.5,183.4L120.9,185.1L118.4,182.4L117.1,180.7Z" fill="#abc739"/><path d="M87.6,220.5L88.9,220.1L86.5,213L85.1,213.5Z" fill="#484df0"/><path d="M101.2,191.2L102.6,189.1L100.1,187.2L98.8,189.8Z" fill="#3fca8e"/><path d="M99.4,210.7L100.8,208L98.3,208.1L97,211.1Z" fill="#2e87f7"/><path d="M115.7,179.1L117.1,180.7L114.6,177.9L113.3,176.2Z" fill="#dcbd29"/><path d="M99.7,204.9L101,201.5L98.5,195.3L97.2,198Z" fill="#23a0e5"/><path d="M161.6,216.9L162.9,213.4L160.5,213.2L159.1,216.6Z" fill="#4563fd"/><path d="M159.4,200.6L160.7,200.2L158.2,199.5L156.9,199.9Z" fill="#08b5d0"/><path d="M160.3,216.8L161.6,216.9L159.1,216.6L157.8,216.4Z" fill="#4269fe"/><path d="M102.6,189.1L103.9,186.4L101.4,184.1L100.1,187.2Z" fill="#57cc7a"/><path d="M111.9,174.6L113.3,176.2L110.8,173.3L109.5,171.6Z" fill="#fec338"/><path d="M91.4,219.4L92.8,218.9L90.3,219.6L88.9,220.1Z" fill="#4758f8"/><path d="M165.8,200.1L167.2,199.8L164.7,199.5L163.4,199.7Z" fill="#01b8ca"/><path d="M81.1,214.5L82.5,214.3L80,216.1L78.7,216.3Z" fill="#3875fe"/><path d="M86.3,220.9L87.6,220.5L85.1,213.5L83.8,213.9Z" fill="#484df0"/><path d="M160.5,213.2L161.8,201L159.4,200.6L158,212.7Z" fill="#3e6fff"/><path d="M100.8,208L102.1,205L99.7,204.9L98.3,208.1Z" fill="#2797eb"/><path d="M101,201.5L102.3,198.1L99.9,193.1L98.5,195.3Z" fill="#18addb"/><path d="M133.4,196.8L134.8,200L132.3,199.3L131,196.4Z" fill="#24c1ae"/><path d="M153.8,215.9L155.1,216.1L152.7,215.3L151.3,214.9Z" fill="#3e6fff"/><path d="M129.6,194.1L131,196.4L128.5,194.5L127.2,192.1Z" fill="#31c69f"/><path d="M103.9,186.4L105.2,183.5L102.8,181L101.4,184.1Z" fill="#81cc59"/><path d="M97.9,221.7L99.2,219.5L96.8,215.7L95.4,218Z" fill="#4747eb"/><path d="M125.8,190.3L127.2,192.1L124.7,189.7L123.3,187.7Z" fill="#57cc7a"/><path d="M137.2,198.7L138.6,203.1L136.1,203.3L134.8,200Z" fill="#19bfb6"/><path d="M90.1,219.8L91.4,219.4L88.9,220.1L87.6,220.5Z" fill="#4758f8"/><path d="M102.3,198.1L103.7,194.9L101.2,191.2L99.9,193.1Z" fill="#02bac3"/><path d="M96.6,222.2L97.9,221.7L95.4,218L94.1,218.5Z" fill="#4747eb"/><path d="M148.6,212.7L150,214.2L147.5,212.8L146.2,211Z" fill="#2f81fa"/><path d="M144.8,207.6L146.2,211L143.7,209.8L142.4,206.8Z" fill="#23a0e5"/><path d="M99.2,219.5L100.6,217.2L98.1,213.3L96.8,215.7Z" fill="#4758f8"/><path d="M122,186.2L123.3,187.7L120.9,185.1L119.5,183.4Z" fill="#8fcb4e"/><path d="M158.9,216.8L160.3,216.8L157.8,216.4L156.5,216.3Z" fill="#4269fe"/><path d="M84.9,221.3L86.3,220.9L83.8,213.9L82.5,214.3Z" fill="#484df0"/><path d="M164.5,200.4L165.8,200.1L163.4,199.7L162,200Z" fill="#01b8ca"/><path d="M102.1,205L103.5,202L101,201.5L99.7,204.9Z" fill="#20a5e3"/><path d="M141,202L142.4,206.8L139.9,206.5L138.6,203.1Z" fill="#01b8ca"/><path d="M79.8,214.5L81.1,214.5L78.7,216.3L77.3,216.3Z" fill="#327cfc"/><path d="M118.2,181.9L119.5,183.4L117.1,180.7L115.7,179.1Z" fill="#c5c22a"/><path d="M105.2,183.5L106.6,180.7L104.1,177.9L102.8,181Z" fill="#abc739"/><path d="M103.7,194.9L105,192.2L102.6,189.1L101.2,191.2Z" fill="#2cc4a7"/><path d="M100.6,217.2L101.9,214.7L99.4,210.7L98.1,213.3Z" fill="#4563fd"/><path d="M114.4,177.6L115.7,179.1L113.3,176.2L111.9,174.6Z" fill="#f8ba3d"/><path d="M88.7,220.2L90.1,219.8L87.6,220.5L86.3,220.9Z" fill="#4758f8"/><path d="M95.2,222.6L96.6,222.2L94.1,218.5L92.8,218.9Z" fill="#4747eb"/><path d="M152.4,215.4L153.8,215.9L151.3,214.9L150,214.2Z" fill="#3875fe"/><path d="M105,192.2L106.4,189.1L103.9,186.4L102.6,189.1Z" fill="#3fca8e"/><path d="M101.9,214.7L103.3,212L100.8,208L99.4,210.7Z" fill="#3875fe"/><path d="M103.5,202L104.8,199.2L102.3,198.1L101,201.5Z" fill="#08b5d0"/><path d="M83.6,221.5L84.9,221.3L82.5,214.3L81.1,214.5Z" fill="#484df0"/><path d="M163.2,200.6L164.5,200.4L162,200L160.7,200.2Z" fill="#01b8ca"/><path d="M110.6,173L111.9,174.6L109.5,171.6L108.1,169.9Z" fill="#fccf30"/><path d="M157.6,216.7L158.9,216.8L156.5,216.3L155.1,216.1Z" fill="#3e6fff"/><path d="M78.4,214.2L79.8,214.5L77.3,216.3L76,216Z" fill="#2f81fa"/><path d="M106.4,189.1L107.7,186.3L105.2,183.5L103.9,186.4Z" fill="#64cd6f"/><path d="M103.3,212L104.6,208.9L102.1,205L100.8,208Z" fill="#2e87f7"/><path d="M87.4,220.6L88.7,220.2L86.3,220.9L84.9,221.3Z" fill="#465efb"/><path d="M93.9,223.1L95.2,222.6L92.8,218.9L91.4,219.4Z" fill="#4747eb"/><path d="M104.8,199.2L106.1,196.6L103.7,194.9L102.3,198.1Z" fill="#0bbdbd"/><path d="M128.3,192.4L129.6,194.1L127.2,192.1L125.8,190.3Z" fill="#4acb84"/><path d="M106.6,180.7L107.9,175.3L105.5,172.3L104.1,177.9Z" fill="#d1bf27"/><path d="M124.5,188.9L125.8,190.3L123.3,187.7L122,186.2Z" fill="#72cd64"/><path d="M161.8,201L163.2,200.6L160.7,200.2L159.4,200.6Z" fill="#02bac3"/><path d="M82.2,221.5L83.6,221.5L81.1,214.5L79.8,214.5Z" fill="#4852f4"/><path d="M120.7,184.8L122,186.2L119.5,183.4L118.2,181.9Z" fill="#abc739"/><path d="M107.7,186.3L109,183.4L106.6,180.7L105.2,183.5Z" fill="#8fcb4e"/><path d="M164.1,217L165.4,213.4L162.9,213.4L161.6,216.9Z" fill="#3e6fff"/><path d="M106.1,196.6L107.5,194.3L105,192.2L103.7,194.9Z" fill="#24c1ae"/><path d="M132.1,194.5L133.4,196.8L131,196.4L129.6,194.1Z" fill="#37c897"/><path d="M162.7,217L164.1,217L161.6,216.9L160.3,216.8Z" fill="#3e6fff"/><path d="M104.6,208.9L105.9,205.7L103.5,202L102.1,205Z" fill="#2797eb"/><path d="M116.9,180.5L118.2,181.9L115.7,179.1L114.4,177.6Z" fill="#e6bb2d"/><path d="M156.2,216.6L157.6,216.7L155.1,216.1L153.8,215.9Z" fill="#3875fe"/><path d="M92.5,223.5L93.9,223.1L91.4,219.4L90.1,219.8Z" fill="#4747eb"/><path d="M168.3,200.2L169.6,199.9L167.2,199.8L165.8,200.1Z" fill="#0bbdbd"/><path d="M162.9,213.4L164.3,201.2L161.8,201L160.5,213.2Z" fill="#327cfc"/><path d="M151.1,214.4L152.4,215.4L150,214.2L148.6,212.7Z" fill="#2f81fa"/><path d="M86.1,220.8L87.4,220.6L84.9,221.3L83.6,221.5Z" fill="#465efb"/><path d="M147.3,209.8L148.6,212.7L146.2,211L144.8,207.6Z" fill="#259be8"/><path d="M77.1,213.9L78.4,214.2L76,216L74.6,215.8Z" fill="#2e87f7"/><path d="M100.4,219.4L101.7,217.3L99.2,219.5L97.9,221.7Z" fill="#4563fd"/><path d="M113.1,176.1L114.4,177.6L111.9,174.6L110.6,173Z" fill="#fec338"/><path d="M107.5,194.3L108.8,191.5L106.4,189.1L105,192.2Z" fill="#37c897"/><path d="M101.7,217.3L103,215.1L100.6,217.2L99.2,219.5Z" fill="#3e6fff"/><path d="M99,219.9L100.4,219.4L97.9,221.7L96.6,222.2Z" fill="#4563fd"/><path d="M105.9,205.7L107.3,202.5L104.8,199.2L103.5,202Z" fill="#1ca9df"/><path d="M103,215.1L104.4,212.8L101.9,214.7L100.6,217.2Z" fill="#2f81fa"/><path d="M80.9,221.2L82.2,221.5L79.8,214.5L78.4,214.2Z" fill="#4758f8"/><path d="M135.9,194.5L137.2,198.7L134.8,200L133.4,196.8Z" fill="#4acb84"/><path d="M91.2,223.9L92.5,223.5L90.1,219.8L88.7,220.2Z" fill="#4747eb"/><path d="M161.4,217L162.7,217L160.3,216.8L158.9,216.8Z" fill="#3875fe"/><path d="M108.8,191.5L110.2,188.8L107.7,186.3L106.4,189.1Z" fill="#57cc7a"/><path d="M167,200.5L168.3,200.2L165.8,200.1L164.5,200.4Z" fill="#0bbdbd"/><path d="M109,183.4L110.4,178.3L107.9,175.3L106.6,180.7Z" fill="#b9c431"/><path d="M84.7,220.8L86.1,220.8L83.6,221.5L82.2,221.5Z" fill="#465efb"/><path d="M143.5,202.2L144.8,207.6L142.4,206.8L141,202Z" fill="#02bac3"/><path d="M104.4,212.8L105.7,210.3L103.3,212L101.9,214.7Z" fill="#2d8cf3"/><path d="M109.3,169.9L110.6,173L108.1,169.9L106.8,166.7Z" fill="#f6ef20"/><path d="M154.9,216.3L156.2,216.6L153.8,215.9L152.4,215.4Z" fill="#327cfc"/><path d="M107.3,202.5L108.6,199.5L106.1,196.6L104.8,199.2Z" fill="#08b5d0"/><path d="M97.7,220.3L99,219.9L96.6,222.2L95.2,222.6Z" fill="#4563fd"/><path d="M75.8,213.9L77.1,213.9L74.6,215.8L73.3,215.7Z" fill="#2e87f7"/><path d="M123.1,187.6L124.5,188.9L122,186.2L120.7,184.8Z" fill="#8fcb4e"/><path d="M126.9,191.2L128.3,192.4L125.8,190.3L124.5,188.9Z" fill="#64cd6f"/><path d="M110.2,188.8L111.5,186.2L109,183.4L107.7,186.3Z" fill="#81cc59"/><path d="M119.3,183.5L120.7,184.8L118.2,181.9L116.9,180.5Z" fill="#d1bf27"/><path d="M107.9,175.3L109.3,169.9L106.8,166.7L105.5,172.3Z" fill="#fec338"/><path d="M139.7,196L141,202L138.6,203.1L137.2,198.7Z" fill="#3fca8e"/><path d="M89.9,224.3L91.2,223.9L88.7,220.2L87.4,220.6Z" fill="#484df0"/><path d="M105.7,210.3L107.1,207.6L104.6,208.9L103.3,212Z" fill="#259be8"/><path d="M108.6,199.5L110,196.9L107.5,194.3L106.1,196.6Z" fill="#0bbdbd"/><path d="M165.6,200.8L167,200.5L164.5,200.4L163.2,200.6Z" fill="#0bbdbd"/><path d="M115.5,179.2L116.9,180.5L114.4,177.6L113.1,176.1Z" fill="#f8ba3d"/><path d="M160.1,217.1L161.4,217L158.9,216.8L157.6,216.7Z" fill="#3875fe"/><path d="M130.7,193.2L132.1,194.5L129.6,194.1L128.3,192.4Z" fill="#57cc7a"/><path d="M79.6,221L80.9,221.2L78.4,214.2L77.1,213.9Z" fill="#465efb"/><path d="M96.3,220.8L97.7,220.3L95.2,222.6L93.9,223.1Z" fill="#4563fd"/><path d="M110,196.9L111.3,194.1L108.8,191.5L107.5,194.3Z" fill="#2cc4a7"/><path d="M149.8,212.5L151.1,214.4L148.6,212.7L147.3,209.8Z" fill="#2b91ef"/><path d="M83.4,220.5L84.7,220.8L82.2,221.5L80.9,221.2Z" fill="#4563fd"/><path d="M107.1,207.6L108.4,205L105.9,205.7L104.6,208.9Z" fill="#1ca9df"/><path d="M88.5,224.5L89.9,224.3L87.4,220.6L86.1,220.8Z" fill="#484df0"/><path d="M153.6,215.7L154.9,216.3L152.4,215.4L151.1,214.4Z" fill="#2f81fa"/><path d="M111.7,173.2L113.1,176.1L110.6,173L109.3,169.9Z" fill="#f7dc2a"/><path d="M111.5,186.2L112.8,181.3L110.4,178.3L109,183.4Z" fill="#abc739"/><path d="M164.3,201.2L165.6,200.8L163.2,200.6L161.8,201Z" fill="#0bbdbd"/><path d="M111.3,194.1L112.6,191.5L110.2,188.8L108.8,191.5Z" fill="#3fca8e"/><path d="M95,221.2L96.3,220.8L93.9,223.1L92.5,223.5Z" fill="#4563fd"/><path d="M108.4,205L109.7,202.8L107.3,202.5L105.9,205.7Z" fill="#12b1d6"/><path d="M158.7,217L160.1,217.1L157.6,216.7L156.2,216.6Z" fill="#327cfc"/><path d="M102.8,223.4L104.2,221.4L101.7,217.3L100.4,219.4Z" fill="#4852f4"/><path d="M110.4,178.3L111.7,173.2L109.3,169.9L107.9,175.3Z" fill="#f8ba3d"/><path d="M125.6,190.2L126.9,191.2L124.5,188.9L123.1,187.6Z" fill="#81cc59"/><path d="M78.2,221L79.6,221L77.1,213.9L75.8,213.9Z" fill="#465efb"/><path d="M121.8,186.4L123.1,187.6L120.7,184.8L119.3,183.5Z" fill="#b9c431"/><path d="M104.2,221.4L105.5,219.3L103,215.1L101.7,217.3Z" fill="#465efb"/><path d="M112.6,191.5L114,188.9L111.5,186.2L110.2,188.8Z" fill="#64cd6f"/><path d="M165.4,213.4L166.8,201.2L164.3,201.2L162.9,213.4Z" fill="#2e87f7"/><path d="M170.8,200.1L172.1,199.8L169.6,199.9L168.3,200.2Z" fill="#24c1ae"/><path d="M101.5,223.8L102.8,223.4L100.4,219.4L99,219.9Z" fill="#4852f4"/><path d="M118,182.3L119.3,183.5L116.9,180.5L115.5,179.2Z" fill="#e6bb2d"/><path d="M105.5,219.3L106.8,217.1L104.4,212.8L103,215.1Z" fill="#4269fe"/><path d="M109.7,202.8L111.1,200.7L108.6,199.5L107.3,202.5Z" fill="#02bac3"/><path d="M82,220.3L83.4,220.5L80.9,221.2L79.6,221Z" fill="#4269fe"/><path d="M87.2,224.5L88.5,224.5L86.1,220.8L84.7,220.8Z" fill="#484df0"/><path d="M146,205.2L147.3,209.8L144.8,207.6L143.5,202.2Z" fill="#08b5d0"/><path d="M134.5,192L135.9,194.5L133.4,196.8L132.1,194.5Z" fill="#72cd64"/><path d="M129.4,192.6L130.7,193.2L128.3,192.4L126.9,191.2Z" fill="#64cd6f"/><path d="M93.7,221.6L95,221.2L92.5,223.5L91.2,223.9Z" fill="#4563fd"/><path d="M106.8,217.1L108.2,214.6L105.7,210.3L104.4,212.8Z" fill="#3875fe"/><path d="M111.1,200.7L112.4,198.8L110,196.9L108.6,199.5Z" fill="#19bfb6"/><path d="M166.5,213.8L167.9,210.9L165.4,213.4L164.1,217Z" fill="#2b91ef"/><path d="M165.2,214L166.5,213.8L164.1,217L162.7,217Z" fill="#2b91ef"/><path d="M114.2,176.5L115.5,179.2L113.1,176.1L111.7,173.2Z" fill="#fccf30"/><path d="M100.1,224.3L101.5,223.8L99,219.9L97.7,220.3Z" fill="#4852f4"/><path d="M112.4,198.8L113.8,196.4L111.3,194.1L110,196.9Z" fill="#2cc4a7"/><path d="M157.4,216.9L158.7,217L156.2,216.6L154.9,216.3Z" fill="#2f81fa"/><path d="M108.2,214.6L109.5,211.8L107.1,207.6L105.7,210.3Z" fill="#2e87f7"/><path d="M169.4,200.4L170.8,200.1L168.3,200.2L167,200.5Z" fill="#24c1ae"/><path d="M114,188.9L115.3,184.3L112.8,181.3L111.5,186.2Z" fill="#8fcb4e"/><path d="M152.2,214.5L153.6,215.7L151.1,214.4L149.8,212.5Z" fill="#2d8cf3"/><path d="M112.8,181.3L114.2,176.5L111.7,173.2L110.4,178.3Z" fill="#e6bb2d"/><path d="M92.3,222L93.7,221.6L91.2,223.9L89.9,224.3Z" fill="#4563fd"/><path d="M113.8,196.4L115.1,194L112.6,191.5L111.3,194.1Z" fill="#37c897"/><path d="M80.7,220.2L82,220.3L79.6,221L78.2,221Z" fill="#3e6fff"/><path d="M85.8,224.2L87.2,224.5L84.7,220.8L83.4,220.5Z" fill="#4852f4"/><path d="M109.5,211.8L110.9,209L108.4,205L107.1,207.6Z" fill="#2797eb"/><path d="M124.3,189.3L125.6,190.2L123.1,187.6L121.8,186.4Z" fill="#9dc943"/><path d="M120.5,185.3L121.8,186.4L119.3,183.5L118,182.3Z" fill="#d1bf27"/><path d="M98.8,224.7L100.1,224.3L97.7,220.3L96.3,220.8Z" fill="#4852f4"/><path d="M163.9,214.1L165.2,214L162.7,217L161.4,217Z" fill="#2b91ef"/><path d="M115.1,194L116.4,191.6L114,188.9L112.6,191.5Z" fill="#57cc7a"/><path d="M168.1,200.8L169.4,200.4L167,200.5L165.6,200.8Z" fill="#24c1ae"/><path d="M148.4,209.4L149.8,212.5L147.3,209.8L146,205.2Z" fill="#1ca9df"/><path d="M128.1,192.2L129.4,192.6L126.9,191.2L125.6,190.2Z" fill="#72cd64"/><path d="M110.9,209L112.2,206.2L109.7,202.8L108.4,205Z" fill="#20a5e3"/><path d="M105.3,223L106.6,221.1L104.2,221.4L102.8,223.4Z" fill="#465efb"/><path d="M106.6,221.1L108,219.2L105.5,219.3L104.2,221.4Z" fill="#4269fe"/><path d="M156,216.5L157.4,216.9L154.9,216.3L153.6,215.7Z" fill="#2e87f7"/><path d="M91,222.2L92.3,222L89.9,224.3L88.5,224.5Z" fill="#4269fe"/><path d="M108,219.2L109.3,217.2L106.8,217.1L105.5,219.3Z" fill="#3875fe"/><path d="M142.2,195.4L143.5,202.2L141,202L139.7,196Z" fill="#64cd6f"/><path d="M116.6,179.7L118,182.3L115.5,179.2L114.2,176.5Z" fill="#fec338"/><path d="M112.2,206.2L113.5,203.6L111.1,200.7L109.7,202.8Z" fill="#12b1d6"/><path d="M104,223.5L105.3,223L102.8,223.4L101.5,223.8Z" fill="#465efb"/><path d="M138.4,190.6L139.7,196L137.2,198.7L135.9,194.5Z" fill="#abc739"/><path d="M133.2,191.5L134.5,192L132.1,194.5L130.7,193.2Z" fill="#8fcb4e"/><path d="M97.5,225.2L98.8,224.7L96.3,220.8L95,221.2Z" fill="#4852f4"/><path d="M109.3,217.2L110.6,214.8L108.2,214.6L106.8,217.1Z" fill="#2f81fa"/><path d="M113.5,203.6L114.9,201.4L112.4,198.8L111.1,200.7Z" fill="#02bac3"/><path d="M84.5,224L85.8,224.2L83.4,220.5L82,220.3Z" fill="#4758f8"/><path d="M116.4,191.6L117.8,187.3L115.3,184.3L114,188.9Z" fill="#72cd64"/><path d="M166.8,201.2L168.1,200.8L165.6,200.8L164.3,201.2Z" fill="#24c1ae"/><path d="M162.5,214.2L163.9,214.1L161.4,217L160.1,217.1Z" fill="#2797eb"/><path d="M115.3,184.3L116.6,179.7L114.2,176.5L112.8,181.3Z" fill="#d1bf27"/><path d="M114.9,201.4L116.2,198.9L113.8,196.4L112.4,198.8Z" fill="#19bfb6"/><path d="M110.6,214.8L112,210.9L109.5,211.8L108.2,214.6Z" fill="#2d8cf3"/><path d="M102.6,223.8L104,223.5L101.5,223.8L100.1,224.3Z" fill="#465efb"/><path d="M89.6,222.2L91,222.2L88.5,224.5L87.2,224.5Z" fill="#4269fe"/><path d="M116.2,198.9L117.6,196.6L115.1,194L113.8,196.4Z" fill="#31c69f"/><path d="M122.9,188.3L124.3,189.3L121.8,186.4L120.5,185.3Z" fill="#b9c431"/><path d="M96.1,225.6L97.5,225.2L95,221.2L93.7,221.6Z" fill="#4852f4"/><path d="M150.9,212.6L152.2,214.5L149.8,212.5L148.4,209.4Z" fill="#259be8"/><path d="M126.7,191.8L128.1,192.2L125.6,190.2L124.3,189.3Z" fill="#81cc59"/><path d="M117.6,196.6L118.9,194.3L116.4,191.6L115.1,194Z" fill="#3fca8e"/><path d="M173.2,199.9L174.6,199.6L172.1,199.8L170.8,200.1Z" fill="#31c69f"/><path d="M154.7,215.7L156,216.5L153.6,215.7L152.2,214.5Z" fill="#2d8cf3"/><path d="M131.9,192.2L133.2,191.5L130.7,193.2L129.4,192.6Z" fill="#81cc59"/><path d="M161.2,214.3L162.5,214.2L160.1,217.1L158.7,217Z" fill="#2797eb"/><path d="M167.9,210.9L169.2,201L166.8,201.2L165.4,213.4Z" fill="#23a0e5"/><path d="M83.2,223.9L84.5,224L82,220.3L80.7,220.2Z" fill="#465efb"/><path d="M119.1,183L120.5,185.3L118,182.3L116.6,179.7Z" fill="#f0ba36"/><path d="M107.8,228.3L109.1,226.6L106.6,221.1L105.3,223Z" fill="#4741e5"/><path d="M109.1,226.6L110.4,224.8L108,219.2L106.6,221.1Z" fill="#484df0"/><path d="M110.4,224.8L111.8,222.8L109.3,217.2L108,219.2Z" fill="#4758f8"/><path d="M112,210.9L113.3,207.3L110.9,209L109.5,211.8Z" fill="#20a5e3"/><path d="M111.6,231.7L112.9,230L110.4,224.8L109.1,226.6Z" fill="#4332cb"/><path d="M112.9,230L114.2,228.2L111.8,222.8L110.4,224.8Z" fill="#463cde"/><path d="M110.2,233.4L111.6,231.7L109.1,226.6L107.8,228.3Z" fill="#402ab4"/><path d="M94.8,226L96.1,225.6L93.7,221.6L92.3,222Z" fill="#4852f4"/><path d="M111.8,222.8L113.1,220.5L110.6,214.8L109.3,217.2Z" fill="#465efb"/><path d="M101.3,222.6L102.6,223.8L100.1,224.3L98.8,224.7Z" fill="#4269fe"/><path d="M106.4,228.8L107.8,228.3L105.3,223L104,223.5Z" fill="#4741e5"/><path d="M114.2,228.2L115.6,225.8L113.1,220.5L111.8,222.8Z" fill="#4741e5"/><path d="M117.8,187.3L119.1,183L116.6,179.7L115.3,184.3Z" fill="#b9c431"/><path d="M88.3,221.9L89.6,222.2L87.2,224.5L85.8,224.2Z" fill="#3e6fff"/><path d="M118.9,194.3L120.2,190.3L117.8,187.3L116.4,191.6Z" fill="#64cd6f"/><path d="M171.9,200.3L173.2,199.9L170.8,200.1L169.4,200.4Z" fill="#31c69f"/><path d="M108.9,233.9L110.2,233.4L107.8,228.3L106.4,228.8Z" fill="#402ab4"/><path d="M113.3,207.3L114.7,205.6L112.2,206.2L110.9,209Z" fill="#08b5d0"/><path d="M144.6,199.3L146,205.2L143.5,202.2L142.2,195.4Z" fill="#37c897"/><path d="M114.7,205.6L116,204.4L113.5,203.6L112.2,206.2Z" fill="#02bac3"/><path d="M130.5,193.1L131.9,192.2L129.4,192.6L128.1,192.2Z" fill="#81cc59"/><path d="M116,204.4L117.3,203L114.9,201.4L113.5,203.6Z" fill="#0bbdbd"/><path d="M159.8,214.4L161.2,214.3L158.7,217L157.4,216.9Z" fill="#259be8"/><path d="M117.3,203L118.7,201L116.2,198.9L114.9,201.4Z" fill="#19bfb6"/><path d="M125.4,191.1L126.7,191.8L124.3,189.3L122.9,188.3Z" fill="#9dc943"/><path d="M93.4,226.2L94.8,226L92.3,222L91,222.2Z" fill="#4852f4"/><path d="M105.1,229L106.4,228.8L104,223.5L102.6,223.8Z" fill="#4741e5"/><path d="M118.7,201L120,199L117.6,196.6L116.2,198.9Z" fill="#2cc4a7"/><path d="M113.1,220.5L114.5,215L112,210.9L110.6,214.8Z" fill="#3e6fff"/><path d="M170.6,200.6L171.9,200.3L169.4,200.4L168.1,200.8Z" fill="#31c69f"/><path d="M121.6,186.2L122.9,188.3L120.5,185.3L119.1,183Z" fill="#dcbd29"/><path d="M120,199L121.4,196.9L118.9,194.3L117.6,196.6Z" fill="#37c897"/><path d="M107.5,234.1L108.9,233.9L106.4,228.8L105.1,229Z" fill="#422ec0"/><path d="M99.9,221.5L101.3,222.6L98.8,224.7L97.5,225.2Z" fill="#327cfc"/><path d="M147.1,205.3L148.4,209.4L146,205.2L144.6,199.3Z" fill="#02bac3"/><path d="M153.4,214.3L154.7,215.7L152.2,214.5L150.9,212.6Z" fill="#259be8"/><path d="M169,210.7L170.3,209.1L167.9,210.9L166.5,213.8Z" fill="#1ca9df"/><path d="M115.6,225.8L116.9,220.1L114.5,215L113.1,220.5Z" fill="#4852f4"/><path d="M87,221.7L88.3,221.9L85.8,224.2L84.5,224Z" fill="#3875fe"/><path d="M137,187.9L138.4,190.6L135.9,194.5L134.5,192Z" fill="#dcbd29"/><path d="M129.2,193.7L130.5,193.1L128.1,192.2L126.7,191.8Z" fill="#81cc59"/><path d="M120.2,190.3L121.6,186.2L119.1,183L117.8,187.3Z" fill="#9dc943"/><path d="M167.7,211L169,210.7L166.5,213.8L165.2,214Z" fill="#18addb"/><path d="M158.5,214.2L159.8,214.4L157.4,216.9L156,216.5Z" fill="#23a0e5"/><path d="M92.1,226.2L93.4,226.2L91,222.2L89.6,222.2Z" fill="#4758f8"/><path d="M121.4,196.9L122.7,193.1L120.2,190.3L118.9,194.3Z" fill="#4acb84"/><path d="M175.7,202.8L177,202.4L174.6,199.6L173.2,199.9Z" fill="#24c1ae"/><path d="M169.2,201L170.6,200.6L168.1,200.8L166.8,201.2Z" fill="#31c69f"/><path d="M149.6,209.9L150.9,212.6L148.4,209.4L147.1,205.3Z" fill="#18addb"/><path d="M115.4,227.5L116.7,225.7L114.2,228.2L112.9,230Z" fill="#4758f8"/><path d="M98.6,221.8L99.9,221.5L97.5,225.2L96.1,225.6Z" fill="#327cfc"/><path d="M114,229L115.4,227.5L112.9,230L111.6,231.7Z" fill="#484df0"/><path d="M103.7,226.2L105.1,229L102.6,223.8L101.3,222.6Z" fill="#465efb"/><path d="M116.7,225.7L118,223.6L115.6,225.8L114.2,228.2Z" fill="#465efb"/><path d="M85.6,221.7L87,221.7L84.5,224L83.2,223.9Z" fill="#327cfc"/><path d="M112.7,230.6L114,229L111.6,231.7L110.2,233.4Z" fill="#4747eb"/><path d="M114.5,215L115.8,209.7L113.3,207.3L112,210.9Z" fill="#2b91ef"/><path d="M166.3,211.2L167.7,211L165.2,214L163.9,214.1Z" fill="#18addb"/><path d="M124,189.3L125.4,191.1L122.9,188.3L121.6,186.2Z" fill="#c5c22a"/><path d="M127.8,193.6L129.2,193.7L126.7,191.8L125.4,191.1Z" fill="#81cc59"/><path d="M140.8,189.5L142.2,195.4L139.7,196L138.4,190.6Z" fill="#d1bf27"/><path d="M174.4,203.2L175.7,202.8L173.2,199.9L171.9,200.3Z" fill="#24c1ae"/><path d="M119.8,205.2L121.2,203.3L118.7,201L117.3,203Z" fill="#0bbdbd"/><path d="M121.2,203.3L122.5,201.4L120,199L118.7,201Z" fill="#24c1ae"/><path d="M118.5,206.6L119.8,205.2L117.3,203L116,204.4Z" fill="#02bac3"/><path d="M90.8,225.9L92.1,226.2L89.6,222.2L88.3,221.9Z" fill="#465efb"/><path d="M111.3,231L112.7,230.6L110.2,233.4L108.9,233.9Z" fill="#4747eb"/><path d="M106.2,231.3L107.5,234.1L105.1,229L103.7,226.2Z" fill="#4741e5"/><path d="M122.5,201.4L123.8,199.4L121.4,196.9L120,199Z" fill="#31c69f"/><path d="M157.2,213.9L158.5,214.2L156,216.5L154.7,215.7Z" fill="#20a5e3"/><path d="M122.7,193.1L124,189.3L121.6,186.2L120.2,190.3Z" fill="#81cc59"/><path d="M170.3,209.1L171.7,204L169.2,201L167.9,210.9Z" fill="#12b1d6"/><path d="M117.1,207.9L118.5,206.6L116,204.4L114.7,205.6Z" fill="#08b5d0"/><path d="M97.3,222.1L98.6,221.8L96.1,225.6L94.8,226Z" fill="#327cfc"/><path d="M135.7,188.2L137,187.9L134.5,192L133.2,191.5Z" fill="#dcbd29"/><path d="M115.8,209.7L117.1,207.9L114.7,205.6L113.3,207.3Z" fill="#12b1d6"/><path d="M178.2,205.8L179.5,205.4L177,202.4L175.7,202.8Z" fill="#0bbdbd"/><path d="M116.9,220.1L118.3,214.4L115.8,209.7L114.5,215Z" fill="#327cfc"/><path d="M165,211.4L166.3,211.2L163.9,214.1L162.5,214.2Z" fill="#18addb"/><path d="M152,212.3L153.4,214.3L150.9,212.6L149.6,209.9Z" fill="#1ca9df"/><path d="M173,203.5L174.4,203.2L171.9,200.3L170.6,200.6Z" fill="#24c1ae"/><path d="M123.8,199.4L125.2,195.9L122.7,193.1L121.4,196.9Z" fill="#3fca8e"/><path d="M118,223.6L119.4,218.3L116.9,220.1L115.6,225.8Z" fill="#3e6fff"/><path d="M110,231.2L111.3,231L108.9,233.9L107.5,234.1Z" fill="#4747eb"/><path d="M134.3,190.6L135.7,188.2L133.2,191.5L131.9,192.2Z" fill="#b9c431"/><path d="M133,193.3L134.3,190.6L131.9,192.2L130.5,193.1Z" fill="#8fcb4e"/><path d="M95.9,222.3L97.3,222.1L94.8,226L93.4,226.2Z" fill="#327cfc"/><path d="M131.7,195.1L133,193.3L130.5,193.1L129.2,193.7Z" fill="#81cc59"/><path d="M89.4,225.6L90.8,225.9L88.3,221.9L87,221.7Z" fill="#4563fd"/><path d="M126.5,192.2L127.8,193.6L125.4,191.1L124,189.3Z" fill="#abc739"/><path d="M176.8,206.2L178.2,205.8L175.7,202.8L174.4,203.2Z" fill="#0bbdbd"/><path d="M171.7,204L173,203.5L170.6,200.6L169.2,201Z" fill="#24c1ae"/><path d="M163.6,211.6L165,211.4L162.5,214.2L161.2,214.3Z" fill="#12b1d6"/><path d="M155.8,213.1L157.2,213.9L154.7,215.7L153.4,214.3Z" fill="#1ca9df"/><path d="M102.4,223.4L103.7,226.2L101.3,222.6L99.9,221.5Z" fill="#3875fe"/><path d="M125.2,195.9L126.5,192.2L124,189.3L122.7,193.1Z" fill="#72cd64"/><path d="M118.3,214.4L119.6,211.7L117.1,207.9L115.8,209.7Z" fill="#23a0e5"/><path d="M130.3,195.9L131.7,195.1L129.2,193.7L127.8,193.6Z" fill="#72cd64"/><path d="M122.3,207.6L123.6,205.6L121.2,203.3L119.8,205.2Z" fill="#02bac3"/><path d="M120.9,209.5L122.3,207.6L119.8,205.2L118.5,206.6Z" fill="#08b5d0"/><path d="M119.6,211.7L120.9,209.5L118.5,206.6L117.1,207.9Z" fill="#1ca9df"/><path d="M123.6,205.6L125,203.7L122.5,201.4L121.2,203.3Z" fill="#19bfb6"/><path d="M125,203.7L126.3,201.8L123.8,199.4L122.5,201.4Z" fill="#24c1ae"/><path d="M148.2,207.3L149.6,209.9L147.1,205.3L145.7,201.6Z" fill="#02bac3"/><path d="M143.3,194.2L144.6,199.3L142.2,195.4L140.8,189.5Z" fill="#9dc943"/><path d="M94.6,222.3L95.9,222.3L93.4,226.2L92.1,226.2Z" fill="#2f81fa"/><path d="M145.7,201.6L147.1,205.3L144.6,199.3L143.3,194.2Z" fill="#37c897"/><path d="M175.5,206.6L176.8,206.2L174.4,203.2L173,203.5Z" fill="#0bbdbd"/><path d="M88.1,225.6L89.4,225.6L87,221.7L85.6,221.7Z" fill="#4563fd"/><path d="M126.3,201.8L127.6,198.5L125.2,195.9L123.8,199.4Z" fill="#31c69f"/><path d="M162.3,211.8L163.6,211.6L161.2,214.3L159.8,214.4Z" fill="#12b1d6"/><path d="M108.7,228.5L110,231.2L107.5,234.1L106.2,231.3Z" fill="#465efb"/><path d="M104.9,228.5L106.2,231.3L103.7,226.2L102.4,223.4Z" fill="#4758f8"/><path d="M119.4,218.3L120.7,213.2L118.3,214.4L116.9,220.1Z" fill="#2b91ef"/><path d="M180.6,206L182,205.6L179.5,205.4L178.2,205.8Z" fill="#19bfb6"/><path d="M174.1,207L175.5,206.6L173,203.5L171.7,204Z" fill="#0bbdbd"/><path d="M150.7,210.3L152,212.3L149.6,209.9L148.2,207.3Z" fill="#08b5d0"/><path d="M171.5,207.8L172.8,207.4L170.3,209.1L169,210.7Z" fill="#0bbdbd"/><path d="M129,195L130.3,195.9L127.8,193.6L126.5,192.2Z" fill="#8fcb4e"/><path d="M172.8,207.4L174.1,207L171.7,204L170.3,209.1Z" fill="#0bbdbd"/><path d="M101.1,223.6L102.4,223.4L99.9,221.5L98.6,221.8Z" fill="#3875fe"/><path d="M93.2,222.1L94.6,222.3L92.1,226.2L90.8,225.9Z" fill="#2e87f7"/><path d="M139.5,186.7L140.8,189.5L138.4,190.6L137,187.9Z" fill="#f8ba3d"/><path d="M127.6,198.5L129,195L126.5,192.2L125.2,195.9Z" fill="#57cc7a"/><path d="M154.5,211.9L155.8,213.1L153.4,214.3L152,212.3Z" fill="#12b1d6"/><path d="M161,211.9L162.3,211.8L159.8,214.4L158.5,214.2Z" fill="#12b1d6"/><path d="M117.8,226.9L119.2,225.3L116.7,225.7L115.4,227.5Z" fill="#4563fd"/><path d="M119.2,225.3L120.5,223.3L118,223.6L116.7,225.7Z" fill="#3e6fff"/><path d="M179.3,206.5L180.6,206L178.2,205.8L176.8,206.2Z" fill="#19bfb6"/><path d="M116.5,228.3L117.8,226.9L115.4,227.5L114,229Z" fill="#465efb"/><path d="M170.1,208.1L171.5,207.8L169,210.7L167.7,211Z" fill="#0bbdbd"/><path d="M134.1,197L135.5,194.4L133,193.3L131.7,195.1Z" fill="#72cd64"/><path d="M115.2,229.8L116.5,228.3L114,229L112.7,230.6Z" fill="#4758f8"/><path d="M132.8,198.3L134.1,197L131.7,195.1L130.3,195.9Z" fill="#64cd6f"/><path d="M127.4,205.7L128.8,204L126.3,201.8L125,203.7Z" fill="#24c1ae"/><path d="M126.1,207.3L127.4,205.7L125,203.7L123.6,205.6Z" fill="#0bbdbd"/><path d="M124.7,209L126.1,207.3L123.6,205.6L122.3,207.6Z" fill="#02bac3"/><path d="M123.4,210.2L124.7,209L122.3,207.6L120.9,209.5Z" fill="#01b8ca"/><path d="M120.7,213.2L122.1,211.5L119.6,211.7L118.3,214.4Z" fill="#18addb"/><path d="M122.1,211.5L123.4,210.2L120.9,209.5L119.6,211.7Z" fill="#08b5d0"/><path d="M99.7,224L101.1,223.6L98.6,221.8L97.3,222.1Z" fill="#3875fe"/><path d="M135.5,194.4L136.8,190.8L134.3,190.6L133,193.3Z" fill="#9dc943"/><path d="M128.8,204L130.1,201L127.6,198.5L126.3,201.8Z" fill="#2cc4a7"/><path d="M113.8,230.2L115.2,229.8L112.7,230.6L111.3,231Z" fill="#4758f8"/><path d="M120.5,223.3L121.8,219.6L119.4,218.3L118,223.6Z" fill="#327cfc"/><path d="M178,206.9L179.3,206.5L176.8,206.2L175.5,206.6Z" fill="#19bfb6"/><path d="M91.9,221.8L93.2,222.1L90.8,225.9L89.4,225.6Z" fill="#2d8cf3"/><path d="M146.9,205.7L148.2,207.3L145.7,201.6L144.4,199.6Z" fill="#24c1ae"/><path d="M103.5,228.7L104.9,228.5L102.4,223.4L101.1,223.6Z" fill="#4758f8"/><path d="M168.8,208.5L170.1,208.1L167.7,211L166.3,211.2Z" fill="#0bbdbd"/><path d="M159.6,211.9L161,211.9L158.5,214.2L157.2,213.9Z" fill="#08b5d0"/><path d="M131.4,197.7L132.8,198.3L130.3,195.9L129,195Z" fill="#72cd64"/><path d="M138.1,187.6L139.5,186.7L137,187.9L135.7,188.2Z" fill="#f0ba36"/><path d="M136.8,190.8L138.1,187.6L135.7,188.2L134.3,190.6Z" fill="#d1bf27"/><path d="M98.4,224.2L99.7,224L97.3,222.1L95.9,222.3Z" fill="#327cfc"/><path d="M144.4,199.6L145.7,201.6L143.3,194.2L141.9,191.7Z" fill="#57cc7a"/><path d="M130.1,201L131.4,197.7L129,195L127.6,198.5Z" fill="#4acb84"/><path d="M149.3,208.8L150.7,210.3L148.2,207.3L146.9,205.7Z" fill="#0bbdbd"/><path d="M112.5,230.6L113.8,230.2L111.3,231L110,231.2Z" fill="#4758f8"/><path d="M176.6,207.4L178,206.9L175.5,206.6L174.1,207Z" fill="#19bfb6"/><path d="M107.3,225.7L108.7,228.5L106.2,231.3L104.9,228.5Z" fill="#327cfc"/><path d="M102.2,229L103.5,228.7L101.1,223.6L99.7,224Z" fill="#465efb"/><path d="M141.9,191.7L143.3,194.2L140.8,189.5L139.5,186.7Z" fill="#c5c22a"/><path d="M167.4,208.8L168.8,208.5L166.3,211.2L165,211.4Z" fill="#19bfb6"/><path d="M153.1,210.7L154.5,211.9L152,212.3L150.7,210.3Z" fill="#01b8ca"/><path d="M90.6,221.8L91.9,221.8L89.4,225.6L88.1,225.6Z" fill="#2d8cf3"/><path d="M136.6,199.8L137.9,197.7L135.5,194.4L134.1,197Z" fill="#57cc7a"/><path d="M135.2,200.8L136.6,199.8L134.1,197L132.8,198.3Z" fill="#4acb84"/><path d="M158.3,211.7L159.6,211.9L157.2,213.9L155.8,213.1Z" fill="#01b8ca"/><path d="M183.1,206.6L184.4,206.2L182,205.6L180.6,206Z" fill="#24c1ae"/><path d="M121.8,219.6L123.2,215.9L120.7,213.2L119.4,218.3Z" fill="#2b91ef"/><path d="M97,224.2L98.4,224.2L95.9,222.3L94.6,222.3Z" fill="#327cfc"/><path d="M129.9,207.6L131.2,206L128.8,204L127.4,205.7Z" fill="#19bfb6"/><path d="M175.3,207.8L176.6,207.4L174.1,207L172.8,207.4Z" fill="#19bfb6"/><path d="M128.5,209.2L129.9,207.6L127.4,205.7L126.1,207.3Z" fill="#0bbdbd"/><path d="M145.5,205L146.9,205.7L144.4,199.6L143.1,199.4Z" fill="#2cc4a7"/><path d="M127.2,210.8L128.5,209.2L126.1,207.3L124.7,209Z" fill="#01b8ca"/><path d="M100.8,229.3L102.2,229L99.7,224L98.4,224.2Z" fill="#465efb"/><path d="M131.2,206L132.6,203.2L130.1,201L128.8,204Z" fill="#2cc4a7"/><path d="M137.9,197.7L139.3,194.8L136.8,190.8L135.5,194.4Z" fill="#72cd64"/><path d="M166.1,209.1L167.4,208.8L165,211.4L163.6,211.6Z" fill="#19bfb6"/><path d="M125.9,212.2L127.2,210.8L124.7,209L123.4,210.2Z" fill="#08b5d0"/><path d="M124.5,213.9L125.9,212.2L123.4,210.2L122.1,211.5Z" fill="#18addb"/><path d="M133.9,200.3L135.2,200.8L132.8,198.3L131.4,197.7Z" fill="#64cd6f"/><path d="M181.8,207.1L183.1,206.6L180.6,206L179.3,206.5Z" fill="#24c1ae"/><path d="M111.1,229.4L112.5,230.6L110,231.2L108.7,228.5Z" fill="#4563fd"/><path d="M123.2,215.9L124.5,213.9L122.1,211.5L120.7,213.2Z" fill="#20a5e3"/><path d="M143.1,199.4L144.4,199.6L141.9,191.7L140.6,192.2Z" fill="#64cd6f"/><path d="M173.9,208.3L175.3,207.8L172.8,207.4L171.5,207.8Z" fill="#19bfb6"/><path d="M148,208.1L149.3,208.8L146.9,205.7L145.5,205Z" fill="#19bfb6"/><path d="M132.6,203.2L133.9,200.3L131.4,197.7L130.1,201Z" fill="#37c897"/><path d="M139.3,194.8L140.6,192.2L138.1,187.6L136.8,190.8Z" fill="#9dc943"/><path d="M139,203L140.4,202L137.9,197.7L136.6,199.8Z" fill="#3fca8e"/><path d="M140.6,192.2L141.9,191.7L139.5,186.7L138.1,187.6Z" fill="#c5c22a"/><path d="M140.4,202L141.7,200.6L139.3,194.8L137.9,197.7Z" fill="#4acb84"/><path d="M95.7,223.9L97,224.2L94.6,222.3L93.2,222.1Z" fill="#2f81fa"/><path d="M106,225.8L107.3,225.7L104.9,228.5L103.5,228.7Z" fill="#327cfc"/><path d="M144.2,205.1L145.5,205L143.1,199.4L141.7,200.6Z" fill="#31c69f"/><path d="M141.7,200.6L143.1,199.4L140.6,192.2L139.3,194.8Z" fill="#57cc7a"/><path d="M164.8,209.5L166.1,209.1L163.6,211.6L162.3,211.8Z" fill="#19bfb6"/><path d="M99.5,229.2L100.8,229.3L98.4,224.2L97,224.2Z" fill="#465efb"/><path d="M156.9,211.3L158.3,211.7L155.8,213.1L154.5,211.9Z" fill="#02bac3"/><path d="M151.8,209.9L153.1,210.7L150.7,210.3L149.3,208.8Z" fill="#0bbdbd"/><path d="M121.6,223.5L123,221.8L120.5,223.3L119.2,225.3Z" fill="#2e87f7"/><path d="M137.7,203.4L139,203L136.6,199.8L135.2,200.8Z" fill="#3fca8e"/><path d="M180.4,207.5L181.8,207.1L179.3,206.5L178,206.9Z" fill="#24c1ae"/><path d="M120.3,225L121.6,223.5L119.2,225.3L117.8,226.9Z" fill="#2f81fa"/><path d="M172.6,208.7L173.9,208.3L171.5,207.8L170.1,208.1Z" fill="#19bfb6"/><path d="M119,226.4L120.3,225L117.8,226.9L116.5,228.3Z" fill="#3875fe"/><path d="M142.9,205.4L144.2,205.1L141.7,200.6L140.4,202Z" fill="#31c69f"/><path d="M123,221.8L124.3,219.7L121.8,219.6L120.5,223.3Z" fill="#2b91ef"/><path d="M117.6,227.7L119,226.4L116.5,228.3L115.2,229.8Z" fill="#3e6fff"/><path d="M104.6,226.2L106,225.8L103.5,228.7L102.2,229Z" fill="#327cfc"/><path d="M146.7,207.7L148,208.1L145.5,205L144.2,205.1Z" fill="#24c1ae"/><path d="M163.4,209.8L164.8,209.5L162.3,211.8L161,211.9Z" fill="#19bfb6"/><path d="M132.4,209.2L133.7,207.8L131.2,206L129.9,207.6Z" fill="#19bfb6"/><path d="M179.1,208L180.4,207.5L178,206.9L176.6,207.4Z" fill="#24c1ae"/><path d="M94.4,223.6L95.7,223.9L93.2,222.1L91.9,221.8Z" fill="#2e87f7"/><path d="M98.2,229L99.5,229.2L97,224.2L95.7,223.9Z" fill="#4563fd"/><path d="M133.7,207.8L135,205.3L132.6,203.2L131.2,206Z" fill="#24c1ae"/><path d="M141.5,205.6L142.9,205.4L140.4,202L139,203Z" fill="#31c69f"/><path d="M131,210.7L132.4,209.2L129.9,207.6L128.5,209.2Z" fill="#02bac3"/><path d="M124.3,219.7L125.7,217.6L123.2,215.9L121.8,219.6Z" fill="#259be8"/><path d="M136.4,202.8L137.7,203.4L135.2,200.8L133.9,200.3Z" fill="#4acb84"/><path d="M116.3,228.1L117.6,227.7L115.2,229.8L113.8,230.2Z" fill="#3e6fff"/><path d="M171.3,209.2L172.6,208.7L170.1,208.1L168.8,208.5Z" fill="#19bfb6"/><path d="M129.7,212.2L131,210.7L128.5,209.2L127.2,210.8Z" fill="#01b8ca"/><path d="M185.6,207.7L186.9,207.3L184.4,206.2L183.1,206.6Z" fill="#2cc4a7"/><path d="M128.3,213.8L129.7,212.2L127.2,210.8L125.9,212.2Z" fill="#08b5d0"/><path d="M125.7,217.6L127,215.5L124.5,213.9L123.2,215.9Z" fill="#20a5e3"/><path d="M155.6,210.8L156.9,211.3L154.5,211.9L153.1,210.7Z" fill="#0bbdbd"/><path d="M127,215.5L128.3,213.8L125.9,212.2L124.5,213.9Z" fill="#18addb"/><path d="M135,205.3L136.4,202.8L133.9,200.3L132.6,203.2Z" fill="#37c897"/><path d="M150.5,209.4L151.8,209.9L149.3,208.8L148,208.1Z" fill="#19bfb6"/><path d="M103.3,226.4L104.6,226.2L102.2,229L100.8,229.3Z" fill="#327cfc"/><path d="M109.8,228.2L111.1,229.4L108.7,228.5L107.3,225.7Z" fill="#3e6fff"/><path d="M177.7,208.4L179.1,208L176.6,207.4L175.3,207.8Z" fill="#24c1ae"/><path d="M162.1,210.2L163.4,209.8L161,211.9L159.6,211.9Z" fill="#19bfb6"/><path d="M145.3,207.6L146.7,207.7L144.2,205.1L142.9,205.4Z" fill="#2cc4a7"/><path d="M140.2,205.7L141.5,205.6L139,203L137.7,203.4Z" fill="#37c897"/><path d="M114.9,228.6L116.3,228.1L113.8,230.2L112.5,230.6Z" fill="#3e6fff"/><path d="M169.9,209.6L171.3,209.2L168.8,208.5L167.4,208.8Z" fill="#19bfb6"/><path d="M93,223.6L94.4,223.6L91.9,221.8L90.6,221.8Z" fill="#2d8cf3"/><path d="M184.2,208.2L185.6,207.7L183.1,206.6L181.8,207.1Z" fill="#2cc4a7"/><path d="M96.8,228.7L98.2,229L95.7,223.9L94.4,223.6Z" fill="#4269fe"/><path d="M176.4,208.9L177.7,208.4L175.3,207.8L173.9,208.3Z" fill="#24c1ae"/><path d="M102,226.4L103.3,226.4L100.8,229.3L99.5,229.2Z" fill="#2f81fa"/><path d="M160.8,210.5L162.1,210.2L159.6,211.9L158.3,211.7Z" fill="#19bfb6"/><path d="M168.6,210.1L169.9,209.6L167.4,208.8L166.1,209.1Z" fill="#19bfb6"/><path d="M149.1,209.3L150.5,209.4L148,208.1L146.7,207.7Z" fill="#24c1ae"/><path d="M144,207.6L145.3,207.6L142.9,205.4L141.5,205.6Z" fill="#31c69f"/><path d="M182.9,208.6L184.2,208.2L181.8,207.1L180.4,207.5Z" fill="#2cc4a7"/><path d="M154.3,210.6L155.6,210.8L153.1,210.7L151.8,209.9Z" fill="#19bfb6"/><path d="M113.6,229L114.9,228.6L112.5,230.6L111.1,229.4Z" fill="#3e6fff"/><path d="M138.8,205.1L140.2,205.7L137.7,203.4L136.4,202.8Z" fill="#3fca8e"/><path d="M108.5,228.5L109.8,228.2L107.3,225.7L106,225.8Z" fill="#3e6fff"/><path d="M134.8,210.6L136.2,209.3L133.7,207.8L132.4,209.2Z" fill="#19bfb6"/><path d="M175.1,209.3L176.4,208.9L173.9,208.3L172.6,208.7Z" fill="#24c1ae"/><path d="M136.2,209.3L137.5,207.2L135,205.3L133.7,207.8Z" fill="#24c1ae"/><path d="M95.5,228.7L96.8,228.7L94.4,223.6L93,223.6Z" fill="#3e6fff"/><path d="M133.5,212L134.8,210.6L132.4,209.2L131,210.7Z" fill="#0bbdbd"/><path d="M137.5,207.2L138.8,205.1L136.4,202.8L135,205.3Z" fill="#31c69f"/><path d="M124.1,224.5L125.4,222.9L123,221.8L121.6,223.5Z" fill="#2d8cf3"/><path d="M125.4,222.9L126.8,221L124.3,219.7L123,221.8Z" fill="#2b91ef"/><path d="M167.2,210.5L168.6,210.1L166.1,209.1L164.8,209.5Z" fill="#19bfb6"/><path d="M100.6,226.1L102,226.4L99.5,229.2L98.2,229Z" fill="#2e87f7"/><path d="M181.5,209.1L182.9,208.6L180.4,207.5L179.1,208Z" fill="#2cc4a7"/><path d="M132.1,213.4L133.5,212L131,210.7L129.7,212.2Z" fill="#01b8ca"/><path d="M122.8,225.8L124.1,224.5L121.6,223.5L120.3,225Z" fill="#2f81fa"/><path d="M126.8,221L128.1,218.9L125.7,217.6L124.3,219.7Z" fill="#259be8"/><path d="M159.4,210.8L160.8,210.5L158.3,211.7L156.9,211.3Z" fill="#19bfb6"/><path d="M130.8,215L132.1,213.4L129.7,212.2L128.3,213.8Z" fill="#08b5d0"/><path d="M128.1,218.9L129.5,216.8L127,215.5L125.7,217.6Z" fill="#20a5e3"/><path d="M142.6,207.5L144,207.6L141.5,205.6L140.2,205.7Z" fill="#31c69f"/><path d="M129.5,216.8L130.8,215L128.3,213.8L127,215.5Z" fill="#18addb"/><path d="M121.4,227L122.8,225.8L120.3,225L119,226.4Z" fill="#327cfc"/><path d="M147.8,209.2L149.1,209.3L146.7,207.7L145.3,207.6Z" fill="#2cc4a7"/><path d="M107.1,228.9L108.5,228.5L106,225.8L104.6,226.2Z" fill="#3e6fff"/><path d="M173.7,209.8L175.1,209.3L172.6,208.7L171.3,209.2Z" fill="#24c1ae"/><path d="M152.9,210.5L154.3,210.6L151.8,209.9L150.5,209.4Z" fill="#24c1ae"/><path d="M112.3,229.5L113.6,229L111.1,229.4L109.8,228.2Z" fill="#3e6fff"/><path d="M120.1,228.2L121.4,227L119,226.4L117.6,227.7Z" fill="#3875fe"/><path d="M165.9,211L167.2,210.5L164.8,209.5L163.4,209.8Z" fill="#19bfb6"/><path d="M180.2,209.5L181.5,209.1L179.1,208L177.7,208.4Z" fill="#2cc4a7"/><path d="M172.4,210.2L173.7,209.8L171.3,209.2L169.9,209.6Z" fill="#24c1ae"/><path d="M118.7,228.7L120.1,228.2L117.6,227.7L116.3,228.1Z" fill="#3875fe"/><path d="M158.1,211.1L159.4,210.8L156.9,211.3L155.6,210.8Z" fill="#24c1ae"/><path d="M99.3,225.9L100.6,226.1L98.2,229L96.8,228.7Z" fill="#2d8cf3"/><path d="M105.8,229.1L107.1,228.9L104.6,226.2L103.3,226.4Z" fill="#3875fe"/><path d="M146.4,209.2L147.8,209.2L145.3,207.6L144,207.6Z" fill="#2cc4a7"/><path d="M141.3,207L142.6,207.5L140.2,205.7L138.8,205.1Z" fill="#37c897"/><path d="M164.6,211.4L165.9,211L163.4,209.8L162.1,210.2Z" fill="#19bfb6"/><path d="M110.9,229.9L112.3,229.5L109.8,228.2L108.5,228.5Z" fill="#3e6fff"/><path d="M178.9,210L180.2,209.5L177.7,208.4L176.4,208.9Z" fill="#2cc4a7"/><path d="M151.6,210.5L152.9,210.5L150.5,209.4L149.1,209.3Z" fill="#24c1ae"/><path d="M117.4,229.1L118.7,228.7L116.3,228.1L114.9,228.6Z" fill="#3875fe"/><path d="M171,210.7L172.4,210.2L169.9,209.6L168.6,210.1Z" fill="#24c1ae"/><path d="M138.6,210.6L140,208.8L137.5,207.2L136.2,209.3Z" fill="#24c1ae"/><path d="M140,208.8L141.3,207L138.8,205.1L137.5,207.2Z" fill="#31c69f"/><path d="M137.3,211.7L138.6,210.6L136.2,209.3L134.8,210.6Z" fill="#19bfb6"/><path d="M104.4,229.1L105.8,229.1L103.3,226.4L102,226.4Z" fill="#3875fe"/><path d="M156.7,211.4L158.1,211.1L155.6,210.8L154.3,210.6Z" fill="#24c1ae"/><path d="M97.9,225.9L99.3,225.9L96.8,228.7L95.5,228.7Z" fill="#2d8cf3"/><path d="M177.5,210.4L178.9,210L176.4,208.9L175.1,209.3Z" fill="#2cc4a7"/><path d="M163.2,211.9L164.6,211.4L162.1,210.2L160.8,210.5Z" fill="#19bfb6"/><path d="M109.6,230.3L110.9,229.9L108.5,228.5L107.1,228.9Z" fill="#3e6fff"/><path d="M135.9,212.8L137.3,211.7L134.8,210.6L133.5,212Z" fill="#0bbdbd"/><path d="M145.1,209.2L146.4,209.2L144,207.6L142.6,207.5Z" fill="#31c69f"/><path d="M116.1,229.6L117.4,229.1L114.9,228.6L113.6,229Z" fill="#3875fe"/><path d="M169.7,211.1L171,210.7L168.6,210.1L167.2,210.5Z" fill="#24c1ae"/><path d="M150.2,210.6L151.6,210.5L149.1,209.3L147.8,209.2Z" fill="#2cc4a7"/><path d="M134.6,213.8L135.9,212.8L133.5,212L132.1,213.4Z" fill="#0bbdbd"/><path d="M133.3,214.5L134.6,213.8L132.1,213.4L130.8,215Z" fill="#02bac3"/><path d="M176.2,210.9L177.5,210.4L175.1,209.3L173.7,209.8Z" fill="#2cc4a7"/><path d="M161.9,212.3L163.2,211.9L160.8,210.5L159.4,210.8Z" fill="#19bfb6"/><path d="M155.4,211.7L156.7,211.4L154.3,210.6L152.9,210.5Z" fill="#24c1ae"/><path d="M108.2,230.5L109.6,230.3L107.1,228.9L105.8,229.1Z" fill="#3875fe"/><path d="M103.1,228.8L104.4,229.1L102,226.4L100.6,226.1Z" fill="#327cfc"/><path d="M131.9,215.2L133.3,214.5L130.8,215L129.5,216.8Z" fill="#02bac3"/><path d="M168.4,211.6L169.7,211.1L167.2,210.5L165.9,211Z" fill="#24c1ae"/><path d="M114.7,230L116.1,229.6L113.6,229L112.3,229.5Z" fill="#3875fe"/><path d="M143.8,208.9L145.1,209.2L142.6,207.5L141.3,207Z" fill="#37c897"/><path d="M130.6,216L131.9,215.2L129.5,216.8L128.1,218.9Z" fill="#02bac3"/><path d="M148.9,210.8L150.2,210.6L147.8,209.2L146.4,209.2Z" fill="#2cc4a7"/><path d="M129.2,217.2L130.6,216L128.1,218.9L126.8,221Z" fill="#01b8ca"/><path d="M174.8,211.3L176.2,210.9L173.7,209.8L172.4,210.2Z" fill="#2cc4a7"/><path d="M127.9,218.5L129.2,217.2L126.8,221L125.4,222.9Z" fill="#12b1d6"/><path d="M160.5,212.8L161.9,212.3L159.4,210.8L158.1,211.1Z" fill="#19bfb6"/><path d="M126.6,219.8L127.9,218.5L125.4,222.9L124.1,224.5Z" fill="#18addb"/><path d="M154.1,212L155.4,211.7L152.9,210.5L151.6,210.5Z" fill="#24c1ae"/><path d="M142.4,210.4L143.8,208.9L141.3,207L140,208.8Z" fill="#31c69f"/><path d="M106.9,230.5L108.2,230.5L105.8,229.1L104.4,229.1Z" fill="#3875fe"/><path d="M167,212L168.4,211.6L165.9,211L164.6,211.4Z" fill="#24c1ae"/><path d="M113.4,230.4L114.7,230L112.3,229.5L110.9,229.9Z" fill="#3875fe"/><path d="M141.1,211.9L142.4,210.4L140,208.8L138.6,210.6Z" fill="#24c1ae"/><path d="M125.2,220.9L126.6,219.8L124.1,224.5L122.8,225.8Z" fill="#18addb"/><path d="M101.8,228.5L103.1,228.8L100.6,226.1L99.3,225.9Z" fill="#2f81fa"/><path d="M139.7,212.9L141.1,211.9L138.6,210.6L137.3,211.7Z" fill="#24c1ae"/><path d="M173.5,211.8L174.8,211.3L172.4,210.2L171,210.7Z" fill="#2cc4a7"/><path d="M147.6,210.9L148.9,210.8L146.4,209.2L145.1,209.2Z" fill="#31c69f"/><path d="M123.9,222L125.2,220.9L122.8,225.8L121.4,227Z" fill="#1ca9df"/><path d="M159.2,213.2L160.5,212.8L158.1,211.1L156.7,211.4Z" fill="#19bfb6"/><path d="M165.7,212.5L167,212L164.6,211.4L163.2,211.9Z" fill="#24c1ae"/><path d="M138.4,213.9L139.7,212.9L137.3,211.7L135.9,212.8Z" fill="#19bfb6"/><path d="M112,230.8L113.4,230.4L110.9,229.9L109.6,230.3Z" fill="#327cfc"/><path d="M152.7,212.3L154.1,212L151.6,210.5L150.2,210.6Z" fill="#24c1ae"/><path d="M122.5,223L123.9,222L121.4,227L120.1,228.2Z" fill="#20a5e3"/><path d="M105.6,230.2L106.9,230.5L104.4,229.1L103.1,228.8Z" fill="#327cfc"/><path d="M172.2,212.2L173.5,211.8L171,210.7L169.7,211.1Z" fill="#2cc4a7"/><path d="M137.1,214.9L138.4,213.9L135.9,212.8L134.6,213.8Z" fill="#0bbdbd"/><path d="M100.4,228.5L101.8,228.5L99.3,225.9L97.9,225.9Z" fill="#2e87f7"/><path d="M157.9,213.7L159.2,213.2L156.7,211.4L155.4,211.7Z" fill="#19bfb6"/><path d="M121.2,223.5L122.5,223L120.1,228.2L118.7,228.7Z" fill="#20a5e3"/><path d="M146.2,210.9L147.6,210.9L145.1,209.2L143.8,208.9Z" fill="#31c69f"/><path d="M164.3,212.9L165.7,212.5L163.2,211.9L161.9,212.3Z" fill="#24c1ae"/><path d="M110.7,231.1L112,230.8L109.6,230.3L108.2,230.5Z" fill="#327cfc"/><path d="M135.7,215.9L137.1,214.9L134.6,213.8L133.3,214.5Z" fill="#02bac3"/><path d="M151.4,212.6L152.7,212.3L150.2,210.6L148.9,210.8Z" fill="#2cc4a7"/><path d="M170.8,212.7L172.2,212.2L169.7,211.1L168.4,211.6Z" fill="#2cc4a7"/><path d="M156.5,214.1L157.9,213.7L155.4,211.7L154.1,212Z" fill="#19bfb6"/><path d="M144.9,212L146.2,210.9L143.8,208.9L142.4,210.4Z" fill="#2cc4a7"/><path d="M134.4,217.1L135.7,215.9L133.3,214.5L131.9,215.2Z" fill="#01b8ca"/><path d="M119.9,223.9L121.2,223.5L118.7,228.7L117.4,229.1Z" fill="#20a5e3"/><path d="M104.2,229.9L105.6,230.2L103.1,228.8L101.8,228.5Z" fill="#2f81fa"/><path d="M163,213.4L164.3,212.9L161.9,212.3L160.5,212.8Z" fill="#24c1ae"/><path d="M143.6,213.2L144.9,212L142.4,210.4L141.1,211.9Z" fill="#24c1ae"/><path d="M109.4,231.1L110.7,231.1L108.2,230.5L106.9,230.5Z" fill="#327cfc"/><path d="M150,212.9L151.4,212.6L148.9,210.8L147.6,210.9Z" fill="#2cc4a7"/><path d="M133,218.4L134.4,217.1L131.9,215.2L130.6,216Z" fill="#08b5d0"/><path d="M169.5,213.1L170.8,212.7L168.4,211.6L167,212Z" fill="#2cc4a7"/><path d="M142.2,214L143.6,213.2L141.1,211.9L139.7,212.9Z" fill="#24c1ae"/><path d="M155.2,214.6L156.5,214.1L154.1,212L152.7,212.3Z" fill="#19bfb6"/><path d="M118.5,224.4L119.9,223.9L117.4,229.1L116.1,229.6Z" fill="#20a5e3"/><path d="M131.7,219.7L133,218.4L130.6,216L129.2,217.2Z" fill="#12b1d6"/><path d="M161.7,213.8L163,213.4L160.5,212.8L159.2,213.2Z" fill="#24c1ae"/><path d="M130.4,221L131.7,219.7L129.2,217.2L127.9,218.5Z" fill="#18addb"/><path d="M102.9,229.9L104.2,229.9L101.8,228.5L100.4,228.5Z" fill="#2e87f7"/><path d="M140.9,214.8L142.2,214L139.7,212.9L138.4,213.9Z" fill="#19bfb6"/><path d="M168.1,213.6L169.5,213.1L167,212L165.7,212.5Z" fill="#2cc4a7"/><path d="M148.7,213.1L150,212.9L147.6,210.9L146.2,210.9Z" fill="#2cc4a7"/><path d="M129,222.2L130.4,221L127.9,218.5L126.6,219.8Z" fill="#1ca9df"/><path d="M108,231L109.4,231.1L106.9,230.5L105.6,230.2Z" fill="#2f81fa"/><path d="M117.2,224.8L118.5,224.4L116.1,229.6L114.7,230Z" fill="#20a5e3"/><path d="M153.8,215L155.2,214.6L152.7,212.3L151.4,212.6Z" fill="#19bfb6"/><path d="M160.3,214.3L161.7,213.8L159.2,213.2L157.9,213.7Z" fill="#24c1ae"/><path d="M139.5,215.6L140.9,214.8L138.4,213.9L137.1,214.9Z" fill="#19bfb6"/><path d="M127.7,223.2L129,222.2L126.6,219.8L125.2,220.9Z" fill="#20a5e3"/><path d="M166.8,214L168.1,213.6L165.7,212.5L164.3,212.9Z" fill="#2cc4a7"/><path d="M147.4,213.9L148.7,213.1L146.2,210.9L144.9,212Z" fill="#2cc4a7"/><path d="M138.2,216.3L139.5,215.6L137.1,214.9L135.7,215.9Z" fill="#19bfb6"/><path d="M126.3,224.1L127.7,223.2L125.2,220.9L123.9,222Z" fill="#20a5e3"/><path d="M115.8,225.2L117.2,224.8L114.7,230L113.4,230.4Z" fill="#20a5e3"/><path d="M152.5,215.5L153.8,215L151.4,212.6L150,212.9Z" fill="#19bfb6"/><path d="M159,214.7L160.3,214.3L157.9,213.7L156.5,214.1Z" fill="#24c1ae"/><path d="M146,214.7L147.4,213.9L144.9,212L143.6,213.2Z" fill="#24c1ae"/><path d="M106.7,230.8L108,231L105.6,230.2L104.2,229.9Z" fill="#2e87f7"/><path d="M136.9,217L138.2,216.3L135.7,215.9L134.4,217.1Z" fill="#0bbdbd"/><path d="M125,225L126.3,224.1L123.9,222L122.5,223Z" fill="#23a0e5"/><path d="M165.5,214.5L166.8,214L164.3,212.9L163,213.4Z" fill="#2cc4a7"/><path d="M144.7,215.4L146,214.7L143.6,213.2L142.2,214Z" fill="#24c1ae"/><path d="M114.5,225.6L115.8,225.2L113.4,230.4L112,230.8Z" fill="#20a5e3"/><path d="M135.5,217.8L136.9,217L134.4,217.1L133,218.4Z" fill="#0bbdbd"/><path d="M157.6,215.2L159,214.7L156.5,214.1L155.2,214.6Z" fill="#24c1ae"/><path d="M151.2,215.9L152.5,215.5L150,212.9L148.7,213.1Z" fill="#19bfb6"/><path d="M123.7,225.5L125,225L122.5,223L121.2,223.5Z" fill="#23a0e5"/><path d="M134.2,218.7L135.5,217.8L133,218.4L131.7,219.7Z" fill="#02bac3"/><path d="M164.1,214.9L165.5,214.5L163,213.4L161.7,213.8Z" fill="#2cc4a7"/><path d="M105.3,230.9L106.7,230.8L104.2,229.9L102.9,229.9Z" fill="#2e87f7"/><path d="M143.3,216L144.7,215.4L142.2,214L140.9,214.8Z" fill="#24c1ae"/><path d="M156.3,215.6L157.6,215.2L155.2,214.6L153.8,215Z" fill="#24c1ae"/><path d="M113.2,225.9L114.5,225.6L112,230.8L110.7,231.1Z" fill="#20a5e3"/><path d="M132.8,219.6L134.2,218.7L131.7,219.7L130.4,221Z" fill="#02bac3"/><path d="M149.8,216.4L151.2,215.9L148.7,213.1L147.4,213.9Z" fill="#19bfb6"/><path d="M122.3,225.9L123.7,225.5L121.2,223.5L119.9,223.9Z" fill="#23a0e5"/><path d="M142,216.6L143.3,216L140.9,214.8L139.5,215.6Z" fill="#19bfb6"/><path d="M162.8,215.4L164.1,214.9L161.7,213.8L160.3,214.3Z" fill="#2cc4a7"/><path d="M131.5,220.5L132.8,219.6L130.4,221L129,222.2Z" fill="#01b8ca"/><path d="M148.5,216.8L149.8,216.4L147.4,213.9L146,214.7Z" fill="#19bfb6"/><path d="M155,216.1L156.3,215.6L153.8,215L152.5,215.5Z" fill="#24c1ae"/><path d="M130.2,221.4L131.5,220.5L129,222.2L127.7,223.2Z" fill="#01b8ca"/><path d="M111.8,226.1L113.2,225.9L110.7,231.1L109.4,231.1Z" fill="#1ca9df"/><path d="M121,226.4L122.3,225.9L119.9,223.9L118.5,224.4Z" fill="#23a0e5"/><path d="M140.7,217.2L142,216.6L139.5,215.6L138.2,216.3Z" fill="#19bfb6"/><path d="M161.4,215.8L162.8,215.4L160.3,214.3L159,214.7Z" fill="#2cc4a7"/><path d="M147.1,217.3L148.5,216.8L146,214.7L144.7,215.4Z" fill="#19bfb6"/><path d="M128.8,222.1L130.2,221.4L127.7,223.2L126.3,224.1Z" fill="#08b5d0"/><path d="M153.6,216.5L155,216.1L152.5,215.5L151.2,215.9Z" fill="#24c1ae"/><path d="M139.3,217.8L140.7,217.2L138.2,216.3L136.9,217Z" fill="#19bfb6"/><path d="M119.7,226.8L121,226.4L118.5,224.4L117.2,224.8Z" fill="#23a0e5"/><path d="M160.1,216.3L161.4,215.8L159,214.7L157.6,215.2Z" fill="#2cc4a7"/><path d="M110.5,226L111.8,226.1L109.4,231.1L108,231Z" fill="#1ca9df"/><path d="M127.5,222.9L128.8,222.1L126.3,224.1L125,225Z" fill="#08b5d0"/><path d="M145.8,217.7L147.1,217.3L144.7,215.4L143.3,216Z" fill="#19bfb6"/><path d="M152.3,217L153.6,216.5L151.2,215.9L149.8,216.4Z" fill="#24c1ae"/><path d="M138,218.4L139.3,217.8L136.9,217L135.5,217.8Z" fill="#19bfb6"/><path d="M118.3,227.2L119.7,226.8L117.2,224.8L115.8,225.2Z" fill="#23a0e5"/><path d="M126.1,223.4L127.5,222.9L125,225L123.7,225.5Z" fill="#08b5d0"/><path d="M158.8,216.7L160.1,216.3L157.6,215.2L156.3,215.6Z" fill="#2cc4a7"/><path d="M144.5,218.2L145.8,217.7L143.3,216L142,216.6Z" fill="#19bfb6"/><path d="M136.6,219.1L138,218.4L135.5,217.8L134.2,218.7Z" fill="#19bfb6"/><path d="M109.1,226L110.5,226L108,231L106.7,230.8Z" fill="#18addb"/><path d="M150.9,217.4L152.3,217L149.8,216.4L148.5,216.8Z" fill="#24c1ae"/><path d="M117,227.7L118.3,227.2L115.8,225.2L114.5,225.6Z" fill="#23a0e5"/><path d="M124.8,223.8L126.1,223.4L123.7,225.5L122.3,225.9Z" fill="#08b5d0"/><path d="M135.3,219.8L136.6,219.1L134.2,218.7L132.8,219.6Z" fill="#0bbdbd"/><path d="M157.4,217.2L158.8,216.7L156.3,215.6L155,216.1Z" fill="#2cc4a7"/><path d="M143.1,218.6L144.5,218.2L142,216.6L140.7,217.2Z" fill="#19bfb6"/><path d="M149.6,217.9L150.9,217.4L148.5,216.8L147.1,217.3Z" fill="#24c1ae"/><path d="M107.8,226.2L109.1,226L106.7,230.8L105.3,230.9Z" fill="#18addb"/><path d="M134,220.5L135.3,219.8L132.8,219.6L131.5,220.5Z" fill="#0bbdbd"/><path d="M115.6,228L117,227.7L114.5,225.6L113.2,225.9Z" fill="#23a0e5"/><path d="M123.5,224.3L124.8,223.8L122.3,225.9L121,226.4Z" fill="#08b5d0"/><path d="M156.1,217.6L157.4,217.2L155,216.1L153.6,216.5Z" fill="#2cc4a7"/><path d="M141.8,219.1L143.1,218.6L140.7,217.2L139.3,217.8Z" fill="#19bfb6"/><path d="M148.3,218.3L149.6,217.9L147.1,217.3L145.8,217.7Z" fill="#24c1ae"/><path d="M132.6,221.2L134,220.5L131.5,220.5L130.2,221.4Z" fill="#0bbdbd"/><path d="M122.1,224.7L123.5,224.3L121,226.4L119.7,226.8Z" fill="#08b5d0"/><path d="M140.4,219.5L141.8,219.1L139.3,217.8L138,218.4Z" fill="#19bfb6"/><path d="M114.3,228.2L115.6,228L113.2,225.9L111.8,226.1Z" fill="#20a5e3"/><path d="M154.8,218.1L156.1,217.6L153.6,216.5L152.3,217Z" fill="#2cc4a7"/><path d="M131.3,221.8L132.6,221.2L130.2,221.4L128.8,222.1Z" fill="#02bac3"/><path d="M146.9,218.8L148.3,218.3L145.8,217.7L144.5,218.2Z" fill="#24c1ae"/><path d="M139.1,220L140.4,219.5L138,218.4L136.6,219.1Z" fill="#19bfb6"/><path d="M120.8,225.1L122.1,224.7L119.7,226.8L118.3,227.2Z" fill="#08b5d0"/><path d="M153.4,218.5L154.8,218.1L152.3,217L150.9,217.4Z" fill="#2cc4a7"/><path d="M129.9,222.4L131.3,221.8L128.8,222.1L127.5,222.9Z" fill="#02bac3"/><path d="M113,228.3L114.3,228.2L111.8,226.1L110.5,226Z" fill="#20a5e3"/><path d="M145.6,219.2L146.9,218.8L144.5,218.2L143.1,218.6Z" fill="#24c1ae"/><path d="M137.8,220.4L139.1,220L136.6,219.1L135.3,219.8Z" fill="#19bfb6"/><path d="M119.4,225.6L120.8,225.1L118.3,227.2L117,227.7Z" fill="#08b5d0"/><path d="M152.1,219L153.4,218.5L150.9,217.4L149.6,217.9Z" fill="#2cc4a7"/><path d="M128.6,222.9L129.9,222.4L127.5,222.9L126.1,223.4Z" fill="#02bac3"/><path d="M144.2,219.7L145.6,219.2L143.1,218.6L141.8,219.1Z" fill="#24c1ae"/><path d="M111.6,228.4L113,228.3L110.5,226L109.1,226Z" fill="#1ca9df"/><path d="M136.4,220.9L137.8,220.4L135.3,219.8L134,220.5Z" fill="#19bfb6"/><path d="M118.1,225.9L119.4,225.6L117,227.7L115.6,228Z" fill="#08b5d0"/><path d="M150.7,219.4L152.1,219L149.6,217.9L148.3,218.3Z" fill="#2cc4a7"/><path d="M127.3,223.3L128.6,222.9L126.1,223.4L124.8,223.8Z" fill="#02bac3"/><path d="M142.9,220.1L144.2,219.7L141.8,219.1L140.4,219.5Z" fill="#24c1ae"/><path d="M135.1,221.3L136.4,220.9L134,220.5L132.6,221.2Z" fill="#19bfb6"/><path d="M110.3,228.6L111.6,228.4L109.1,226L107.8,226.2Z" fill="#1ca9df"/><path d="M149.4,219.9L150.7,219.4L148.3,218.3L146.9,218.8Z" fill="#2cc4a7"/><path d="M125.9,223.8L127.3,223.3L124.8,223.8L123.5,224.3Z" fill="#02bac3"/><path d="M116.8,226.2L118.1,225.9L115.6,228L114.3,228.2Z" fill="#08b5d0"/><path d="M141.6,220.6L142.9,220.1L140.4,219.5L139.1,220Z" fill="#24c1ae"/><path d="M133.7,221.8L135.1,221.3L132.6,221.2L131.3,221.8Z" fill="#19bfb6"/><path d="M148.1,220.3L149.4,219.9L146.9,218.8L145.6,219.2Z" fill="#2cc4a7"/><path d="M124.6,224.2L125.9,223.8L123.5,224.3L122.1,224.7Z" fill="#02bac3"/><path d="M115.4,226.4L116.8,226.2L114.3,228.2L113,228.3Z" fill="#08b5d0"/><path d="M140.2,221L141.6,220.6L139.1,220L137.8,220.4Z" fill="#24c1ae"/><path d="M132.4,222.2L133.7,221.8L131.3,221.8L129.9,222.4Z" fill="#19bfb6"/><path d="M146.7,220.8L148.1,220.3L145.6,219.2L144.2,219.7Z" fill="#2cc4a7"/><path d="M123.2,224.6L124.6,224.2L122.1,224.7L120.8,225.1Z" fill="#02bac3"/><path d="M131.1,222.7L132.4,222.2L129.9,222.4L128.6,222.9Z" fill="#19bfb6"/><path d="M138.9,221.5L140.2,221L137.8,220.4L136.4,220.9Z" fill="#24c1ae"/><path d="M114.1,226.7L115.4,226.4L113,228.3L111.6,228.4Z" fill="#01b8ca"/><path d="M145.4,221.2L146.7,220.8L144.2,219.7L142.9,220.1Z" fill="#2cc4a7"/><path d="M121.9,225.1L123.2,224.6L120.8,225.1L119.4,225.6Z" fill="#02bac3"/><path d="M129.7,223.1L131.1,222.7L128.6,222.9L127.3,223.3Z" fill="#19bfb6"/><path d="M137.5,221.9L138.9,221.5L136.4,220.9L135.1,221.3Z" fill="#24c1ae"/><path d="M112.7,226.9L114.1,226.7L111.6,228.4L110.3,228.6Z" fill="#01b8ca"/><path d="M144,221.7L145.4,221.2L142.9,220.1L141.6,220.6Z" fill="#2cc4a7"/><path d="M120.6,225.5L121.9,225.1L119.4,225.6L118.1,225.9Z" fill="#02bac3"/><path d="M128.4,223.6L129.7,223.1L127.3,223.3L125.9,223.8Z" fill="#19bfb6"/><path d="M136.2,222.4L137.5,221.9L135.1,221.3L133.7,221.8Z" fill="#24c1ae"/><path d="M142.7,222.1L144,221.7L141.6,220.6L140.2,221Z" fill="#2cc4a7"/><path d="M119.2,225.9L120.6,225.5L118.1,225.9L116.8,226.2Z" fill="#02bac3"/><path d="M127,224L128.4,223.6L125.9,223.8L124.6,224.2Z" fill="#19bfb6"/><path d="M134.9,222.8L136.2,222.4L133.7,221.8L132.4,222.2Z" fill="#24c1ae"/><path d="M141.4,222.6L142.7,222.1L140.2,221L138.9,221.5Z" fill="#2cc4a7"/><path d="M117.9,226.2L119.2,225.9L116.8,226.2L115.4,226.4Z" fill="#0bbdbd"/><path d="M125.7,224.5L127,224L124.6,224.2L123.2,224.6Z" fill="#19bfb6"/><path d="M133.5,223.3L134.9,222.8L132.4,222.2L131.1,222.7Z" fill="#24c1ae"/><path d="M140,223L141.4,222.6L138.9,221.5L137.5,221.9Z" fill="#2cc4a7"/><path d="M116.5,226.5L117.9,226.2L115.4,226.4L114.1,226.7Z" fill="#0bbdbd"/><path d="M124.4,224.9L125.7,224.5L123.2,224.6L121.9,225.1Z" fill="#19bfb6"/><path d="M132.2,223.7L133.5,223.3L131.1,222.7L129.7,223.1Z" fill="#24c1ae"/><path d="M138.7,223.5L140,223L137.5,221.9L136.2,222.4Z" fill="#2cc4a7"/><path d="M130.9,224.2L132.2,223.7L129.7,223.1L128.4,223.6Z" fill="#24c1ae"/><path d="M123,225.4L124.4,224.9L121.9,225.1L120.6,225.5Z" fill="#19bfb6"/><path d="M115.2,226.9L116.5,226.5L114.1,226.7L112.7,226.9Z" fill="#0bbdbd"/><path d="M137.3,223.9L138.7,223.5L136.2,222.4L134.9,222.8Z" fill="#2cc4a7"/><path d="M129.5,224.6L130.9,224.2L128.4,223.6L127,224Z" fill="#24c1ae"/><path d="M121.7,225.8L123,225.4L120.6,225.5L119.2,225.9Z" fill="#19bfb6"/><path d="M136,224.4L137.3,223.9L134.9,222.8L133.5,223.3Z" fill="#2cc4a7"/><path d="M128.2,225.1L129.5,224.6L127,224L125.7,224.5Z" fill="#24c1ae"/><path d="M120.3,226.3L121.7,225.8L119.2,225.9L117.9,226.2Z" fill="#19bfb6"/><path d="M134.7,224.8L136,224.4L133.5,223.3L132.2,223.7Z" fill="#2cc4a7"/><path d="M126.8,225.5L128.2,225.1L125.7,224.5L124.4,224.9Z" fill="#24c1ae"/><path d="M119,226.7L120.3,226.3L117.9,226.2L116.5,226.5Z" fill="#19bfb6"/><path d="M133.3,225.3L134.7,224.8L132.2,223.7L130.9,224.2Z" fill="#2cc4a7"/><path d="M125.5,226L126.8,225.5L124.4,224.9L123,225.4Z" fill="#24c1ae"/><path d="M117.7,227.2L119,226.7L116.5,226.5L115.2,226.9Z" fill="#19bfb6"/><path d="M132,225.7L133.3,225.3L130.9,224.2L129.5,224.6Z" fill="#2cc4a7"/><path d="M124.2,226.4L125.5,226L123,225.4L121.7,225.8Z" fill="#24c1ae"/><path d="M130.6,226.2L132,225.7L129.5,224.6L128.2,225.1Z" fill="#2cc4a7"/><path d="M122.8,226.9L124.2,226.4L121.7,225.8L120.3,226.3Z" fill="#24c1ae"/><path d="M129.3,226.6L130.6,226.2L128.2,225.1L126.8,225.5Z" fill="#2cc4a7"/><path d="M121.5,227.3L122.8,226.9L120.3,226.3L119,226.7Z" fill="#24c1ae"/><path d="M128,227.1L129.3,226.6L126.8,225.5L125.5,226Z" fill="#2cc4a7"/><path d="M120.1,227.8L121.5,227.3L119,226.7L117.7,227.2Z" fill="#24c1ae"/><path d="M126.6,227.5L128,227.1L125.5,226L124.2,226.4Z" fill="#2cc4a7"/><path d="M125.3,228L126.6,227.5L124.2,226.4L122.8,226.9Z" fill="#2cc4a7"/><path d="M123.9,228.4L125.3,228L122.8,226.9L121.5,227.3Z" fill="#2cc4a7"/><path d="M122.6,228.9L123.9,228.4L121.5,227.3L120.1,227.8Z" fill="#2cc4a7"/></g>
<g font-family="Liberation Sans, Arial, sans-serif" stroke="#262626" stroke-width="0.14" font-size="6.3" fill="#262626"><text x="126.6" y="273.8">0</text><text x="153.4" y="264.8">10</text><text x="180.2" y="255.8">20</text></g>
<g font-family="Liberation Sans, Arial, sans-serif" stroke="#262626" stroke-width="0.14" font-size="6.3" fill="#262626" text-anchor="end"><text x="118.4" y="273.3">0</text><text x="93.7" y="259.2">10</text><text x="69.1" y="245.1">20</text><text x="70.3" y="238.1">0.98</text><text x="70.3" y="222.7">1</text><text x="70.3" y="207.2">1.02</text><text x="70.3" y="191.8">1.04</text><text x="70.3" y="176.3">1.06</text></g>
<text font-family="Liberation Sans, Arial, sans-serif" stroke="#262626" stroke-width="0.14" font-size="6.4" fill="#262626" text-anchor="middle" x="86.4" y="274.6">Node</text>
<text font-family="Liberation Sans, Arial, sans-serif" stroke="#262626" stroke-width="0.14" font-size="6.4" fill="#262626" text-anchor="middle" x="159.2" y="276.3">t/h</text>
<text font-family="Liberation Sans, Arial, sans-serif" stroke="#262626" stroke-width="0.14" font-size="6.4" fill="#262626" text-anchor="middle" transform="translate(52.2,207.3) rotate(-90)" y="2.3">Voltage/p.u.</text>
<text font-family="Liberation Sans, Arial, sans-serif" stroke="#262626" stroke-width="0.14" font-size="6.55" fill="#222" text-anchor="middle" x="130.3" y="152.8">Node voltage profiles in scenario4</text>
<defs><linearGradient id="g3" x1="0" y1="0" x2="0" y2="1"><stop offset="0%" stop-color="#f9fb15"/><stop offset="4.8%" stop-color="#f5e924"/><stop offset="9.5%" stop-color="#fad62d"/><stop offset="14.3%" stop-color="#fec338"/><stop offset="19%" stop-color="#f0ba36"/><stop offset="23.8%" stop-color="#d1bf27"/><stop offset="28.6%" stop-color="#abc739"/><stop offset="33.3%" stop-color="#81cc59"/><stop offset="38.1%" stop-color="#57cc7a"/><stop offset="42.9%" stop-color="#37c897"/><stop offset="47.6%" stop-color="#24c1ae"/><stop offset="52.4%" stop-color="#02bac3"/><stop offset="57.1%" stop-color="#12b1d6"/><stop offset="61.9%" stop-color="#20a5e3"/><stop offset="66.7%" stop-color="#2797eb"/><stop offset="71.4%" stop-color="#2e87f7"/><stop offset="76.2%" stop-color="#3875fe"/><stop offset="81%" stop-color="#4563fd"/><stop offset="85.7%" stop-color="#4852f4"/><stop offset="90.5%" stop-color="#4741e5"/><stop offset="95.2%" stop-color="#4332cb"/><stop offset="100%" stop-color="#3e26a8"/><stop offset="100%" stop-color="#3e26a8"/></linearGradient></defs>
<rect x="198.9" y="154.5" width="7.5" height="110.4" fill="url(#g3)" stroke="#b0b0b0" stroke-width="0.4"/>
<path d="M205.1,253.2h1.3M205.1,235.6h1.3M205.1,218.1h1.3M205.1,200.6h1.3M205.1,183.1h1.3M205.1,165.5h1.3" stroke="#555" stroke-width="0.45" stroke-opacity="0.6"/>
<g font-family="Liberation Sans, Arial, sans-serif" stroke="#262626" stroke-width="0.14" font-size="6.3" fill="#262626"><text x="209.2" y="255.3">1</text><text x="209.2" y="237.7">1.01</text><text x="209.2" y="220.2">1.02</text><text x="209.2" y="202.7">1.03</text><text x="209.2" y="185.2">1.04</text><text x="209.2" y="167.6">1.05</text></g>
<path d="M401.5,265.2L352.2,237M352.2,237L352.2,175.2M428.3,256.2L379,228M379,228L379,166.2M455.1,247.2L405.8,219M405.8,219L405.8,157.2M401.5,265.2L465.8,243.6M465.8,243.6L465.8,181.8M376.9,251.1L441.2,229.5M441.2,229.5L441.2,167.7M352.2,237L416.5,215.4M416.5,215.4L416.5,153.6M352.2,237L416.5,215.4M465.8,243.6L416.5,215.4M352.2,224.6L416.5,203M465.8,231.2L416.5,203M352.2,212.3L416.5,190.7M465.8,218.9L416.5,190.7M352.2,199.9L416.5,178.3M465.8,206.5L416.5,178.3M352.2,187.6L416.5,166M465.8,194.2L416.5,166M352.2,175.2L416.5,153.6M465.8,181.8L416.5,153.6M416.5,215.4L416.5,153.6M352.2,175.2L416.5,153.6M465.8,181.8L416.5,153.6" stroke="#e6e6e6" stroke-width="0.5" fill="none"/>
<path d="M401.5,265.2L465.8,243.6M401.5,265.2L352.2,237M352.2,237L352.2,175.2M401.5,265.2L400.5,264.6M428.3,256.2L427.3,255.6M455.1,247.2L454.1,246.6M401.5,265.2L402.8,264.8M376.9,251.1L378.1,250.7M352.2,237L353.5,236.6M352.2,237L353.5,236.6M352.2,224.6L353.5,224.2M352.2,212.3L353.5,211.8M352.2,199.9L353.5,199.5M352.2,187.6L353.5,187.1M352.2,175.2L353.5,174.8" stroke="#9a9a9a" stroke-width="0.6" fill="none"/>
<g stroke="#000" stroke-width="0.3" stroke-opacity="0.85" stroke-linejoin="round"><path d="M417.6,196L419,196.3L416.5,194.7L415.2,194.2Z" fill="#23a0e5"/><path d="M416.3,195.6L417.6,196L415.2,194.2L413.8,193.8Z" fill="#20a5e3"/><path d="M420.1,197.7L421.4,198L419,196.3L417.6,196Z" fill="#259be8"/><path d="M414.9,195.3L416.3,195.6L413.8,193.8L412.5,193.3Z" fill="#20a5e3"/><path d="M418.8,197.4L420.1,197.7L417.6,196L416.3,195.6Z" fill="#23a0e5"/><path d="M413.6,194.9L414.9,195.3L412.5,193.3L411.1,192.9Z" fill="#1ca9df"/><path d="M422.6,199.4L423.9,199.6L421.4,198L420.1,197.7Z" fill="#259be8"/><path d="M417.4,197.2L418.8,197.4L416.3,195.6L414.9,195.3Z" fill="#20a5e3"/><path d="M412.3,194.3L413.6,194.9L411.1,192.9L409.8,192.2Z" fill="#18addb"/><path d="M421.2,199.2L422.6,199.4L420.1,197.7L418.8,197.4Z" fill="#23a0e5"/><path d="M416.1,196.9L417.4,197.2L414.9,195.3L413.6,194.9Z" fill="#1ca9df"/><path d="M410.9,193.1L412.3,194.3L409.8,192.2L408.5,190.8Z" fill="#08b5d0"/><path d="M425,201.1L426.4,201.2L423.9,199.6L422.6,199.4Z" fill="#259be8"/><path d="M419.9,199L421.2,199.2L418.8,197.4L417.4,197.2Z" fill="#23a0e5"/><path d="M414.7,196.4L416.1,196.9L413.6,194.9L412.3,194.3Z" fill="#18addb"/><path d="M423.7,201L425,201.1L422.6,199.4L421.2,199.2Z" fill="#259be8"/><path d="M418.5,198.8L419.9,199L417.4,197.2L416.1,196.9Z" fill="#20a5e3"/><path d="M409.6,191.8L410.9,193.1L408.5,190.8L407.1,189.3Z" fill="#02bac3"/><path d="M413.4,195.3L414.7,196.4L412.3,194.3L410.9,193.1Z" fill="#12b1d6"/><path d="M422.3,200.9L423.7,201L421.2,199.2L419.9,199Z" fill="#23a0e5"/><path d="M427.5,202.8L428.8,202.8L426.4,201.2L425,201.1Z" fill="#2797eb"/><path d="M417.2,198.5L418.5,198.8L416.1,196.9L414.7,196.4Z" fill="#1ca9df"/><path d="M426.1,202.7L427.5,202.8L425,201.1L423.7,201Z" fill="#259be8"/><path d="M421,200.7L422.3,200.9L419.9,199L418.5,198.8Z" fill="#20a5e3"/><path d="M408.2,190.5L409.6,191.8L407.1,189.3L405.8,187.8Z" fill="#19bfb6"/><path d="M412.1,194.2L413.4,195.3L410.9,193.1L409.6,191.8Z" fill="#01b8ca"/><path d="M415.9,197.5L417.2,198.5L414.7,196.4L413.4,195.3Z" fill="#12b1d6"/><path d="M424.8,202.7L426.1,202.7L423.7,201L422.3,200.9Z" fill="#259be8"/><path d="M419.7,200.5L421,200.7L418.5,198.8L417.2,198.5Z" fill="#20a5e3"/><path d="M430,204.4L431.3,204.4L428.8,202.8L427.5,202.8Z" fill="#2797eb"/><path d="M406.9,189.6L408.2,190.5L405.8,187.8L404.4,186.8Z" fill="#2cc4a7"/><path d="M410.7,193.1L412.1,194.2L409.6,191.8L408.2,190.5Z" fill="#0bbdbd"/><path d="M414.5,196.6L415.9,197.5L413.4,195.3L412.1,194.2Z" fill="#08b5d0"/><path d="M423.5,202.6L424.8,202.7L422.3,200.9L421,200.7Z" fill="#23a0e5"/><path d="M428.6,204.5L430,204.4L427.5,202.8L426.1,202.7Z" fill="#259be8"/><path d="M418.3,199.7L419.7,200.5L417.2,198.5L415.9,197.5Z" fill="#18addb"/><path d="M422.1,202.5L423.5,202.6L421,200.7L419.7,200.5Z" fill="#20a5e3"/><path d="M427.3,204.5L428.6,204.5L426.1,202.7L424.8,202.7Z" fill="#259be8"/><path d="M405.6,188.7L406.9,189.6L404.4,186.8L403.1,185.7Z" fill="#31c69f"/><path d="M432.4,206.1L433.8,206L431.3,204.4L430,204.4Z" fill="#2797eb"/><path d="M409.4,192.3L410.7,193.1L408.2,190.5L406.9,189.6Z" fill="#19bfb6"/><path d="M413.2,195.7L414.5,196.6L412.1,194.2L410.7,193.1Z" fill="#02bac3"/><path d="M417,198.9L418.3,199.7L415.9,197.5L414.5,196.6Z" fill="#12b1d6"/><path d="M425.9,204.5L427.3,204.5L424.8,202.7L423.5,202.6Z" fill="#23a0e5"/><path d="M431.1,206.2L432.4,206.1L430,204.4L428.6,204.5Z" fill="#2797eb"/><path d="M420.8,201.8L422.1,202.5L419.7,200.5L418.3,199.7Z" fill="#1ca9df"/><path d="M404.2,187.8L405.6,188.7L403.1,185.7L401.8,184.7Z" fill="#3fca8e"/><path d="M408,191.6L409.4,192.3L406.9,189.6L405.6,188.7Z" fill="#24c1ae"/><path d="M411.8,195L413.2,195.7L410.7,193.1L409.4,192.3Z" fill="#0bbdbd"/><path d="M424.6,204.4L425.9,204.5L423.5,202.6L422.1,202.5Z" fill="#23a0e5"/><path d="M429.7,206.2L431.1,206.2L428.6,204.5L427.3,204.5Z" fill="#259be8"/><path d="M415.6,198.2L417,198.9L414.5,196.6L413.2,195.7Z" fill="#08b5d0"/><path d="M419.4,201.2L420.8,201.8L418.3,199.7L417,198.9Z" fill="#18addb"/><path d="M428.4,206.3L429.7,206.2L427.3,204.5L425.9,204.5Z" fill="#259be8"/><path d="M406.7,190.9L408,191.6L405.6,188.7L404.2,187.8Z" fill="#31c69f"/><path d="M402.9,186.9L404.2,187.8L401.8,184.7L400.4,183.7Z" fill="#4acb84"/><path d="M423.3,203.9L424.6,204.4L422.1,202.5L420.8,201.8Z" fill="#20a5e3"/><path d="M410.5,194.4L411.8,195L409.4,192.3L408,191.6Z" fill="#19bfb6"/><path d="M434.9,204.3L436.2,204.2L433.8,206L432.4,206.1Z" fill="#20a5e3"/><path d="M414.3,197.7L415.6,198.2L413.2,195.7L411.8,195Z" fill="#01b8ca"/><path d="M418.1,200.6L419.4,201.2L417,198.9L415.6,198.2Z" fill="#12b1d6"/><path d="M427.1,206.3L428.4,206.3L425.9,204.5L424.6,204.4Z" fill="#23a0e5"/><path d="M433.5,204.4L434.9,204.3L432.4,206.1L431.1,206.2Z" fill="#1ca9df"/><path d="M421.9,203.5L423.3,203.9L420.8,201.8L419.4,201.2Z" fill="#1ca9df"/><path d="M405.4,190.1L406.7,190.9L404.2,187.8L402.9,186.9Z" fill="#37c897"/><path d="M409.2,193.8L410.5,194.4L408,191.6L406.7,190.9Z" fill="#24c1ae"/><path d="M401.6,186.1L402.9,186.9L400.4,183.7L399.1,182.7Z" fill="#57cc7a"/><path d="M413,197.2L414.3,197.7L411.8,195L410.5,194.4Z" fill="#02bac3"/><path d="M425.7,206L427.1,206.3L424.6,204.4L423.3,203.9Z" fill="#23a0e5"/><path d="M432.2,204.6L433.5,204.4L431.1,206.2L429.7,206.2Z" fill="#1ca9df"/><path d="M416.8,200.2L418.1,200.6L415.6,198.2L414.3,197.7Z" fill="#08b5d0"/><path d="M420.6,203L421.9,203.5L419.4,201.2L418.1,200.6Z" fill="#18addb"/><path d="M407.8,193.2L409.2,193.8L406.7,190.9L405.4,190.1Z" fill="#2cc4a7"/><path d="M404,189.4L405.4,190.1L402.9,186.9L401.6,186.1Z" fill="#3fca8e"/><path d="M400.2,185.3L401.6,186.1L399.1,182.7L397.7,181.8Z" fill="#72cd64"/><path d="M430.9,204.8L432.2,204.6L429.7,206.2L428.4,206.3Z" fill="#1ca9df"/><path d="M411.6,196.7L413,197.2L410.5,194.4L409.2,193.8Z" fill="#0bbdbd"/><path d="M424.4,205.7L425.7,206L423.3,203.9L421.9,203.5Z" fill="#20a5e3"/><path d="M415.4,199.8L416.8,200.2L414.3,197.7L413,197.2Z" fill="#01b8ca"/><path d="M429.5,207.5L430.9,204.8L428.4,206.3L427.1,206.3Z" fill="#23a0e5"/><path d="M419.2,202.7L420.6,203L418.1,200.6L416.8,200.2Z" fill="#12b1d6"/><path d="M428.2,208.4L429.5,207.5L427.1,206.3L425.7,206Z" fill="#259be8"/><path d="M406.5,192.6L407.8,193.2L405.4,190.1L404,189.4Z" fill="#31c69f"/><path d="M402.7,188.8L404,189.4L401.6,186.1L400.2,185.3Z" fill="#4acb84"/><path d="M410.3,196.2L411.6,196.7L409.2,193.8L407.8,193.2Z" fill="#19bfb6"/><path d="M437.3,202.5L438.7,202.3L436.2,204.2L434.9,204.3Z" fill="#08b5d0"/><path d="M398.9,184.6L400.2,185.3L397.7,181.8L396.4,180.9Z" fill="#81cc59"/><path d="M423,205.4L424.4,205.7L421.9,203.5L420.6,203Z" fill="#1ca9df"/><path d="M414.1,199.5L415.4,199.8L413,197.2L411.6,196.7Z" fill="#02bac3"/><path d="M417.9,202.4L419.2,202.7L416.8,200.2L415.4,199.8Z" fill="#08b5d0"/><path d="M426.8,208.4L428.2,208.4L425.7,206L424.4,205.7Z" fill="#23a0e5"/><path d="M435.4,234.2L436.7,233.4L434.2,228.5L432.9,229.1Z" fill="#402ab4"/><path d="M436,202.7L437.3,202.5L434.9,204.3L433.5,204.4Z" fill="#08b5d0"/><path d="M405.1,192.1L406.5,192.6L404,189.4L402.7,188.8Z" fill="#37c897"/><path d="M408.9,195.7L410.3,196.2L407.8,193.2L406.5,192.6Z" fill="#24c1ae"/><path d="M401.3,188.1L402.7,188.8L400.2,185.3L398.9,184.6Z" fill="#64cd6f"/><path d="M421.7,205.2L423,205.4L420.6,203L419.2,202.7Z" fill="#18addb"/><path d="M412.8,199.1L414.1,199.5L411.6,196.7L410.3,196.2Z" fill="#0bbdbd"/><path d="M397.5,183.8L398.9,184.6L396.4,180.9L395.1,180Z" fill="#8fcb4e"/><path d="M432.9,229.1L434.2,228.5L431.8,219.8L430.4,220.1Z" fill="#463cde"/><path d="M436.7,233.4L438,227.3L435.6,223.6L434.2,228.5Z" fill="#422ec0"/><path d="M430.6,211.8L432,209.1L429.5,207.5L428.2,208.4Z" fill="#2b91ef"/><path d="M434.2,228.5L435.6,223.6L433.1,217.2L431.8,219.8Z" fill="#4741e5"/><path d="M434.7,202.9L436,202.7L433.5,204.4L432.2,204.6Z" fill="#08b5d0"/><path d="M425.5,208.2L426.8,208.4L424.4,205.7L423,205.4Z" fill="#20a5e3"/><path d="M416.6,202.2L417.9,202.4L415.4,199.8L414.1,199.5Z" fill="#01b8ca"/><path d="M429.3,212.6L430.6,211.8L428.2,208.4L426.8,208.4Z" fill="#2b91ef"/><path d="M432,209.1L433.3,203.5L430.9,204.8L429.5,207.5Z" fill="#23a0e5"/><path d="M420.4,205L421.7,205.2L419.2,202.7L417.9,202.4Z" fill="#18addb"/><path d="M431.8,219.8L433.1,217.2L430.6,211.8L429.3,212.6Z" fill="#4269fe"/><path d="M403.8,191.6L405.1,192.1L402.7,188.8L401.3,188.1Z" fill="#3fca8e"/><path d="M407.6,195.3L408.9,195.7L406.5,192.6L405.1,192.1Z" fill="#2cc4a7"/><path d="M433.3,203.5L434.7,202.9L432.2,204.6L430.9,204.8Z" fill="#08b5d0"/><path d="M400,187.5L401.3,188.1L398.9,184.6L397.5,183.8Z" fill="#72cd64"/><path d="M411.4,198.8L412.8,199.1L410.3,196.2L408.9,195.7Z" fill="#19bfb6"/><path d="M434,229.3L435.4,234.2L432.9,229.1L431.6,225.1Z" fill="#4747eb"/><path d="M430.4,220.1L431.8,219.8L429.3,212.6L428,212.6Z" fill="#3e6fff"/><path d="M433.1,217.2L434.5,212.5L432,209.1L430.6,211.8Z" fill="#327cfc"/><path d="M424.2,208L425.5,208.2L423,205.4L421.7,205.2Z" fill="#20a5e3"/><path d="M396.2,183.1L397.5,183.8L395.1,180L393.7,179.1Z" fill="#abc739"/><path d="M428,212.6L429.3,212.6L426.8,208.4L425.5,208.2Z" fill="#2b91ef"/><path d="M415.2,201.9L416.6,202.2L414.1,199.5L412.8,199.1Z" fill="#01b8ca"/><path d="M439.8,203.9L441.2,203.7L438.7,202.3L437.3,202.5Z" fill="#08b5d0"/><path d="M437.8,231.8L439.2,231L436.7,233.4L435.4,234.2Z" fill="#463cde"/><path d="M431.6,225.1L432.9,229.1L430.4,220.1L429.1,217.9Z" fill="#4758f8"/><path d="M435.6,223.6L436.9,216.3L434.5,212.5L433.1,217.2Z" fill="#4758f8"/><path d="M419,204.8L420.4,205L417.9,202.4L416.6,202.2Z" fill="#12b1d6"/><path d="M406.3,194.9L407.6,195.3L405.1,192.1L403.8,191.6Z" fill="#31c69f"/><path d="M402.5,191.1L403.8,191.6L401.3,188.1L400,187.5Z" fill="#57cc7a"/><path d="M410.1,198.5L411.4,198.8L408.9,195.7L407.6,195.3Z" fill="#24c1ae"/><path d="M398.7,186.9L400,187.5L397.5,183.8L396.2,183.1Z" fill="#81cc59"/><path d="M439.2,231L440.5,225.9L438,227.3L436.7,233.4Z" fill="#4741e5"/><path d="M370.7,214.8L372.1,214.3L369.6,212.9L368.3,213.4Z" fill="#2d8cf3"/><path d="M438.5,204.2L439.8,203.9L437.3,202.5L436,202.7Z" fill="#08b5d0"/><path d="M422.8,207.6L424.2,208L421.7,205.2L420.4,205Z" fill="#1ca9df"/><path d="M426.6,211.9L428,212.6L425.5,208.2L424.2,208Z" fill="#259be8"/><path d="M413.9,201.7L415.2,201.9L412.8,199.1L411.4,198.8Z" fill="#02bac3"/><path d="M429.1,217.9L430.4,220.1L428,212.6L426.6,211.9Z" fill="#2f81fa"/><path d="M438,227.3L439.4,218.7L436.9,216.3L435.6,223.6Z" fill="#484df0"/><path d="M394.9,182.2L396.2,183.1L393.7,179.1L392.4,178.1Z" fill="#b9c431"/><path d="M417.7,204.6L419,204.8L416.6,202.2L415.2,201.9Z" fill="#08b5d0"/><path d="M434.5,212.5L435.8,205.7L433.3,203.5L432,209.1Z" fill="#2b91ef"/><path d="M369.4,215.2L370.7,214.8L368.3,213.4L366.9,213.8Z" fill="#2d8cf3"/><path d="M437.1,204.6L438.5,204.2L436,202.7L434.7,202.9Z" fill="#08b5d0"/><path d="M404.9,194.5L406.3,194.9L403.8,191.6L402.5,191.1Z" fill="#37c897"/><path d="M408.7,198.2L410.1,198.5L407.6,195.3L406.3,194.9Z" fill="#24c1ae"/><path d="M401.1,190.5L402.5,191.1L400,187.5L398.7,186.9Z" fill="#64cd6f"/><path d="M421.5,207.4L422.8,207.6L420.4,205L419,204.8Z" fill="#18addb"/><path d="M436.5,227.9L437.8,231.8L435.4,234.2L434,229.3Z" fill="#4758f8"/><path d="M412.5,201.5L413.9,201.7L411.4,198.8L410.1,198.5Z" fill="#0bbdbd"/><path d="M397.3,186.1L398.7,186.9L396.2,183.1L394.9,182.2Z" fill="#8fcb4e"/><path d="M425.3,210.8L426.6,211.9L424.2,208L422.8,207.6Z" fill="#23a0e5"/><path d="M442.3,205.3L443.6,205L441.2,203.7L439.8,203.9Z" fill="#08b5d0"/><path d="M368.1,215.7L369.4,215.2L366.9,213.8L365.6,214.3Z" fill="#2d8cf3"/><path d="M435.8,205.7L437.1,204.6L434.7,202.9L433.3,203.5Z" fill="#12b1d6"/><path d="M416.3,204.5L417.7,204.6L415.2,201.9L413.9,201.7Z" fill="#01b8ca"/><path d="M372.1,214.3L373.4,205L371,202.6L369.6,212.9Z" fill="#2d8cf3"/><path d="M393.5,181.3L394.9,182.2L392.4,178.1L391,177.1Z" fill="#d1bf27"/><path d="M436.9,216.3L438.3,207.9L435.8,205.7L434.5,212.5Z" fill="#2e87f7"/><path d="M427.8,215L429.1,217.9L426.6,211.9L425.3,210.8Z" fill="#2b91ef"/><path d="M403.6,194.1L404.9,194.5L402.5,191.1L401.1,190.5Z" fill="#3fca8e"/><path d="M407.4,197.9L408.7,198.2L406.3,194.9L404.9,194.5Z" fill="#2cc4a7"/><path d="M430.2,219.7L431.6,225.1L429.1,217.9L427.8,215Z" fill="#2f81fa"/><path d="M420.1,207.3L421.5,207.4L419,204.8L417.7,204.6Z" fill="#12b1d6"/><path d="M366.7,216.1L368.1,215.7L365.6,214.3L364.3,214.7Z" fill="#2d8cf3"/><path d="M440.9,205.6L442.3,205.3L439.8,203.9L438.5,204.2Z" fill="#08b5d0"/><path d="M373.2,216.2L374.5,215.7L372.1,214.3L370.7,214.8Z" fill="#2d8cf3"/><path d="M399.8,190L401.1,190.5L398.7,186.9L397.3,186.1Z" fill="#72cd64"/><path d="M411.2,201.3L412.5,201.5L410.1,198.5L408.7,198.2Z" fill="#0bbdbd"/><path d="M432.7,222.8L434,229.3L431.6,225.1L430.2,219.7Z" fill="#3875fe"/><path d="M440.5,225.9L441.8,218.5L439.4,218.7L438,227.3Z" fill="#465efb"/><path d="M423.9,210.1L425.3,210.8L422.8,207.6L421.5,207.4Z" fill="#20a5e3"/><path d="M415,204.4L416.3,204.5L413.9,201.7L412.5,201.5Z" fill="#01b8ca"/><path d="M396,185.4L397.3,186.1L394.9,182.2L393.5,181.3Z" fill="#abc739"/><path d="M365.4,216.6L366.7,216.1L364.3,214.7L362.9,215.2Z" fill="#2d8cf3"/><path d="M371.9,216.6L373.2,216.2L370.7,214.8L369.4,215.2Z" fill="#2d8cf3"/><path d="M439.6,206.2L440.9,205.6L438.5,204.2L437.1,204.6Z" fill="#08b5d0"/><path d="M418.8,207.2L420.1,207.3L417.7,204.6L416.3,204.5Z" fill="#12b1d6"/><path d="M406.1,197.6L407.4,197.9L404.9,194.5L403.6,194.1Z" fill="#31c69f"/><path d="M392.2,180.4L393.5,181.3L391,177.1L389.7,176.1Z" fill="#dcbd29"/><path d="M402.2,193.6L403.6,194.1L401.1,190.5L399.8,190Z" fill="#4acb84"/><path d="M409.9,201.1L411.2,201.3L408.7,198.2L407.4,197.9Z" fill="#19bfb6"/><path d="M438.3,207.9L439.6,206.2L437.1,204.6L435.8,205.7Z" fill="#18addb"/><path d="M398.4,189.3L399.8,190L397.3,186.1L396,185.4Z" fill="#81cc59"/><path d="M364,217L365.4,216.6L362.9,215.2L361.6,215.6Z" fill="#2d8cf3"/><path d="M439.4,218.7L440.7,209.5L438.3,207.9L436.9,216.3Z" fill="#2f81fa"/><path d="M370.5,217.1L371.9,216.6L369.4,215.2L368.1,215.7Z" fill="#2d8cf3"/><path d="M413.7,204.3L415,204.4L412.5,201.5L411.2,201.3Z" fill="#02bac3"/><path d="M422.6,209.9L423.9,210.1L421.5,207.4L420.1,207.3Z" fill="#1ca9df"/><path d="M374.5,215.7L375.9,207.3L373.4,205L372.1,214.3Z" fill="#2d8cf3"/><path d="M444.7,206.4L446.1,206L443.6,205L442.3,205.3Z" fill="#08b5d0"/><path d="M426.4,213.1L427.8,215L425.3,210.8L423.9,210.1Z" fill="#23a0e5"/><path d="M394.6,184.6L396,185.4L393.5,181.3L392.2,180.4Z" fill="#b9c431"/><path d="M417.5,207.2L418.8,207.2L416.3,204.5L415,204.4Z" fill="#08b5d0"/><path d="M362.7,217.5L364,217L361.6,215.6L360.2,216.1Z" fill="#2d8cf3"/><path d="M404.7,197.2L406.1,197.6L403.6,194.1L402.2,193.6Z" fill="#37c897"/><path d="M369.2,217.5L370.5,217.1L368.1,215.7L366.7,216.1Z" fill="#2d8cf3"/><path d="M373.4,205L374.8,201.2L372.3,198.5L371,202.6Z" fill="#01b8ca"/><path d="M408.5,200.9L409.9,201.1L407.4,197.9L406.1,197.6Z" fill="#24c1ae"/><path d="M375.7,217.6L377,217.1L374.5,215.7L373.2,216.2Z" fill="#2d8cf3"/><path d="M400.9,193.2L402.2,193.6L399.8,190L398.4,189.3Z" fill="#57cc7a"/><path d="M440.3,225.3L441.6,224.7L439.2,231L437.8,231.8Z" fill="#3e6fff"/><path d="M443.4,206.8L444.7,206.4L442.3,205.3L440.9,205.6Z" fill="#08b5d0"/><path d="M412.3,204.2L413.7,204.3L411.2,201.3L409.9,201.1Z" fill="#02bac3"/><path d="M390.8,179.5L392.2,180.4L389.7,176.1L388.4,175Z" fill="#e6bb2d"/><path d="M421.3,209.8L422.6,209.9L420.1,207.3L418.8,207.2Z" fill="#18addb"/><path d="M435.1,222.7L436.5,227.9L434,229.3L432.7,222.8Z" fill="#327cfc"/><path d="M441.6,224.7L443,221.8L440.5,225.9L439.2,231Z" fill="#3e6fff"/><path d="M428.9,216.2L430.2,219.7L427.8,215L426.4,213.1Z" fill="#2797eb"/><path d="M397.1,188.7L398.4,189.3L396,185.4L394.6,184.6Z" fill="#8fcb4e"/><path d="M374.8,201.2L376.1,199.5L373.6,196.6L372.3,198.5Z" fill="#24c1ae"/><path d="M376.1,199.5L377.4,197.7L375,194.7L373.6,196.6Z" fill="#2cc4a7"/><path d="M361.4,217.9L362.7,217.5L360.2,216.1L358.9,216.5Z" fill="#2d8cf3"/><path d="M367.8,218L369.2,217.5L366.7,216.1L365.4,216.6Z" fill="#2d8cf3"/><path d="M416.1,207.1L417.5,207.2L415,204.4L413.7,204.3Z" fill="#08b5d0"/><path d="M374.3,218L375.7,217.6L373.2,216.2L371.9,216.6Z" fill="#2d8cf3"/><path d="M442.1,207.5L443.4,206.8L440.9,205.6L439.6,206.2Z" fill="#08b5d0"/><path d="M425.1,212.4L426.4,213.1L423.9,210.1L422.6,209.9Z" fill="#20a5e3"/><path d="M393.3,183.9L394.6,184.6L392.2,180.4L390.8,179.5Z" fill="#c5c22a"/><path d="M440.7,209.5L442.1,207.5L439.6,206.2L438.3,207.9Z" fill="#18addb"/><path d="M407.2,200.6L408.5,200.9L406.1,197.6L404.7,197.2Z" fill="#2cc4a7"/><path d="M377.4,197.7L378.8,194L376.3,190.6L375,194.7Z" fill="#37c897"/><path d="M403.4,196.8L404.7,197.2L402.2,193.6L400.9,193.2Z" fill="#3fca8e"/><path d="M360,218.4L361.4,217.9L358.9,216.5L357.6,217Z" fill="#2d8cf3"/><path d="M411,204.1L412.3,204.2L409.9,201.1L408.5,200.9Z" fill="#0bbdbd"/><path d="M419.9,209.6L421.3,209.8L418.8,207.2L417.5,207.2Z" fill="#12b1d6"/><path d="M377,217.1L378.3,209.6L375.9,207.3L374.5,215.7Z" fill="#2d8cf3"/><path d="M399.6,192.7L400.9,193.2L398.4,189.3L397.1,188.7Z" fill="#64cd6f"/><path d="M366.5,218.4L367.8,218L365.4,216.6L364,217Z" fill="#2d8cf3"/><path d="M373,218.5L374.3,218L371.9,216.6L370.5,217.1Z" fill="#2d8cf3"/><path d="M441.8,218.5L443.2,210.1L440.7,209.5L439.4,218.7Z" fill="#2e87f7"/><path d="M439,223.4L440.3,225.3L437.8,231.8L436.5,227.9Z" fill="#2f81fa"/><path d="M375.9,207.3L377.2,203.9L374.8,201.2L373.4,205Z" fill="#08b5d0"/><path d="M414.8,207.1L416.1,207.1L413.7,204.3L412.3,204.2Z" fill="#01b8ca"/><path d="M431.3,218.4L432.7,222.8L430.2,219.7L428.9,216.2Z" fill="#2b91ef"/><path d="M395.8,188.1L397.1,188.7L394.6,184.6L393.3,183.9Z" fill="#9dc943"/><path d="M389.5,178.5L390.8,179.5L388.4,175L387,173.9Z" fill="#f8ba3d"/><path d="M447.2,207.2L448.5,206.8L446.1,206L444.7,206.4Z" fill="#01b8ca"/><path d="M423.7,212.2L425.1,212.4L422.6,209.9L421.3,209.8Z" fill="#1ca9df"/><path d="M358.7,218.8L360,218.4L357.6,217L356.2,217.4Z" fill="#2d8cf3"/><path d="M378.6,202.3L379.9,200.7L377.4,197.7L376.1,199.5Z" fill="#24c1ae"/><path d="M377.2,203.9L378.6,202.3L376.1,199.5L374.8,201.2Z" fill="#0bbdbd"/><path d="M365.2,218.9L366.5,218.4L364,217L362.7,217.5Z" fill="#2d8cf3"/><path d="M443,221.8L444.3,216.7L441.8,218.5L440.5,225.9Z" fill="#2f81fa"/><path d="M371.7,218.9L373,218.5L370.5,217.1L369.2,217.5Z" fill="#2d8cf3"/><path d="M405.8,200.4L407.2,200.6L404.7,197.2L403.4,196.8Z" fill="#2cc4a7"/><path d="M378.1,219L379.5,218.6L377,217.1L375.7,217.6Z" fill="#2d8cf3"/><path d="M402,196.5L403.4,196.8L400.9,193.2L399.6,192.7Z" fill="#4acb84"/><path d="M418.6,209.4L419.9,209.6L417.5,207.2L416.1,207.1Z" fill="#12b1d6"/><path d="M409.6,203.9L411,204.1L408.5,200.9L407.2,200.6Z" fill="#19bfb6"/><path d="M378.8,194L380.1,189.8L377.7,186L376.3,190.6Z" fill="#57cc7a"/><path d="M427.5,214.7L428.9,216.2L426.4,213.1L425.1,212.4Z" fill="#23a0e5"/><path d="M392,183L393.3,183.9L390.8,179.5L389.5,178.5Z" fill="#dcbd29"/><path d="M379.9,200.7L381.2,197.3L378.8,194L377.4,197.7Z" fill="#2cc4a7"/><path d="M398.2,192.2L399.6,192.7L397.1,188.7L395.8,188.1Z" fill="#72cd64"/><path d="M445.9,207.6L447.2,207.2L444.7,206.4L443.4,206.8Z" fill="#01b8ca"/><path d="M413.4,207.1L414.8,207.1L412.3,204.2L411,204.1Z" fill="#01b8ca"/><path d="M357.3,219.3L358.7,218.8L356.2,217.4L354.9,217.9Z" fill="#2d8cf3"/><path d="M363.8,219.3L365.2,218.9L362.7,217.5L361.4,217.9Z" fill="#2d8cf3"/><path d="M370.3,219.4L371.7,218.9L369.2,217.5L367.8,218Z" fill="#2d8cf3"/><path d="M376.8,219.5L378.1,219L375.7,217.6L374.3,218Z" fill="#2d8cf3"/><path d="M394.4,187.4L395.8,188.1L393.3,183.9L392,183Z" fill="#abc739"/><path d="M422.4,211.1L423.7,212.2L421.3,209.8L419.9,209.6Z" fill="#18addb"/><path d="M444.5,208.3L445.9,207.6L443.4,206.8L442.1,207.5Z" fill="#01b8ca"/><path d="M378.3,209.6L379.7,206.5L377.2,203.9L375.9,207.3Z" fill="#12b1d6"/><path d="M379.5,218.6L380.8,211.8L378.3,209.6L377,217.1Z" fill="#2d8cf3"/><path d="M417.3,209.2L418.6,209.4L416.1,207.1L414.8,207.1Z" fill="#08b5d0"/><path d="M404.5,200.1L405.8,200.4L403.4,196.8L402,196.5Z" fill="#31c69f"/><path d="M408.3,203.8L409.6,203.9L407.2,200.6L405.8,200.4Z" fill="#19bfb6"/><path d="M356,219.7L357.3,219.3L354.9,217.9L353.5,218.3Z" fill="#2d8cf3"/><path d="M388.2,176.9L389.5,178.5L387,173.9L385.7,172.1Z" fill="#fec338"/><path d="M400.7,196.1L402,196.5L399.6,192.7L398.2,192.2Z" fill="#57cc7a"/><path d="M381.2,197.3L382.6,193.5L380.1,189.8L378.8,194Z" fill="#3fca8e"/><path d="M443.2,210.1L444.5,208.3L442.1,207.5L440.7,209.5Z" fill="#12b1d6"/><path d="M381,205L382.4,203.5L379.9,200.7L378.6,202.3Z" fill="#0bbdbd"/><path d="M362.5,219.8L363.8,219.3L361.4,217.9L360,218.4Z" fill="#2d8cf3"/><path d="M369,219.8L370.3,219.4L367.8,218L366.5,218.4Z" fill="#2d8cf3"/><path d="M379.7,206.5L381,205L378.6,202.3L377.2,203.9Z" fill="#02bac3"/><path d="M412.1,207.1L413.4,207.1L411,204.1L409.6,203.9Z" fill="#02bac3"/><path d="M426.2,214.5L427.5,214.7L425.1,212.4L423.7,212.2Z" fill="#20a5e3"/><path d="M375.5,219.9L376.8,219.5L374.3,218L373,218.5Z" fill="#2d8cf3"/><path d="M380.1,189.8L381.5,185.6L379,181.4L377.7,186Z" fill="#8fcb4e"/><path d="M382.4,203.5L383.7,200.5L381.2,197.3L379.9,200.7Z" fill="#19bfb6"/><path d="M396.9,191.6L398.2,192.2L395.8,188.1L394.4,187.4Z" fill="#81cc59"/><path d="M433.8,219.2L435.1,222.7L432.7,222.8L431.3,218.4Z" fill="#2797eb"/><path d="M390.6,181.7L392,183L389.5,178.5L388.2,176.9Z" fill="#f0ba36"/><path d="M430,216.7L431.3,218.4L428.9,216.2L427.5,214.7Z" fill="#259be8"/><path d="M354.7,220.2L356,219.7L353.5,218.3L352.2,218.8Z" fill="#2d8cf3"/><path d="M361.1,220.2L362.5,219.8L360,218.4L358.7,218.8Z" fill="#2d8cf3"/><path d="M367.6,220.3L369,219.8L366.5,218.4L365.2,218.9Z" fill="#2d8cf3"/><path d="M415.9,209.1L417.3,209.2L414.8,207.1L413.4,207.1Z" fill="#08b5d0"/><path d="M437.6,220.7L439,223.4L436.5,227.9L435.1,222.7Z" fill="#2b91ef"/><path d="M421.1,210L422.4,211.1L419.9,209.6L418.6,209.4Z" fill="#08b5d0"/><path d="M374.1,220.4L375.5,219.9L373,218.5L371.7,218.9Z" fill="#2d8cf3"/><path d="M403.2,199.9L404.5,200.1L402,196.5L400.7,196.1Z" fill="#37c897"/><path d="M407,203.6L408.3,203.8L405.8,200.4L404.5,200.1Z" fill="#24c1ae"/><path d="M449.7,207.6L451,207.2L448.5,206.8L447.2,207.2Z" fill="#02bac3"/><path d="M380.6,220.4L381.9,220L379.5,218.6L378.1,219Z" fill="#2d8cf3"/><path d="M393.1,186.2L394.4,187.4L392,183L390.6,181.7Z" fill="#c5c22a"/><path d="M382.6,193.5L383.9,189.6L381.5,185.6L380.1,189.8Z" fill="#72cd64"/><path d="M410.8,207.1L412.1,207.1L409.6,203.9L408.3,203.8Z" fill="#02bac3"/><path d="M383.7,200.5L385,197L382.6,193.5L381.2,197.3Z" fill="#31c69f"/><path d="M399.4,195.6L400.7,196.1L398.2,192.2L396.9,191.6Z" fill="#64cd6f"/><path d="M444.3,216.7L445.7,209.8L443.2,210.1L441.8,218.5Z" fill="#259be8"/><path d="M359.8,220.7L361.1,220.2L358.7,218.8L357.3,219.3Z" fill="#2d8cf3"/><path d="M381.5,185.6L382.8,181.9L380.3,177.4L379,181.4Z" fill="#c5c22a"/><path d="M383.5,207.7L384.8,206.3L382.4,203.5L381,205Z" fill="#02bac3"/><path d="M380.8,211.8L382.2,209.1L379.7,206.5L378.3,209.6Z" fill="#18addb"/><path d="M366.3,220.7L367.6,220.3L365.2,218.9L363.8,219.3Z" fill="#2d8cf3"/><path d="M372.8,220.8L374.1,220.4L371.7,218.9L370.3,219.4Z" fill="#2d8cf3"/><path d="M384.8,206.3L386.2,203.6L383.7,200.5L382.4,203.5Z" fill="#0bbdbd"/><path d="M382.2,209.1L383.5,207.7L381,205L379.7,206.5Z" fill="#01b8ca"/><path d="M379.3,220.9L380.6,220.4L378.1,219L376.8,219.5Z" fill="#2d8cf3"/><path d="M448.3,208L449.7,207.6L447.2,207.2L445.9,207.6Z" fill="#02bac3"/><path d="M424.9,211.2L426.2,214.5L423.7,212.2L422.4,211.1Z" fill="#08b5d0"/><path d="M395.5,190.6L396.9,191.6L394.4,187.4L393.1,186.2Z" fill="#9dc943"/><path d="M414.6,209.3L415.9,209.1L413.4,207.1L412.1,207.1Z" fill="#01b8ca"/><path d="M386.8,175.3L388.2,176.9L385.7,172.1L384.3,170.2Z" fill="#fad62d"/><path d="M381.9,220L383.3,214L380.8,211.8L379.5,218.6Z" fill="#2d8cf3"/><path d="M405.6,203.5L407,203.6L404.5,200.1L403.2,199.9Z" fill="#2cc4a7"/><path d="M428.7,216.4L430,216.7L427.5,214.7L426.2,214.5Z" fill="#23a0e5"/><path d="M401.8,199.5L403.2,199.9L400.7,196.1L399.4,195.6Z" fill="#3fca8e"/><path d="M385,197L386.4,193.6L383.9,189.6L382.6,193.5Z" fill="#4acb84"/><path d="M409.4,207.2L410.8,207.1L408.3,203.8L407,203.6Z" fill="#0bbdbd"/><path d="M358.5,221.1L359.8,220.7L357.3,219.3L356,219.7Z" fill="#2d8cf3"/><path d="M383.9,189.6L385.3,186.3L382.8,181.9L381.5,185.6Z" fill="#9dc943"/><path d="M419.7,209L421.1,210L418.6,209.4L417.3,209.2Z" fill="#02bac3"/><path d="M389.3,180.3L390.6,181.7L388.2,176.9L386.8,175.3Z" fill="#febe3c"/><path d="M365,221.2L366.3,220.7L363.8,219.3L362.5,219.8Z" fill="#2d8cf3"/><path d="M382.8,181.9L384.1,179.1L381.7,174.4L380.3,177.4Z" fill="#f0ba36"/><path d="M371.4,221.3L372.8,220.8L370.3,219.4L369,219.8Z" fill="#2d8cf3"/><path d="M444.1,219.6L445.4,218.3L443,221.8L441.6,224.7Z" fill="#2797eb"/><path d="M386.2,203.6L387.5,200.5L385,197L383.7,200.5Z" fill="#24c1ae"/><path d="M447,208.6L448.3,208L445.9,207.6L444.5,208.3Z" fill="#02bac3"/><path d="M377.9,221.3L379.3,220.9L376.8,219.5L375.5,219.9Z" fill="#2d8cf3"/><path d="M398,194.8L399.4,195.6L396.9,191.6L395.5,190.6Z" fill="#72cd64"/><path d="M442.8,220.1L444.1,219.6L441.6,224.7L440.3,225.3Z" fill="#2797eb"/><path d="M413.2,209.5L414.6,209.3L412.1,207.1L410.8,207.1Z" fill="#01b8ca"/><path d="M391.7,185L393.1,186.2L390.6,181.7L389.3,180.3Z" fill="#dcbd29"/><path d="M432.5,217.9L433.8,219.2L431.3,218.4L430,216.7Z" fill="#23a0e5"/><path d="M445.7,209.8L447,208.6L444.5,208.3L443.2,210.1Z" fill="#01b8ca"/><path d="M385.3,186.3L386.6,183.8L384.1,179.1L382.8,181.9Z" fill="#d1bf27"/><path d="M384.1,179.1L385.5,176.4L383,171.3L381.7,174.4Z" fill="#febe3c"/><path d="M357.1,221.6L358.5,221.1L356,219.7L354.7,220.2Z" fill="#2d8cf3"/><path d="M385.5,176.4L386.8,175.3L384.3,170.2L383,171.3Z" fill="#fccf30"/><path d="M386.4,193.6L387.7,190.6L385.3,186.3L383.9,189.6Z" fill="#81cc59"/><path d="M363.6,221.6L365,221.2L362.5,219.8L361.1,220.2Z" fill="#2d8cf3"/><path d="M445.4,218.3L446.8,215.1L444.3,216.7L443,221.8Z" fill="#259be8"/><path d="M370.1,221.7L371.4,221.3L369,219.8L367.6,220.3Z" fill="#2d8cf3"/><path d="M386,210.3L387.3,209L384.8,206.3L383.5,207.7Z" fill="#08b5d0"/><path d="M408.1,207.3L409.4,207.2L407,203.6L405.6,203.5Z" fill="#0bbdbd"/><path d="M404.3,203.2L405.6,203.5L403.2,199.9L401.8,199.5Z" fill="#2cc4a7"/><path d="M376.6,221.8L377.9,221.3L375.5,219.9L374.1,220.4Z" fill="#2d8cf3"/><path d="M387.3,209L388.6,206.6L386.2,203.6L384.8,206.3Z" fill="#01b8ca"/><path d="M387.5,200.5L388.9,197.3L386.4,193.6L385,197Z" fill="#37c897"/><path d="M383.1,221.8L384.4,221.4L381.9,220L380.6,220.4Z" fill="#2d8cf3"/><path d="M383.3,214L384.6,211.5L382.2,209.1L380.8,211.8Z" fill="#1ca9df"/><path d="M394.2,189.6L395.5,190.6L393.1,186.2L391.7,185Z" fill="#b9c431"/><path d="M386.6,183.8L387.9,181.2L385.5,176.4L384.1,179.1Z" fill="#e6bb2d"/><path d="M387.9,181.2L389.3,180.3L386.8,175.3L385.5,176.4Z" fill="#f8ba3d"/><path d="M384.6,211.5L386,210.3L383.5,207.7L382.2,209.1Z" fill="#08b5d0"/><path d="M400.5,198.9L401.8,199.5L399.4,195.6L398,194.8Z" fill="#4acb84"/><path d="M418.4,208.3L419.7,209L417.3,209.2L415.9,209.1Z" fill="#0bbdbd"/><path d="M387.7,190.6L389.1,188.2L386.6,183.8L385.3,186.3Z" fill="#9dc943"/><path d="M436.3,219.1L437.6,220.7L435.1,222.7L433.8,219.2Z" fill="#259be8"/><path d="M411.9,209.7L413.2,209.5L410.8,207.1L409.4,207.2Z" fill="#01b8ca"/><path d="M388.6,206.6L390,203.8L387.5,200.5L386.2,203.6Z" fill="#19bfb6"/><path d="M362.3,222.1L363.6,221.6L361.1,220.2L359.8,220.7Z" fill="#2d8cf3"/><path d="M441.4,219.7L442.8,220.1L440.3,225.3L439,223.4Z" fill="#259be8"/><path d="M390.4,185.9L391.7,185L389.3,180.3L387.9,181.2Z" fill="#dcbd29"/><path d="M368.8,222.2L370.1,221.7L367.6,220.3L366.3,220.7Z" fill="#2d8cf3"/><path d="M389.1,188.2L390.4,185.9L387.9,181.2L386.6,183.8Z" fill="#c5c22a"/><path d="M423.5,208.1L424.9,211.2L422.4,211.1L421.1,210Z" fill="#19bfb6"/><path d="M388.9,197.3L390.2,194.6L387.7,190.6L386.4,193.6Z" fill="#57cc7a"/><path d="M375.2,222.2L376.6,221.8L374.1,220.4L372.8,220.8Z" fill="#2d8cf3"/><path d="M384.4,221.4L385.7,216.2L383.3,214L381.9,220Z" fill="#2d8cf3"/><path d="M452.1,207.5L453.5,207.1L451,207.2L449.7,207.6Z" fill="#19bfb6"/><path d="M396.7,194L398,194.8L395.5,190.6L394.2,189.6Z" fill="#81cc59"/><path d="M381.7,222.3L383.1,221.8L380.6,220.4L379.3,220.9Z" fill="#2d8cf3"/><path d="M406.7,207.5L408.1,207.3L405.6,203.5L404.3,203.2Z" fill="#0bbdbd"/><path d="M431.1,217.8L432.5,217.9L430,216.7L428.7,216.4Z" fill="#23a0e5"/><path d="M427.3,211L428.7,216.4L426.2,214.5L424.9,211.2Z" fill="#02bac3"/><path d="M390.2,194.6L391.5,192.6L389.1,188.2L387.7,190.6Z" fill="#81cc59"/><path d="M390,203.8L391.3,201L388.9,197.3L387.5,200.5Z" fill="#2cc4a7"/><path d="M392.9,190.5L394.2,189.6L391.7,185L390.4,185.9Z" fill="#abc739"/><path d="M402.9,202.8L404.3,203.2L401.8,199.5L400.5,198.9Z" fill="#31c69f"/><path d="M417,208.9L418.4,208.3L415.9,209.1L414.6,209.3Z" fill="#0bbdbd"/><path d="M410.6,210.3L411.9,209.7L409.4,207.2L408.1,207.3Z" fill="#01b8ca"/><path d="M360.9,222.5L362.3,222.1L359.8,220.7L358.5,221.1Z" fill="#2d8cf3"/><path d="M391.5,192.6L392.9,190.5L390.4,185.9L389.1,188.2Z" fill="#8fcb4e"/><path d="M367.4,222.6L368.8,222.2L366.3,220.7L365,221.2Z" fill="#2d8cf3"/><path d="M373.9,222.7L375.2,222.2L372.8,220.8L371.4,221.3Z" fill="#2d8cf3"/><path d="M450.8,207.9L452.1,207.5L449.7,207.6L448.3,208Z" fill="#19bfb6"/><path d="M389.8,211.7L391.1,209.5L388.6,206.6L387.3,209Z" fill="#08b5d0"/><path d="M388.4,212.8L389.8,211.7L387.3,209L386,210.3Z" fill="#12b1d6"/><path d="M380.4,222.7L381.7,222.3L379.3,220.9L377.9,221.3Z" fill="#2d8cf3"/><path d="M399.1,198.2L400.5,198.9L398,194.8L396.7,194Z" fill="#57cc7a"/><path d="M391.3,201L392.7,198.6L390.2,194.6L388.9,197.3Z" fill="#3fca8e"/><path d="M446.8,215.1L448.1,209.2L445.7,209.8L444.3,216.7Z" fill="#1ca9df"/><path d="M395.3,194.8L396.7,194L394.2,189.6L392.9,190.5Z" fill="#81cc59"/><path d="M387.1,214L388.4,212.8L386,210.3L384.6,211.5Z" fill="#18addb"/><path d="M391.1,209.5L392.4,207L390,203.8L388.6,206.6Z" fill="#02bac3"/><path d="M392.7,198.6L394,196.7L391.5,192.6L390.2,194.6Z" fill="#57cc7a"/><path d="M385.7,216.2L387.1,214L384.6,211.5L383.3,214Z" fill="#1ca9df"/><path d="M405.4,207.6L406.7,207.5L404.3,203.2L402.9,202.8Z" fill="#19bfb6"/><path d="M409.2,211.1L410.6,210.3L408.1,207.3L406.7,207.5Z" fill="#01b8ca"/><path d="M394,196.7L395.3,194.8L392.9,190.5L391.5,192.6Z" fill="#64cd6f"/><path d="M359.6,223L360.9,222.5L358.5,221.1L357.1,221.6Z" fill="#2d8cf3"/><path d="M415.7,209.2L417,208.9L414.6,209.3L413.2,209.5Z" fill="#0bbdbd"/><path d="M366.1,223.1L367.4,222.6L365,221.2L363.6,221.6Z" fill="#2d8cf3"/><path d="M372.6,223.1L373.9,222.7L371.4,221.3L370.1,221.7Z" fill="#2d8cf3"/><path d="M449.5,208.4L450.8,207.9L448.3,208L447,208.6Z" fill="#19bfb6"/><path d="M379,223.2L380.4,222.7L377.9,221.3L376.6,221.8Z" fill="#2d8cf3"/><path d="M434.9,218.6L436.3,219.1L433.8,219.2L432.5,217.9Z" fill="#23a0e5"/><path d="M440.1,219L441.4,219.7L439,223.4L437.6,220.7Z" fill="#20a5e3"/><path d="M392.4,207L393.8,204.5L391.3,201L390,203.8Z" fill="#19bfb6"/><path d="M385.5,223.2L386.9,222.8L384.4,221.4L383.1,221.8Z" fill="#2d8cf3"/><path d="M401.6,202.3L402.9,202.8L400.5,198.9L399.1,198.2Z" fill="#37c897"/><path d="M397.8,199L399.1,198.2L396.7,194L395.3,194.8Z" fill="#57cc7a"/><path d="M393.8,204.5L395.1,202.4L392.7,198.6L391.3,201Z" fill="#2cc4a7"/><path d="M407.9,211.8L409.2,211.1L406.7,207.5L405.4,207.6Z" fill="#01b8ca"/><path d="M448.1,209.2L449.5,208.4L447,208.6L445.7,209.8Z" fill="#0bbdbd"/><path d="M422.2,205L423.5,208.1L421.1,210L419.7,209Z" fill="#37c897"/><path d="M396.5,200.7L397.8,199L395.3,194.8L394,196.7Z" fill="#4acb84"/><path d="M395.1,202.4L396.5,200.7L394,196.7L392.7,198.6Z" fill="#37c897"/><path d="M364.7,223.5L366.1,223.1L363.6,221.6L362.3,222.1Z" fill="#2d8cf3"/><path d="M386.9,222.8L388.2,218.3L385.7,216.2L384.4,221.4Z" fill="#2d8cf3"/><path d="M414.4,209L415.7,209.2L413.2,209.5L411.9,209.7Z" fill="#19bfb6"/><path d="M371.2,223.6L372.6,223.1L370.1,221.7L368.8,222.2Z" fill="#2d8cf3"/><path d="M454.6,210.5L455.9,210.1L453.5,207.1L452.1,207.5Z" fill="#02bac3"/><path d="M377.7,223.6L379,223.2L376.6,221.8L375.2,222.2Z" fill="#2d8cf3"/><path d="M404.1,207.7L405.4,207.6L402.9,202.8L401.6,202.3Z" fill="#19bfb6"/><path d="M384.2,223.7L385.5,223.2L383.1,221.8L381.7,222.3Z" fill="#2d8cf3"/><path d="M392.2,214.2L393.6,212.3L391.1,209.5L389.8,211.7Z" fill="#12b1d6"/><path d="M390.9,215.3L392.2,214.2L389.8,211.7L388.4,212.8Z" fill="#18addb"/><path d="M393.6,212.3L394.9,210.1L392.4,207L391.1,209.5Z" fill="#08b5d0"/><path d="M400.3,203L401.6,202.3L399.1,198.2L397.8,199Z" fill="#37c897"/><path d="M406.5,212.6L407.9,211.8L405.4,207.6L404.1,207.7Z" fill="#08b5d0"/><path d="M429.8,212.5L431.1,217.8L428.7,216.4L427.3,211Z" fill="#02bac3"/><path d="M433.6,218.7L434.9,218.6L432.5,217.9L431.1,217.8Z" fill="#20a5e3"/><path d="M363.4,224L364.7,223.5L362.3,222.1L360.9,222.5Z" fill="#2d8cf3"/><path d="M394.9,210.1L396.2,207.9L393.8,204.5L392.4,207Z" fill="#02bac3"/><path d="M389.5,216.3L390.9,215.3L388.4,212.8L387.1,214Z" fill="#1ca9df"/><path d="M369.9,224L371.2,223.6L368.8,222.2L367.4,222.6Z" fill="#2d8cf3"/><path d="M398.9,204.5L400.3,203L397.8,199L396.5,200.7Z" fill="#31c69f"/><path d="M413,209.9L414.4,209L411.9,209.7L410.6,210.3Z" fill="#0bbdbd"/><path d="M388.2,218.3L389.5,216.3L387.1,214L385.7,216.2Z" fill="#20a5e3"/><path d="M453.3,211L454.6,210.5L452.1,207.5L450.8,207.9Z" fill="#02bac3"/><path d="M376.4,224.1L377.7,223.6L375.2,222.2L373.9,222.7Z" fill="#2d8cf3"/><path d="M396.2,207.9L397.6,206L395.1,202.4L393.8,204.5Z" fill="#19bfb6"/><path d="M397.6,206L398.9,204.5L396.5,200.7L395.1,202.4Z" fill="#2cc4a7"/><path d="M402.7,208.7L404.1,207.7L401.6,202.3L400.3,203Z" fill="#0bbdbd"/><path d="M382.9,224.1L384.2,223.7L381.7,222.3L380.4,222.7Z" fill="#2d8cf3"/><path d="M447.9,216.5L449.2,215L446.8,215.1L445.4,218.3Z" fill="#18addb"/><path d="M446.6,217.2L447.9,216.5L445.4,218.3L444.1,219.6Z" fill="#18addb"/><path d="M438.7,218.7L440.1,219L437.6,220.7L436.3,219.1Z" fill="#20a5e3"/><path d="M405.2,214L406.5,212.6L404.1,207.7L402.7,208.7Z" fill="#12b1d6"/><path d="M388,227.1L389.3,226.6L386.9,222.8L385.5,223.2Z" fill="#2f81fa"/><path d="M394.7,219.1L396,217.4L393.6,212.3L392.2,214.2Z" fill="#23a0e5"/><path d="M401.4,210.3L402.7,208.7L400.3,203L398.9,204.5Z" fill="#02bac3"/><path d="M411.7,211.4L413,209.9L410.6,210.3L409.2,211.1Z" fill="#02bac3"/><path d="M396,217.4L397.4,215.5L394.9,210.1L393.6,212.3Z" fill="#20a5e3"/><path d="M403.9,215.8L405.2,214L402.7,208.7L401.4,210.3Z" fill="#18addb"/><path d="M362.1,224.4L363.4,224L360.9,222.5L359.6,223Z" fill="#2d8cf3"/><path d="M389.3,226.6L390.7,222.7L388.2,218.3L386.9,222.8Z" fill="#2f81fa"/><path d="M402.5,217.3L403.9,215.8L401.4,210.3L400.1,211.8Z" fill="#20a5e3"/><path d="M397.4,215.5L398.7,213.5L396.2,207.9L394.9,210.1Z" fill="#18addb"/><path d="M400.1,211.8L401.4,210.3L398.9,204.5L397.6,206Z" fill="#01b8ca"/><path d="M393.4,220.1L394.7,219.1L392.2,214.2L390.9,215.3Z" fill="#259be8"/><path d="M426,205.8L427.3,211L424.9,211.2L423.5,208.1Z" fill="#37c897"/><path d="M398.7,213.5L400.1,211.8L397.6,206L396.2,207.9Z" fill="#08b5d0"/><path d="M368.5,224.5L369.9,224L367.4,222.6L366.1,223.1Z" fill="#2d8cf3"/><path d="M401.2,218.9L402.5,217.3L400.1,211.8L398.7,213.5Z" fill="#23a0e5"/><path d="M398.5,222.4L399.8,220.7L397.4,215.5L396,217.4Z" fill="#2b91ef"/><path d="M399.8,220.7L401.2,218.9L398.7,213.5L397.4,215.5Z" fill="#259be8"/><path d="M397.2,223.9L398.5,222.4L396,217.4L394.7,219.1Z" fill="#2d8cf3"/><path d="M457.1,213.4L458.4,212.9L455.9,210.1L454.6,210.5Z" fill="#08b5d0"/><path d="M451.9,211.4L453.3,211L450.8,207.9L449.5,208.4Z" fill="#02bac3"/><path d="M375,224.5L376.4,224.1L373.9,222.7L372.6,223.1Z" fill="#2d8cf3"/><path d="M410.3,213L411.7,211.4L409.2,211.1L407.9,211.8Z" fill="#01b8ca"/><path d="M445.2,217.6L446.6,217.2L444.1,219.6L442.8,220.1Z" fill="#18addb"/><path d="M381.5,224.6L382.9,224.1L380.4,222.7L379,223.2Z" fill="#2d8cf3"/><path d="M420.8,202.8L422.2,205L419.7,209L418.4,208.3Z" fill="#57cc7a"/><path d="M392,221L393.4,220.1L390.9,215.3L389.5,216.3Z" fill="#259be8"/><path d="M449.2,215L450.6,212L448.1,209.2L446.8,215.1Z" fill="#12b1d6"/><path d="M386.7,227.5L388,227.1L385.5,223.2L384.2,223.7Z" fill="#2f81fa"/><path d="M395.8,224.8L397.2,223.9L394.7,219.1L393.4,220.1Z" fill="#2d8cf3"/><path d="M409,214.6L410.3,213L407.9,211.8L406.5,212.6Z" fill="#08b5d0"/><path d="M390.7,222.7L392,221L389.5,216.3L388.2,218.3Z" fill="#2b91ef"/><path d="M406.3,219L407.7,216.7L405.2,214L403.9,215.8Z" fill="#20a5e3"/><path d="M390.5,230.9L391.8,230.5L389.3,226.6L388,227.1Z" fill="#3e6fff"/><path d="M405,220.4L406.3,219L403.9,215.8L402.5,217.3Z" fill="#23a0e5"/><path d="M407.7,216.7L409,214.6L406.5,212.6L405.2,214Z" fill="#18addb"/><path d="M391.8,230.5L393.1,227.2L390.7,222.7L389.3,226.6Z" fill="#3e6fff"/><path d="M367.2,224.9L368.5,224.5L366.1,223.1L364.7,223.5Z" fill="#2d8cf3"/><path d="M450.6,212L451.9,211.4L449.5,208.4L448.1,209.2Z" fill="#02bac3"/><path d="M403.6,221.8L405,220.4L402.5,217.3L401.2,218.9Z" fill="#259be8"/><path d="M455.7,213.8L457.1,213.4L454.6,210.5L453.3,211Z" fill="#08b5d0"/><path d="M373.7,225L375,224.5L372.6,223.1L371.2,223.6Z" fill="#2d8cf3"/><path d="M394.5,225.7L395.8,224.8L393.4,220.1L392,221Z" fill="#2e87f7"/><path d="M437.4,218.8L438.7,218.7L436.3,219.1L434.9,218.6Z" fill="#1ca9df"/><path d="M380.2,225L381.5,224.6L379,223.2L377.7,223.6Z" fill="#2d8cf3"/><path d="M402.3,223.3L403.6,221.8L401.2,218.9L399.8,220.7Z" fill="#2b91ef"/><path d="M443.9,217.8L445.2,217.6L442.8,220.1L441.4,219.7Z" fill="#18addb"/><path d="M401,224.8L402.3,223.3L399.8,220.7L398.5,222.4Z" fill="#2d8cf3"/><path d="M385.3,228L386.7,227.5L384.2,223.7L382.9,224.1Z" fill="#2f81fa"/><path d="M393.1,227.2L394.5,225.7L392,221L390.7,222.7Z" fill="#2f81fa"/><path d="M399.6,226.1L401,224.8L398.5,222.4L397.2,223.9Z" fill="#2e87f7"/><path d="M432.3,215.7L433.6,218.7L431.1,217.8L429.8,212.5Z" fill="#08b5d0"/><path d="M389.1,231.4L390.5,230.9L388,227.1L386.7,227.5Z" fill="#3e6fff"/><path d="M419.5,204.2L420.8,202.8L418.4,208.3L417,208.9Z" fill="#3fca8e"/><path d="M365.9,225.4L367.2,224.9L364.7,223.5L363.4,224Z" fill="#2d8cf3"/><path d="M372.3,225.4L373.7,225L371.2,223.6L369.9,224Z" fill="#2d8cf3"/><path d="M398.3,226.9L399.6,226.1L397.2,223.9L395.8,224.8Z" fill="#2e87f7"/><path d="M454.4,214.3L455.7,213.8L453.3,211L451.9,211.4Z" fill="#08b5d0"/><path d="M378.8,225.5L380.2,225L377.7,223.6L376.4,224.1Z" fill="#2d8cf3"/><path d="M384,228.4L385.3,228L382.9,224.1L381.5,224.6Z" fill="#2f81fa"/><path d="M436.1,219.1L437.4,218.8L434.9,218.6L433.6,218.7Z" fill="#1ca9df"/><path d="M418.2,204.6L419.5,204.2L417,208.9L415.7,209.2Z" fill="#4acb84"/><path d="M387.8,231.8L389.1,231.4L386.7,227.5L385.3,228Z" fill="#3e6fff"/><path d="M407.4,223.1L408.8,221.9L406.3,219L405,220.4Z" fill="#2797eb"/><path d="M396.9,227.7L398.3,226.9L395.8,224.8L394.5,225.7Z" fill="#2e87f7"/><path d="M442.5,218L443.9,217.8L441.4,219.7L440.1,219Z" fill="#18addb"/><path d="M364.5,225.8L365.9,225.4L363.4,224L362.1,224.4Z" fill="#2d8cf3"/><path d="M394.3,231.7L395.6,229L393.1,227.2L391.8,230.5Z" fill="#3e6fff"/><path d="M408.8,221.9L410.1,218.1L407.7,216.7L406.3,219Z" fill="#259be8"/><path d="M453,214.7L454.4,214.3L451.9,211.4L450.6,212Z" fill="#08b5d0"/><path d="M392.9,232.2L394.3,231.7L391.8,230.5L390.5,230.9Z" fill="#3e6fff"/><path d="M371,225.9L372.3,225.4L369.9,224L368.5,224.5Z" fill="#2d8cf3"/><path d="M406.1,224.4L407.4,223.1L405,220.4L403.6,221.8Z" fill="#2b91ef"/><path d="M377.5,225.9L378.8,225.5L376.4,224.1L375,224.5Z" fill="#2d8cf3"/><path d="M395.6,229L396.9,227.7L394.5,225.7L393.1,227.2Z" fill="#2f81fa"/><path d="M459.5,213L460.9,212.5L458.4,212.9L457.1,213.4Z" fill="#02bac3"/><path d="M382.6,228.8L384,228.4L381.5,224.6L380.2,225Z" fill="#2f81fa"/><path d="M404.8,225.7L406.1,224.4L403.6,221.8L402.3,223.3Z" fill="#2d8cf3"/><path d="M451.7,215.2L453,214.7L450.6,212L449.2,215Z" fill="#08b5d0"/><path d="M403.4,226.9L404.8,225.7L402.3,223.3L401,224.8Z" fill="#2e87f7"/><path d="M386.4,232.2L387.8,231.8L385.3,228L384,228.4Z" fill="#3e6fff"/><path d="M450.4,215.7L451.7,215.2L449.2,215L447.9,216.5Z" fill="#08b5d0"/><path d="M410.1,218.1L411.5,214.6L409,214.6L407.7,216.7Z" fill="#18addb"/><path d="M428.5,207.3L429.8,212.5L427.3,211L426,205.8Z" fill="#37c897"/><path d="M391.6,232.6L392.9,232.2L390.5,230.9L389.1,231.4Z" fill="#3e6fff"/><path d="M369.7,226.3L371,225.9L368.5,224.5L367.2,224.9Z" fill="#2d8cf3"/><path d="M402.1,228.1L403.4,226.9L401,224.8L399.6,226.1Z" fill="#2e87f7"/><path d="M416.8,203.6L418.2,204.6L415.7,209.2L414.4,209Z" fill="#57cc7a"/><path d="M376.2,226.4L377.5,225.9L375,224.5L373.7,225Z" fill="#2d8cf3"/><path d="M441.2,218.3L442.5,218L440.1,219L438.7,218.7Z" fill="#18addb"/><path d="M424.6,200.5L426,205.8L423.5,208.1L422.2,205Z" fill="#81cc59"/><path d="M458.2,213.4L459.5,213L457.1,213.4L455.7,213.8Z" fill="#02bac3"/><path d="M381.3,229.2L382.6,228.8L380.2,225L378.8,225.5Z" fill="#2f81fa"/><path d="M411.5,214.6L412.8,211.4L410.3,213L409,214.6Z" fill="#01b8ca"/><path d="M434.7,218.2L436.1,219.1L433.6,218.7L432.3,215.7Z" fill="#18addb"/><path d="M449,216.1L450.4,215.7L447.9,216.5L446.6,217.2Z" fill="#08b5d0"/><path d="M400.7,228.8L402.1,228.1L399.6,226.1L398.3,226.9Z" fill="#2f81fa"/><path d="M385.1,232.6L386.4,232.2L384,228.4L382.6,228.8Z" fill="#3e6fff"/><path d="M412.8,211.4L414.1,208.2L411.7,211.4L410.3,213Z" fill="#19bfb6"/><path d="M409.9,225.5L411.3,224.4L408.8,221.9L407.4,223.1Z" fill="#2b91ef"/><path d="M390.2,233.1L391.6,232.6L389.1,231.4L387.8,231.8Z" fill="#3e6fff"/><path d="M368.3,226.8L369.7,226.3L367.2,224.9L365.9,225.4Z" fill="#2d8cf3"/><path d="M374.8,226.8L376.2,226.4L373.7,225L372.3,225.4Z" fill="#2d8cf3"/><path d="M415.5,205.1L416.8,203.6L414.4,209L413,209.9Z" fill="#4acb84"/><path d="M414.1,208.2L415.5,205.1L413,209.9L411.7,211.4Z" fill="#31c69f"/><path d="M456.9,213.9L458.2,213.4L455.7,213.8L454.4,214.3Z" fill="#02bac3"/><path d="M408.6,226.6L409.9,225.5L407.4,223.1L406.1,224.4Z" fill="#2d8cf3"/><path d="M439.9,218.6L441.2,218.3L438.7,218.7L437.4,218.8Z" fill="#18addb"/><path d="M399.4,229.5L400.7,228.8L398.3,226.9L396.9,227.7Z" fill="#2f81fa"/><path d="M380,229.5L381.3,229.2L378.8,225.5L377.5,225.9Z" fill="#2f81fa"/><path d="M447.7,216.6L449,216.1L446.6,217.2L445.2,217.6Z" fill="#08b5d0"/><path d="M411.3,224.4L412.6,219.2L410.1,218.1L408.8,221.9Z" fill="#2797eb"/><path d="M383.8,232.9L385.1,232.6L382.6,228.8L381.3,229.2Z" fill="#3e6fff"/><path d="M407.2,227.7L408.6,226.6L406.1,224.4L404.8,225.7Z" fill="#2d8cf3"/><path d="M430.9,212.7L432.3,215.7L429.8,212.5L428.5,207.3Z" fill="#0bbdbd"/><path d="M388.9,233.5L390.2,233.1L387.8,231.8L386.4,232.2Z" fill="#3e6fff"/><path d="M367,227.2L368.3,226.8L365.9,225.4L364.5,225.8Z" fill="#2d8cf3"/><path d="M396.7,232.9L398.1,230.7L395.6,229L394.3,231.7Z" fill="#3e6fff"/><path d="M398.1,230.7L399.4,229.5L396.9,227.7L395.6,229Z" fill="#327cfc"/><path d="M373.5,227.3L374.8,226.8L372.3,225.4L371,225.9Z" fill="#2d8cf3"/><path d="M395.4,233.4L396.7,232.9L394.3,231.7L392.9,232.2Z" fill="#3e6fff"/><path d="M455.5,214.3L456.9,213.9L454.4,214.3L453,214.7Z" fill="#02bac3"/><path d="M405.9,228.8L407.2,227.7L404.8,225.7L403.4,226.9Z" fill="#2e87f7"/><path d="M378.6,229.6L380,229.5L377.5,225.9L376.2,226.4Z" fill="#2f81fa"/><path d="M438.5,219L439.9,218.6L437.4,218.8L436.1,219.1Z" fill="#12b1d6"/><path d="M446.3,217L447.7,216.6L445.2,217.6L443.9,217.8Z" fill="#08b5d0"/><path d="M404.6,229.8L405.9,228.8L403.4,226.9L402.1,228.1Z" fill="#2f81fa"/><path d="M382.4,233L383.8,232.9L381.3,229.2L380,229.5Z" fill="#3875fe"/><path d="M387.6,233.9L388.9,233.5L386.4,232.2L385.1,232.6Z" fill="#3e6fff"/><path d="M372.1,227.7L373.5,227.3L371,225.9L369.7,226.3Z" fill="#2d8cf3"/><path d="M433.4,217.4L434.7,218.2L432.3,215.7L430.9,212.7Z" fill="#08b5d0"/><path d="M394.1,233.8L395.4,233.4L392.9,232.2L391.6,232.6Z" fill="#3e6fff"/><path d="M454.2,214.8L455.5,214.3L453,214.7L451.7,215.2Z" fill="#02bac3"/><path d="M412.4,227.4L413.7,226.4L411.3,224.4L409.9,225.5Z" fill="#2b91ef"/><path d="M403.2,230.4L404.6,229.8L402.1,228.1L400.7,228.8Z" fill="#2f81fa"/><path d="M462,213.1L463.3,212.7L460.9,212.5L459.5,213Z" fill="#19bfb6"/><path d="M412.6,219.2L413.9,214.1L411.5,214.6L410.1,218.1Z" fill="#18addb"/><path d="M445,217.4L446.3,217L443.9,217.8L442.5,218Z" fill="#08b5d0"/><path d="M377.3,229.4L378.6,229.6L376.2,226.4L374.8,226.8Z" fill="#2e87f7"/><path d="M437.2,219.2L438.5,219L436.1,219.1L434.7,218.2Z" fill="#12b1d6"/><path d="M411,228.4L412.4,227.4L409.9,225.5L408.6,226.6Z" fill="#2d8cf3"/><path d="M386.2,234.2L387.6,233.9L385.1,232.6L383.8,232.9Z" fill="#3e6fff"/><path d="M370.8,228.2L372.1,227.7L369.7,226.3L368.3,226.8Z" fill="#2d8cf3"/><path d="M423.3,196.8L424.6,200.5L422.2,205L420.8,202.8Z" fill="#c5c22a"/><path d="M381.1,232.7L382.4,233L380,229.5L378.6,229.6Z" fill="#3875fe"/><path d="M452.8,215.3L454.2,214.8L451.7,215.2L450.4,215.7Z" fill="#02bac3"/><path d="M392.7,234.3L394.1,233.8L391.6,232.6L390.2,233.1Z" fill="#3e6fff"/><path d="M401.9,231.1L403.2,230.4L400.7,228.8L399.4,229.5Z" fill="#2f81fa"/><path d="M413.7,226.4L415.1,221.3L412.6,219.2L411.3,224.4Z" fill="#2b91ef"/><path d="M460.7,213.6L462,213.1L459.5,213L458.2,213.4Z" fill="#19bfb6"/><path d="M409.7,229.3L411,228.4L408.6,226.6L407.2,227.7Z" fill="#2e87f7"/><path d="M443.7,217.8L445,217.4L442.5,218L441.2,218.3Z" fill="#08b5d0"/><path d="M375.9,229.3L377.3,229.4L374.8,226.8L373.5,227.3Z" fill="#2d8cf3"/><path d="M400.5,232.1L401.9,231.1L399.4,229.5L398.1,230.7Z" fill="#327cfc"/><path d="M427.1,202.1L428.5,207.3L426,205.8L424.6,200.5Z" fill="#81cc59"/><path d="M369.5,228.6L370.8,228.2L368.3,226.8L367,227.2Z" fill="#2d8cf3"/><path d="M408.4,230.2L409.7,229.3L407.2,227.7L405.9,228.8Z" fill="#2e87f7"/><path d="M399.2,233.9L400.5,232.1L398.1,230.7L396.7,232.9Z" fill="#3875fe"/><path d="M451.5,215.7L452.8,215.3L450.4,215.7L449,216.1Z" fill="#02bac3"/><path d="M391.4,234.7L392.7,234.3L390.2,233.1L388.9,233.5Z" fill="#3e6fff"/><path d="M384.9,234.3L386.2,234.2L383.8,232.9L382.4,233Z" fill="#3875fe"/><path d="M413.9,214.1L415.3,209.3L412.8,211.4L411.5,214.6Z" fill="#0bbdbd"/><path d="M435.8,219.3L437.2,219.2L434.7,218.2L433.4,217.4Z" fill="#12b1d6"/><path d="M459.3,214L460.7,213.6L458.2,213.4L456.9,213.9Z" fill="#19bfb6"/><path d="M397.9,234.3L399.2,233.9L396.7,232.9L395.4,233.4Z" fill="#3875fe"/><path d="M379.7,232L381.1,232.7L378.6,229.6L377.3,229.4Z" fill="#2f81fa"/><path d="M407,231.1L408.4,230.2L405.9,228.8L404.6,229.8Z" fill="#2e87f7"/><path d="M442.3,218.2L443.7,217.8L441.2,218.3L439.9,218.6Z" fill="#08b5d0"/><path d="M432,216.6L433.4,217.4L430.9,212.7L429.6,209.7Z" fill="#01b8ca"/><path d="M422,199L423.3,196.8L420.8,202.8L419.5,204.2Z" fill="#abc739"/><path d="M374.6,229.4L375.9,229.3L373.5,227.3L372.1,227.7Z" fill="#2d8cf3"/><path d="M450.2,216.2L451.5,215.7L449,216.1L447.7,216.6Z" fill="#02bac3"/><path d="M429.6,209.7L430.9,212.7L428.5,207.3L427.1,202.1Z" fill="#31c69f"/><path d="M390,235.1L391.4,234.7L388.9,233.5L387.6,233.9Z" fill="#3875fe"/><path d="M420.6,199.5L422,199L419.5,204.2L418.2,204.6Z" fill="#abc739"/><path d="M414.8,228.7L416.2,227.8L413.7,226.4L412.4,227.4Z" fill="#2b91ef"/><path d="M458,214.5L459.3,214L456.9,213.9L455.5,214.3Z" fill="#19bfb6"/><path d="M405.7,231.7L407,231.1L404.6,229.8L403.2,230.4Z" fill="#2f81fa"/><path d="M396.5,234.8L397.9,234.3L395.4,233.4L394.1,233.8Z" fill="#3875fe"/><path d="M383.5,234L384.9,234.3L382.4,233L381.1,232.7Z" fill="#327cfc"/><path d="M415.1,221.3L416.4,216.2L413.9,214.1L412.6,219.2Z" fill="#1ca9df"/><path d="M441,218.7L442.3,218.2L439.9,218.6L438.5,219Z" fill="#08b5d0"/><path d="M415.3,209.3L416.6,204.5L414.1,208.2L412.8,211.4Z" fill="#37c897"/><path d="M434.5,219.5L435.8,219.3L433.4,217.4L432,216.6Z" fill="#12b1d6"/><path d="M416.2,227.8L417.5,224.4L415.1,221.3L413.7,226.4Z" fill="#2b91ef"/><path d="M413.5,229.6L414.8,228.7L412.4,227.4L411,228.4Z" fill="#2d8cf3"/><path d="M373.3,229.7L374.6,229.4L372.1,227.7L370.8,228.2Z" fill="#2d8cf3"/><path d="M448.8,216.6L450.2,216.2L447.7,216.6L446.3,217Z" fill="#02bac3"/><path d="M464.5,214.1L465.8,213.6L463.3,212.7L462,213.1Z" fill="#19bfb6"/><path d="M388.7,235.4L390,235.1L387.6,233.9L386.2,234.2Z" fill="#3875fe"/><path d="M378.4,231.3L379.7,232L377.3,229.4L375.9,229.3Z" fill="#2e87f7"/><path d="M404.3,232.3L405.7,231.7L403.2,230.4L401.9,231.1Z" fill="#2f81fa"/><path d="M456.6,214.9L458,214.5L455.5,214.3L454.2,214.8Z" fill="#19bfb6"/><path d="M395.2,235.2L396.5,234.8L394.1,233.8L392.7,234.3Z" fill="#3875fe"/><path d="M412.2,230.4L413.5,229.6L411,228.4L409.7,229.3Z" fill="#2d8cf3"/><path d="M439.7,219.1L441,218.7L438.5,219L437.2,219.2Z" fill="#08b5d0"/><path d="M419.3,197.6L420.6,199.5L418.2,204.6L416.8,203.6Z" fill="#c5c22a"/><path d="M403,233.1L404.3,232.3L401.9,231.1L400.5,232.1Z" fill="#2f81fa"/><path d="M371.9,230.1L373.3,229.7L370.8,228.2L369.5,228.6Z" fill="#2d8cf3"/><path d="M447.5,217L448.8,216.6L446.3,217L445,217.4Z" fill="#02bac3"/><path d="M463.1,214.5L464.5,214.1L462,213.1L460.7,213.6Z" fill="#19bfb6"/><path d="M430.7,216.1L432,216.6L429.6,209.7L428.2,207.7Z" fill="#02bac3"/><path d="M382.2,233.3L383.5,234L381.1,232.7L379.7,232Z" fill="#2f81fa"/><path d="M410.8,231.2L412.2,230.4L409.7,229.3L408.4,230.2Z" fill="#2e87f7"/><path d="M433.2,219.8L434.5,219.5L432,216.6L430.7,216.1Z" fill="#08b5d0"/><path d="M455.3,215.4L456.6,214.9L454.2,214.8L452.8,215.3Z" fill="#19bfb6"/><path d="M387.4,235.5L388.7,235.4L386.2,234.2L384.9,234.3Z" fill="#3875fe"/><path d="M416.6,204.5L417.9,199.7L415.5,205.1L414.1,208.2Z" fill="#72cd64"/><path d="M401.7,234.5L403,233.1L400.5,232.1L399.2,233.9Z" fill="#327cfc"/><path d="M393.8,235.6L395.2,235.2L392.7,234.3L391.4,234.7Z" fill="#3875fe"/><path d="M417.5,224.4L418.9,220.9L416.4,216.2L415.1,221.3Z" fill="#23a0e5"/><path d="M377.1,231.1L378.4,231.3L375.9,229.3L374.6,229.4Z" fill="#2d8cf3"/><path d="M438.3,219.5L439.7,219.1L437.2,219.2L435.8,219.3Z" fill="#01b8ca"/><path d="M409.5,231.9L410.8,231.2L408.4,230.2L407,231.1Z" fill="#2e87f7"/><path d="M400.3,235L401.7,234.5L399.2,233.9L397.9,234.3Z" fill="#327cfc"/><path d="M416.4,216.2L417.7,211.3L415.3,209.3L413.9,214.1Z" fill="#02bac3"/><path d="M446.1,217.5L447.5,217L445,217.4L443.7,217.8Z" fill="#02bac3"/><path d="M461.8,215L463.1,214.5L460.7,213.6L459.3,214Z" fill="#19bfb6"/><path d="M417.9,199.7L419.3,197.6L416.8,203.6L415.5,205.1Z" fill="#abc739"/><path d="M454,215.8L455.3,215.4L452.8,215.3L451.5,215.7Z" fill="#19bfb6"/><path d="M431.8,220.4L433.2,219.8L430.7,216.1L429.4,217Z" fill="#12b1d6"/><path d="M425.8,198.5L427.1,202.1L424.6,200.5L423.3,196.8Z" fill="#b9c431"/><path d="M392.5,236L393.8,235.6L391.4,234.7L390,235.1Z" fill="#3875fe"/><path d="M429.4,217L430.7,216.1L428.2,207.7L426.9,209.3Z" fill="#02bac3"/><path d="M418.6,228.6L420,226.7L417.5,224.4L416.2,227.8Z" fill="#2797eb"/><path d="M417.3,229.4L418.6,228.6L416.2,227.8L414.8,228.7Z" fill="#2b91ef"/><path d="M386,235.2L387.4,235.5L384.9,234.3L383.5,234Z" fill="#327cfc"/><path d="M408.1,232.5L409.5,231.9L407,231.1L405.7,231.7Z" fill="#2e87f7"/><path d="M428.2,207.7L429.6,209.7L427.1,202.1L425.8,198.5Z" fill="#4acb84"/><path d="M437,219.9L438.3,219.5L435.8,219.3L434.5,219.5Z" fill="#01b8ca"/><path d="M399,235.4L400.3,235L397.9,234.3L396.5,234.8Z" fill="#327cfc"/><path d="M375.7,231.2L377.1,231.1L374.6,229.4L373.3,229.7Z" fill="#2d8cf3"/><path d="M380.9,232.6L382.2,233.3L379.7,232L378.4,231.3Z" fill="#2e87f7"/><path d="M444.8,217.9L446.1,217.5L443.7,217.8L442.3,218.2Z" fill="#02bac3"/><path d="M460.4,215.4L461.8,215L459.3,214L458,214.5Z" fill="#19bfb6"/><path d="M428,217.6L429.4,217L426.9,209.3L425.6,209.8Z" fill="#01b8ca"/><path d="M430.5,221L431.8,220.4L429.4,217L428,217.6Z" fill="#12b1d6"/><path d="M420,226.7L421.3,224.8L418.9,220.9L417.5,224.4Z" fill="#259be8"/><path d="M452.6,216.3L454,215.8L451.5,215.7L450.2,216.2Z" fill="#19bfb6"/><path d="M416,230.2L417.3,229.4L414.8,228.7L413.5,229.6Z" fill="#2b91ef"/><path d="M418.9,220.9L420.2,217.4L417.7,211.3L416.4,216.2Z" fill="#12b1d6"/><path d="M391.2,236.3L392.5,236L390,235.1L388.7,235.4Z" fill="#3875fe"/><path d="M406.8,233L408.1,232.5L405.7,231.7L404.3,232.3Z" fill="#2e87f7"/><path d="M421.3,224.8L422.7,222.8L420.2,217.4L418.9,220.9Z" fill="#20a5e3"/><path d="M397.6,235.9L399,235.4L396.5,234.8L395.2,235.2Z" fill="#327cfc"/><path d="M414.6,230.9L416,230.2L413.5,229.6L412.2,230.4Z" fill="#2b91ef"/><path d="M459.1,215.9L460.4,215.4L458,214.5L456.6,214.9Z" fill="#19bfb6"/><path d="M435.6,220.4L437,219.9L434.5,219.5L433.2,219.8Z" fill="#01b8ca"/><path d="M443.5,218.4L444.8,217.9L442.3,218.2L441,218.7Z" fill="#02bac3"/><path d="M374.4,231.5L375.7,231.2L373.3,229.7L371.9,230.1Z" fill="#2d8cf3"/><path d="M429.1,221.6L430.5,221L428,217.6L426.7,217.8Z" fill="#12b1d6"/><path d="M417.7,211.3L419.1,206.4L416.6,204.5L415.3,209.3Z" fill="#31c69f"/><path d="M451.3,216.7L452.6,216.3L450.2,216.2L448.8,216.6Z" fill="#19bfb6"/><path d="M424.4,200.7L425.8,198.5L423.3,196.8L422,199Z" fill="#9dc943"/><path d="M426.7,217.8L428,217.6L425.6,209.8L424.2,209Z" fill="#02bac3"/><path d="M384.7,234.5L386,235.2L383.5,234L382.2,233.3Z" fill="#2f81fa"/><path d="M405.5,233.7L406.8,233L404.3,232.3L403,233.1Z" fill="#2e87f7"/><path d="M422.7,222.8L424,220.8L421.5,214L420.2,217.4Z" fill="#18addb"/><path d="M426.9,209.3L428.2,207.7L425.8,198.5L424.4,200.7Z" fill="#3fca8e"/><path d="M423.1,201.3L424.4,200.7L422,199L420.6,199.5Z" fill="#9dc943"/><path d="M379.5,232.3L380.9,232.6L378.4,231.3L377.1,231.1Z" fill="#2d8cf3"/><path d="M389.8,236.4L391.2,236.3L388.7,235.4L387.4,235.5Z" fill="#327cfc"/><path d="M413.3,231.6L414.6,230.9L412.2,230.4L410.8,231.2Z" fill="#2b91ef"/><path d="M396.3,236.3L397.6,235.9L395.2,235.2L393.8,235.6Z" fill="#327cfc"/><path d="M425.6,209.8L426.9,209.3L424.4,200.7L423.1,201.3Z" fill="#37c897"/><path d="M427.8,222.5L429.1,221.6L426.7,217.8L425.3,218.9Z" fill="#12b1d6"/><path d="M457.8,216.3L459.1,215.9L456.6,214.9L455.3,215.4Z" fill="#19bfb6"/><path d="M434.3,220.8L435.6,220.4L433.2,219.8L431.8,220.4Z" fill="#01b8ca"/><path d="M442.1,218.8L443.5,218.4L441,218.7L439.7,219.1Z" fill="#02bac3"/><path d="M404.1,234.8L405.5,233.7L403,233.1L401.7,234.5Z" fill="#2f81fa"/><path d="M420.2,217.4L421.5,214L419.1,206.4L417.7,211.3Z" fill="#02bac3"/><path d="M424,220.8L425.3,218.9L422.9,210.6L421.5,214Z" fill="#12b1d6"/><path d="M449.9,217.2L451.3,216.7L448.8,216.6L447.5,217Z" fill="#19bfb6"/><path d="M425.3,218.9L426.7,217.8L424.2,209L422.9,210.6Z" fill="#01b8ca"/><path d="M426.5,223.7L427.8,222.5L425.3,218.9L424,220.8Z" fill="#18addb"/><path d="M425.1,225.1L426.5,223.7L424,220.8L422.7,222.8Z" fill="#1ca9df"/><path d="M423.8,226.4L425.1,225.1L422.7,222.8L421.3,224.8Z" fill="#20a5e3"/><path d="M411.9,232.2L413.3,231.6L410.8,231.2L409.5,231.9Z" fill="#2d8cf3"/><path d="M422.5,227.7L423.8,226.4L421.3,224.8L420,226.7Z" fill="#23a0e5"/><path d="M402.8,235.3L404.1,234.8L401.7,234.5L400.3,235Z" fill="#2f81fa"/><path d="M421.1,228.9L422.5,227.7L420,226.7L418.6,228.6Z" fill="#259be8"/><path d="M433,221.3L434.3,220.8L431.8,220.4L430.5,221Z" fill="#08b5d0"/><path d="M395,236.7L396.3,236.3L393.8,235.6L392.5,236Z" fill="#327cfc"/><path d="M456.4,216.8L457.8,216.3L455.3,215.4L454,215.8Z" fill="#19bfb6"/><path d="M440.8,219.3L442.1,218.8L439.7,219.1L438.3,219.5Z" fill="#02bac3"/><path d="M378.2,232.4L379.5,232.3L377.1,231.1L375.7,231.2Z" fill="#2d8cf3"/><path d="M388.5,236.1L389.8,236.4L387.4,235.5L386,235.2Z" fill="#327cfc"/><path d="M383.3,233.8L384.7,234.5L382.2,233.3L380.9,232.6Z" fill="#2e87f7"/><path d="M448.6,217.6L449.9,217.2L447.5,217L446.1,217.5Z" fill="#19bfb6"/><path d="M419.8,229.6L421.1,228.9L418.6,228.6L417.3,229.4Z" fill="#259be8"/><path d="M421.8,199.4L423.1,201.3L420.6,199.5L419.3,197.6Z" fill="#c5c22a"/><path d="M419.1,206.4L420.4,201.6L417.9,199.7L416.6,204.5Z" fill="#64cd6f"/><path d="M410.6,232.7L411.9,232.2L409.5,231.9L408.1,232.5Z" fill="#2d8cf3"/><path d="M424.2,209L425.6,209.8L423.1,201.3L421.8,199.4Z" fill="#4acb84"/><path d="M401.4,235.7L402.8,235.3L400.3,235L399,235.4Z" fill="#2f81fa"/><path d="M421.5,214L422.9,210.6L420.4,201.6L419.1,206.4Z" fill="#24c1ae"/><path d="M431.6,221.9L433,221.3L430.5,221L429.1,221.6Z" fill="#08b5d0"/><path d="M455.1,217.2L456.4,216.8L454,215.8L452.6,216.3Z" fill="#19bfb6"/><path d="M393.6,237L395,236.7L392.5,236L391.2,236.3Z" fill="#327cfc"/><path d="M439.4,219.7L440.8,219.3L438.3,219.5L437,219.9Z" fill="#02bac3"/><path d="M418.4,230.3L419.8,229.6L417.3,229.4L416,230.2Z" fill="#259be8"/><path d="M376.9,232.7L378.2,232.4L375.7,231.2L374.4,231.5Z" fill="#2d8cf3"/><path d="M447.3,218.1L448.6,217.6L446.1,217.5L444.8,217.9Z" fill="#19bfb6"/><path d="M409.3,233.2L410.6,232.7L408.1,232.5L406.8,233Z" fill="#2d8cf3"/><path d="M420.4,201.6L421.8,199.4L419.3,197.6L417.9,199.7Z" fill="#abc739"/><path d="M422.9,210.6L424.2,209L421.8,199.4L420.4,201.6Z" fill="#3fca8e"/><path d="M430.3,222.5L431.6,221.9L429.1,221.6L427.8,222.5Z" fill="#08b5d0"/><path d="M400.1,236.2L401.4,235.7L399,235.4L397.6,235.9Z" fill="#2f81fa"/><path d="M387.1,235.5L388.5,236.1L386,235.2L384.7,234.5Z" fill="#2e87f7"/><path d="M382,233.5L383.3,233.8L380.9,232.6L379.5,232.3Z" fill="#2d8cf3"/><path d="M417.1,231L418.4,230.3L416,230.2L414.6,230.9Z" fill="#2797eb"/><path d="M453.7,217.7L455.1,217.2L452.6,216.3L451.3,216.7Z" fill="#19bfb6"/><path d="M438.1,220.2L439.4,219.7L437,219.9L435.6,220.4Z" fill="#02bac3"/><path d="M392.3,237.1L393.6,237L391.2,236.3L389.8,236.4Z" fill="#327cfc"/><path d="M445.9,218.5L447.3,218.1L444.8,217.9L443.5,218.4Z" fill="#19bfb6"/><path d="M407.9,233.8L409.3,233.2L406.8,233L405.5,233.7Z" fill="#2d8cf3"/><path d="M428.9,223.1L430.3,222.5L427.8,222.5L426.5,223.7Z" fill="#08b5d0"/><path d="M398.8,236.6L400.1,236.2L397.6,235.9L396.3,236.3Z" fill="#2f81fa"/><path d="M415.8,231.5L417.1,231L414.6,230.9L413.3,231.6Z" fill="#2797eb"/><path d="M427.6,223.8L428.9,223.1L426.5,223.7L425.1,225.1Z" fill="#08b5d0"/><path d="M452.4,218.1L453.7,217.7L451.3,216.7L449.9,217.2Z" fill="#19bfb6"/><path d="M406.6,234.7L407.9,233.8L405.5,233.7L404.1,234.8Z" fill="#2d8cf3"/><path d="M436.8,220.6L438.1,220.2L435.6,220.4L434.3,220.8Z" fill="#02bac3"/><path d="M444.6,219L445.9,218.5L443.5,218.4L442.1,218.8Z" fill="#19bfb6"/><path d="M380.7,233.6L382,233.5L379.5,232.3L378.2,232.4Z" fill="#2b91ef"/><path d="M426.3,224.6L427.6,223.8L425.1,225.1L423.8,226.4Z" fill="#12b1d6"/><path d="M385.8,234.8L387.1,235.5L384.7,234.5L383.3,233.8Z" fill="#2d8cf3"/><path d="M390.9,236.8L392.3,237.1L389.8,236.4L388.5,236.1Z" fill="#2f81fa"/><path d="M414.4,232.1L415.8,231.5L413.3,231.6L411.9,232.2Z" fill="#2797eb"/><path d="M397.4,237L398.8,236.6L396.3,236.3L395,236.7Z" fill="#2f81fa"/><path d="M405.2,235.1L406.6,234.7L404.1,234.8L402.8,235.3Z" fill="#2d8cf3"/><path d="M451.1,218.6L452.4,218.1L449.9,217.2L448.6,217.6Z" fill="#19bfb6"/><path d="M435.4,221.1L436.8,220.6L434.3,220.8L433,221.3Z" fill="#02bac3"/><path d="M424.9,225.2L426.3,224.6L423.8,226.4L422.5,227.7Z" fill="#12b1d6"/><path d="M443.2,219.4L444.6,219L442.1,218.8L440.8,219.3Z" fill="#19bfb6"/><path d="M379.3,233.9L380.7,233.6L378.2,232.4L376.9,232.7Z" fill="#2b91ef"/><path d="M413.1,232.6L414.4,232.1L411.9,232.2L410.6,232.7Z" fill="#2797eb"/><path d="M423.6,225.9L424.9,225.2L422.5,227.7L421.1,228.9Z" fill="#12b1d6"/><path d="M403.9,235.6L405.2,235.1L402.8,235.3L401.4,235.7Z" fill="#2d8cf3"/><path d="M396.1,237.3L397.4,237L395,236.7L393.6,237Z" fill="#2f81fa"/><path d="M449.7,219L451.1,218.6L448.6,217.6L447.3,218.1Z" fill="#19bfb6"/><path d="M434.1,221.5L435.4,221.1L433,221.3L431.6,221.9Z" fill="#02bac3"/><path d="M441.9,219.9L443.2,219.4L440.8,219.3L439.4,219.7Z" fill="#19bfb6"/><path d="M384.5,234.5L385.8,234.8L383.3,233.8L382,233.5Z" fill="#2b91ef"/><path d="M389.6,236.1L390.9,236.8L388.5,236.1L387.1,235.5Z" fill="#2e87f7"/><path d="M411.7,233.1L413.1,232.6L410.6,232.7L409.3,233.2Z" fill="#2797eb"/><path d="M422.2,226.4L423.6,225.9L421.1,228.9L419.8,229.6Z" fill="#12b1d6"/><path d="M402.6,236L403.9,235.6L401.4,235.7L400.1,236.2Z" fill="#2d8cf3"/><path d="M432.7,222L434.1,221.5L431.6,221.9L430.3,222.5Z" fill="#02bac3"/><path d="M448.4,219.5L449.7,219L447.3,218.1L445.9,218.5Z" fill="#19bfb6"/><path d="M394.7,237.4L396.1,237.3L393.6,237L392.3,237.1Z" fill="#2e87f7"/><path d="M440.6,220.3L441.9,219.9L439.4,219.7L438.1,220.2Z" fill="#19bfb6"/><path d="M420.9,227L422.2,226.4L419.8,229.6L418.4,230.3Z" fill="#12b1d6"/><path d="M410.4,233.6L411.7,233.1L409.3,233.2L407.9,233.8Z" fill="#2797eb"/><path d="M383.1,234.6L384.5,234.5L382,233.5L380.7,233.6Z" fill="#2b91ef"/><path d="M401.2,236.5L402.6,236L400.1,236.2L398.8,236.6Z" fill="#2d8cf3"/><path d="M431.4,222.4L432.7,222L430.3,222.5L428.9,223.1Z" fill="#02bac3"/><path d="M447,219.9L448.4,219.5L445.9,218.5L444.6,219Z" fill="#19bfb6"/><path d="M388.3,235.4L389.6,236.1L387.1,235.5L385.8,234.8Z" fill="#2b91ef"/><path d="M439.2,220.8L440.6,220.3L438.1,220.2L436.8,220.6Z" fill="#19bfb6"/><path d="M419.6,227.5L420.9,227L418.4,230.3L417.1,231Z" fill="#12b1d6"/><path d="M409.1,234.2L410.4,233.6L407.9,233.8L406.6,234.7Z" fill="#2797eb"/><path d="M393.4,237.1L394.7,237.4L392.3,237.1L390.9,236.8Z" fill="#2e87f7"/><path d="M430.1,222.9L431.4,222.4L428.9,223.1L427.6,223.8Z" fill="#02bac3"/><path d="M381.8,234.9L383.1,234.6L380.7,233.6L379.3,233.9Z" fill="#2b91ef"/><path d="M399.9,236.9L401.2,236.5L398.8,236.6L397.4,237Z" fill="#2d8cf3"/><path d="M445.7,220.4L447,219.9L444.6,219L443.2,219.4Z" fill="#19bfb6"/><path d="M407.7,234.7L409.1,234.2L406.6,234.7L405.2,235.1Z" fill="#2797eb"/><path d="M437.9,221.2L439.2,220.8L436.8,220.6L435.4,221.1Z" fill="#19bfb6"/><path d="M418.2,228L419.6,227.5L417.1,231L415.8,231.5Z" fill="#12b1d6"/><path d="M428.7,223.3L430.1,222.9L427.6,223.8L426.3,224.6Z" fill="#02bac3"/><path d="M386.9,235.1L388.3,235.4L385.8,234.8L384.5,234.5Z" fill="#2b91ef"/><path d="M398.6,237.2L399.9,236.9L397.4,237L396.1,237.3Z" fill="#2d8cf3"/><path d="M444.4,220.8L445.7,220.4L443.2,219.4L441.9,219.9Z" fill="#19bfb6"/><path d="M392.1,236.4L393.4,237.1L390.9,236.8L389.6,236.1Z" fill="#2b91ef"/><path d="M416.9,228.4L418.2,228L415.8,231.5L414.4,232.1Z" fill="#12b1d6"/><path d="M406.4,235.1L407.7,234.7L405.2,235.1L403.9,235.6Z" fill="#2797eb"/><path d="M436.5,221.7L437.9,221.2L435.4,221.1L434.1,221.5Z" fill="#19bfb6"/><path d="M427.4,223.8L428.7,223.3L426.3,224.6L424.9,225.2Z" fill="#02bac3"/><path d="M443,221.3L444.4,220.8L441.9,219.9L440.6,220.3Z" fill="#19bfb6"/><path d="M397.2,237.3L398.6,237.2L396.1,237.3L394.7,237.4Z" fill="#2d8cf3"/><path d="M415.5,228.9L416.9,228.4L414.4,232.1L413.1,232.6Z" fill="#12b1d6"/><path d="M435.2,222.1L436.5,221.7L434.1,221.5L432.7,222Z" fill="#19bfb6"/><path d="M405,235.6L406.4,235.1L403.9,235.6L402.6,236Z" fill="#2797eb"/><path d="M385.6,235.2L386.9,235.1L384.5,234.5L383.1,234.6Z" fill="#2797eb"/><path d="M426,224.2L427.4,223.8L424.9,225.2L423.6,225.9Z" fill="#02bac3"/><path d="M390.7,235.7L392.1,236.4L389.6,236.1L388.3,235.4Z" fill="#2797eb"/><path d="M441.7,221.7L443,221.3L440.6,220.3L439.2,220.8Z" fill="#19bfb6"/><path d="M414.2,229.4L415.5,228.9L413.1,232.6L411.7,233.1Z" fill="#12b1d6"/><path d="M433.9,222.6L435.2,222.1L432.7,222L431.4,222.4Z" fill="#19bfb6"/><path d="M403.7,236L405,235.6L402.6,236L401.2,236.5Z" fill="#2797eb"/><path d="M384.2,235.5L385.6,235.2L383.1,234.6L381.8,234.9Z" fill="#2797eb"/><path d="M424.7,224.7L426,224.2L423.6,225.9L422.2,226.4Z" fill="#02bac3"/><path d="M395.9,237L397.2,237.3L394.7,237.4L393.4,237.1Z" fill="#2b91ef"/><path d="M440.3,222.2L441.7,221.7L439.2,220.8L437.9,221.2Z" fill="#19bfb6"/><path d="M412.9,229.8L414.2,229.4L411.7,233.1L410.4,233.6Z" fill="#12b1d6"/><path d="M432.5,223L433.9,222.6L431.4,222.4L430.1,222.9Z" fill="#19bfb6"/><path d="M402.4,236.4L403.7,236L401.2,236.5L399.9,236.9Z" fill="#2797eb"/><path d="M423.4,225.1L424.7,224.7L422.2,226.4L420.9,227Z" fill="#02bac3"/><path d="M389.4,235.4L390.7,235.7L388.3,235.4L386.9,235.1Z" fill="#259be8"/><path d="M439,222.6L440.3,222.2L437.9,221.2L436.5,221.7Z" fill="#19bfb6"/><path d="M411.5,230.3L412.9,229.8L410.4,233.6L409.1,234.2Z" fill="#18addb"/><path d="M431.2,223.5L432.5,223L430.1,222.9L428.7,223.3Z" fill="#19bfb6"/><path d="M394.5,236.3L395.9,237L393.4,237.1L392.1,236.4Z" fill="#2797eb"/><path d="M401,236.7L402.4,236.4L399.9,236.9L398.6,237.2Z" fill="#2797eb"/><path d="M422,225.6L423.4,225.1L420.9,227L419.6,227.5Z" fill="#02bac3"/><path d="M437.7,223.1L439,222.6L436.5,221.7L435.2,222.1Z" fill="#19bfb6"/><path d="M410.2,230.8L411.5,230.3L409.1,234.2L407.7,234.7Z" fill="#18addb"/><path d="M388,235.5L389.4,235.4L386.9,235.1L385.6,235.2Z" fill="#259be8"/><path d="M429.8,223.9L431.2,223.5L428.7,223.3L427.4,223.8Z" fill="#19bfb6"/><path d="M420.7,226L422,225.6L419.6,227.5L418.2,228Z" fill="#02bac3"/><path d="M399.7,236.8L401,236.7L398.6,237.2L397.2,237.3Z" fill="#2797eb"/><path d="M436.3,223.5L437.7,223.1L435.2,222.1L433.9,222.6Z" fill="#19bfb6"/><path d="M408.8,231.2L410.2,230.8L407.7,234.7L406.4,235.1Z" fill="#18addb"/><path d="M393.2,235.6L394.5,236.3L392.1,236.4L390.7,235.7Z" fill="#23a0e5"/><path d="M428.5,224.4L429.8,223.9L427.4,223.8L426,224.2Z" fill="#19bfb6"/><path d="M386.7,235.8L388,235.5L385.6,235.2L384.2,235.5Z" fill="#259be8"/><path d="M419.3,226.5L420.7,226L418.2,228L416.9,228.4Z" fill="#02bac3"/><path d="M398.3,236.5L399.7,236.8L397.2,237.3L395.9,237Z" fill="#259be8"/><path d="M435,224L436.3,223.5L433.9,222.6L432.5,223Z" fill="#19bfb6"/><path d="M407.5,231.7L408.8,231.2L406.4,235.1L405,235.6Z" fill="#18addb"/><path d="M427.2,224.8L428.5,224.4L426,224.2L424.7,224.7Z" fill="#19bfb6"/><path d="M418,226.9L419.3,226.5L416.9,228.4L415.5,228.9Z" fill="#02bac3"/><path d="M391.9,235.3L393.2,235.6L390.7,235.7L389.4,235.4Z" fill="#23a0e5"/><path d="M433.6,224.4L435,224L432.5,223L431.2,223.5Z" fill="#19bfb6"/><path d="M406.2,232.1L407.5,231.7L405,235.6L403.7,236Z" fill="#12b1d6"/><path d="M425.8,225.3L427.2,224.8L424.7,224.7L423.4,225.1Z" fill="#19bfb6"/><path d="M416.7,227.4L418,226.9L415.5,228.9L414.2,229.4Z" fill="#02bac3"/><path d="M397,235.8L398.3,236.5L395.9,237L394.5,236.3Z" fill="#23a0e5"/><path d="M432.3,224.9L433.6,224.4L431.2,223.5L429.8,223.9Z" fill="#19bfb6"/><path d="M404.8,232.6L406.2,232.1L403.7,236L402.4,236.4Z" fill="#12b1d6"/><path d="M390.5,235.4L391.9,235.3L389.4,235.4L388,235.5Z" fill="#20a5e3"/><path d="M424.5,225.7L425.8,225.3L423.4,225.1L422,225.6Z" fill="#19bfb6"/><path d="M415.3,227.8L416.7,227.4L414.2,229.4L412.9,229.8Z" fill="#02bac3"/><path d="M431,225.3L432.3,224.9L429.8,223.9L428.5,224.4Z" fill="#19bfb6"/><path d="M403.5,233L404.8,232.6L402.4,236.4L401,236.7Z" fill="#12b1d6"/><path d="M423.1,226.2L424.5,225.7L422,225.6L420.7,226Z" fill="#19bfb6"/><path d="M414,228.3L415.3,227.8L412.9,229.8L411.5,230.3Z" fill="#02bac3"/><path d="M389.2,235.7L390.5,235.4L388,235.5L386.7,235.8Z" fill="#20a5e3"/><path d="M395.7,235.1L397,235.8L394.5,236.3L393.2,235.6Z" fill="#1ca9df"/><path d="M429.6,225.8L431,225.3L428.5,224.4L427.2,224.8Z" fill="#19bfb6"/><path d="M402.1,233.3L403.5,233L401,236.7L399.7,236.8Z" fill="#12b1d6"/><path d="M421.8,226.6L423.1,226.2L420.7,226L419.3,226.5Z" fill="#19bfb6"/><path d="M412.6,228.7L414,228.3L411.5,230.3L410.2,230.8Z" fill="#02bac3"/><path d="M428.3,226.2L429.6,225.8L427.2,224.8L425.8,225.3Z" fill="#19bfb6"/><path d="M394.3,234.8L395.7,235.1L393.2,235.6L391.9,235.3Z" fill="#1ca9df"/><path d="M420.5,227.1L421.8,226.6L419.3,226.5L418,226.9Z" fill="#19bfb6"/><path d="M411.3,229.2L412.6,228.7L410.2,230.8L408.8,231.2Z" fill="#02bac3"/><path d="M400.8,233.5L402.1,233.3L399.7,236.8L398.3,236.5Z" fill="#12b1d6"/><path d="M427,226.7L428.3,226.2L425.8,225.3L424.5,225.7Z" fill="#19bfb6"/><path d="M419.1,227.5L420.5,227.1L418,226.9L416.7,227.4Z" fill="#19bfb6"/><path d="M410,229.6L411.3,229.2L408.8,231.2L407.5,231.7Z" fill="#02bac3"/><path d="M393,234.9L394.3,234.8L391.9,235.3L390.5,235.4Z" fill="#18addb"/><path d="M399.5,233.6L400.8,233.5L398.3,236.5L397,235.8Z" fill="#12b1d6"/><path d="M425.6,227.1L427,226.7L424.5,225.7L423.1,226.2Z" fill="#19bfb6"/><path d="M417.8,228L419.1,227.5L416.7,227.4L415.3,227.8Z" fill="#19bfb6"/><path d="M408.6,230.1L410,229.6L407.5,231.7L406.2,232.1Z" fill="#02bac3"/><path d="M391.6,235.2L393,234.9L390.5,235.4L389.2,235.7Z" fill="#18addb"/><path d="M424.3,227.6L425.6,227.1L423.1,226.2L421.8,226.6Z" fill="#19bfb6"/><path d="M416.4,228.4L417.8,228L415.3,227.8L414,228.3Z" fill="#19bfb6"/><path d="M407.3,230.5L408.6,230.1L406.2,232.1L404.8,232.6Z" fill="#02bac3"/><path d="M398.1,233.6L399.5,233.6L397,235.8L395.7,235.1Z" fill="#08b5d0"/><path d="M422.9,228L424.3,227.6L421.8,226.6L420.5,227.1Z" fill="#19bfb6"/><path d="M415.1,228.9L416.4,228.4L414,228.3L412.6,228.7Z" fill="#19bfb6"/><path d="M405.9,231L407.3,230.5L404.8,232.6L403.5,233Z" fill="#02bac3"/><path d="M396.8,233.8L398.1,233.6L395.7,235.1L394.3,234.8Z" fill="#08b5d0"/><path d="M421.6,228.5L422.9,228L420.5,227.1L419.1,227.5Z" fill="#19bfb6"/><path d="M413.8,229.3L415.1,228.9L412.6,228.7L411.3,229.2Z" fill="#19bfb6"/><path d="M404.6,231.4L405.9,231L403.5,233L402.1,233.3Z" fill="#02bac3"/><path d="M420.3,228.9L421.6,228.5L419.1,227.5L417.8,228Z" fill="#19bfb6"/><path d="M395.4,234.2L396.8,233.8L394.3,234.8L393,234.9Z" fill="#08b5d0"/><path d="M412.4,229.8L413.8,229.3L411.3,229.2L410,229.6Z" fill="#19bfb6"/><path d="M403.3,231.9L404.6,231.4L402.1,233.3L400.8,233.5Z" fill="#02bac3"/><path d="M418.9,229.4L420.3,228.9L417.8,228L416.4,228.4Z" fill="#19bfb6"/><path d="M411.1,230.2L412.4,229.8L410,229.6L408.6,230.1Z" fill="#19bfb6"/><path d="M394.1,234.6L395.4,234.2L393,234.9L391.6,235.2Z" fill="#08b5d0"/><path d="M401.9,232.3L403.3,231.9L400.8,233.5L399.5,233.6Z" fill="#02bac3"/><path d="M417.6,229.8L418.9,229.4L416.4,228.4L415.1,228.9Z" fill="#19bfb6"/><path d="M409.8,230.7L411.1,230.2L408.6,230.1L407.3,230.5Z" fill="#19bfb6"/><path d="M400.6,232.8L401.9,232.3L399.5,233.6L398.1,233.6Z" fill="#02bac3"/><path d="M416.2,230.3L417.6,229.8L415.1,228.9L413.8,229.3Z" fill="#19bfb6"/><path d="M408.4,231.1L409.8,230.7L407.3,230.5L405.9,231Z" fill="#19bfb6"/><path d="M399.2,233.2L400.6,232.8L398.1,233.6L396.8,233.8Z" fill="#02bac3"/><path d="M414.9,230.7L416.2,230.3L413.8,229.3L412.4,229.8Z" fill="#19bfb6"/><path d="M407.1,231.6L408.4,231.1L405.9,231L404.6,231.4Z" fill="#19bfb6"/><path d="M397.9,233.7L399.2,233.2L396.8,233.8L395.4,234.2Z" fill="#02bac3"/><path d="M413.6,231.2L414.9,230.7L412.4,229.8L411.1,230.2Z" fill="#19bfb6"/><path d="M405.7,232L407.1,231.6L404.6,231.4L403.3,231.9Z" fill="#19bfb6"/><path d="M396.6,234.1L397.9,233.7L395.4,234.2L394.1,234.6Z" fill="#02bac3"/><path d="M412.2,231.6L413.6,231.2L411.1,230.2L409.8,230.7Z" fill="#19bfb6"/><path d="M404.4,232.5L405.7,232L403.3,231.9L401.9,232.3Z" fill="#19bfb6"/><path d="M410.9,232.1L412.2,231.6L409.8,230.7L408.4,231.1Z" fill="#19bfb6"/><path d="M403.1,232.9L404.4,232.5L401.9,232.3L400.6,232.8Z" fill="#19bfb6"/><path d="M409.5,232.5L410.9,232.1L408.4,231.1L407.1,231.6Z" fill="#19bfb6"/><path d="M401.7,233.4L403.1,232.9L400.6,232.8L399.2,233.2Z" fill="#19bfb6"/><path d="M408.2,233L409.5,232.5L407.1,231.6L405.7,232Z" fill="#19bfb6"/><path d="M400.4,233.8L401.7,233.4L399.2,233.2L397.9,233.7Z" fill="#19bfb6"/><path d="M406.9,233.4L408.2,233L405.7,232L404.4,232.5Z" fill="#19bfb6"/><path d="M399,234.3L400.4,233.8L397.9,233.7L396.6,234.1Z" fill="#19bfb6"/><path d="M405.5,233.9L406.9,233.4L404.4,232.5L403.1,232.9Z" fill="#19bfb6"/><path d="M404.2,234.3L405.5,233.9L403.1,232.9L401.7,233.4Z" fill="#19bfb6"/><path d="M402.8,234.8L404.2,234.3L401.7,233.4L400.4,233.8Z" fill="#19bfb6"/><path d="M401.5,235.2L402.8,234.8L400.4,233.8L399,234.3Z" fill="#19bfb6"/></g>
<g font-family="Liberation Sans, Arial, sans-serif" stroke="#262626" stroke-width="0.14" font-size="6.3" fill="#262626"><text x="405.5" y="273.8">0</text><text x="432.3" y="264.8">10</text><text x="459.1" y="255.8">20</text></g>
<g font-family="Liberation Sans, Arial, sans-serif" stroke="#262626" stroke-width="0.14" font-size="6.3" fill="#262626" text-anchor="end"><text x="397.3" y="273.3">0</text><text x="372.7" y="259.2">10</text><text x="348" y="245.1">20</text><text x="349.2" y="238.1">0.98</text><text x="349.2" y="225.7">1</text><text x="349.2" y="213.4">1.02</text><text x="349.2" y="201">1.04</text><text x="349.2" y="188.7">1.06</text><text x="349.2" y="176.3">1.08</text></g>
<text font-family="Liberation Sans, Arial, sans-serif" stroke="#262626" stroke-width="0.14" font-size="6.4" fill="#262626" text-anchor="middle" x="365.3" y="274.6">Node</text>
<text font-family="Liberation Sans, Arial, sans-serif" stroke="#262626" stroke-width="0.14" font-size="6.4" fill="#262626" text-anchor="middle" x="438.1" y="276.3">t/h</text>
<text font-family="Liberation Sans, Arial, sans-serif" stroke="#262626" stroke-width="0.14" font-size="6.4" fill="#262626" text-anchor="middle" transform="translate(331.1,207.3) rotate(-90)" y="2.3">Voltage/p.u.</text>
<text font-family="Liberation Sans, Arial, sans-serif" stroke="#262626" stroke-width="0.14" font-size="6.55" fill="#222" text-anchor="middle" x="409.2" y="152.8">Node voltage profiles in scenario5</text>
<defs><linearGradient id="g4" x1="0" y1="0" x2="0" y2="1"><stop offset="0%" stop-color="#f9fb15"/><stop offset="4.8%" stop-color="#f5e924"/><stop offset="9.5%" stop-color="#fad62d"/><stop offset="14.3%" stop-color="#fec338"/><stop offset="19%" stop-color="#f0ba36"/><stop offset="23.8%" stop-color="#d1bf27"/><stop offset="28.6%" stop-color="#abc739"/><stop offset="33.3%" stop-color="#81cc59"/><stop offset="38.1%" stop-color="#57cc7a"/><stop offset="42.9%" stop-color="#37c897"/><stop offset="47.6%" stop-color="#24c1ae"/><stop offset="52.4%" stop-color="#02bac3"/><stop offset="57.1%" stop-color="#12b1d6"/><stop offset="61.9%" stop-color="#20a5e3"/><stop offset="66.7%" stop-color="#2797eb"/><stop offset="71.4%" stop-color="#2e87f7"/><stop offset="76.2%" stop-color="#3875fe"/><stop offset="81%" stop-color="#4563fd"/><stop offset="85.7%" stop-color="#4852f4"/><stop offset="90.5%" stop-color="#4741e5"/><stop offset="95.2%" stop-color="#4332cb"/><stop offset="100%" stop-color="#3e26a8"/><stop offset="100%" stop-color="#3e26a8"/></linearGradient></defs>
<rect x="478.2" y="154.5" width="7.5" height="110.4" fill="url(#g4)" stroke="#b0b0b0" stroke-width="0.4"/>
<path d="M484.4,242.3h1.3M484.4,218.6h1.3M484.4,194.9h1.3M484.4,171.2h1.3" stroke="#555" stroke-width="0.45" stroke-opacity="0.6"/>
<g font-family="Liberation Sans, Arial, sans-serif" stroke="#262626" stroke-width="0.14" font-size="6.3" fill="#262626"><text x="488.5" y="244.4">1</text><text x="488.5" y="220.7">1.02</text><text x="488.5" y="197">1.04</text><text x="488.5" y="173.3">1.06</text></g>
</svg></body></html>
